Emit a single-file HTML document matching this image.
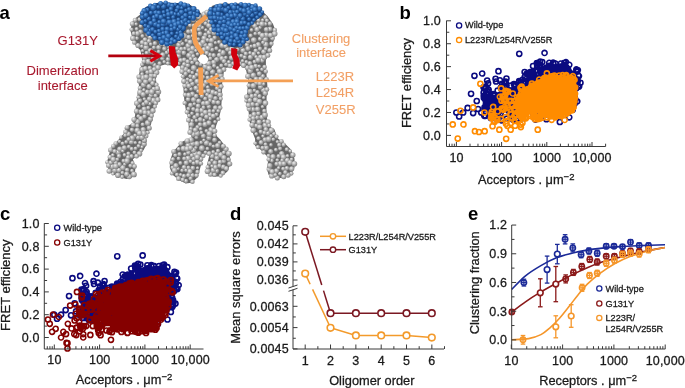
<!DOCTYPE html>
<html><head><meta charset="utf-8"><title>Figure</title>
<style>html,body{margin:0;padding:0;background:#fff;}svg{display:block;}</style>
</head><body>
<svg width="685" height="388" viewBox="0 0 685 388" font-family='"Liberation Sans", Arial, Helvetica, sans-serif'>
<rect width="685" height="388" fill="#fff"/>
<defs>
<radialGradient id="gG" cx="0.4" cy="0.35" r="0.7"><stop offset="0" stop-color="#f0f0f0"/><stop offset="0.5" stop-color="#b0b0b0"/><stop offset="1" stop-color="#767676"/></radialGradient>
<radialGradient id="gB" cx="0.4" cy="0.35" r="0.7"><stop offset="0" stop-color="#69a4e6"/><stop offset="0.5" stop-color="#2c68b0"/><stop offset="1" stop-color="#173f7a"/></radialGradient>
<filter id="soft" x="90" y="-5" width="220" height="200" filterUnits="userSpaceOnUse"><feGaussianBlur stdDeviation="0.5"/></filter>
</defs>
<g filter="url(#soft)">
<path d="M141.5 13.6 L146.1 9.2 L150.7 5.5 L160.1 3.6 L189.5 4.6 L197.0 9.3 L203.0 15.3 L208.1 10.1 L212.8 5.5 L222.1 3.6 L249.6 3.9 L261.8 10.6 L267.8 16.5 L273.0 23.9 L275.1 29.6 L274.4 38.3 L272.1 45.9 L269.0 53.4 L265.9 59.6 L265.9 66.5 L244.7 67.7 L242.7 66.5 L239.3 65.4 L234.9 65.2 L230.5 66.0 L227.2 67.7 L205.0 68.4 L197.6 68.4 L182.3 76.1 L180.3 66.5 L176.2 64.9 L171.1 65.4 L164.9 64.4 L158.8 66.2 L157.3 70.0 L142.5 64.8 L142.1 59.8 L140.4 50.2 L135.6 45.5 L132.7 39.6 L130.5 30.8 L131.9 22.3 L135.4 18.2 Z" fill="#666666"/>
<path d="M142.2 61.7 L139.7 70.9 L138.2 78.3 L139.0 86.0 L137.4 95.4 L135.9 106.2 L135.1 115.3 L133.1 123.1 L126.8 126.4 L124.5 128.1 L125.9 131.3 L118.2 139.9 L110.7 149.0 L108.5 156.3 L107.0 162.2 L108.5 170.6 L113.2 174.6 L119.0 176.8 L126.3 178.9 L131.6 177.7 L134.8 173.9 L135.5 166.9 L132.9 159.3 L137.6 155.5 L143.5 150.3 L145.5 146.3 L144.8 140.2 L148.0 133.7 L149.5 127.6 L151.0 124.5 L152.5 116.6 L155.0 107.4 L158.3 100.8 L159.8 95.2 L157.4 87.9 L155.9 79.8 L156.6 71.6 L160.9 63.2 L162.9 62.7 Z" fill="#666666"/>
<path d="M179.9 61.6 L180.5 67.4 L182.8 78.3 L183.6 90.8 L184.3 100.0 L185.9 110.6 L188.1 117.7 L188.7 125.7 L188.7 130.9 L192.0 137.5 L182.6 141.6 L177.5 146.8 L173.1 151.9 L170.6 158.7 L169.7 167.2 L172.2 174.6 L179.0 180.1 L185.6 183.4 L191.8 182.8 L197.4 177.6 L200.0 168.8 L202.0 161.6 L203.7 155.1 L209.7 153.9 L207.6 162.4 L206.1 169.2 L206.9 173.5 L212.8 176.6 L220.9 176.6 L227.3 171.8 L230.6 163.6 L229.7 155.2 L225.4 146.5 L220.2 139.6 L214.2 133.6 L216.3 125.3 L219.0 118.1 L220.5 111.7 L221.3 106.2 L222.0 95.4 L222.2 83.1 L223.9 71.7 L226.5 61.6 Z" fill="#666666"/>
<path d="M243.6 64.4 L245.8 68.8 L248.2 80.0 L247.4 91.1 L245.9 100.2 L246.6 104.6 L248.4 109.6 L249.3 119.5 L251.2 128.9 L255.1 138.7 L255.1 145.9 L260.4 149.4 L268.8 157.9 L266.8 168.1 L268.5 174.7 L275.2 178.1 L284.1 178.1 L291.1 174.6 L294.5 167.7 L294.5 158.7 L290.9 149.6 L285.4 144.1 L277.3 138.1 L274.5 129.5 L269.7 126.6 L266.9 118.0 L266.4 110.0 L266.6 97.0 L267.4 86.3 L266.6 75.6 L265.9 68.2 L262.0 61.7 Z" fill="#666666"/>
<g fill="url(#gG)"><circle cx="190.5" cy="105.2" r="2.5"/><circle cx="201.6" cy="110.4" r="2.6"/><circle cx="226.0" cy="149.1" r="2.7"/><circle cx="118.1" cy="152.2" r="2.8"/><circle cx="138.0" cy="45.5" r="2.6"/><circle cx="188.1" cy="158.4" r="2.8"/><circle cx="203.8" cy="120.4" r="1.8"/><circle cx="200.0" cy="124.5" r="2.3"/><circle cx="191.5" cy="52.3" r="2.8"/><circle cx="268.0" cy="133.1" r="2.5"/><circle cx="253.3" cy="75.3" r="2.8"/><circle cx="291.6" cy="159.3" r="1.9"/><circle cx="255.7" cy="50.7" r="2.3"/><circle cx="259.4" cy="33.4" r="2.1"/><circle cx="211.9" cy="84.1" r="2.4"/><circle cx="138.1" cy="137.6" r="2.4"/><circle cx="142.6" cy="50.7" r="1.8"/><circle cx="142.1" cy="74.1" r="2.0"/><circle cx="254.5" cy="61.8" r="2.1"/><circle cx="148.6" cy="113.0" r="2.8"/><circle cx="214.9" cy="162.9" r="2.6"/><circle cx="136.6" cy="29.0" r="2.0"/><circle cx="281.7" cy="153.7" r="2.7"/><circle cx="147.7" cy="132.5" r="2.0"/><circle cx="219.3" cy="55.2" r="2.5"/><circle cx="135.1" cy="135.4" r="1.9"/><circle cx="211.9" cy="160.3" r="1.8"/><circle cx="222.9" cy="52.7" r="2.8"/><circle cx="172.4" cy="167.5" r="2.0"/><circle cx="196.4" cy="137.3" r="2.0"/><circle cx="280.2" cy="163.8" r="2.9"/><circle cx="183.4" cy="148.6" r="2.8"/><circle cx="216.5" cy="114.5" r="2.1"/><circle cx="196.2" cy="43.3" r="2.9"/><circle cx="222.9" cy="173.0" r="2.4"/><circle cx="140.5" cy="31.9" r="2.5"/><circle cx="188.4" cy="167.6" r="2.0"/><circle cx="139.7" cy="81.0" r="2.8"/><circle cx="216.6" cy="59.5" r="2.6"/><circle cx="142.8" cy="77.8" r="2.9"/><circle cx="265.9" cy="44.6" r="2.8"/><circle cx="195.0" cy="33.6" r="2.1"/><circle cx="154.5" cy="65.0" r="2.2"/><circle cx="178.7" cy="148.9" r="2.0"/><circle cx="275.9" cy="149.8" r="2.0"/><circle cx="207.4" cy="148.7" r="1.9"/><circle cx="210.1" cy="144.4" r="2.1"/><circle cx="203.3" cy="136.0" r="2.5"/><circle cx="144.3" cy="99.0" r="1.8"/><circle cx="269.1" cy="169.3" r="2.5"/><circle cx="214.6" cy="37.8" r="2.2"/><circle cx="207.2" cy="94.6" r="2.1"/><circle cx="212.6" cy="92.3" r="2.7"/><circle cx="207.7" cy="77.8" r="2.3"/><circle cx="291.4" cy="173.6" r="2.1"/><circle cx="153.8" cy="89.0" r="2.3"/><circle cx="195.3" cy="59.6" r="2.6"/><circle cx="138.3" cy="116.2" r="1.9"/><circle cx="237.4" cy="60.6" r="2.9"/><circle cx="121.0" cy="137.4" r="1.8"/><circle cx="150.1" cy="37.2" r="2.6"/><circle cx="206.1" cy="82.1" r="2.7"/><circle cx="205.9" cy="30.0" r="1.8"/><circle cx="140.9" cy="118.7" r="2.7"/><circle cx="271.4" cy="43.7" r="2.2"/><circle cx="266.4" cy="79.3" r="2.4"/><circle cx="258.0" cy="23.7" r="1.8"/><circle cx="201.1" cy="142.5" r="1.9"/><circle cx="200.6" cy="128.9" r="2.0"/><circle cx="210.3" cy="96.8" r="2.9"/><circle cx="136.9" cy="38.3" r="2.0"/><circle cx="192.4" cy="143.8" r="2.6"/><circle cx="247.9" cy="76.2" r="2.8"/><circle cx="219.9" cy="94.8" r="2.8"/><circle cx="262.9" cy="76.3" r="2.2"/><circle cx="233.2" cy="63.5" r="2.2"/><circle cx="206.6" cy="73.2" r="2.4"/><circle cx="151.3" cy="75.5" r="2.7"/><circle cx="219.5" cy="142.7" r="1.9"/><circle cx="205.4" cy="112.4" r="2.6"/><circle cx="173.1" cy="53.7" r="2.7"/><circle cx="131.3" cy="141.9" r="2.7"/><circle cx="178.0" cy="168.7" r="1.8"/><circle cx="114.7" cy="170.2" r="2.8"/><circle cx="185.9" cy="89.8" r="1.9"/><circle cx="205.6" cy="23.4" r="2.2"/><circle cx="216.4" cy="78.9" r="2.5"/><circle cx="255.6" cy="99.8" r="2.8"/><circle cx="246.9" cy="44.8" r="2.2"/><circle cx="122.8" cy="167.8" r="2.8"/><circle cx="256.9" cy="117.5" r="2.4"/><circle cx="218.3" cy="119.0" r="2.1"/><circle cx="250.7" cy="35.7" r="2.1"/><circle cx="154.2" cy="79.9" r="2.0"/><circle cx="210.1" cy="118.6" r="1.9"/><circle cx="142.1" cy="64.6" r="2.0"/><circle cx="261.8" cy="117.3" r="2.6"/><circle cx="253.8" cy="40.1" r="2.9"/><circle cx="184.9" cy="48.5" r="2.0"/><circle cx="262.0" cy="69.4" r="1.9"/><circle cx="185.5" cy="69.4" r="2.9"/><circle cx="119.4" cy="164.5" r="2.4"/><circle cx="237.1" cy="56.2" r="2.2"/><circle cx="142.7" cy="124.5" r="2.1"/><circle cx="283.7" cy="176.7" r="2.5"/><circle cx="260.6" cy="57.3" r="2.7"/><circle cx="286.9" cy="168.2" r="2.3"/><circle cx="149.7" cy="68.0" r="2.3"/><circle cx="139.0" cy="106.0" r="1.9"/><circle cx="259.4" cy="101.6" r="2.8"/><circle cx="135.3" cy="142.7" r="1.8"/><circle cx="208.8" cy="106.7" r="2.3"/><circle cx="144.1" cy="143.9" r="2.7"/><circle cx="178.9" cy="63.5" r="1.9"/><circle cx="198.7" cy="101.0" r="2.6"/><circle cx="265.2" cy="125.3" r="2.8"/><circle cx="270.7" cy="151.5" r="2.5"/><circle cx="260.5" cy="79.3" r="2.7"/><circle cx="255.2" cy="33.7" r="1.9"/><circle cx="216.8" cy="170.9" r="2.3"/><circle cx="219.0" cy="42.1" r="2.0"/><circle cx="263.4" cy="90.1" r="2.7"/><circle cx="131.5" cy="29.5" r="2.1"/><circle cx="164.4" cy="48.8" r="2.3"/><circle cx="153.3" cy="100.5" r="2.9"/><circle cx="196.0" cy="88.1" r="2.7"/><circle cx="265.3" cy="39.2" r="2.9"/><circle cx="131.5" cy="156.4" r="2.3"/><circle cx="162.3" cy="58.4" r="2.3"/><circle cx="193.4" cy="134.4" r="2.6"/><circle cx="192.4" cy="181.8" r="2.3"/><circle cx="259.9" cy="38.9" r="2.1"/><circle cx="159.6" cy="63.4" r="2.2"/><circle cx="246.3" cy="61.9" r="2.0"/><circle cx="265.4" cy="17.3" r="2.2"/><circle cx="201.9" cy="148.2" r="2.9"/><circle cx="265.0" cy="115.0" r="2.9"/><circle cx="128.4" cy="134.1" r="2.5"/><circle cx="127.1" cy="170.0" r="2.3"/><circle cx="212.1" cy="49.7" r="2.2"/><circle cx="124.5" cy="155.0" r="1.9"/><circle cx="148.2" cy="107.8" r="2.1"/><circle cx="266.2" cy="34.9" r="2.7"/><circle cx="231.7" cy="57.8" r="2.8"/><circle cx="139.9" cy="88.0" r="2.2"/><circle cx="213.9" cy="32.7" r="2.7"/><circle cx="204.0" cy="49.6" r="2.7"/><circle cx="213.6" cy="62.4" r="2.6"/><circle cx="194.0" cy="77.3" r="2.5"/><circle cx="213.2" cy="170.2" r="2.6"/><circle cx="205.2" cy="98.7" r="2.2"/><circle cx="250.4" cy="57.3" r="2.6"/><circle cx="200.5" cy="74.6" r="2.1"/><circle cx="205.2" cy="45.0" r="2.3"/><circle cx="144.4" cy="140.4" r="2.6"/><circle cx="119.7" cy="149.0" r="2.6"/><circle cx="148.8" cy="56.3" r="2.1"/><circle cx="194.5" cy="38.8" r="2.8"/><circle cx="144.6" cy="57.7" r="2.5"/><circle cx="188.1" cy="99.3" r="2.4"/><circle cx="251.1" cy="46.2" r="1.8"/><circle cx="155.8" cy="103.0" r="2.4"/><circle cx="176.9" cy="174.7" r="2.1"/><circle cx="200.0" cy="33.8" r="2.5"/><circle cx="201.1" cy="158.9" r="2.3"/><circle cx="188.1" cy="145.3" r="2.7"/><circle cx="147.2" cy="92.0" r="2.5"/><circle cx="144.2" cy="109.1" r="2.7"/><circle cx="186.9" cy="83.0" r="2.2"/><circle cx="213.8" cy="102.1" r="2.5"/><circle cx="258.3" cy="44.7" r="2.6"/><circle cx="152.9" cy="110.7" r="2.7"/><circle cx="132.0" cy="129.8" r="2.2"/><circle cx="266.2" cy="147.9" r="2.7"/><circle cx="191.1" cy="140.0" r="2.8"/><circle cx="178.6" cy="56.0" r="2.6"/><circle cx="146.0" cy="47.6" r="2.9"/><circle cx="210.4" cy="45.4" r="2.9"/><circle cx="192.3" cy="175.3" r="2.4"/><circle cx="172.8" cy="63.4" r="2.4"/><circle cx="178.6" cy="158.5" r="2.0"/><circle cx="136.7" cy="103.3" r="2.7"/><circle cx="132.8" cy="38.3" r="2.8"/><circle cx="272.5" cy="38.5" r="2.3"/><circle cx="243.0" cy="50.5" r="2.6"/><circle cx="178.8" cy="44.8" r="2.6"/><circle cx="208.8" cy="25.6" r="2.6"/><circle cx="213.2" cy="152.0" r="2.0"/><circle cx="143.2" cy="129.6" r="2.7"/><circle cx="185.5" cy="73.8" r="2.4"/><circle cx="133.3" cy="125.1" r="2.5"/><circle cx="217.2" cy="88.2" r="2.3"/><circle cx="212.2" cy="156.2" r="2.5"/><circle cx="292.8" cy="155.0" r="2.7"/><circle cx="198.1" cy="106.0" r="2.5"/><circle cx="249.8" cy="100.4" r="2.6"/><circle cx="254.4" cy="90.4" r="1.8"/><circle cx="132.5" cy="162.9" r="2.0"/><circle cx="150.8" cy="95.4" r="2.3"/><circle cx="259.3" cy="73.7" r="2.5"/><circle cx="268.5" cy="155.8" r="2.0"/><circle cx="208.5" cy="90.8" r="2.6"/><circle cx="174.7" cy="58.1" r="2.5"/><circle cx="260.0" cy="27.6" r="1.8"/><circle cx="135.0" cy="20.1" r="2.3"/><circle cx="197.7" cy="22.6" r="2.0"/><circle cx="173.2" cy="48.8" r="1.9"/><circle cx="205.5" cy="152.3" r="1.9"/><circle cx="258.5" cy="138.3" r="2.1"/><circle cx="265.5" cy="144.3" r="2.0"/><circle cx="241.1" cy="47.1" r="2.0"/><circle cx="215.4" cy="42.7" r="1.8"/><circle cx="180.7" cy="60.4" r="2.3"/><circle cx="186.0" cy="181.0" r="2.2"/><circle cx="223.3" cy="166.9" r="2.5"/><circle cx="220.1" cy="107.7" r="2.4"/><circle cx="180.4" cy="163.1" r="2.1"/><circle cx="268.0" cy="122.1" r="2.8"/><circle cx="287.5" cy="155.9" r="1.8"/><circle cx="259.5" cy="96.2" r="2.2"/><circle cx="274.0" cy="133.8" r="2.1"/><circle cx="257.4" cy="92.3" r="2.3"/><circle cx="271.0" cy="144.9" r="1.9"/><circle cx="273.0" cy="156.8" r="2.7"/><circle cx="167.9" cy="59.3" r="2.2"/><circle cx="136.1" cy="24.1" r="1.8"/><circle cx="247.3" cy="67.7" r="2.5"/><circle cx="184.9" cy="154.2" r="1.9"/><circle cx="183.8" cy="52.9" r="2.4"/><circle cx="184.1" cy="64.2" r="2.2"/><circle cx="218.1" cy="102.6" r="2.4"/><circle cx="193.8" cy="68.0" r="2.9"/><circle cx="141.9" cy="69.5" r="2.7"/><circle cx="202.4" cy="55.3" r="2.3"/><circle cx="143.5" cy="84.9" r="2.7"/><circle cx="270.0" cy="29.1" r="2.5"/><circle cx="228.6" cy="159.4" r="2.2"/><circle cx="122.3" cy="172.7" r="2.0"/><circle cx="247.9" cy="48.6" r="2.5"/><circle cx="109.9" cy="157.1" r="2.4"/><circle cx="249.9" cy="91.6" r="2.9"/><circle cx="150.4" cy="50.8" r="2.9"/><circle cx="210.4" cy="174.3" r="2.5"/><circle cx="256.3" cy="82.8" r="2.2"/><circle cx="250.3" cy="71.0" r="2.8"/><circle cx="124.7" cy="164.3" r="1.8"/><circle cx="112.8" cy="155.1" r="1.9"/><circle cx="139.9" cy="100.6" r="2.4"/><circle cx="253.0" cy="109.5" r="2.5"/><circle cx="279.9" cy="173.7" r="2.0"/><circle cx="158.6" cy="47.5" r="2.5"/><circle cx="154.5" cy="53.6" r="2.8"/><circle cx="155.5" cy="95.7" r="2.2"/><circle cx="274.8" cy="30.1" r="2.3"/><circle cx="271.9" cy="160.7" r="2.0"/><circle cx="122.1" cy="176.8" r="2.1"/><circle cx="204.2" cy="14.5" r="2.9"/><circle cx="205.4" cy="34.7" r="2.2"/><circle cx="205.3" cy="66.6" r="2.9"/><circle cx="271.7" cy="175.8" r="2.8"/><circle cx="265.9" cy="129.4" r="2.5"/><circle cx="205.2" cy="63.1" r="2.1"/><circle cx="147.7" cy="123.0" r="2.9"/><circle cx="115.7" cy="143.5" r="2.3"/><circle cx="148.9" cy="41.0" r="2.3"/><circle cx="257.9" cy="147.1" r="2.2"/><circle cx="195.2" cy="153.8" r="2.9"/><circle cx="127.1" cy="127.5" r="2.3"/><circle cx="276.5" cy="136.6" r="2.1"/><circle cx="213.7" cy="55.4" r="2.3"/><circle cx="192.0" cy="113.4" r="1.9"/><circle cx="223.8" cy="69.4" r="2.5"/><circle cx="194.6" cy="117.3" r="2.3"/><circle cx="192.1" cy="62.5" r="2.1"/><circle cx="287.2" cy="160.4" r="2.7"/><circle cx="202.8" cy="71.2" r="2.7"/><circle cx="196.4" cy="120.6" r="1.8"/><circle cx="200.8" cy="80.1" r="2.4"/><circle cx="200.6" cy="64.4" r="2.1"/><circle cx="137.2" cy="130.5" r="2.8"/><circle cx="137.5" cy="121.8" r="2.7"/><circle cx="166.7" cy="52.5" r="2.1"/><circle cx="204.5" cy="91.7" r="2.1"/><circle cx="107.1" cy="162.2" r="2.0"/><circle cx="148.3" cy="61.6" r="2.9"/><circle cx="182.9" cy="76.5" r="2.1"/><circle cx="252.5" cy="104.4" r="2.5"/><circle cx="253.4" cy="121.8" r="2.3"/><circle cx="214.6" cy="139.9" r="2.5"/><circle cx="193.7" cy="19.9" r="2.5"/><circle cx="197.3" cy="110.5" r="2.6"/><circle cx="191.0" cy="89.0" r="1.9"/><circle cx="249.3" cy="108.8" r="2.6"/><circle cx="154.9" cy="106.6" r="2.1"/><circle cx="221.2" cy="86.5" r="2.4"/><circle cx="265.7" cy="71.5" r="2.2"/><circle cx="239.9" cy="63.4" r="2.1"/><circle cx="188.4" cy="152.7" r="2.4"/><circle cx="144.5" cy="116.5" r="2.3"/><circle cx="276.5" cy="164.0" r="2.2"/><circle cx="145.3" cy="68.5" r="2.6"/><circle cx="220.0" cy="162.1" r="2.4"/><circle cx="277.4" cy="141.8" r="1.8"/><circle cx="200.8" cy="88.1" r="2.1"/><circle cx="248.9" cy="85.5" r="2.3"/><circle cx="283.4" cy="157.1" r="2.8"/><circle cx="208.7" cy="63.3" r="2.8"/><circle cx="227.4" cy="49.3" r="2.4"/><circle cx="262.9" cy="136.1" r="1.8"/><circle cx="212.6" cy="72.0" r="2.7"/><circle cx="115.6" cy="162.6" r="2.3"/><circle cx="193.6" cy="158.7" r="2.4"/><circle cx="291.7" cy="168.8" r="2.6"/><circle cx="215.4" cy="167.3" r="2.5"/><circle cx="184.2" cy="59.7" r="2.3"/><circle cx="220.7" cy="154.9" r="2.8"/><circle cx="201.9" cy="96.0" r="2.2"/><circle cx="196.8" cy="74.8" r="2.2"/><circle cx="188.9" cy="55.5" r="2.7"/><circle cx="128.8" cy="146.7" r="2.0"/><circle cx="280.1" cy="148.6" r="2.1"/><circle cx="290.0" cy="162.6" r="2.7"/><circle cx="149.8" cy="103.8" r="1.9"/><circle cx="265.3" cy="93.3" r="2.7"/><circle cx="254.0" cy="114.4" r="2.6"/><circle cx="258.4" cy="113.4" r="2.3"/><circle cx="171.9" cy="173.4" r="2.1"/><circle cx="204.1" cy="38.2" r="2.7"/><circle cx="192.5" cy="48.4" r="2.8"/><circle cx="191.0" cy="128.8" r="2.0"/><circle cx="146.2" cy="136.1" r="2.3"/><circle cx="198.3" cy="71.0" r="2.4"/><circle cx="159.3" cy="56.0" r="2.3"/><circle cx="257.1" cy="104.6" r="2.2"/><circle cx="250.4" cy="115.9" r="2.0"/><circle cx="187.0" cy="112.1" r="2.4"/><circle cx="288.0" cy="175.1" r="2.7"/><circle cx="192.0" cy="120.9" r="1.9"/><circle cx="221.3" cy="65.7" r="2.1"/><circle cx="141.9" cy="137.4" r="2.7"/><circle cx="205.0" cy="124.5" r="2.7"/><circle cx="142.3" cy="42.5" r="2.5"/><circle cx="197.6" cy="168.0" r="1.8"/><circle cx="260.5" cy="86.9" r="2.6"/><circle cx="179.0" cy="51.6" r="2.9"/><circle cx="158.3" cy="91.8" r="2.9"/><circle cx="207.0" cy="12.3" r="2.6"/><circle cx="273.3" cy="139.3" r="1.9"/><circle cx="112.1" cy="166.7" r="2.7"/><circle cx="206.5" cy="19.3" r="2.0"/><circle cx="108.5" cy="165.5" r="2.5"/><circle cx="269.8" cy="165.7" r="2.8"/><circle cx="186.2" cy="162.9" r="2.6"/><circle cx="211.8" cy="76.9" r="1.9"/><circle cx="216.4" cy="48.4" r="2.1"/><circle cx="222.1" cy="45.5" r="2.8"/><circle cx="220.7" cy="175.8" r="2.0"/><circle cx="277.3" cy="178.0" r="2.5"/><circle cx="203.7" cy="85.4" r="2.3"/><circle cx="135.6" cy="148.4" r="2.0"/><circle cx="253.6" cy="54.2" r="2.5"/><circle cx="194.3" cy="103.9" r="1.8"/><circle cx="219.8" cy="51.0" r="1.9"/><circle cx="209.5" cy="163.1" r="2.2"/><circle cx="197.5" cy="54.1" r="1.9"/><circle cx="187.5" cy="79.3" r="1.9"/><circle cx="215.5" cy="98.3" r="2.4"/><circle cx="263.7" cy="51.8" r="2.6"/><circle cx="140.0" cy="92.4" r="2.8"/><circle cx="202.4" cy="27.7" r="1.9"/><circle cx="219.5" cy="81.0" r="2.3"/><circle cx="220.7" cy="98.7" r="2.1"/><circle cx="199.2" cy="153.6" r="2.5"/><circle cx="183.9" cy="176.1" r="2.3"/><circle cx="274.7" cy="33.8" r="2.8"/><circle cx="182.7" cy="179.7" r="2.2"/><circle cx="251.6" cy="30.0" r="1.9"/><circle cx="208.9" cy="137.8" r="2.6"/><circle cx="122.6" cy="143.4" r="2.0"/><circle cx="192.0" cy="31.2" r="2.5"/><circle cx="184.7" cy="85.8" r="2.4"/><circle cx="132.2" cy="138.0" r="2.8"/><circle cx="192.4" cy="83.9" r="2.4"/><circle cx="140.8" cy="111.7" r="2.5"/><circle cx="255.4" cy="95.3" r="2.1"/><circle cx="217.0" cy="75.1" r="2.4"/><circle cx="207.6" cy="40.0" r="2.1"/><circle cx="137.4" cy="33.5" r="2.6"/><circle cx="255.6" cy="66.2" r="2.4"/><circle cx="210.0" cy="100.4" r="1.9"/><circle cx="173.0" cy="159.2" r="2.1"/><circle cx="156.4" cy="84.7" r="2.2"/><circle cx="208.9" cy="122.9" r="2.6"/><circle cx="142.4" cy="36.1" r="2.0"/><circle cx="197.3" cy="162.2" r="2.6"/><circle cx="209.0" cy="32.6" r="2.5"/><circle cx="256.2" cy="134.0" r="1.9"/><circle cx="138.9" cy="76.7" r="2.5"/><circle cx="282.1" cy="160.3" r="1.9"/><circle cx="182.1" cy="170.4" r="1.9"/><circle cx="269.7" cy="50.5" r="2.5"/><circle cx="226.0" cy="64.4" r="2.1"/><circle cx="193.5" cy="150.3" r="2.8"/><circle cx="256.3" cy="125.7" r="2.3"/><circle cx="214.6" cy="174.8" r="2.2"/><circle cx="259.2" cy="122.2" r="2.7"/><circle cx="263.7" cy="97.8" r="1.8"/><circle cx="266.4" cy="29.6" r="2.6"/><circle cx="132.0" cy="170.7" r="1.9"/><circle cx="182.4" cy="43.8" r="2.0"/><circle cx="211.1" cy="129.8" r="2.8"/><circle cx="200.3" cy="119.6" r="2.5"/><circle cx="203.2" cy="77.0" r="2.0"/><circle cx="215.0" cy="121.8" r="1.9"/><circle cx="207.6" cy="171.2" r="2.9"/><circle cx="223.3" cy="146.2" r="2.5"/><circle cx="150.3" cy="119.2" r="2.7"/><circle cx="188.4" cy="108.8" r="2.0"/><circle cx="215.4" cy="107.8" r="2.5"/><circle cx="185.0" cy="94.8" r="2.2"/><circle cx="265.7" cy="48.8" r="2.1"/><circle cx="189.0" cy="49.5" r="2.2"/><circle cx="119.0" cy="170.2" r="2.5"/><circle cx="209.9" cy="54.8" r="2.2"/><circle cx="244.7" cy="57.2" r="2.2"/><circle cx="237.7" cy="49.5" r="2.0"/><circle cx="231.6" cy="49.2" r="2.7"/><circle cx="230.0" cy="65.7" r="2.5"/><circle cx="175.9" cy="165.8" r="2.7"/><circle cx="119.0" cy="156.1" r="2.3"/><circle cx="150.3" cy="79.8" r="2.7"/><circle cx="184.1" cy="167.3" r="2.4"/><circle cx="276.5" cy="170.8" r="2.5"/><circle cx="156.4" cy="58.2" r="2.4"/><circle cx="162.7" cy="54.9" r="2.6"/><circle cx="268.7" cy="159.4" r="2.2"/><circle cx="164.2" cy="61.9" r="1.9"/><circle cx="195.9" cy="147.5" r="1.8"/><circle cx="126.2" cy="141.9" r="2.0"/><circle cx="262.7" cy="20.1" r="1.8"/><circle cx="151.8" cy="91.9" r="2.8"/><circle cx="154.9" cy="43.4" r="2.3"/><circle cx="201.8" cy="21.0" r="2.6"/><circle cx="142.0" cy="147.0" r="1.8"/><circle cx="267.0" cy="89.4" r="2.3"/><circle cx="169.8" cy="50.6" r="2.8"/><circle cx="192.4" cy="94.1" r="2.5"/><circle cx="253.2" cy="118.3" r="2.3"/><circle cx="264.6" cy="67.0" r="2.3"/><circle cx="158.6" cy="51.6" r="1.9"/><circle cx="152.6" cy="57.5" r="2.0"/><circle cx="263.0" cy="42.4" r="2.0"/><circle cx="262.5" cy="147.9" r="2.2"/><circle cx="209.6" cy="111.2" r="2.2"/><circle cx="253.3" cy="130.2" r="2.8"/><circle cx="134.5" cy="152.5" r="2.0"/><circle cx="147.3" cy="72.3" r="2.1"/><circle cx="143.5" cy="104.2" r="2.1"/><circle cx="198.1" cy="91.2" r="2.0"/><circle cx="283.2" cy="168.8" r="2.1"/><circle cx="189.0" cy="71.2" r="2.1"/><circle cx="198.9" cy="84.7" r="2.3"/><circle cx="112.9" cy="173.8" r="1.8"/><circle cx="262.4" cy="35.6" r="2.8"/><circle cx="193.3" cy="109.1" r="2.2"/><circle cx="206.5" cy="143.0" r="2.8"/><circle cx="193.6" cy="99.7" r="2.6"/><circle cx="221.8" cy="58.5" r="2.5"/><circle cx="248.2" cy="41.5" r="2.3"/><circle cx="158.0" cy="67.6" r="2.8"/><circle cx="117.3" cy="159.4" r="1.9"/><circle cx="226.4" cy="168.6" r="2.5"/><circle cx="130.4" cy="165.8" r="2.1"/><circle cx="203.4" cy="103.4" r="2.5"/><circle cx="198.9" cy="16.9" r="2.6"/><circle cx="213.5" cy="111.0" r="2.0"/><circle cx="153.9" cy="47.5" r="2.0"/><circle cx="213.4" cy="146.3" r="1.8"/><circle cx="216.6" cy="84.0" r="2.1"/><circle cx="256.1" cy="56.9" r="1.9"/><circle cx="209.7" cy="114.8" r="2.2"/><circle cx="197.1" cy="133.5" r="2.9"/><circle cx="193.8" cy="25.6" r="2.2"/><circle cx="123.5" cy="160.9" r="2.1"/><circle cx="285.4" cy="172.4" r="2.3"/><circle cx="286.8" cy="149.4" r="2.1"/><circle cx="149.2" cy="128.0" r="2.6"/><circle cx="229.7" cy="163.8" r="2.6"/><circle cx="169.5" cy="55.9" r="2.0"/><circle cx="250.3" cy="80.1" r="2.1"/><circle cx="256.1" cy="79.1" r="2.5"/><circle cx="253.3" cy="85.7" r="2.8"/><circle cx="283.9" cy="163.7" r="2.5"/><circle cx="187.8" cy="65.3" r="2.3"/><circle cx="200.2" cy="44.7" r="2.9"/><circle cx="259.2" cy="66.2" r="1.8"/><circle cx="246.2" cy="100.7" r="1.9"/><circle cx="129.2" cy="176.6" r="2.7"/><circle cx="134.3" cy="42.5" r="2.3"/><circle cx="192.3" cy="35.9" r="1.8"/><circle cx="196.2" cy="96.2" r="2.4"/><circle cx="143.6" cy="133.5" r="2.9"/><circle cx="171.5" cy="162.8" r="2.4"/><circle cx="198.9" cy="29.4" r="2.2"/><circle cx="217.7" cy="68.0" r="1.9"/><circle cx="264.1" cy="121.2" r="1.9"/><circle cx="271.4" cy="130.3" r="2.8"/><circle cx="223.8" cy="161.2" r="2.3"/><circle cx="189.9" cy="171.6" r="2.8"/><circle cx="192.3" cy="72.7" r="1.9"/><circle cx="202.1" cy="114.9" r="2.1"/><circle cx="190.5" cy="161.3" r="1.9"/><circle cx="184.3" cy="158.6" r="2.2"/><circle cx="198.3" cy="39.1" r="1.9"/><circle cx="177.1" cy="48.6" r="2.1"/><circle cx="264.3" cy="110.9" r="2.2"/><circle cx="190.6" cy="178.4" r="2.1"/><circle cx="257.5" cy="70.1" r="1.9"/><circle cx="262.5" cy="106.7" r="1.8"/><circle cx="228.8" cy="153.6" r="2.9"/><circle cx="206.4" cy="131.0" r="2.0"/><circle cx="230.3" cy="52.9" r="2.4"/><circle cx="128.7" cy="139.3" r="2.2"/><circle cx="134.5" cy="166.5" r="2.4"/><circle cx="263.6" cy="84.0" r="1.9"/><circle cx="214.7" cy="135.3" r="2.1"/><circle cx="225.8" cy="57.6" r="1.9"/><circle cx="269.9" cy="23.7" r="2.4"/><circle cx="139.5" cy="133.3" r="2.8"/><circle cx="110.5" cy="149.9" r="2.5"/><circle cx="188.1" cy="45.8" r="2.7"/><circle cx="161.0" cy="44.2" r="2.0"/><circle cx="258.5" cy="53.1" r="1.8"/><circle cx="192.8" cy="168.1" r="2.4"/><circle cx="197.5" cy="115.0" r="2.3"/><circle cx="180.8" cy="143.6" r="2.4"/><circle cx="260.8" cy="131.7" r="2.2"/><circle cx="216.8" cy="158.1" r="2.5"/><circle cx="270.5" cy="35.3" r="2.6"/><circle cx="184.3" cy="35.9" r="2.8"/><circle cx="175.3" cy="155.3" r="2.1"/><circle cx="187.7" cy="61.6" r="2.3"/><circle cx="187.3" cy="140.9" r="2.7"/><circle cx="138.4" cy="97.2" r="2.0"/><circle cx="141.1" cy="150.4" r="1.9"/><circle cx="190.7" cy="58.9" r="2.1"/><circle cx="186.3" cy="40.7" r="1.9"/><circle cx="183.8" cy="81.2" r="2.6"/><circle cx="151.0" cy="71.6" r="2.7"/><circle cx="197.4" cy="127.2" r="2.1"/><circle cx="206.9" cy="59.9" r="1.9"/><circle cx="140.6" cy="26.2" r="1.9"/><circle cx="139.5" cy="19.3" r="2.1"/><circle cx="277.3" cy="160.1" r="1.9"/><circle cx="188.3" cy="31.6" r="2.3"/><circle cx="261.1" cy="142.5" r="2.4"/><circle cx="200.1" cy="50.6" r="2.1"/><circle cx="122.8" cy="150.9" r="1.9"/><circle cx="220.7" cy="75.5" r="2.6"/><circle cx="271.1" cy="136.0" r="1.9"/><circle cx="223.9" cy="152.4" r="2.0"/><circle cx="128.4" cy="153.6" r="2.1"/><circle cx="283.6" cy="144.8" r="2.2"/><circle cx="143.9" cy="89.9" r="1.9"/><circle cx="213.1" cy="126.5" r="2.3"/><circle cx="214.1" cy="65.9" r="2.1"/><circle cx="151.8" cy="62.2" r="2.6"/><circle cx="179.8" cy="41.3" r="2.4"/><circle cx="265.4" cy="103.1" r="2.8"/><circle cx="254.7" cy="25.8" r="2.5"/><circle cx="126.7" cy="174.2" r="2.6"/><circle cx="262.2" cy="60.5" r="2.4"/><circle cx="182.4" cy="67.4" r="2.3"/><circle cx="149.1" cy="86.6" r="2.7"/><circle cx="265.0" cy="139.7" r="2.5"/><circle cx="209.2" cy="68.3" r="2.9"/><circle cx="136.5" cy="111.2" r="2.6"/><circle cx="124.3" cy="147.8" r="2.6"/><circle cx="131.7" cy="148.9" r="2.1"/><circle cx="197.1" cy="81.5" r="2.7"/><circle cx="133.8" cy="33.5" r="2.2"/><circle cx="207.7" cy="87.2" r="1.9"/><circle cx="250.0" cy="52.9" r="1.9"/><circle cx="168.4" cy="46.5" r="2.0"/><circle cx="193.3" cy="56.2" r="2.1"/><circle cx="173.7" cy="151.4" r="2.5"/><circle cx="138.6" cy="146.0" r="2.1"/><circle cx="265.5" cy="24.0" r="1.9"/><circle cx="252.0" cy="125.0" r="2.6"/><circle cx="125.5" cy="131.9" r="2.4"/><circle cx="195.8" cy="50.6" r="1.8"/><circle cx="150.7" cy="44.2" r="1.9"/><circle cx="139.9" cy="142.7" r="1.9"/><circle cx="196.5" cy="175.5" r="2.2"/><circle cx="191.5" cy="124.6" r="2.7"/><circle cx="264.3" cy="57.2" r="2.8"/><circle cx="188.5" cy="120.1" r="2.5"/><circle cx="137.3" cy="125.9" r="2.1"/><circle cx="263.6" cy="152.2" r="2.3"/><circle cx="219.4" cy="165.8" r="2.2"/><circle cx="197.2" cy="63.5" r="2.2"/><circle cx="278.6" cy="167.9" r="1.8"/><circle cx="254.7" cy="45.9" r="2.4"/><circle cx="203.0" cy="42.1" r="2.7"/><circle cx="157.8" cy="99.7" r="2.6"/><circle cx="255.3" cy="143.3" r="1.9"/><circle cx="152.6" cy="83.3" r="2.4"/><circle cx="218.2" cy="111.0" r="2.0"/><circle cx="146.5" cy="102.2" r="2.6"/><circle cx="188.3" cy="175.3" r="2.3"/><circle cx="187.1" cy="148.8" r="2.8"/><circle cx="259.7" cy="127.1" r="2.7"/><circle cx="242.6" cy="60.9" r="1.9"/><circle cx="278.6" cy="156.2" r="2.1"/><circle cx="117.9" cy="175.2" r="2.8"/><circle cx="281.4" cy="141.3" r="2.3"/><circle cx="151.7" cy="115.6" r="2.3"/><circle cx="184.8" cy="103.0" r="2.3"/><circle cx="257.0" cy="29.4" r="2.6"/><circle cx="156.5" cy="72.5" r="2.8"/><circle cx="224.1" cy="61.3" r="2.4"/><circle cx="209.3" cy="133.9" r="2.9"/><circle cx="267.8" cy="55.3" r="2.5"/><circle cx="125.1" cy="135.4" r="1.9"/><circle cx="145.6" cy="81.8" r="2.7"/><circle cx="206.7" cy="53.0" r="2.3"/><circle cx="186.0" cy="170.3" r="1.9"/><circle cx="268.7" cy="139.2" r="2.9"/><circle cx="142.9" cy="54.7" r="1.8"/><circle cx="154.2" cy="69.4" r="2.4"/><circle cx="143.9" cy="61.5" r="2.3"/><circle cx="196.9" cy="143.8" r="2.8"/><circle cx="197.4" cy="171.9" r="2.2"/><circle cx="241.3" cy="55.7" r="2.0"/><circle cx="167.9" cy="63.3" r="2.1"/><circle cx="203.5" cy="107.5" r="2.0"/><circle cx="249.9" cy="63.4" r="2.4"/><circle cx="200.9" cy="163.4" r="2.2"/><circle cx="211.3" cy="29.5" r="2.6"/><circle cx="269.1" cy="125.5" r="2.1"/><circle cx="114.6" cy="151.3" r="2.2"/><circle cx="219.6" cy="90.8" r="2.1"/><circle cx="133.9" cy="174.4" r="2.9"/><circle cx="272.1" cy="171.7" r="2.7"/><circle cx="109.2" cy="171.1" r="2.7"/><circle cx="206.5" cy="116.9" r="2.5"/><circle cx="146.7" cy="53.0" r="2.2"/><circle cx="190.3" cy="76.2" r="2.0"/><circle cx="207.3" cy="103.1" r="2.7"/><circle cx="128.1" cy="157.3" r="2.3"/><circle cx="180.6" cy="174.7" r="1.8"/><circle cx="228.9" cy="62.1" r="2.0"/><circle cx="147.2" cy="34.9" r="1.9"/><circle cx="246.7" cy="96.8" r="2.6"/><circle cx="234.3" cy="52.0" r="2.8"/><circle cx="189.0" cy="115.7" r="2.0"/><circle cx="146.3" cy="76.9" r="2.7"/><circle cx="245.8" cy="53.7" r="2.2"/><circle cx="143.2" cy="94.5" r="2.6"/><circle cx="190.2" cy="42.3" r="2.7"/><circle cx="209.2" cy="153.6" r="2.5"/><circle cx="223.9" cy="157.7" r="2.7"/><circle cx="218.0" cy="150.9" r="2.2"/><circle cx="209.6" cy="36.5" r="1.8"/><circle cx="145.0" cy="39.6" r="2.4"/><circle cx="251.7" cy="96.2" r="2.4"/><circle cx="200.5" cy="58.8" r="2.0"/><circle cx="279.2" cy="145.0" r="2.2"/><circle cx="266.9" cy="20.5" r="2.1"/><circle cx="119.4" cy="141.5" r="1.8"/><circle cx="179.5" cy="154.2" r="2.1"/><circle cx="260.0" cy="48.7" r="2.2"/><circle cx="110.8" cy="162.6" r="2.3"/><circle cx="195.3" cy="130.0" r="2.6"/><circle cx="154.9" cy="75.7" r="2.2"/><circle cx="115.7" cy="166.3" r="2.9"/><circle cx="248.5" cy="105.3" r="2.7"/><circle cx="139.5" cy="153.7" r="2.8"/><circle cx="217.6" cy="145.7" r="2.6"/><circle cx="149.3" cy="98.9" r="2.5"/><circle cx="222.3" cy="78.9" r="2.4"/><circle cx="188.8" cy="95.1" r="2.7"/><circle cx="216.3" cy="154.1" r="2.2"/><circle cx="190.6" cy="147.9" r="2.5"/><circle cx="181.9" cy="71.6" r="2.5"/><circle cx="145.9" cy="43.8" r="2.4"/><circle cx="258.6" cy="20.2" r="2.1"/><circle cx="201.4" cy="132.7" r="1.9"/><circle cx="212.0" cy="166.1" r="1.9"/><circle cx="181.2" cy="48.9" r="2.2"/><circle cx="225.5" cy="46.1" r="2.4"/><circle cx="157.4" cy="88.4" r="2.6"/><circle cx="211.5" cy="40.4" r="2.6"/><circle cx="264.4" cy="132.9" r="2.1"/><circle cx="294.4" cy="163.7" r="2.8"/><circle cx="249.5" cy="119.7" r="2.1"/><circle cx="134.0" cy="119.5" r="2.6"/><circle cx="141.8" cy="46.3" r="1.9"/><circle cx="214.7" cy="131.0" r="2.6"/><circle cx="210.1" cy="80.8" r="2.5"/><circle cx="127.0" cy="161.0" r="2.9"/><circle cx="197.3" cy="157.2" r="2.8"/><circle cx="213.3" cy="116.0" r="2.6"/><circle cx="208.0" cy="48.2" r="2.7"/><circle cx="257.5" cy="109.2" r="2.6"/><circle cx="178.5" cy="178.6" r="2.5"/><circle cx="210.4" cy="58.5" r="2.0"/><circle cx="188.7" cy="37.2" r="2.4"/><circle cx="174.5" cy="170.4" r="2.8"/><circle cx="190.8" cy="80.6" r="2.1"/><circle cx="219.7" cy="71.4" r="2.9"/><circle cx="136.5" cy="156.2" r="2.4"/><circle cx="113.2" cy="146.2" r="2.2"/><circle cx="203.9" cy="140.2" r="1.8"/><circle cx="203.3" cy="155.7" r="2.2"/><circle cx="190.0" cy="25.3" r="2.0"/><circle cx="145.0" cy="112.6" r="2.5"/><circle cx="251.7" cy="67.5" r="2.8"/><circle cx="261.9" cy="24.0" r="2.8"/><circle cx="132.3" cy="23.8" r="2.5"/><circle cx="216.0" cy="93.1" r="2.2"/><circle cx="290.2" cy="151.1" r="1.9"/><circle cx="197.3" cy="46.8" r="2.6"/><circle cx="199.4" cy="25.7" r="2.4"/><circle cx="190.0" cy="132.2" r="2.6"/><circle cx="207.7" cy="167.1" r="2.2"/><circle cx="113.3" cy="159.5" r="2.8"/><circle cx="164.7" cy="45.3" r="2.0"/><circle cx="209.4" cy="21.5" r="2.1"/><circle cx="191.8" cy="155.4" r="2.1"/><circle cx="188.9" cy="85.9" r="2.5"/><circle cx="258.1" cy="60.1" r="2.8"/><circle cx="193.6" cy="163.2" r="2.0"/><circle cx="259.8" cy="83.5" r="2.5"/><circle cx="243.5" cy="65.3" r="2.6"/><circle cx="275.3" cy="174.9" r="2.0"/></g>
<path d="M146.7 6.4 L156.2 3.1 L163.6 2.4 L176.0 3.1 L182.8 2.9 L188.6 4.1 L194.8 9.0 L199.9 12.7 L200.6 13.7 L196.2 16.1 L191.1 19.2 L186.6 26.2 L182.6 33.9 L178.7 40.0 L175.2 43.5 L167.8 44.7 L160.2 42.1 L153.9 37.7 L148.4 33.5 L143.9 28.1 L142.0 24.0 L140.9 17.9 L141.2 11.5 L143.1 8.7 Z" fill="#173f7a"/>
<path d="M210.0 9.1 L212.9 6.4 L217.2 4.6 L237.2 3.6 L250.3 3.9 L256.8 5.4 L261.6 10.3 L264.0 14.0 L260.0 17.2 L254.6 21.2 L249.2 26.0 L246.7 30.3 L247.7 38.3 L244.3 42.7 L238.7 46.4 L231.5 46.9 L221.9 40.3 L214.1 29.9 L211.0 20.5 L209.0 13.0 Z" fill="#173f7a"/>
<g fill="url(#gB)"><circle cx="228.3" cy="7.8" r="2.0"/><circle cx="231.7" cy="33.1" r="2.5"/><circle cx="155.3" cy="24.2" r="2.7"/><circle cx="182.2" cy="22.3" r="2.8"/><circle cx="150.8" cy="23.3" r="2.6"/><circle cx="153.9" cy="17.2" r="2.3"/><circle cx="222.0" cy="9.0" r="2.3"/><circle cx="218.4" cy="26.2" r="2.4"/><circle cx="184.9" cy="20.0" r="2.8"/><circle cx="231.6" cy="37.1" r="2.2"/><circle cx="150.9" cy="12.9" r="2.2"/><circle cx="166.1" cy="23.5" r="2.5"/><circle cx="149.4" cy="30.2" r="2.9"/><circle cx="159.9" cy="38.3" r="2.1"/><circle cx="164.2" cy="15.5" r="1.9"/><circle cx="186.0" cy="10.4" r="2.0"/><circle cx="242.9" cy="18.8" r="2.5"/><circle cx="167.1" cy="29.0" r="2.5"/><circle cx="233.7" cy="11.8" r="2.1"/><circle cx="174.9" cy="14.0" r="2.1"/><circle cx="193.8" cy="13.3" r="2.5"/><circle cx="241.5" cy="23.0" r="2.5"/><circle cx="245.5" cy="31.9" r="2.6"/><circle cx="238.0" cy="31.0" r="2.6"/><circle cx="188.1" cy="5.4" r="2.0"/><circle cx="152.5" cy="29.4" r="2.4"/><circle cx="233.1" cy="21.7" r="2.7"/><circle cx="169.4" cy="22.4" r="2.9"/><circle cx="154.9" cy="5.0" r="2.2"/><circle cx="178.7" cy="38.3" r="2.8"/><circle cx="241.3" cy="36.3" r="2.5"/><circle cx="228.4" cy="18.8" r="2.8"/><circle cx="168.4" cy="18.0" r="2.1"/><circle cx="185.4" cy="15.4" r="2.6"/><circle cx="237.5" cy="17.7" r="2.7"/><circle cx="178.0" cy="7.5" r="2.4"/><circle cx="247.5" cy="15.7" r="2.0"/><circle cx="152.6" cy="35.3" r="2.1"/><circle cx="244.8" cy="22.7" r="2.1"/><circle cx="221.5" cy="14.5" r="2.0"/><circle cx="188.9" cy="22.0" r="2.1"/><circle cx="248.0" cy="9.3" r="2.5"/><circle cx="176.5" cy="10.5" r="2.0"/><circle cx="160.8" cy="17.2" r="2.7"/><circle cx="247.1" cy="27.8" r="2.6"/><circle cx="224.0" cy="25.7" r="2.7"/><circle cx="223.8" cy="21.4" r="2.7"/><circle cx="235.1" cy="15.3" r="2.6"/><circle cx="252.5" cy="7.1" r="2.8"/><circle cx="211.0" cy="17.4" r="2.9"/><circle cx="168.8" cy="4.8" r="2.5"/><circle cx="222.4" cy="29.5" r="2.9"/><circle cx="215.8" cy="20.8" r="2.0"/><circle cx="178.4" cy="19.5" r="2.0"/><circle cx="159.2" cy="22.0" r="2.0"/><circle cx="167.6" cy="10.8" r="2.1"/><circle cx="224.3" cy="35.0" r="2.3"/><circle cx="235.1" cy="41.3" r="2.4"/><circle cx="236.7" cy="27.6" r="2.6"/><circle cx="227.7" cy="33.9" r="2.6"/><circle cx="252.1" cy="23.1" r="2.0"/><circle cx="179.0" cy="14.3" r="2.3"/><circle cx="155.5" cy="12.5" r="2.4"/><circle cx="171.5" cy="29.4" r="2.3"/><circle cx="175.2" cy="4.5" r="2.0"/><circle cx="227.5" cy="15.5" r="2.5"/><circle cx="240.2" cy="45.3" r="2.3"/><circle cx="240.1" cy="15.7" r="2.6"/><circle cx="148.2" cy="27.0" r="2.4"/><circle cx="193.1" cy="17.9" r="2.9"/><circle cx="214.3" cy="29.6" r="2.8"/><circle cx="257.1" cy="17.3" r="2.0"/><circle cx="227.6" cy="38.9" r="2.7"/><circle cx="163.6" cy="6.7" r="2.6"/><circle cx="227.4" cy="26.4" r="2.2"/><circle cx="163.5" cy="12.1" r="2.0"/><circle cx="243.7" cy="38.8" r="2.4"/><circle cx="158.6" cy="25.9" r="2.3"/><circle cx="159.6" cy="34.3" r="2.6"/><circle cx="230.8" cy="28.4" r="2.8"/><circle cx="210.8" cy="9.2" r="2.3"/><circle cx="180.4" cy="32.3" r="2.2"/><circle cx="158.8" cy="12.8" r="2.4"/><circle cx="259.6" cy="8.8" r="2.6"/><circle cx="228.7" cy="23.5" r="2.7"/><circle cx="160.6" cy="3.4" r="2.5"/><circle cx="237.8" cy="7.7" r="2.2"/><circle cx="147.3" cy="9.7" r="2.2"/><circle cx="171.8" cy="39.7" r="2.7"/><circle cx="231.9" cy="5.1" r="2.4"/><circle cx="189.9" cy="17.2" r="2.0"/><circle cx="211.6" cy="22.3" r="2.3"/><circle cx="158.9" cy="30.8" r="2.1"/><circle cx="166.3" cy="32.8" r="2.6"/><circle cx="249.0" cy="4.8" r="2.0"/><circle cx="240.6" cy="9.6" r="2.2"/><circle cx="217.8" cy="34.2" r="2.0"/><circle cx="154.8" cy="38.0" r="2.4"/><circle cx="167.0" cy="43.5" r="2.9"/><circle cx="216.6" cy="6.7" r="2.4"/><circle cx="260.2" cy="14.6" r="2.3"/><circle cx="183.2" cy="28.2" r="2.8"/><circle cx="175.9" cy="36.4" r="2.0"/><circle cx="252.1" cy="15.2" r="2.3"/><circle cx="219.9" cy="6.1" r="2.7"/><circle cx="145.3" cy="21.0" r="1.9"/><circle cx="142.5" cy="16.9" r="2.7"/><circle cx="240.0" cy="28.3" r="2.3"/><circle cx="262.3" cy="12.1" r="1.9"/><circle cx="244.7" cy="14.0" r="2.2"/><circle cx="172.1" cy="5.7" r="2.4"/><circle cx="197.4" cy="14.9" r="2.3"/><circle cx="150.4" cy="6.0" r="2.4"/><circle cx="249.1" cy="19.2" r="2.0"/><circle cx="155.4" cy="31.8" r="2.1"/><circle cx="153.2" cy="7.9" r="2.9"/><circle cx="171.0" cy="8.9" r="2.3"/><circle cx="230.3" cy="12.2" r="2.4"/><circle cx="171.8" cy="33.6" r="2.0"/><circle cx="171.0" cy="43.0" r="2.2"/><circle cx="174.0" cy="21.6" r="2.9"/><circle cx="163.8" cy="37.4" r="2.6"/><circle cx="162.6" cy="29.1" r="2.4"/><circle cx="213.9" cy="14.1" r="2.0"/><circle cx="148.8" cy="18.7" r="2.3"/><circle cx="181.5" cy="12.2" r="2.7"/><circle cx="255.8" cy="12.7" r="2.3"/><circle cx="162.9" cy="24.6" r="2.5"/><circle cx="193.7" cy="8.9" r="2.8"/><circle cx="180.9" cy="3.8" r="2.5"/><circle cx="168.4" cy="14.3" r="2.5"/><circle cx="181.8" cy="7.9" r="1.9"/><circle cx="234.1" cy="44.6" r="1.9"/><circle cx="175.3" cy="24.7" r="2.7"/><circle cx="165.7" cy="2.7" r="2.3"/><circle cx="167.2" cy="39.8" r="2.8"/><circle cx="168.4" cy="36.1" r="2.7"/><circle cx="235.9" cy="35.6" r="2.8"/><circle cx="154.1" cy="20.6" r="2.3"/><circle cx="163.6" cy="21.4" r="2.9"/><circle cx="144.2" cy="10.7" r="2.7"/><circle cx="161.9" cy="42.3" r="2.8"/><circle cx="197.6" cy="11.3" r="2.0"/><circle cx="215.3" cy="9.9" r="2.7"/><circle cx="224.4" cy="17.6" r="2.3"/><circle cx="210.2" cy="13.5" r="2.9"/><circle cx="146.1" cy="30.1" r="2.9"/><circle cx="246.9" cy="39.2" r="2.1"/><circle cx="248.8" cy="24.4" r="2.3"/><circle cx="222.0" cy="37.5" r="2.2"/><circle cx="231.5" cy="15.9" r="2.4"/><circle cx="213.5" cy="26.2" r="2.2"/><circle cx="190.4" cy="13.1" r="2.6"/><circle cx="178.0" cy="29.4" r="2.0"/><circle cx="186.1" cy="24.0" r="2.1"/><circle cx="220.0" cy="22.5" r="2.4"/><circle cx="238.9" cy="41.6" r="2.0"/><circle cx="229.8" cy="44.1" r="2.3"/><circle cx="217.8" cy="18.0" r="2.8"/><circle cx="236.9" cy="21.5" r="2.8"/><circle cx="241.1" cy="4.2" r="2.1"/><circle cx="251.6" cy="10.3" r="1.9"/><circle cx="225.9" cy="30.4" r="2.7"/><circle cx="245.2" cy="5.6" r="2.9"/><circle cx="225.3" cy="4.6" r="2.5"/><circle cx="171.2" cy="25.8" r="2.0"/><circle cx="255.6" cy="5.4" r="2.1"/><circle cx="225.9" cy="10.3" r="2.8"/><circle cx="145.8" cy="15.4" r="2.8"/><circle cx="177.1" cy="33.1" r="1.9"/><circle cx="173.2" cy="17.2" r="2.1"/><circle cx="174.8" cy="41.2" r="2.3"/><circle cx="182.5" cy="17.5" r="2.2"/><circle cx="184.6" cy="5.2" r="2.7"/><circle cx="231.5" cy="25.2" r="2.3"/><circle cx="254.8" cy="9.5" r="2.7"/><circle cx="174.6" cy="28.0" r="2.1"/><circle cx="243.1" cy="42.2" r="2.4"/><circle cx="181.4" cy="35.5" r="2.9"/><circle cx="218.9" cy="30.2" r="2.6"/><circle cx="145.1" cy="25.4" r="2.0"/><circle cx="158.3" cy="7.1" r="2.0"/><circle cx="224.7" cy="42.2" r="2.5"/><circle cx="189.1" cy="9.2" r="2.3"/><circle cx="234.3" cy="30.1" r="2.3"/><circle cx="237.3" cy="38.7" r="2.4"/><circle cx="178.5" cy="23.3" r="2.5"/><circle cx="234.1" cy="7.5" r="2.9"/><circle cx="234.9" cy="24.4" r="2.1"/><circle cx="148.7" cy="33.5" r="2.5"/><circle cx="221.4" cy="33.8" r="2.2"/><circle cx="180.2" cy="27.0" r="2.4"/><circle cx="244.7" cy="35.8" r="2.6"/><circle cx="243.2" cy="28.1" r="2.0"/><circle cx="221.3" cy="18.6" r="2.4"/><circle cx="218.1" cy="13.9" r="2.6"/><circle cx="235.4" cy="4.2" r="1.9"/><circle cx="243.9" cy="10.8" r="2.7"/><circle cx="241.9" cy="32.8" r="2.3"/><circle cx="230.7" cy="40.8" r="2.4"/><circle cx="142.1" cy="22.4" r="2.5"/><circle cx="249.1" cy="12.5" r="2.7"/><circle cx="163.1" cy="33.0" r="2.0"/><circle cx="156.8" cy="15.9" r="2.4"/><circle cx="254.0" cy="20.0" r="1.9"/><circle cx="171.8" cy="13.1" r="2.3"/><circle cx="142.1" cy="13.2" r="2.2"/><circle cx="238.1" cy="24.7" r="1.9"/><circle cx="237.1" cy="11.8" r="2.2"/><circle cx="214.6" cy="17.7" r="2.4"/><circle cx="218.8" cy="9.3" r="2.6"/></g>
</g>
<g>
<path d="M200.8 54.4 L205.7 54.9 L208.5 58.9 L207.1 62.6 L203.9 64.4 L199.9 62.6 L197.6 59.4 Z" fill="#fff"/>
<path d="M168.8 46.0 L174.9 46.6 L175.6 52.3 L178.1 58.6 L178.1 65.0 L174.2 68.4 L170.8 65.0 L170.3 59.8 L169.2 53.6 Z" fill="#d0000c"/>
<path d="M231.2 48.0 L237.5 49.0 L236.9 54.4 L239.5 59.6 L240.0 66.0 L237.2 70.4 L232.2 68.2 L233.8 64.8 L233.3 59.8 L231.2 54.8 Z" fill="#d0000c"/>
<path d="M206.5 16.3 L196.2 25 Q194.2 27.2 194.2 30 L194.6 38 Q195 42 196.8 45 L202.6 54" fill="none" stroke="#f4a055" stroke-width="4.7" stroke-linejoin="round"/>
<path d="M200.6 67.5 L201.1 95" fill="none" stroke="#f4a055" stroke-width="4.8"/>
<path d="M108.3 55.9 L158 55.9" stroke="#b3000e" stroke-width="2.7" fill="none"/>
<path d="M150.3 50.6 L159.6 55.9 L150.3 61.2" stroke="#d4000e" stroke-width="3.0" fill="none" stroke-linejoin="miter"/>
<path d="M293 80.9 L210 80.9" stroke="#f4a055" stroke-width="2.7" fill="none"/>
<path d="M218.5 75.2 L208.2 80.9 L218.5 86.6" stroke="#f4a055" stroke-width="2.7" fill="none"/>
</g>
<text x="-0.6" y="19.4" font-size="18.5" text-anchor="start" fill="#000" font-weight="bold">a</text>
<text x="98.0" y="45.0" font-size="13" text-anchor="end" fill="#a8192e" stroke="#a8192e" stroke-width="0.08">G131Y</text>
<text x="62.7" y="74.5" font-size="13" text-anchor="middle" fill="#a8192e" stroke="#a8192e" stroke-width="0.08">Dimerization</text>
<text x="62.7" y="89.5" font-size="13" text-anchor="middle" fill="#a8192e" stroke="#a8192e" stroke-width="0.08">interface</text>
<text x="321.1" y="42.8" font-size="13" text-anchor="middle" fill="#f2a066" stroke="#f2a066" stroke-width="0.08">Clustering</text>
<text x="321.1" y="56.5" font-size="13" text-anchor="middle" fill="#f2a066" stroke="#f2a066" stroke-width="0.08">interface</text>
<text x="315.8" y="81.4" font-size="13" text-anchor="start" fill="#f2a066" stroke="#f2a066" stroke-width="0.08">L223R</text>
<text x="315.8" y="97.4" font-size="13" text-anchor="start" fill="#f2a066" stroke="#f2a066" stroke-width="0.08">L254R</text>
<text x="315.8" y="113.9" font-size="13" text-anchor="start" fill="#f2a066" stroke="#f2a066" stroke-width="0.08">V255R</text>
<path d="M453.8 112.5a2.55 2.55 0 1 0 5.1 0a2.55 2.55 0 1 0 -5.1 0M456.6 116.5a2.55 2.55 0 1 0 5.1 0a2.55 2.55 0 1 0 -5.1 0M465.1 107.9a2.55 2.55 0 1 0 5.1 0a2.55 2.55 0 1 0 -5.1 0M470.6 113.1a2.55 2.55 0 1 0 5.1 0a2.55 2.55 0 1 0 -5.1 0M468.5 93.8a2.55 2.55 0 1 0 5.1 0a2.55 2.55 0 1 0 -5.1 0M471.9 75.8a2.55 2.55 0 1 0 5.1 0a2.55 2.55 0 1 0 -5.1 0M479.6 73.5a2.55 2.55 0 1 0 5.1 0a2.55 2.55 0 1 0 -5.1 0M495.9 71.2a2.55 2.55 0 1 0 5.1 0a2.55 2.55 0 1 0 -5.1 0M516.7 53.8a2.55 2.55 0 1 0 5.1 0a2.55 2.55 0 1 0 -5.1 0M542.0 52.9a2.55 2.55 0 1 0 5.1 0a2.55 2.55 0 1 0 -5.1 0M534.3 63.2a2.55 2.55 0 1 0 5.1 0a2.55 2.55 0 1 0 -5.1 0M539.7 62.1a2.55 2.55 0 1 0 5.1 0a2.55 2.55 0 1 0 -5.1 0M460.6 112.5a2.55 2.55 0 1 0 5.1 0a2.55 2.55 0 1 0 -5.1 0M474.2 101.0a2.55 2.55 0 1 0 5.1 0a2.55 2.55 0 1 0 -5.1 0M481.0 87.3a2.55 2.55 0 1 0 5.1 0a2.55 2.55 0 1 0 -5.1 0M485.5 106.8a2.55 2.55 0 1 0 5.1 0a2.55 2.55 0 1 0 -5.1 0M478.7 112.5a2.55 2.55 0 1 0 5.1 0a2.55 2.55 0 1 0 -5.1 0M475.5 109.0a2.55 2.55 0 1 0 5.1 0a2.55 2.55 0 1 0 -5.1 0M486.1 89.8a2.55 2.55 0 1 0 5.1 0a2.55 2.55 0 1 0 -5.1 0M498.2 87.8a2.55 2.55 0 1 0 5.1 0a2.55 2.55 0 1 0 -5.1 0M484.6 80.6a2.55 2.55 0 1 0 5.1 0a2.55 2.55 0 1 0 -5.1 0M481.1 92.7a2.55 2.55 0 1 0 5.1 0a2.55 2.55 0 1 0 -5.1 0M501.8 99.4a2.55 2.55 0 1 0 5.1 0a2.55 2.55 0 1 0 -5.1 0M489.3 102.1a2.55 2.55 0 1 0 5.1 0a2.55 2.55 0 1 0 -5.1 0M500.0 89.0a2.55 2.55 0 1 0 5.1 0a2.55 2.55 0 1 0 -5.1 0M489.4 108.1a2.55 2.55 0 1 0 5.1 0a2.55 2.55 0 1 0 -5.1 0M502.3 97.2a2.55 2.55 0 1 0 5.1 0a2.55 2.55 0 1 0 -5.1 0M519.1 96.5a2.55 2.55 0 1 0 5.1 0a2.55 2.55 0 1 0 -5.1 0M508.3 85.6a2.55 2.55 0 1 0 5.1 0a2.55 2.55 0 1 0 -5.1 0M512.9 104.1a2.55 2.55 0 1 0 5.1 0a2.55 2.55 0 1 0 -5.1 0M513.5 111.0a2.55 2.55 0 1 0 5.1 0a2.55 2.55 0 1 0 -5.1 0M482.3 99.0a2.55 2.55 0 1 0 5.1 0a2.55 2.55 0 1 0 -5.1 0M502.1 96.6a2.55 2.55 0 1 0 5.1 0a2.55 2.55 0 1 0 -5.1 0M495.4 111.3a2.55 2.55 0 1 0 5.1 0a2.55 2.55 0 1 0 -5.1 0M496.1 112.2a2.55 2.55 0 1 0 5.1 0a2.55 2.55 0 1 0 -5.1 0M482.6 108.4a2.55 2.55 0 1 0 5.1 0a2.55 2.55 0 1 0 -5.1 0M487.5 105.6a2.55 2.55 0 1 0 5.1 0a2.55 2.55 0 1 0 -5.1 0M510.6 119.7a2.55 2.55 0 1 0 5.1 0a2.55 2.55 0 1 0 -5.1 0M517.6 87.6a2.55 2.55 0 1 0 5.1 0a2.55 2.55 0 1 0 -5.1 0M481.2 95.9a2.55 2.55 0 1 0 5.1 0a2.55 2.55 0 1 0 -5.1 0M512.1 111.0a2.55 2.55 0 1 0 5.1 0a2.55 2.55 0 1 0 -5.1 0M497.3 80.3a2.55 2.55 0 1 0 5.1 0a2.55 2.55 0 1 0 -5.1 0M500.4 102.8a2.55 2.55 0 1 0 5.1 0a2.55 2.55 0 1 0 -5.1 0M494.3 113.9a2.55 2.55 0 1 0 5.1 0a2.55 2.55 0 1 0 -5.1 0M482.0 107.3a2.55 2.55 0 1 0 5.1 0a2.55 2.55 0 1 0 -5.1 0M503.4 88.0a2.55 2.55 0 1 0 5.1 0a2.55 2.55 0 1 0 -5.1 0M490.8 118.0a2.55 2.55 0 1 0 5.1 0a2.55 2.55 0 1 0 -5.1 0M484.2 98.1a2.55 2.55 0 1 0 5.1 0a2.55 2.55 0 1 0 -5.1 0M485.2 107.7a2.55 2.55 0 1 0 5.1 0a2.55 2.55 0 1 0 -5.1 0M483.6 93.1a2.55 2.55 0 1 0 5.1 0a2.55 2.55 0 1 0 -5.1 0M508.3 92.7a2.55 2.55 0 1 0 5.1 0a2.55 2.55 0 1 0 -5.1 0M499.2 89.8a2.55 2.55 0 1 0 5.1 0a2.55 2.55 0 1 0 -5.1 0M485.1 96.7a2.55 2.55 0 1 0 5.1 0a2.55 2.55 0 1 0 -5.1 0M489.0 114.8a2.55 2.55 0 1 0 5.1 0a2.55 2.55 0 1 0 -5.1 0M486.6 99.6a2.55 2.55 0 1 0 5.1 0a2.55 2.55 0 1 0 -5.1 0M508.0 105.5a2.55 2.55 0 1 0 5.1 0a2.55 2.55 0 1 0 -5.1 0M505.9 110.5a2.55 2.55 0 1 0 5.1 0a2.55 2.55 0 1 0 -5.1 0M483.2 86.7a2.55 2.55 0 1 0 5.1 0a2.55 2.55 0 1 0 -5.1 0M514.6 107.0a2.55 2.55 0 1 0 5.1 0a2.55 2.55 0 1 0 -5.1 0M481.3 97.8a2.55 2.55 0 1 0 5.1 0a2.55 2.55 0 1 0 -5.1 0M518.4 81.6a2.55 2.55 0 1 0 5.1 0a2.55 2.55 0 1 0 -5.1 0M495.5 103.9a2.55 2.55 0 1 0 5.1 0a2.55 2.55 0 1 0 -5.1 0M488.4 109.6a2.55 2.55 0 1 0 5.1 0a2.55 2.55 0 1 0 -5.1 0M492.3 109.0a2.55 2.55 0 1 0 5.1 0a2.55 2.55 0 1 0 -5.1 0M481.7 115.8a2.55 2.55 0 1 0 5.1 0a2.55 2.55 0 1 0 -5.1 0M518.9 98.0a2.55 2.55 0 1 0 5.1 0a2.55 2.55 0 1 0 -5.1 0M513.2 84.8a2.55 2.55 0 1 0 5.1 0a2.55 2.55 0 1 0 -5.1 0M514.9 104.4a2.55 2.55 0 1 0 5.1 0a2.55 2.55 0 1 0 -5.1 0M508.8 100.6a2.55 2.55 0 1 0 5.1 0a2.55 2.55 0 1 0 -5.1 0M516.0 95.9a2.55 2.55 0 1 0 5.1 0a2.55 2.55 0 1 0 -5.1 0M495.1 111.5a2.55 2.55 0 1 0 5.1 0a2.55 2.55 0 1 0 -5.1 0M514.3 120.2a2.55 2.55 0 1 0 5.1 0a2.55 2.55 0 1 0 -5.1 0M502.1 103.5a2.55 2.55 0 1 0 5.1 0a2.55 2.55 0 1 0 -5.1 0M483.8 87.8a2.55 2.55 0 1 0 5.1 0a2.55 2.55 0 1 0 -5.1 0M504.6 108.2a2.55 2.55 0 1 0 5.1 0a2.55 2.55 0 1 0 -5.1 0M502.9 99.2a2.55 2.55 0 1 0 5.1 0a2.55 2.55 0 1 0 -5.1 0M491.6 95.4a2.55 2.55 0 1 0 5.1 0a2.55 2.55 0 1 0 -5.1 0M484.5 98.7a2.55 2.55 0 1 0 5.1 0a2.55 2.55 0 1 0 -5.1 0M482.5 97.9a2.55 2.55 0 1 0 5.1 0a2.55 2.55 0 1 0 -5.1 0M487.4 97.4a2.55 2.55 0 1 0 5.1 0a2.55 2.55 0 1 0 -5.1 0M484.9 91.4a2.55 2.55 0 1 0 5.1 0a2.55 2.55 0 1 0 -5.1 0M492.3 104.1a2.55 2.55 0 1 0 5.1 0a2.55 2.55 0 1 0 -5.1 0M484.8 101.6a2.55 2.55 0 1 0 5.1 0a2.55 2.55 0 1 0 -5.1 0M492.3 97.9a2.55 2.55 0 1 0 5.1 0a2.55 2.55 0 1 0 -5.1 0M493.0 78.8a2.55 2.55 0 1 0 5.1 0a2.55 2.55 0 1 0 -5.1 0M485.2 105.0a2.55 2.55 0 1 0 5.1 0a2.55 2.55 0 1 0 -5.1 0M518.6 115.1a2.55 2.55 0 1 0 5.1 0a2.55 2.55 0 1 0 -5.1 0M501.8 106.7a2.55 2.55 0 1 0 5.1 0a2.55 2.55 0 1 0 -5.1 0M484.1 105.5a2.55 2.55 0 1 0 5.1 0a2.55 2.55 0 1 0 -5.1 0M505.7 95.1a2.55 2.55 0 1 0 5.1 0a2.55 2.55 0 1 0 -5.1 0M492.8 104.1a2.55 2.55 0 1 0 5.1 0a2.55 2.55 0 1 0 -5.1 0M492.6 117.8a2.55 2.55 0 1 0 5.1 0a2.55 2.55 0 1 0 -5.1 0M503.2 106.2a2.55 2.55 0 1 0 5.1 0a2.55 2.55 0 1 0 -5.1 0M483.7 98.9a2.55 2.55 0 1 0 5.1 0a2.55 2.55 0 1 0 -5.1 0M483.9 105.5a2.55 2.55 0 1 0 5.1 0a2.55 2.55 0 1 0 -5.1 0M514.1 111.5a2.55 2.55 0 1 0 5.1 0a2.55 2.55 0 1 0 -5.1 0M518.8 84.1a2.55 2.55 0 1 0 5.1 0a2.55 2.55 0 1 0 -5.1 0M492.2 95.4a2.55 2.55 0 1 0 5.1 0a2.55 2.55 0 1 0 -5.1 0M493.1 101.3a2.55 2.55 0 1 0 5.1 0a2.55 2.55 0 1 0 -5.1 0M515.8 90.7a2.55 2.55 0 1 0 5.1 0a2.55 2.55 0 1 0 -5.1 0M497.6 105.9a2.55 2.55 0 1 0 5.1 0a2.55 2.55 0 1 0 -5.1 0M506.6 99.9a2.55 2.55 0 1 0 5.1 0a2.55 2.55 0 1 0 -5.1 0M502.1 104.1a2.55 2.55 0 1 0 5.1 0a2.55 2.55 0 1 0 -5.1 0M498.4 107.3a2.55 2.55 0 1 0 5.1 0a2.55 2.55 0 1 0 -5.1 0M505.8 97.6a2.55 2.55 0 1 0 5.1 0a2.55 2.55 0 1 0 -5.1 0M483.4 103.3a2.55 2.55 0 1 0 5.1 0a2.55 2.55 0 1 0 -5.1 0M512.8 94.2a2.55 2.55 0 1 0 5.1 0a2.55 2.55 0 1 0 -5.1 0M504.5 99.7a2.55 2.55 0 1 0 5.1 0a2.55 2.55 0 1 0 -5.1 0M505.9 102.1a2.55 2.55 0 1 0 5.1 0a2.55 2.55 0 1 0 -5.1 0M509.1 99.0a2.55 2.55 0 1 0 5.1 0a2.55 2.55 0 1 0 -5.1 0M496.8 98.9a2.55 2.55 0 1 0 5.1 0a2.55 2.55 0 1 0 -5.1 0M516.2 102.2a2.55 2.55 0 1 0 5.1 0a2.55 2.55 0 1 0 -5.1 0M500.6 98.7a2.55 2.55 0 1 0 5.1 0a2.55 2.55 0 1 0 -5.1 0M510.4 93.3a2.55 2.55 0 1 0 5.1 0a2.55 2.55 0 1 0 -5.1 0M495.2 118.6a2.55 2.55 0 1 0 5.1 0a2.55 2.55 0 1 0 -5.1 0M503.8 86.3a2.55 2.55 0 1 0 5.1 0a2.55 2.55 0 1 0 -5.1 0M487.7 103.2a2.55 2.55 0 1 0 5.1 0a2.55 2.55 0 1 0 -5.1 0M502.9 99.7a2.55 2.55 0 1 0 5.1 0a2.55 2.55 0 1 0 -5.1 0M494.3 114.8a2.55 2.55 0 1 0 5.1 0a2.55 2.55 0 1 0 -5.1 0M491.2 113.4a2.55 2.55 0 1 0 5.1 0a2.55 2.55 0 1 0 -5.1 0M486.3 96.7a2.55 2.55 0 1 0 5.1 0a2.55 2.55 0 1 0 -5.1 0M498.1 113.4a2.55 2.55 0 1 0 5.1 0a2.55 2.55 0 1 0 -5.1 0M495.7 96.3a2.55 2.55 0 1 0 5.1 0a2.55 2.55 0 1 0 -5.1 0M485.8 92.0a2.55 2.55 0 1 0 5.1 0a2.55 2.55 0 1 0 -5.1 0M485.5 108.4a2.55 2.55 0 1 0 5.1 0a2.55 2.55 0 1 0 -5.1 0M490.5 94.0a2.55 2.55 0 1 0 5.1 0a2.55 2.55 0 1 0 -5.1 0M488.3 101.8a2.55 2.55 0 1 0 5.1 0a2.55 2.55 0 1 0 -5.1 0M513.1 110.0a2.55 2.55 0 1 0 5.1 0a2.55 2.55 0 1 0 -5.1 0M501.8 101.9a2.55 2.55 0 1 0 5.1 0a2.55 2.55 0 1 0 -5.1 0M511.4 84.2a2.55 2.55 0 1 0 5.1 0a2.55 2.55 0 1 0 -5.1 0M510.5 109.0a2.55 2.55 0 1 0 5.1 0a2.55 2.55 0 1 0 -5.1 0M512.0 95.1a2.55 2.55 0 1 0 5.1 0a2.55 2.55 0 1 0 -5.1 0M501.9 82.8a2.55 2.55 0 1 0 5.1 0a2.55 2.55 0 1 0 -5.1 0M500.2 100.8a2.55 2.55 0 1 0 5.1 0a2.55 2.55 0 1 0 -5.1 0M500.3 107.7a2.55 2.55 0 1 0 5.1 0a2.55 2.55 0 1 0 -5.1 0M498.2 99.8a2.55 2.55 0 1 0 5.1 0a2.55 2.55 0 1 0 -5.1 0M511.1 104.8a2.55 2.55 0 1 0 5.1 0a2.55 2.55 0 1 0 -5.1 0M488.8 107.9a2.55 2.55 0 1 0 5.1 0a2.55 2.55 0 1 0 -5.1 0M504.0 85.6a2.55 2.55 0 1 0 5.1 0a2.55 2.55 0 1 0 -5.1 0M498.7 102.0a2.55 2.55 0 1 0 5.1 0a2.55 2.55 0 1 0 -5.1 0M509.6 91.1a2.55 2.55 0 1 0 5.1 0a2.55 2.55 0 1 0 -5.1 0M501.4 87.3a2.55 2.55 0 1 0 5.1 0a2.55 2.55 0 1 0 -5.1 0M495.9 109.3a2.55 2.55 0 1 0 5.1 0a2.55 2.55 0 1 0 -5.1 0M509.2 110.3a2.55 2.55 0 1 0 5.1 0a2.55 2.55 0 1 0 -5.1 0M499.9 100.3a2.55 2.55 0 1 0 5.1 0a2.55 2.55 0 1 0 -5.1 0M496.6 111.6a2.55 2.55 0 1 0 5.1 0a2.55 2.55 0 1 0 -5.1 0M517.0 95.8a2.55 2.55 0 1 0 5.1 0a2.55 2.55 0 1 0 -5.1 0M504.2 118.7a2.55 2.55 0 1 0 5.1 0a2.55 2.55 0 1 0 -5.1 0M508.2 90.8a2.55 2.55 0 1 0 5.1 0a2.55 2.55 0 1 0 -5.1 0M499.6 83.9a2.55 2.55 0 1 0 5.1 0a2.55 2.55 0 1 0 -5.1 0M500.6 100.2a2.55 2.55 0 1 0 5.1 0a2.55 2.55 0 1 0 -5.1 0M481.7 88.0a2.55 2.55 0 1 0 5.1 0a2.55 2.55 0 1 0 -5.1 0M507.5 112.7a2.55 2.55 0 1 0 5.1 0a2.55 2.55 0 1 0 -5.1 0M489.0 104.2a2.55 2.55 0 1 0 5.1 0a2.55 2.55 0 1 0 -5.1 0M483.8 93.8a2.55 2.55 0 1 0 5.1 0a2.55 2.55 0 1 0 -5.1 0M509.3 90.8a2.55 2.55 0 1 0 5.1 0a2.55 2.55 0 1 0 -5.1 0M508.4 96.6a2.55 2.55 0 1 0 5.1 0a2.55 2.55 0 1 0 -5.1 0M502.5 104.6a2.55 2.55 0 1 0 5.1 0a2.55 2.55 0 1 0 -5.1 0M514.3 103.4a2.55 2.55 0 1 0 5.1 0a2.55 2.55 0 1 0 -5.1 0M513.4 103.5a2.55 2.55 0 1 0 5.1 0a2.55 2.55 0 1 0 -5.1 0M504.9 104.3a2.55 2.55 0 1 0 5.1 0a2.55 2.55 0 1 0 -5.1 0M488.3 117.9a2.55 2.55 0 1 0 5.1 0a2.55 2.55 0 1 0 -5.1 0M508.9 106.2a2.55 2.55 0 1 0 5.1 0a2.55 2.55 0 1 0 -5.1 0M486.3 100.8a2.55 2.55 0 1 0 5.1 0a2.55 2.55 0 1 0 -5.1 0M509.8 98.9a2.55 2.55 0 1 0 5.1 0a2.55 2.55 0 1 0 -5.1 0M485.1 108.5a2.55 2.55 0 1 0 5.1 0a2.55 2.55 0 1 0 -5.1 0M484.8 98.5a2.55 2.55 0 1 0 5.1 0a2.55 2.55 0 1 0 -5.1 0M489.3 112.3a2.55 2.55 0 1 0 5.1 0a2.55 2.55 0 1 0 -5.1 0M512.3 86.0a2.55 2.55 0 1 0 5.1 0a2.55 2.55 0 1 0 -5.1 0M485.5 83.4a2.55 2.55 0 1 0 5.1 0a2.55 2.55 0 1 0 -5.1 0M496.3 109.9a2.55 2.55 0 1 0 5.1 0a2.55 2.55 0 1 0 -5.1 0M512.5 93.3a2.55 2.55 0 1 0 5.1 0a2.55 2.55 0 1 0 -5.1 0M489.1 101.9a2.55 2.55 0 1 0 5.1 0a2.55 2.55 0 1 0 -5.1 0M519.2 112.4a2.55 2.55 0 1 0 5.1 0a2.55 2.55 0 1 0 -5.1 0M513.9 104.2a2.55 2.55 0 1 0 5.1 0a2.55 2.55 0 1 0 -5.1 0M496.3 111.0a2.55 2.55 0 1 0 5.1 0a2.55 2.55 0 1 0 -5.1 0M486.8 98.3a2.55 2.55 0 1 0 5.1 0a2.55 2.55 0 1 0 -5.1 0M483.2 87.8a2.55 2.55 0 1 0 5.1 0a2.55 2.55 0 1 0 -5.1 0M498.8 87.9a2.55 2.55 0 1 0 5.1 0a2.55 2.55 0 1 0 -5.1 0M513.3 99.1a2.55 2.55 0 1 0 5.1 0a2.55 2.55 0 1 0 -5.1 0M485.5 97.8a2.55 2.55 0 1 0 5.1 0a2.55 2.55 0 1 0 -5.1 0M507.4 112.8a2.55 2.55 0 1 0 5.1 0a2.55 2.55 0 1 0 -5.1 0M495.9 118.4a2.55 2.55 0 1 0 5.1 0a2.55 2.55 0 1 0 -5.1 0M483.3 105.9a2.55 2.55 0 1 0 5.1 0a2.55 2.55 0 1 0 -5.1 0M494.4 110.3a2.55 2.55 0 1 0 5.1 0a2.55 2.55 0 1 0 -5.1 0M494.5 100.4a2.55 2.55 0 1 0 5.1 0a2.55 2.55 0 1 0 -5.1 0M514.8 113.4a2.55 2.55 0 1 0 5.1 0a2.55 2.55 0 1 0 -5.1 0M508.7 116.4a2.55 2.55 0 1 0 5.1 0a2.55 2.55 0 1 0 -5.1 0M518.5 86.4a2.55 2.55 0 1 0 5.1 0a2.55 2.55 0 1 0 -5.1 0M483.0 115.8a2.55 2.55 0 1 0 5.1 0a2.55 2.55 0 1 0 -5.1 0M499.0 120.3a2.55 2.55 0 1 0 5.1 0a2.55 2.55 0 1 0 -5.1 0M498.0 96.7a2.55 2.55 0 1 0 5.1 0a2.55 2.55 0 1 0 -5.1 0M508.2 98.2a2.55 2.55 0 1 0 5.1 0a2.55 2.55 0 1 0 -5.1 0M511.7 100.6a2.55 2.55 0 1 0 5.1 0a2.55 2.55 0 1 0 -5.1 0M495.7 100.8a2.55 2.55 0 1 0 5.1 0a2.55 2.55 0 1 0 -5.1 0M512.0 86.5a2.55 2.55 0 1 0 5.1 0a2.55 2.55 0 1 0 -5.1 0M497.3 99.5a2.55 2.55 0 1 0 5.1 0a2.55 2.55 0 1 0 -5.1 0M511.1 91.7a2.55 2.55 0 1 0 5.1 0a2.55 2.55 0 1 0 -5.1 0M485.0 106.3a2.55 2.55 0 1 0 5.1 0a2.55 2.55 0 1 0 -5.1 0M513.0 101.1a2.55 2.55 0 1 0 5.1 0a2.55 2.55 0 1 0 -5.1 0M515.4 95.7a2.55 2.55 0 1 0 5.1 0a2.55 2.55 0 1 0 -5.1 0M501.0 91.6a2.55 2.55 0 1 0 5.1 0a2.55 2.55 0 1 0 -5.1 0M503.1 81.6a2.55 2.55 0 1 0 5.1 0a2.55 2.55 0 1 0 -5.1 0M492.4 107.2a2.55 2.55 0 1 0 5.1 0a2.55 2.55 0 1 0 -5.1 0M509.7 112.5a2.55 2.55 0 1 0 5.1 0a2.55 2.55 0 1 0 -5.1 0M493.5 81.5a2.55 2.55 0 1 0 5.1 0a2.55 2.55 0 1 0 -5.1 0M516.6 81.2a2.55 2.55 0 1 0 5.1 0a2.55 2.55 0 1 0 -5.1 0M511.8 110.4a2.55 2.55 0 1 0 5.1 0a2.55 2.55 0 1 0 -5.1 0M503.1 81.8a2.55 2.55 0 1 0 5.1 0a2.55 2.55 0 1 0 -5.1 0M494.9 116.2a2.55 2.55 0 1 0 5.1 0a2.55 2.55 0 1 0 -5.1 0M501.4 97.0a2.55 2.55 0 1 0 5.1 0a2.55 2.55 0 1 0 -5.1 0M515.8 112.1a2.55 2.55 0 1 0 5.1 0a2.55 2.55 0 1 0 -5.1 0M508.9 95.4a2.55 2.55 0 1 0 5.1 0a2.55 2.55 0 1 0 -5.1 0M485.1 102.2a2.55 2.55 0 1 0 5.1 0a2.55 2.55 0 1 0 -5.1 0M501.2 96.3a2.55 2.55 0 1 0 5.1 0a2.55 2.55 0 1 0 -5.1 0M487.6 111.8a2.55 2.55 0 1 0 5.1 0a2.55 2.55 0 1 0 -5.1 0M495.1 90.5a2.55 2.55 0 1 0 5.1 0a2.55 2.55 0 1 0 -5.1 0M503.9 78.6a2.55 2.55 0 1 0 5.1 0a2.55 2.55 0 1 0 -5.1 0M543.7 95.0a2.55 2.55 0 1 0 5.1 0a2.55 2.55 0 1 0 -5.1 0M554.9 93.2a2.55 2.55 0 1 0 5.1 0a2.55 2.55 0 1 0 -5.1 0M536.7 84.2a2.55 2.55 0 1 0 5.1 0a2.55 2.55 0 1 0 -5.1 0M545.8 101.8a2.55 2.55 0 1 0 5.1 0a2.55 2.55 0 1 0 -5.1 0M558.3 88.4a2.55 2.55 0 1 0 5.1 0a2.55 2.55 0 1 0 -5.1 0M533.4 100.8a2.55 2.55 0 1 0 5.1 0a2.55 2.55 0 1 0 -5.1 0M516.1 87.0a2.55 2.55 0 1 0 5.1 0a2.55 2.55 0 1 0 -5.1 0M571.5 95.3a2.55 2.55 0 1 0 5.1 0a2.55 2.55 0 1 0 -5.1 0M548.0 101.8a2.55 2.55 0 1 0 5.1 0a2.55 2.55 0 1 0 -5.1 0M543.0 114.4a2.55 2.55 0 1 0 5.1 0a2.55 2.55 0 1 0 -5.1 0M538.8 104.7a2.55 2.55 0 1 0 5.1 0a2.55 2.55 0 1 0 -5.1 0M531.8 100.6a2.55 2.55 0 1 0 5.1 0a2.55 2.55 0 1 0 -5.1 0M555.4 96.2a2.55 2.55 0 1 0 5.1 0a2.55 2.55 0 1 0 -5.1 0M564.3 68.8a2.55 2.55 0 1 0 5.1 0a2.55 2.55 0 1 0 -5.1 0M566.7 77.5a2.55 2.55 0 1 0 5.1 0a2.55 2.55 0 1 0 -5.1 0M541.7 84.4a2.55 2.55 0 1 0 5.1 0a2.55 2.55 0 1 0 -5.1 0M540.2 94.7a2.55 2.55 0 1 0 5.1 0a2.55 2.55 0 1 0 -5.1 0M519.0 84.1a2.55 2.55 0 1 0 5.1 0a2.55 2.55 0 1 0 -5.1 0M561.8 92.8a2.55 2.55 0 1 0 5.1 0a2.55 2.55 0 1 0 -5.1 0M546.7 88.0a2.55 2.55 0 1 0 5.1 0a2.55 2.55 0 1 0 -5.1 0M544.0 86.2a2.55 2.55 0 1 0 5.1 0a2.55 2.55 0 1 0 -5.1 0M571.6 95.9a2.55 2.55 0 1 0 5.1 0a2.55 2.55 0 1 0 -5.1 0M529.7 83.3a2.55 2.55 0 1 0 5.1 0a2.55 2.55 0 1 0 -5.1 0M545.6 86.7a2.55 2.55 0 1 0 5.1 0a2.55 2.55 0 1 0 -5.1 0M554.8 83.8a2.55 2.55 0 1 0 5.1 0a2.55 2.55 0 1 0 -5.1 0M548.0 112.2a2.55 2.55 0 1 0 5.1 0a2.55 2.55 0 1 0 -5.1 0M568.6 78.2a2.55 2.55 0 1 0 5.1 0a2.55 2.55 0 1 0 -5.1 0M552.6 90.6a2.55 2.55 0 1 0 5.1 0a2.55 2.55 0 1 0 -5.1 0M537.8 109.9a2.55 2.55 0 1 0 5.1 0a2.55 2.55 0 1 0 -5.1 0M552.8 102.4a2.55 2.55 0 1 0 5.1 0a2.55 2.55 0 1 0 -5.1 0M552.5 90.5a2.55 2.55 0 1 0 5.1 0a2.55 2.55 0 1 0 -5.1 0M561.5 88.1a2.55 2.55 0 1 0 5.1 0a2.55 2.55 0 1 0 -5.1 0M565.1 80.0a2.55 2.55 0 1 0 5.1 0a2.55 2.55 0 1 0 -5.1 0M575.3 70.1a2.55 2.55 0 1 0 5.1 0a2.55 2.55 0 1 0 -5.1 0M564.3 92.0a2.55 2.55 0 1 0 5.1 0a2.55 2.55 0 1 0 -5.1 0M545.8 98.5a2.55 2.55 0 1 0 5.1 0a2.55 2.55 0 1 0 -5.1 0M544.2 74.2a2.55 2.55 0 1 0 5.1 0a2.55 2.55 0 1 0 -5.1 0M535.4 93.0a2.55 2.55 0 1 0 5.1 0a2.55 2.55 0 1 0 -5.1 0M533.7 87.4a2.55 2.55 0 1 0 5.1 0a2.55 2.55 0 1 0 -5.1 0M570.1 98.5a2.55 2.55 0 1 0 5.1 0a2.55 2.55 0 1 0 -5.1 0M537.8 80.2a2.55 2.55 0 1 0 5.1 0a2.55 2.55 0 1 0 -5.1 0M534.7 99.1a2.55 2.55 0 1 0 5.1 0a2.55 2.55 0 1 0 -5.1 0M532.9 77.4a2.55 2.55 0 1 0 5.1 0a2.55 2.55 0 1 0 -5.1 0M547.5 78.3a2.55 2.55 0 1 0 5.1 0a2.55 2.55 0 1 0 -5.1 0M559.1 100.7a2.55 2.55 0 1 0 5.1 0a2.55 2.55 0 1 0 -5.1 0M546.1 90.9a2.55 2.55 0 1 0 5.1 0a2.55 2.55 0 1 0 -5.1 0M526.7 85.2a2.55 2.55 0 1 0 5.1 0a2.55 2.55 0 1 0 -5.1 0M548.5 90.8a2.55 2.55 0 1 0 5.1 0a2.55 2.55 0 1 0 -5.1 0M563.5 70.4a2.55 2.55 0 1 0 5.1 0a2.55 2.55 0 1 0 -5.1 0M519.4 98.9a2.55 2.55 0 1 0 5.1 0a2.55 2.55 0 1 0 -5.1 0M553.0 82.5a2.55 2.55 0 1 0 5.1 0a2.55 2.55 0 1 0 -5.1 0M549.8 89.7a2.55 2.55 0 1 0 5.1 0a2.55 2.55 0 1 0 -5.1 0M536.5 84.5a2.55 2.55 0 1 0 5.1 0a2.55 2.55 0 1 0 -5.1 0M522.3 76.6a2.55 2.55 0 1 0 5.1 0a2.55 2.55 0 1 0 -5.1 0M537.3 83.8a2.55 2.55 0 1 0 5.1 0a2.55 2.55 0 1 0 -5.1 0M530.4 112.8a2.55 2.55 0 1 0 5.1 0a2.55 2.55 0 1 0 -5.1 0M552.9 93.2a2.55 2.55 0 1 0 5.1 0a2.55 2.55 0 1 0 -5.1 0M539.6 79.2a2.55 2.55 0 1 0 5.1 0a2.55 2.55 0 1 0 -5.1 0M560.9 100.5a2.55 2.55 0 1 0 5.1 0a2.55 2.55 0 1 0 -5.1 0M542.9 95.6a2.55 2.55 0 1 0 5.1 0a2.55 2.55 0 1 0 -5.1 0M547.5 90.3a2.55 2.55 0 1 0 5.1 0a2.55 2.55 0 1 0 -5.1 0M551.0 90.7a2.55 2.55 0 1 0 5.1 0a2.55 2.55 0 1 0 -5.1 0M534.7 90.7a2.55 2.55 0 1 0 5.1 0a2.55 2.55 0 1 0 -5.1 0M536.4 91.8a2.55 2.55 0 1 0 5.1 0a2.55 2.55 0 1 0 -5.1 0M527.9 89.8a2.55 2.55 0 1 0 5.1 0a2.55 2.55 0 1 0 -5.1 0M547.8 108.9a2.55 2.55 0 1 0 5.1 0a2.55 2.55 0 1 0 -5.1 0M520.9 110.3a2.55 2.55 0 1 0 5.1 0a2.55 2.55 0 1 0 -5.1 0M531.4 85.6a2.55 2.55 0 1 0 5.1 0a2.55 2.55 0 1 0 -5.1 0M560.8 90.6a2.55 2.55 0 1 0 5.1 0a2.55 2.55 0 1 0 -5.1 0M563.8 72.5a2.55 2.55 0 1 0 5.1 0a2.55 2.55 0 1 0 -5.1 0M529.0 83.2a2.55 2.55 0 1 0 5.1 0a2.55 2.55 0 1 0 -5.1 0M552.4 82.0a2.55 2.55 0 1 0 5.1 0a2.55 2.55 0 1 0 -5.1 0M566.2 82.5a2.55 2.55 0 1 0 5.1 0a2.55 2.55 0 1 0 -5.1 0M548.4 78.2a2.55 2.55 0 1 0 5.1 0a2.55 2.55 0 1 0 -5.1 0M543.6 103.8a2.55 2.55 0 1 0 5.1 0a2.55 2.55 0 1 0 -5.1 0M550.0 75.0a2.55 2.55 0 1 0 5.1 0a2.55 2.55 0 1 0 -5.1 0M513.8 90.4a2.55 2.55 0 1 0 5.1 0a2.55 2.55 0 1 0 -5.1 0M530.4 102.0a2.55 2.55 0 1 0 5.1 0a2.55 2.55 0 1 0 -5.1 0M559.6 84.7a2.55 2.55 0 1 0 5.1 0a2.55 2.55 0 1 0 -5.1 0M541.1 74.4a2.55 2.55 0 1 0 5.1 0a2.55 2.55 0 1 0 -5.1 0M565.9 93.2a2.55 2.55 0 1 0 5.1 0a2.55 2.55 0 1 0 -5.1 0M544.0 95.3a2.55 2.55 0 1 0 5.1 0a2.55 2.55 0 1 0 -5.1 0M553.7 97.8a2.55 2.55 0 1 0 5.1 0a2.55 2.55 0 1 0 -5.1 0M523.9 103.8a2.55 2.55 0 1 0 5.1 0a2.55 2.55 0 1 0 -5.1 0M545.9 73.6a2.55 2.55 0 1 0 5.1 0a2.55 2.55 0 1 0 -5.1 0M532.5 76.3a2.55 2.55 0 1 0 5.1 0a2.55 2.55 0 1 0 -5.1 0M540.2 72.8a2.55 2.55 0 1 0 5.1 0a2.55 2.55 0 1 0 -5.1 0M545.3 100.6a2.55 2.55 0 1 0 5.1 0a2.55 2.55 0 1 0 -5.1 0M554.8 82.0a2.55 2.55 0 1 0 5.1 0a2.55 2.55 0 1 0 -5.1 0M566.8 87.7a2.55 2.55 0 1 0 5.1 0a2.55 2.55 0 1 0 -5.1 0M541.8 86.9a2.55 2.55 0 1 0 5.1 0a2.55 2.55 0 1 0 -5.1 0M556.8 82.6a2.55 2.55 0 1 0 5.1 0a2.55 2.55 0 1 0 -5.1 0M538.2 72.5a2.55 2.55 0 1 0 5.1 0a2.55 2.55 0 1 0 -5.1 0M519.1 118.2a2.55 2.55 0 1 0 5.1 0a2.55 2.55 0 1 0 -5.1 0M555.4 74.0a2.55 2.55 0 1 0 5.1 0a2.55 2.55 0 1 0 -5.1 0M558.7 84.7a2.55 2.55 0 1 0 5.1 0a2.55 2.55 0 1 0 -5.1 0M552.2 91.5a2.55 2.55 0 1 0 5.1 0a2.55 2.55 0 1 0 -5.1 0M570.1 109.7a2.55 2.55 0 1 0 5.1 0a2.55 2.55 0 1 0 -5.1 0M546.7 106.2a2.55 2.55 0 1 0 5.1 0a2.55 2.55 0 1 0 -5.1 0M553.8 93.7a2.55 2.55 0 1 0 5.1 0a2.55 2.55 0 1 0 -5.1 0M547.5 87.5a2.55 2.55 0 1 0 5.1 0a2.55 2.55 0 1 0 -5.1 0M542.2 77.6a2.55 2.55 0 1 0 5.1 0a2.55 2.55 0 1 0 -5.1 0M545.6 79.8a2.55 2.55 0 1 0 5.1 0a2.55 2.55 0 1 0 -5.1 0M539.2 87.3a2.55 2.55 0 1 0 5.1 0a2.55 2.55 0 1 0 -5.1 0M549.6 69.4a2.55 2.55 0 1 0 5.1 0a2.55 2.55 0 1 0 -5.1 0M544.5 75.5a2.55 2.55 0 1 0 5.1 0a2.55 2.55 0 1 0 -5.1 0M532.1 99.9a2.55 2.55 0 1 0 5.1 0a2.55 2.55 0 1 0 -5.1 0M541.2 68.9a2.55 2.55 0 1 0 5.1 0a2.55 2.55 0 1 0 -5.1 0M561.0 82.0a2.55 2.55 0 1 0 5.1 0a2.55 2.55 0 1 0 -5.1 0M530.6 101.5a2.55 2.55 0 1 0 5.1 0a2.55 2.55 0 1 0 -5.1 0M537.8 96.1a2.55 2.55 0 1 0 5.1 0a2.55 2.55 0 1 0 -5.1 0M533.7 84.2a2.55 2.55 0 1 0 5.1 0a2.55 2.55 0 1 0 -5.1 0M533.8 111.5a2.55 2.55 0 1 0 5.1 0a2.55 2.55 0 1 0 -5.1 0M542.4 95.6a2.55 2.55 0 1 0 5.1 0a2.55 2.55 0 1 0 -5.1 0M525.8 91.3a2.55 2.55 0 1 0 5.1 0a2.55 2.55 0 1 0 -5.1 0M553.0 97.9a2.55 2.55 0 1 0 5.1 0a2.55 2.55 0 1 0 -5.1 0M547.6 80.1a2.55 2.55 0 1 0 5.1 0a2.55 2.55 0 1 0 -5.1 0M552.2 80.4a2.55 2.55 0 1 0 5.1 0a2.55 2.55 0 1 0 -5.1 0M560.6 82.3a2.55 2.55 0 1 0 5.1 0a2.55 2.55 0 1 0 -5.1 0M526.8 80.4a2.55 2.55 0 1 0 5.1 0a2.55 2.55 0 1 0 -5.1 0M545.0 93.5a2.55 2.55 0 1 0 5.1 0a2.55 2.55 0 1 0 -5.1 0M556.2 94.7a2.55 2.55 0 1 0 5.1 0a2.55 2.55 0 1 0 -5.1 0M560.1 93.6a2.55 2.55 0 1 0 5.1 0a2.55 2.55 0 1 0 -5.1 0M527.9 96.1a2.55 2.55 0 1 0 5.1 0a2.55 2.55 0 1 0 -5.1 0M536.2 86.5a2.55 2.55 0 1 0 5.1 0a2.55 2.55 0 1 0 -5.1 0M554.1 69.2a2.55 2.55 0 1 0 5.1 0a2.55 2.55 0 1 0 -5.1 0M566.5 71.8a2.55 2.55 0 1 0 5.1 0a2.55 2.55 0 1 0 -5.1 0M529.2 90.5a2.55 2.55 0 1 0 5.1 0a2.55 2.55 0 1 0 -5.1 0M541.9 104.6a2.55 2.55 0 1 0 5.1 0a2.55 2.55 0 1 0 -5.1 0M552.6 70.5a2.55 2.55 0 1 0 5.1 0a2.55 2.55 0 1 0 -5.1 0M561.6 65.7a2.55 2.55 0 1 0 5.1 0a2.55 2.55 0 1 0 -5.1 0M527.5 87.5a2.55 2.55 0 1 0 5.1 0a2.55 2.55 0 1 0 -5.1 0M548.3 90.9a2.55 2.55 0 1 0 5.1 0a2.55 2.55 0 1 0 -5.1 0M547.6 66.9a2.55 2.55 0 1 0 5.1 0a2.55 2.55 0 1 0 -5.1 0M527.2 93.3a2.55 2.55 0 1 0 5.1 0a2.55 2.55 0 1 0 -5.1 0M569.7 77.5a2.55 2.55 0 1 0 5.1 0a2.55 2.55 0 1 0 -5.1 0M546.6 95.5a2.55 2.55 0 1 0 5.1 0a2.55 2.55 0 1 0 -5.1 0M565.1 105.2a2.55 2.55 0 1 0 5.1 0a2.55 2.55 0 1 0 -5.1 0M565.2 78.4a2.55 2.55 0 1 0 5.1 0a2.55 2.55 0 1 0 -5.1 0M546.3 66.3a2.55 2.55 0 1 0 5.1 0a2.55 2.55 0 1 0 -5.1 0M558.3 63.6a2.55 2.55 0 1 0 5.1 0a2.55 2.55 0 1 0 -5.1 0M542.5 78.0a2.55 2.55 0 1 0 5.1 0a2.55 2.55 0 1 0 -5.1 0M565.4 89.9a2.55 2.55 0 1 0 5.1 0a2.55 2.55 0 1 0 -5.1 0M549.4 90.1a2.55 2.55 0 1 0 5.1 0a2.55 2.55 0 1 0 -5.1 0M537.7 101.6a2.55 2.55 0 1 0 5.1 0a2.55 2.55 0 1 0 -5.1 0M557.3 121.9a2.55 2.55 0 1 0 5.1 0a2.55 2.55 0 1 0 -5.1 0M528.7 106.1a2.55 2.55 0 1 0 5.1 0a2.55 2.55 0 1 0 -5.1 0M564.8 89.9a2.55 2.55 0 1 0 5.1 0a2.55 2.55 0 1 0 -5.1 0M549.2 92.5a2.55 2.55 0 1 0 5.1 0a2.55 2.55 0 1 0 -5.1 0M561.1 97.7a2.55 2.55 0 1 0 5.1 0a2.55 2.55 0 1 0 -5.1 0M531.7 91.8a2.55 2.55 0 1 0 5.1 0a2.55 2.55 0 1 0 -5.1 0M564.4 81.1a2.55 2.55 0 1 0 5.1 0a2.55 2.55 0 1 0 -5.1 0M559.7 72.8a2.55 2.55 0 1 0 5.1 0a2.55 2.55 0 1 0 -5.1 0M550.1 83.2a2.55 2.55 0 1 0 5.1 0a2.55 2.55 0 1 0 -5.1 0M537.1 105.4a2.55 2.55 0 1 0 5.1 0a2.55 2.55 0 1 0 -5.1 0M548.8 90.8a2.55 2.55 0 1 0 5.1 0a2.55 2.55 0 1 0 -5.1 0M537.2 66.2a2.55 2.55 0 1 0 5.1 0a2.55 2.55 0 1 0 -5.1 0M554.9 86.9a2.55 2.55 0 1 0 5.1 0a2.55 2.55 0 1 0 -5.1 0M555.4 73.2a2.55 2.55 0 1 0 5.1 0a2.55 2.55 0 1 0 -5.1 0M572.2 80.8a2.55 2.55 0 1 0 5.1 0a2.55 2.55 0 1 0 -5.1 0M541.3 89.0a2.55 2.55 0 1 0 5.1 0a2.55 2.55 0 1 0 -5.1 0M563.7 67.0a2.55 2.55 0 1 0 5.1 0a2.55 2.55 0 1 0 -5.1 0M552.3 78.4a2.55 2.55 0 1 0 5.1 0a2.55 2.55 0 1 0 -5.1 0M528.7 92.8a2.55 2.55 0 1 0 5.1 0a2.55 2.55 0 1 0 -5.1 0M529.3 92.2a2.55 2.55 0 1 0 5.1 0a2.55 2.55 0 1 0 -5.1 0M540.2 79.2a2.55 2.55 0 1 0 5.1 0a2.55 2.55 0 1 0 -5.1 0M534.9 88.9a2.55 2.55 0 1 0 5.1 0a2.55 2.55 0 1 0 -5.1 0M536.6 90.3a2.55 2.55 0 1 0 5.1 0a2.55 2.55 0 1 0 -5.1 0M556.7 67.7a2.55 2.55 0 1 0 5.1 0a2.55 2.55 0 1 0 -5.1 0M534.4 87.3a2.55 2.55 0 1 0 5.1 0a2.55 2.55 0 1 0 -5.1 0M541.6 101.9a2.55 2.55 0 1 0 5.1 0a2.55 2.55 0 1 0 -5.1 0M553.1 79.8a2.55 2.55 0 1 0 5.1 0a2.55 2.55 0 1 0 -5.1 0M543.7 91.0a2.55 2.55 0 1 0 5.1 0a2.55 2.55 0 1 0 -5.1 0M550.8 86.4a2.55 2.55 0 1 0 5.1 0a2.55 2.55 0 1 0 -5.1 0M543.9 91.2a2.55 2.55 0 1 0 5.1 0a2.55 2.55 0 1 0 -5.1 0M553.8 81.1a2.55 2.55 0 1 0 5.1 0a2.55 2.55 0 1 0 -5.1 0M560.3 98.5a2.55 2.55 0 1 0 5.1 0a2.55 2.55 0 1 0 -5.1 0M552.9 86.7a2.55 2.55 0 1 0 5.1 0a2.55 2.55 0 1 0 -5.1 0M544.6 109.6a2.55 2.55 0 1 0 5.1 0a2.55 2.55 0 1 0 -5.1 0M548.5 100.0a2.55 2.55 0 1 0 5.1 0a2.55 2.55 0 1 0 -5.1 0M536.9 95.7a2.55 2.55 0 1 0 5.1 0a2.55 2.55 0 1 0 -5.1 0M564.1 80.8a2.55 2.55 0 1 0 5.1 0a2.55 2.55 0 1 0 -5.1 0M553.8 70.7a2.55 2.55 0 1 0 5.1 0a2.55 2.55 0 1 0 -5.1 0M544.1 96.5a2.55 2.55 0 1 0 5.1 0a2.55 2.55 0 1 0 -5.1 0M557.7 66.6a2.55 2.55 0 1 0 5.1 0a2.55 2.55 0 1 0 -5.1 0M518.4 103.4a2.55 2.55 0 1 0 5.1 0a2.55 2.55 0 1 0 -5.1 0M557.8 80.3a2.55 2.55 0 1 0 5.1 0a2.55 2.55 0 1 0 -5.1 0M574.6 79.4a2.55 2.55 0 1 0 5.1 0a2.55 2.55 0 1 0 -5.1 0M553.4 71.4a2.55 2.55 0 1 0 5.1 0a2.55 2.55 0 1 0 -5.1 0M546.4 97.7a2.55 2.55 0 1 0 5.1 0a2.55 2.55 0 1 0 -5.1 0M547.2 76.3a2.55 2.55 0 1 0 5.1 0a2.55 2.55 0 1 0 -5.1 0M525.6 83.7a2.55 2.55 0 1 0 5.1 0a2.55 2.55 0 1 0 -5.1 0M550.9 97.0a2.55 2.55 0 1 0 5.1 0a2.55 2.55 0 1 0 -5.1 0M534.4 70.4a2.55 2.55 0 1 0 5.1 0a2.55 2.55 0 1 0 -5.1 0M514.4 118.0a2.55 2.55 0 1 0 5.1 0a2.55 2.55 0 1 0 -5.1 0M546.2 89.3a2.55 2.55 0 1 0 5.1 0a2.55 2.55 0 1 0 -5.1 0M562.9 74.1a2.55 2.55 0 1 0 5.1 0a2.55 2.55 0 1 0 -5.1 0M549.9 95.5a2.55 2.55 0 1 0 5.1 0a2.55 2.55 0 1 0 -5.1 0M517.7 96.5a2.55 2.55 0 1 0 5.1 0a2.55 2.55 0 1 0 -5.1 0M546.0 111.2a2.55 2.55 0 1 0 5.1 0a2.55 2.55 0 1 0 -5.1 0M574.7 101.3a2.55 2.55 0 1 0 5.1 0a2.55 2.55 0 1 0 -5.1 0M535.5 79.2a2.55 2.55 0 1 0 5.1 0a2.55 2.55 0 1 0 -5.1 0M566.4 84.3a2.55 2.55 0 1 0 5.1 0a2.55 2.55 0 1 0 -5.1 0M517.1 97.3a2.55 2.55 0 1 0 5.1 0a2.55 2.55 0 1 0 -5.1 0M519.1 85.6a2.55 2.55 0 1 0 5.1 0a2.55 2.55 0 1 0 -5.1 0M548.0 78.5a2.55 2.55 0 1 0 5.1 0a2.55 2.55 0 1 0 -5.1 0M534.5 84.0a2.55 2.55 0 1 0 5.1 0a2.55 2.55 0 1 0 -5.1 0M540.0 93.6a2.55 2.55 0 1 0 5.1 0a2.55 2.55 0 1 0 -5.1 0M533.1 103.0a2.55 2.55 0 1 0 5.1 0a2.55 2.55 0 1 0 -5.1 0M565.1 77.2a2.55 2.55 0 1 0 5.1 0a2.55 2.55 0 1 0 -5.1 0M563.1 71.4a2.55 2.55 0 1 0 5.1 0a2.55 2.55 0 1 0 -5.1 0M538.1 86.9a2.55 2.55 0 1 0 5.1 0a2.55 2.55 0 1 0 -5.1 0M544.3 83.8a2.55 2.55 0 1 0 5.1 0a2.55 2.55 0 1 0 -5.1 0M555.8 80.8a2.55 2.55 0 1 0 5.1 0a2.55 2.55 0 1 0 -5.1 0M559.1 83.6a2.55 2.55 0 1 0 5.1 0a2.55 2.55 0 1 0 -5.1 0M536.4 78.0a2.55 2.55 0 1 0 5.1 0a2.55 2.55 0 1 0 -5.1 0M533.6 98.0a2.55 2.55 0 1 0 5.1 0a2.55 2.55 0 1 0 -5.1 0M550.4 99.1a2.55 2.55 0 1 0 5.1 0a2.55 2.55 0 1 0 -5.1 0M543.7 87.8a2.55 2.55 0 1 0 5.1 0a2.55 2.55 0 1 0 -5.1 0M550.0 104.8a2.55 2.55 0 1 0 5.1 0a2.55 2.55 0 1 0 -5.1 0M558.4 74.9a2.55 2.55 0 1 0 5.1 0a2.55 2.55 0 1 0 -5.1 0M556.2 98.6a2.55 2.55 0 1 0 5.1 0a2.55 2.55 0 1 0 -5.1 0M540.9 99.4a2.55 2.55 0 1 0 5.1 0a2.55 2.55 0 1 0 -5.1 0M532.1 90.2a2.55 2.55 0 1 0 5.1 0a2.55 2.55 0 1 0 -5.1 0M554.3 78.9a2.55 2.55 0 1 0 5.1 0a2.55 2.55 0 1 0 -5.1 0M526.1 96.5a2.55 2.55 0 1 0 5.1 0a2.55 2.55 0 1 0 -5.1 0M551.5 76.3a2.55 2.55 0 1 0 5.1 0a2.55 2.55 0 1 0 -5.1 0M548.0 76.4a2.55 2.55 0 1 0 5.1 0a2.55 2.55 0 1 0 -5.1 0M561.0 86.8a2.55 2.55 0 1 0 5.1 0a2.55 2.55 0 1 0 -5.1 0M573.8 69.4a2.55 2.55 0 1 0 5.1 0a2.55 2.55 0 1 0 -5.1 0M541.0 75.8a2.55 2.55 0 1 0 5.1 0a2.55 2.55 0 1 0 -5.1 0M557.6 102.2a2.55 2.55 0 1 0 5.1 0a2.55 2.55 0 1 0 -5.1 0M540.5 68.9a2.55 2.55 0 1 0 5.1 0a2.55 2.55 0 1 0 -5.1 0M550.3 85.3a2.55 2.55 0 1 0 5.1 0a2.55 2.55 0 1 0 -5.1 0M536.3 84.1a2.55 2.55 0 1 0 5.1 0a2.55 2.55 0 1 0 -5.1 0M523.2 86.5a2.55 2.55 0 1 0 5.1 0a2.55 2.55 0 1 0 -5.1 0M516.5 89.0a2.55 2.55 0 1 0 5.1 0a2.55 2.55 0 1 0 -5.1 0M530.5 73.5a2.55 2.55 0 1 0 5.1 0a2.55 2.55 0 1 0 -5.1 0M546.6 76.3a2.55 2.55 0 1 0 5.1 0a2.55 2.55 0 1 0 -5.1 0M543.9 96.6a2.55 2.55 0 1 0 5.1 0a2.55 2.55 0 1 0 -5.1 0M545.4 98.9a2.55 2.55 0 1 0 5.1 0a2.55 2.55 0 1 0 -5.1 0M534.2 88.6a2.55 2.55 0 1 0 5.1 0a2.55 2.55 0 1 0 -5.1 0M534.3 84.8a2.55 2.55 0 1 0 5.1 0a2.55 2.55 0 1 0 -5.1 0M550.2 83.9a2.55 2.55 0 1 0 5.1 0a2.55 2.55 0 1 0 -5.1 0M526.7 96.7a2.55 2.55 0 1 0 5.1 0a2.55 2.55 0 1 0 -5.1 0M560.6 72.6a2.55 2.55 0 1 0 5.1 0a2.55 2.55 0 1 0 -5.1 0M519.0 98.8a2.55 2.55 0 1 0 5.1 0a2.55 2.55 0 1 0 -5.1 0M541.5 88.1a2.55 2.55 0 1 0 5.1 0a2.55 2.55 0 1 0 -5.1 0M525.1 100.2a2.55 2.55 0 1 0 5.1 0a2.55 2.55 0 1 0 -5.1 0M550.0 103.2a2.55 2.55 0 1 0 5.1 0a2.55 2.55 0 1 0 -5.1 0M545.6 91.9a2.55 2.55 0 1 0 5.1 0a2.55 2.55 0 1 0 -5.1 0M561.9 78.4a2.55 2.55 0 1 0 5.1 0a2.55 2.55 0 1 0 -5.1 0M539.9 97.7a2.55 2.55 0 1 0 5.1 0a2.55 2.55 0 1 0 -5.1 0M545.9 78.3a2.55 2.55 0 1 0 5.1 0a2.55 2.55 0 1 0 -5.1 0M551.1 75.4a2.55 2.55 0 1 0 5.1 0a2.55 2.55 0 1 0 -5.1 0M541.0 92.6a2.55 2.55 0 1 0 5.1 0a2.55 2.55 0 1 0 -5.1 0M548.9 100.8a2.55 2.55 0 1 0 5.1 0a2.55 2.55 0 1 0 -5.1 0M542.6 79.2a2.55 2.55 0 1 0 5.1 0a2.55 2.55 0 1 0 -5.1 0M562.8 94.6a2.55 2.55 0 1 0 5.1 0a2.55 2.55 0 1 0 -5.1 0M536.1 116.6a2.55 2.55 0 1 0 5.1 0a2.55 2.55 0 1 0 -5.1 0M555.6 72.9a2.55 2.55 0 1 0 5.1 0a2.55 2.55 0 1 0 -5.1 0M566.0 91.6a2.55 2.55 0 1 0 5.1 0a2.55 2.55 0 1 0 -5.1 0M546.2 73.5a2.55 2.55 0 1 0 5.1 0a2.55 2.55 0 1 0 -5.1 0M532.0 98.1a2.55 2.55 0 1 0 5.1 0a2.55 2.55 0 1 0 -5.1 0M554.9 80.9a2.55 2.55 0 1 0 5.1 0a2.55 2.55 0 1 0 -5.1 0M538.8 105.1a2.55 2.55 0 1 0 5.1 0a2.55 2.55 0 1 0 -5.1 0M541.1 82.5a2.55 2.55 0 1 0 5.1 0a2.55 2.55 0 1 0 -5.1 0M548.6 112.2a2.55 2.55 0 1 0 5.1 0a2.55 2.55 0 1 0 -5.1 0M546.0 79.7a2.55 2.55 0 1 0 5.1 0a2.55 2.55 0 1 0 -5.1 0M551.9 89.7a2.55 2.55 0 1 0 5.1 0a2.55 2.55 0 1 0 -5.1 0M575.7 75.6a2.55 2.55 0 1 0 5.1 0a2.55 2.55 0 1 0 -5.1 0M532.8 91.3a2.55 2.55 0 1 0 5.1 0a2.55 2.55 0 1 0 -5.1 0M539.0 100.9a2.55 2.55 0 1 0 5.1 0a2.55 2.55 0 1 0 -5.1 0M532.2 87.1a2.55 2.55 0 1 0 5.1 0a2.55 2.55 0 1 0 -5.1 0M549.5 85.2a2.55 2.55 0 1 0 5.1 0a2.55 2.55 0 1 0 -5.1 0M573.1 81.5a2.55 2.55 0 1 0 5.1 0a2.55 2.55 0 1 0 -5.1 0M551.9 88.4a2.55 2.55 0 1 0 5.1 0a2.55 2.55 0 1 0 -5.1 0M544.3 80.6a2.55 2.55 0 1 0 5.1 0a2.55 2.55 0 1 0 -5.1 0M554.7 77.0a2.55 2.55 0 1 0 5.1 0a2.55 2.55 0 1 0 -5.1 0M544.5 85.8a2.55 2.55 0 1 0 5.1 0a2.55 2.55 0 1 0 -5.1 0M533.6 78.2a2.55 2.55 0 1 0 5.1 0a2.55 2.55 0 1 0 -5.1 0M557.3 69.6a2.55 2.55 0 1 0 5.1 0a2.55 2.55 0 1 0 -5.1 0M532.8 88.4a2.55 2.55 0 1 0 5.1 0a2.55 2.55 0 1 0 -5.1 0M566.9 87.8a2.55 2.55 0 1 0 5.1 0a2.55 2.55 0 1 0 -5.1 0M544.3 84.3a2.55 2.55 0 1 0 5.1 0a2.55 2.55 0 1 0 -5.1 0M567.1 79.5a2.55 2.55 0 1 0 5.1 0a2.55 2.55 0 1 0 -5.1 0M531.9 102.6a2.55 2.55 0 1 0 5.1 0a2.55 2.55 0 1 0 -5.1 0M545.5 100.4a2.55 2.55 0 1 0 5.1 0a2.55 2.55 0 1 0 -5.1 0M571.5 89.1a2.55 2.55 0 1 0 5.1 0a2.55 2.55 0 1 0 -5.1 0M544.7 95.7a2.55 2.55 0 1 0 5.1 0a2.55 2.55 0 1 0 -5.1 0M527.9 85.5a2.55 2.55 0 1 0 5.1 0a2.55 2.55 0 1 0 -5.1 0M537.8 82.6a2.55 2.55 0 1 0 5.1 0a2.55 2.55 0 1 0 -5.1 0M544.4 88.9a2.55 2.55 0 1 0 5.1 0a2.55 2.55 0 1 0 -5.1 0M556.2 90.8a2.55 2.55 0 1 0 5.1 0a2.55 2.55 0 1 0 -5.1 0M544.4 102.2a2.55 2.55 0 1 0 5.1 0a2.55 2.55 0 1 0 -5.1 0M559.8 87.5a2.55 2.55 0 1 0 5.1 0a2.55 2.55 0 1 0 -5.1 0M551.1 88.7a2.55 2.55 0 1 0 5.1 0a2.55 2.55 0 1 0 -5.1 0M545.8 95.1a2.55 2.55 0 1 0 5.1 0a2.55 2.55 0 1 0 -5.1 0M534.9 89.9a2.55 2.55 0 1 0 5.1 0a2.55 2.55 0 1 0 -5.1 0M557.5 90.5a2.55 2.55 0 1 0 5.1 0a2.55 2.55 0 1 0 -5.1 0M539.9 79.4a2.55 2.55 0 1 0 5.1 0a2.55 2.55 0 1 0 -5.1 0M552.1 75.0a2.55 2.55 0 1 0 5.1 0a2.55 2.55 0 1 0 -5.1 0M561.5 86.9a2.55 2.55 0 1 0 5.1 0a2.55 2.55 0 1 0 -5.1 0M552.5 76.1a2.55 2.55 0 1 0 5.1 0a2.55 2.55 0 1 0 -5.1 0M564.8 69.1a2.55 2.55 0 1 0 5.1 0a2.55 2.55 0 1 0 -5.1 0M535.1 111.8a2.55 2.55 0 1 0 5.1 0a2.55 2.55 0 1 0 -5.1 0M542.1 91.2a2.55 2.55 0 1 0 5.1 0a2.55 2.55 0 1 0 -5.1 0M527.2 83.5a2.55 2.55 0 1 0 5.1 0a2.55 2.55 0 1 0 -5.1 0M547.4 91.4a2.55 2.55 0 1 0 5.1 0a2.55 2.55 0 1 0 -5.1 0M544.1 94.8a2.55 2.55 0 1 0 5.1 0a2.55 2.55 0 1 0 -5.1 0M571.4 76.4a2.55 2.55 0 1 0 5.1 0a2.55 2.55 0 1 0 -5.1 0M529.1 96.7a2.55 2.55 0 1 0 5.1 0a2.55 2.55 0 1 0 -5.1 0M558.2 77.9a2.55 2.55 0 1 0 5.1 0a2.55 2.55 0 1 0 -5.1 0M530.2 95.7a2.55 2.55 0 1 0 5.1 0a2.55 2.55 0 1 0 -5.1 0M545.9 74.7a2.55 2.55 0 1 0 5.1 0a2.55 2.55 0 1 0 -5.1 0M547.4 93.6a2.55 2.55 0 1 0 5.1 0a2.55 2.55 0 1 0 -5.1 0M564.2 79.6a2.55 2.55 0 1 0 5.1 0a2.55 2.55 0 1 0 -5.1 0M545.4 111.7a2.55 2.55 0 1 0 5.1 0a2.55 2.55 0 1 0 -5.1 0M565.3 91.8a2.55 2.55 0 1 0 5.1 0a2.55 2.55 0 1 0 -5.1 0M522.4 89.7a2.55 2.55 0 1 0 5.1 0a2.55 2.55 0 1 0 -5.1 0M557.0 105.9a2.55 2.55 0 1 0 5.1 0a2.55 2.55 0 1 0 -5.1 0M528.0 98.9a2.55 2.55 0 1 0 5.1 0a2.55 2.55 0 1 0 -5.1 0M552.4 89.1a2.55 2.55 0 1 0 5.1 0a2.55 2.55 0 1 0 -5.1 0M540.7 89.1a2.55 2.55 0 1 0 5.1 0a2.55 2.55 0 1 0 -5.1 0M534.2 79.8a2.55 2.55 0 1 0 5.1 0a2.55 2.55 0 1 0 -5.1 0M519.5 99.6a2.55 2.55 0 1 0 5.1 0a2.55 2.55 0 1 0 -5.1 0M523.7 102.5a2.55 2.55 0 1 0 5.1 0a2.55 2.55 0 1 0 -5.1 0M516.8 112.2a2.55 2.55 0 1 0 5.1 0a2.55 2.55 0 1 0 -5.1 0M553.6 75.0a2.55 2.55 0 1 0 5.1 0a2.55 2.55 0 1 0 -5.1 0M557.4 88.8a2.55 2.55 0 1 0 5.1 0a2.55 2.55 0 1 0 -5.1 0M547.1 82.9a2.55 2.55 0 1 0 5.1 0a2.55 2.55 0 1 0 -5.1 0M560.8 84.6a2.55 2.55 0 1 0 5.1 0a2.55 2.55 0 1 0 -5.1 0M519.2 91.0a2.55 2.55 0 1 0 5.1 0a2.55 2.55 0 1 0 -5.1 0M545.3 84.0a2.55 2.55 0 1 0 5.1 0a2.55 2.55 0 1 0 -5.1 0M543.9 119.2a2.55 2.55 0 1 0 5.1 0a2.55 2.55 0 1 0 -5.1 0M527.4 108.5a2.55 2.55 0 1 0 5.1 0a2.55 2.55 0 1 0 -5.1 0M547.8 93.3a2.55 2.55 0 1 0 5.1 0a2.55 2.55 0 1 0 -5.1 0M547.1 106.3a2.55 2.55 0 1 0 5.1 0a2.55 2.55 0 1 0 -5.1 0M549.5 85.7a2.55 2.55 0 1 0 5.1 0a2.55 2.55 0 1 0 -5.1 0M527.4 72.2a2.55 2.55 0 1 0 5.1 0a2.55 2.55 0 1 0 -5.1 0M526.7 81.2a2.55 2.55 0 1 0 5.1 0a2.55 2.55 0 1 0 -5.1 0M535.7 95.7a2.55 2.55 0 1 0 5.1 0a2.55 2.55 0 1 0 -5.1 0M542.4 95.3a2.55 2.55 0 1 0 5.1 0a2.55 2.55 0 1 0 -5.1 0M537.7 98.7a2.55 2.55 0 1 0 5.1 0a2.55 2.55 0 1 0 -5.1 0M547.4 88.6a2.55 2.55 0 1 0 5.1 0a2.55 2.55 0 1 0 -5.1 0M549.2 99.6a2.55 2.55 0 1 0 5.1 0a2.55 2.55 0 1 0 -5.1 0M552.1 85.8a2.55 2.55 0 1 0 5.1 0a2.55 2.55 0 1 0 -5.1 0M549.7 78.3a2.55 2.55 0 1 0 5.1 0a2.55 2.55 0 1 0 -5.1 0M539.0 83.5a2.55 2.55 0 1 0 5.1 0a2.55 2.55 0 1 0 -5.1 0M560.0 89.4a2.55 2.55 0 1 0 5.1 0a2.55 2.55 0 1 0 -5.1 0M558.0 95.0a2.55 2.55 0 1 0 5.1 0a2.55 2.55 0 1 0 -5.1 0M555.1 74.1a2.55 2.55 0 1 0 5.1 0a2.55 2.55 0 1 0 -5.1 0M547.6 65.6a2.55 2.55 0 1 0 5.1 0a2.55 2.55 0 1 0 -5.1 0M524.7 94.1a2.55 2.55 0 1 0 5.1 0a2.55 2.55 0 1 0 -5.1 0M553.1 99.5a2.55 2.55 0 1 0 5.1 0a2.55 2.55 0 1 0 -5.1 0M544.5 112.7a2.55 2.55 0 1 0 5.1 0a2.55 2.55 0 1 0 -5.1 0M549.4 90.5a2.55 2.55 0 1 0 5.1 0a2.55 2.55 0 1 0 -5.1 0M522.5 90.9a2.55 2.55 0 1 0 5.1 0a2.55 2.55 0 1 0 -5.1 0M557.7 82.2a2.55 2.55 0 1 0 5.1 0a2.55 2.55 0 1 0 -5.1 0M540.9 92.8a2.55 2.55 0 1 0 5.1 0a2.55 2.55 0 1 0 -5.1 0M537.2 79.9a2.55 2.55 0 1 0 5.1 0a2.55 2.55 0 1 0 -5.1 0M537.1 67.3a2.55 2.55 0 1 0 5.1 0a2.55 2.55 0 1 0 -5.1 0M550.2 89.8a2.55 2.55 0 1 0 5.1 0a2.55 2.55 0 1 0 -5.1 0M533.1 82.6a2.55 2.55 0 1 0 5.1 0a2.55 2.55 0 1 0 -5.1 0M551.2 81.6a2.55 2.55 0 1 0 5.1 0a2.55 2.55 0 1 0 -5.1 0M541.0 97.8a2.55 2.55 0 1 0 5.1 0a2.55 2.55 0 1 0 -5.1 0M557.9 82.1a2.55 2.55 0 1 0 5.1 0a2.55 2.55 0 1 0 -5.1 0M539.6 72.1a2.55 2.55 0 1 0 5.1 0a2.55 2.55 0 1 0 -5.1 0M553.4 72.8a2.55 2.55 0 1 0 5.1 0a2.55 2.55 0 1 0 -5.1 0M564.5 73.4a2.55 2.55 0 1 0 5.1 0a2.55 2.55 0 1 0 -5.1 0M539.2 86.5a2.55 2.55 0 1 0 5.1 0a2.55 2.55 0 1 0 -5.1 0M558.4 86.1a2.55 2.55 0 1 0 5.1 0a2.55 2.55 0 1 0 -5.1 0M521.5 91.6a2.55 2.55 0 1 0 5.1 0a2.55 2.55 0 1 0 -5.1 0M561.7 89.4a2.55 2.55 0 1 0 5.1 0a2.55 2.55 0 1 0 -5.1 0M553.8 99.2a2.55 2.55 0 1 0 5.1 0a2.55 2.55 0 1 0 -5.1 0M548.9 82.5a2.55 2.55 0 1 0 5.1 0a2.55 2.55 0 1 0 -5.1 0M551.4 107.1a2.55 2.55 0 1 0 5.1 0a2.55 2.55 0 1 0 -5.1 0M543.5 82.6a2.55 2.55 0 1 0 5.1 0a2.55 2.55 0 1 0 -5.1 0M568.5 79.7a2.55 2.55 0 1 0 5.1 0a2.55 2.55 0 1 0 -5.1 0M551.3 71.7a2.55 2.55 0 1 0 5.1 0a2.55 2.55 0 1 0 -5.1 0M549.6 89.3a2.55 2.55 0 1 0 5.1 0a2.55 2.55 0 1 0 -5.1 0M531.2 78.6a2.55 2.55 0 1 0 5.1 0a2.55 2.55 0 1 0 -5.1 0M568.3 81.4a2.55 2.55 0 1 0 5.1 0a2.55 2.55 0 1 0 -5.1 0M557.0 107.2a2.55 2.55 0 1 0 5.1 0a2.55 2.55 0 1 0 -5.1 0M538.0 85.9a2.55 2.55 0 1 0 5.1 0a2.55 2.55 0 1 0 -5.1 0M549.2 87.9a2.55 2.55 0 1 0 5.1 0a2.55 2.55 0 1 0 -5.1 0M571.4 104.9a2.55 2.55 0 1 0 5.1 0a2.55 2.55 0 1 0 -5.1 0M558.7 82.8a2.55 2.55 0 1 0 5.1 0a2.55 2.55 0 1 0 -5.1 0M552.6 82.8a2.55 2.55 0 1 0 5.1 0a2.55 2.55 0 1 0 -5.1 0M522.4 99.6a2.55 2.55 0 1 0 5.1 0a2.55 2.55 0 1 0 -5.1 0M539.0 94.5a2.55 2.55 0 1 0 5.1 0a2.55 2.55 0 1 0 -5.1 0M561.7 100.2a2.55 2.55 0 1 0 5.1 0a2.55 2.55 0 1 0 -5.1 0M563.0 84.6a2.55 2.55 0 1 0 5.1 0a2.55 2.55 0 1 0 -5.1 0M553.8 87.7a2.55 2.55 0 1 0 5.1 0a2.55 2.55 0 1 0 -5.1 0M560.2 89.5a2.55 2.55 0 1 0 5.1 0a2.55 2.55 0 1 0 -5.1 0M562.8 84.3a2.55 2.55 0 1 0 5.1 0a2.55 2.55 0 1 0 -5.1 0M536.0 85.4a2.55 2.55 0 1 0 5.1 0a2.55 2.55 0 1 0 -5.1 0M548.1 81.1a2.55 2.55 0 1 0 5.1 0a2.55 2.55 0 1 0 -5.1 0M550.6 97.2a2.55 2.55 0 1 0 5.1 0a2.55 2.55 0 1 0 -5.1 0M534.7 87.2a2.55 2.55 0 1 0 5.1 0a2.55 2.55 0 1 0 -5.1 0M539.2 86.4a2.55 2.55 0 1 0 5.1 0a2.55 2.55 0 1 0 -5.1 0M544.4 89.9a2.55 2.55 0 1 0 5.1 0a2.55 2.55 0 1 0 -5.1 0M535.5 108.1a2.55 2.55 0 1 0 5.1 0a2.55 2.55 0 1 0 -5.1 0M569.3 83.9a2.55 2.55 0 1 0 5.1 0a2.55 2.55 0 1 0 -5.1 0M533.5 90.3a2.55 2.55 0 1 0 5.1 0a2.55 2.55 0 1 0 -5.1 0M537.1 105.4a2.55 2.55 0 1 0 5.1 0a2.55 2.55 0 1 0 -5.1 0M525.8 92.6a2.55 2.55 0 1 0 5.1 0a2.55 2.55 0 1 0 -5.1 0M536.3 84.9a2.55 2.55 0 1 0 5.1 0a2.55 2.55 0 1 0 -5.1 0M550.7 63.7a2.55 2.55 0 1 0 5.1 0a2.55 2.55 0 1 0 -5.1 0M520.3 90.5a2.55 2.55 0 1 0 5.1 0a2.55 2.55 0 1 0 -5.1 0M560.6 72.2a2.55 2.55 0 1 0 5.1 0a2.55 2.55 0 1 0 -5.1 0M530.3 85.0a2.55 2.55 0 1 0 5.1 0a2.55 2.55 0 1 0 -5.1 0M547.6 90.2a2.55 2.55 0 1 0 5.1 0a2.55 2.55 0 1 0 -5.1 0M537.8 90.5a2.55 2.55 0 1 0 5.1 0a2.55 2.55 0 1 0 -5.1 0M547.4 97.8a2.55 2.55 0 1 0 5.1 0a2.55 2.55 0 1 0 -5.1 0M545.6 107.6a2.55 2.55 0 1 0 5.1 0a2.55 2.55 0 1 0 -5.1 0M523.4 90.1a2.55 2.55 0 1 0 5.1 0a2.55 2.55 0 1 0 -5.1 0M542.6 75.2a2.55 2.55 0 1 0 5.1 0a2.55 2.55 0 1 0 -5.1 0M563.2 96.6a2.55 2.55 0 1 0 5.1 0a2.55 2.55 0 1 0 -5.1 0M529.9 101.0a2.55 2.55 0 1 0 5.1 0a2.55 2.55 0 1 0 -5.1 0M533.6 87.2a2.55 2.55 0 1 0 5.1 0a2.55 2.55 0 1 0 -5.1 0M565.4 69.4a2.55 2.55 0 1 0 5.1 0a2.55 2.55 0 1 0 -5.1 0M547.4 74.8a2.55 2.55 0 1 0 5.1 0a2.55 2.55 0 1 0 -5.1 0M545.6 67.3a2.55 2.55 0 1 0 5.1 0a2.55 2.55 0 1 0 -5.1 0M558.5 86.8a2.55 2.55 0 1 0 5.1 0a2.55 2.55 0 1 0 -5.1 0M549.3 94.4a2.55 2.55 0 1 0 5.1 0a2.55 2.55 0 1 0 -5.1 0M559.2 98.8a2.55 2.55 0 1 0 5.1 0a2.55 2.55 0 1 0 -5.1 0M552.2 83.9a2.55 2.55 0 1 0 5.1 0a2.55 2.55 0 1 0 -5.1 0M546.7 76.8a2.55 2.55 0 1 0 5.1 0a2.55 2.55 0 1 0 -5.1 0M549.1 80.3a2.55 2.55 0 1 0 5.1 0a2.55 2.55 0 1 0 -5.1 0M575.6 85.9a2.55 2.55 0 1 0 5.1 0a2.55 2.55 0 1 0 -5.1 0M550.6 73.4a2.55 2.55 0 1 0 5.1 0a2.55 2.55 0 1 0 -5.1 0M525.7 104.3a2.55 2.55 0 1 0 5.1 0a2.55 2.55 0 1 0 -5.1 0M524.4 90.5a2.55 2.55 0 1 0 5.1 0a2.55 2.55 0 1 0 -5.1 0M568.4 97.3a2.55 2.55 0 1 0 5.1 0a2.55 2.55 0 1 0 -5.1 0M563.8 88.5a2.55 2.55 0 1 0 5.1 0a2.55 2.55 0 1 0 -5.1 0M561.0 95.5a2.55 2.55 0 1 0 5.1 0a2.55 2.55 0 1 0 -5.1 0M553.2 90.5a2.55 2.55 0 1 0 5.1 0a2.55 2.55 0 1 0 -5.1 0M570.2 82.4a2.55 2.55 0 1 0 5.1 0a2.55 2.55 0 1 0 -5.1 0M520.1 79.5a2.55 2.55 0 1 0 5.1 0a2.55 2.55 0 1 0 -5.1 0M555.6 93.0a2.55 2.55 0 1 0 5.1 0a2.55 2.55 0 1 0 -5.1 0M551.2 84.9a2.55 2.55 0 1 0 5.1 0a2.55 2.55 0 1 0 -5.1 0M552.3 98.9a2.55 2.55 0 1 0 5.1 0a2.55 2.55 0 1 0 -5.1 0M548.4 84.8a2.55 2.55 0 1 0 5.1 0a2.55 2.55 0 1 0 -5.1 0M539.2 89.1a2.55 2.55 0 1 0 5.1 0a2.55 2.55 0 1 0 -5.1 0M553.0 63.5a2.55 2.55 0 1 0 5.1 0a2.55 2.55 0 1 0 -5.1 0M519.8 104.8a2.55 2.55 0 1 0 5.1 0a2.55 2.55 0 1 0 -5.1 0M542.5 89.1a2.55 2.55 0 1 0 5.1 0a2.55 2.55 0 1 0 -5.1 0M547.6 92.7a2.55 2.55 0 1 0 5.1 0a2.55 2.55 0 1 0 -5.1 0M567.7 90.6a2.55 2.55 0 1 0 5.1 0a2.55 2.55 0 1 0 -5.1 0M544.1 80.2a2.55 2.55 0 1 0 5.1 0a2.55 2.55 0 1 0 -5.1 0M546.7 99.4a2.55 2.55 0 1 0 5.1 0a2.55 2.55 0 1 0 -5.1 0M566.7 64.8a2.55 2.55 0 1 0 5.1 0a2.55 2.55 0 1 0 -5.1 0M543.9 95.3a2.55 2.55 0 1 0 5.1 0a2.55 2.55 0 1 0 -5.1 0M546.5 95.0a2.55 2.55 0 1 0 5.1 0a2.55 2.55 0 1 0 -5.1 0M538.1 90.8a2.55 2.55 0 1 0 5.1 0a2.55 2.55 0 1 0 -5.1 0M562.6 93.6a2.55 2.55 0 1 0 5.1 0a2.55 2.55 0 1 0 -5.1 0M563.7 73.3a2.55 2.55 0 1 0 5.1 0a2.55 2.55 0 1 0 -5.1 0M519.4 98.4a2.55 2.55 0 1 0 5.1 0a2.55 2.55 0 1 0 -5.1 0M576.6 86.6a2.55 2.55 0 1 0 5.1 0a2.55 2.55 0 1 0 -5.1 0M518.6 91.2a2.55 2.55 0 1 0 5.1 0a2.55 2.55 0 1 0 -5.1 0M532.4 81.6a2.55 2.55 0 1 0 5.1 0a2.55 2.55 0 1 0 -5.1 0M551.9 86.0a2.55 2.55 0 1 0 5.1 0a2.55 2.55 0 1 0 -5.1 0M555.6 82.0a2.55 2.55 0 1 0 5.1 0a2.55 2.55 0 1 0 -5.1 0M528.4 72.9a2.55 2.55 0 1 0 5.1 0a2.55 2.55 0 1 0 -5.1 0M526.3 96.5a2.55 2.55 0 1 0 5.1 0a2.55 2.55 0 1 0 -5.1 0M540.8 105.3a2.55 2.55 0 1 0 5.1 0a2.55 2.55 0 1 0 -5.1 0M537.2 102.0a2.55 2.55 0 1 0 5.1 0a2.55 2.55 0 1 0 -5.1 0M570.4 78.9a2.55 2.55 0 1 0 5.1 0a2.55 2.55 0 1 0 -5.1 0M548.9 104.5a2.55 2.55 0 1 0 5.1 0a2.55 2.55 0 1 0 -5.1 0M554.6 83.2a2.55 2.55 0 1 0 5.1 0a2.55 2.55 0 1 0 -5.1 0M535.6 63.6a2.55 2.55 0 1 0 5.1 0a2.55 2.55 0 1 0 -5.1 0M554.3 85.0a2.55 2.55 0 1 0 5.1 0a2.55 2.55 0 1 0 -5.1 0M542.7 93.8a2.55 2.55 0 1 0 5.1 0a2.55 2.55 0 1 0 -5.1 0M521.4 83.3a2.55 2.55 0 1 0 5.1 0a2.55 2.55 0 1 0 -5.1 0M544.3 67.6a2.55 2.55 0 1 0 5.1 0a2.55 2.55 0 1 0 -5.1 0M561.9 62.9a2.55 2.55 0 1 0 5.1 0a2.55 2.55 0 1 0 -5.1 0M557.3 78.1a2.55 2.55 0 1 0 5.1 0a2.55 2.55 0 1 0 -5.1 0M545.3 87.6a2.55 2.55 0 1 0 5.1 0a2.55 2.55 0 1 0 -5.1 0M554.7 84.9a2.55 2.55 0 1 0 5.1 0a2.55 2.55 0 1 0 -5.1 0M537.4 64.4a2.55 2.55 0 1 0 5.1 0a2.55 2.55 0 1 0 -5.1 0M528.1 80.5a2.55 2.55 0 1 0 5.1 0a2.55 2.55 0 1 0 -5.1 0M554.9 92.9a2.55 2.55 0 1 0 5.1 0a2.55 2.55 0 1 0 -5.1 0M551.2 84.0a2.55 2.55 0 1 0 5.1 0a2.55 2.55 0 1 0 -5.1 0M562.2 70.1a2.55 2.55 0 1 0 5.1 0a2.55 2.55 0 1 0 -5.1 0M556.6 80.2a2.55 2.55 0 1 0 5.1 0a2.55 2.55 0 1 0 -5.1 0M557.8 92.3a2.55 2.55 0 1 0 5.1 0a2.55 2.55 0 1 0 -5.1 0M544.4 81.7a2.55 2.55 0 1 0 5.1 0a2.55 2.55 0 1 0 -5.1 0M543.6 90.6a2.55 2.55 0 1 0 5.1 0a2.55 2.55 0 1 0 -5.1 0M565.8 84.1a2.55 2.55 0 1 0 5.1 0a2.55 2.55 0 1 0 -5.1 0M556.6 92.7a2.55 2.55 0 1 0 5.1 0a2.55 2.55 0 1 0 -5.1 0M558.9 78.8a2.55 2.55 0 1 0 5.1 0a2.55 2.55 0 1 0 -5.1 0M559.8 77.8a2.55 2.55 0 1 0 5.1 0a2.55 2.55 0 1 0 -5.1 0M572.3 97.7a2.55 2.55 0 1 0 5.1 0a2.55 2.55 0 1 0 -5.1 0M557.4 106.8a2.55 2.55 0 1 0 5.1 0a2.55 2.55 0 1 0 -5.1 0M532.3 87.5a2.55 2.55 0 1 0 5.1 0a2.55 2.55 0 1 0 -5.1 0M565.8 70.4a2.55 2.55 0 1 0 5.1 0a2.55 2.55 0 1 0 -5.1 0M550.0 87.6a2.55 2.55 0 1 0 5.1 0a2.55 2.55 0 1 0 -5.1 0M542.4 91.5a2.55 2.55 0 1 0 5.1 0a2.55 2.55 0 1 0 -5.1 0M551.1 93.8a2.55 2.55 0 1 0 5.1 0a2.55 2.55 0 1 0 -5.1 0M536.7 84.2a2.55 2.55 0 1 0 5.1 0a2.55 2.55 0 1 0 -5.1 0M528.2 109.7a2.55 2.55 0 1 0 5.1 0a2.55 2.55 0 1 0 -5.1 0M557.6 81.2a2.55 2.55 0 1 0 5.1 0a2.55 2.55 0 1 0 -5.1 0M521.8 97.7a2.55 2.55 0 1 0 5.1 0a2.55 2.55 0 1 0 -5.1 0M543.3 86.4a2.55 2.55 0 1 0 5.1 0a2.55 2.55 0 1 0 -5.1 0M572.1 103.8a2.55 2.55 0 1 0 5.1 0a2.55 2.55 0 1 0 -5.1 0M531.6 111.9a2.55 2.55 0 1 0 5.1 0a2.55 2.55 0 1 0 -5.1 0M560.1 90.5a2.55 2.55 0 1 0 5.1 0a2.55 2.55 0 1 0 -5.1 0M558.4 90.6a2.55 2.55 0 1 0 5.1 0a2.55 2.55 0 1 0 -5.1 0M558.9 106.3a2.55 2.55 0 1 0 5.1 0a2.55 2.55 0 1 0 -5.1 0M548.9 83.5a2.55 2.55 0 1 0 5.1 0a2.55 2.55 0 1 0 -5.1 0M537.9 92.3a2.55 2.55 0 1 0 5.1 0a2.55 2.55 0 1 0 -5.1 0M568.7 80.7a2.55 2.55 0 1 0 5.1 0a2.55 2.55 0 1 0 -5.1 0M535.1 70.4a2.55 2.55 0 1 0 5.1 0a2.55 2.55 0 1 0 -5.1 0M546.6 67.6a2.55 2.55 0 1 0 5.1 0a2.55 2.55 0 1 0 -5.1 0M527.2 78.4a2.55 2.55 0 1 0 5.1 0a2.55 2.55 0 1 0 -5.1 0M537.6 103.3a2.55 2.55 0 1 0 5.1 0a2.55 2.55 0 1 0 -5.1 0M530.5 66.1a2.55 2.55 0 1 0 5.1 0a2.55 2.55 0 1 0 -5.1 0M535.5 84.4a2.55 2.55 0 1 0 5.1 0a2.55 2.55 0 1 0 -5.1 0M543.7 76.3a2.55 2.55 0 1 0 5.1 0a2.55 2.55 0 1 0 -5.1 0M523.6 96.5a2.55 2.55 0 1 0 5.1 0a2.55 2.55 0 1 0 -5.1 0M560.5 77.7a2.55 2.55 0 1 0 5.1 0a2.55 2.55 0 1 0 -5.1 0M562.7 65.0a2.55 2.55 0 1 0 5.1 0a2.55 2.55 0 1 0 -5.1 0M526.9 76.9a2.55 2.55 0 1 0 5.1 0a2.55 2.55 0 1 0 -5.1 0M534.9 96.0a2.55 2.55 0 1 0 5.1 0a2.55 2.55 0 1 0 -5.1 0M552.4 105.3a2.55 2.55 0 1 0 5.1 0a2.55 2.55 0 1 0 -5.1 0M537.5 84.5a2.55 2.55 0 1 0 5.1 0a2.55 2.55 0 1 0 -5.1 0M531.0 105.9a2.55 2.55 0 1 0 5.1 0a2.55 2.55 0 1 0 -5.1 0M564.8 85.9a2.55 2.55 0 1 0 5.1 0a2.55 2.55 0 1 0 -5.1 0M558.4 82.7a2.55 2.55 0 1 0 5.1 0a2.55 2.55 0 1 0 -5.1 0M565.3 68.5a2.55 2.55 0 1 0 5.1 0a2.55 2.55 0 1 0 -5.1 0M559.2 95.6a2.55 2.55 0 1 0 5.1 0a2.55 2.55 0 1 0 -5.1 0M567.3 89.2a2.55 2.55 0 1 0 5.1 0a2.55 2.55 0 1 0 -5.1 0M549.4 97.5a2.55 2.55 0 1 0 5.1 0a2.55 2.55 0 1 0 -5.1 0M556.2 87.7a2.55 2.55 0 1 0 5.1 0a2.55 2.55 0 1 0 -5.1 0M561.0 75.6a2.55 2.55 0 1 0 5.1 0a2.55 2.55 0 1 0 -5.1 0M540.6 89.7a2.55 2.55 0 1 0 5.1 0a2.55 2.55 0 1 0 -5.1 0M532.3 106.6a2.55 2.55 0 1 0 5.1 0a2.55 2.55 0 1 0 -5.1 0M547.5 80.8a2.55 2.55 0 1 0 5.1 0a2.55 2.55 0 1 0 -5.1 0M531.2 94.0a2.55 2.55 0 1 0 5.1 0a2.55 2.55 0 1 0 -5.1 0M545.4 76.0a2.55 2.55 0 1 0 5.1 0a2.55 2.55 0 1 0 -5.1 0M566.3 73.2a2.55 2.55 0 1 0 5.1 0a2.55 2.55 0 1 0 -5.1 0M534.7 95.6a2.55 2.55 0 1 0 5.1 0a2.55 2.55 0 1 0 -5.1 0M557.9 83.5a2.55 2.55 0 1 0 5.1 0a2.55 2.55 0 1 0 -5.1 0M538.9 82.6a2.55 2.55 0 1 0 5.1 0a2.55 2.55 0 1 0 -5.1 0M539.1 81.1a2.55 2.55 0 1 0 5.1 0a2.55 2.55 0 1 0 -5.1 0M546.2 88.9a2.55 2.55 0 1 0 5.1 0a2.55 2.55 0 1 0 -5.1 0M531.0 100.9a2.55 2.55 0 1 0 5.1 0a2.55 2.55 0 1 0 -5.1 0M568.1 76.9a2.55 2.55 0 1 0 5.1 0a2.55 2.55 0 1 0 -5.1 0M522.1 72.1a2.55 2.55 0 1 0 5.1 0a2.55 2.55 0 1 0 -5.1 0M539.4 99.1a2.55 2.55 0 1 0 5.1 0a2.55 2.55 0 1 0 -5.1 0M550.5 84.4a2.55 2.55 0 1 0 5.1 0a2.55 2.55 0 1 0 -5.1 0M517.5 93.3a2.55 2.55 0 1 0 5.1 0a2.55 2.55 0 1 0 -5.1 0M547.0 80.6a2.55 2.55 0 1 0 5.1 0a2.55 2.55 0 1 0 -5.1 0M544.3 78.2a2.55 2.55 0 1 0 5.1 0a2.55 2.55 0 1 0 -5.1 0M550.4 107.8a2.55 2.55 0 1 0 5.1 0a2.55 2.55 0 1 0 -5.1 0M538.2 88.0a2.55 2.55 0 1 0 5.1 0a2.55 2.55 0 1 0 -5.1 0M553.1 68.5a2.55 2.55 0 1 0 5.1 0a2.55 2.55 0 1 0 -5.1 0M545.8 74.9a2.55 2.55 0 1 0 5.1 0a2.55 2.55 0 1 0 -5.1 0M526.8 88.6a2.55 2.55 0 1 0 5.1 0a2.55 2.55 0 1 0 -5.1 0M535.7 106.6a2.55 2.55 0 1 0 5.1 0a2.55 2.55 0 1 0 -5.1 0M545.8 73.4a2.55 2.55 0 1 0 5.1 0a2.55 2.55 0 1 0 -5.1 0M557.4 93.0a2.55 2.55 0 1 0 5.1 0a2.55 2.55 0 1 0 -5.1 0M526.5 106.1a2.55 2.55 0 1 0 5.1 0a2.55 2.55 0 1 0 -5.1 0M538.6 98.8a2.55 2.55 0 1 0 5.1 0a2.55 2.55 0 1 0 -5.1 0M536.6 89.1a2.55 2.55 0 1 0 5.1 0a2.55 2.55 0 1 0 -5.1 0M546.4 87.0a2.55 2.55 0 1 0 5.1 0a2.55 2.55 0 1 0 -5.1 0M527.4 82.5a2.55 2.55 0 1 0 5.1 0a2.55 2.55 0 1 0 -5.1 0M552.9 77.9a2.55 2.55 0 1 0 5.1 0a2.55 2.55 0 1 0 -5.1 0M554.7 84.1a2.55 2.55 0 1 0 5.1 0a2.55 2.55 0 1 0 -5.1 0M543.3 88.5a2.55 2.55 0 1 0 5.1 0a2.55 2.55 0 1 0 -5.1 0M531.6 83.8a2.55 2.55 0 1 0 5.1 0a2.55 2.55 0 1 0 -5.1 0M547.8 77.6a2.55 2.55 0 1 0 5.1 0a2.55 2.55 0 1 0 -5.1 0M559.6 70.9a2.55 2.55 0 1 0 5.1 0a2.55 2.55 0 1 0 -5.1 0M536.8 83.6a2.55 2.55 0 1 0 5.1 0a2.55 2.55 0 1 0 -5.1 0M554.9 94.3a2.55 2.55 0 1 0 5.1 0a2.55 2.55 0 1 0 -5.1 0M561.9 87.2a2.55 2.55 0 1 0 5.1 0a2.55 2.55 0 1 0 -5.1 0M539.6 82.5a2.55 2.55 0 1 0 5.1 0a2.55 2.55 0 1 0 -5.1 0M550.1 94.0a2.55 2.55 0 1 0 5.1 0a2.55 2.55 0 1 0 -5.1 0M556.9 94.2a2.55 2.55 0 1 0 5.1 0a2.55 2.55 0 1 0 -5.1 0M567.9 90.7a2.55 2.55 0 1 0 5.1 0a2.55 2.55 0 1 0 -5.1 0M550.4 74.5a2.55 2.55 0 1 0 5.1 0a2.55 2.55 0 1 0 -5.1 0M561.7 91.4a2.55 2.55 0 1 0 5.1 0a2.55 2.55 0 1 0 -5.1 0M524.4 95.5a2.55 2.55 0 1 0 5.1 0a2.55 2.55 0 1 0 -5.1 0M534.3 88.3a2.55 2.55 0 1 0 5.1 0a2.55 2.55 0 1 0 -5.1 0M553.3 85.7a2.55 2.55 0 1 0 5.1 0a2.55 2.55 0 1 0 -5.1 0M559.3 75.3a2.55 2.55 0 1 0 5.1 0a2.55 2.55 0 1 0 -5.1 0M545.8 76.4a2.55 2.55 0 1 0 5.1 0a2.55 2.55 0 1 0 -5.1 0M542.4 85.2a2.55 2.55 0 1 0 5.1 0a2.55 2.55 0 1 0 -5.1 0M565.7 101.8a2.55 2.55 0 1 0 5.1 0a2.55 2.55 0 1 0 -5.1 0M529.3 88.8a2.55 2.55 0 1 0 5.1 0a2.55 2.55 0 1 0 -5.1 0M535.4 93.7a2.55 2.55 0 1 0 5.1 0a2.55 2.55 0 1 0 -5.1 0M553.2 85.6a2.55 2.55 0 1 0 5.1 0a2.55 2.55 0 1 0 -5.1 0M559.0 74.3a2.55 2.55 0 1 0 5.1 0a2.55 2.55 0 1 0 -5.1 0M568.3 90.3a2.55 2.55 0 1 0 5.1 0a2.55 2.55 0 1 0 -5.1 0M556.6 86.3a2.55 2.55 0 1 0 5.1 0a2.55 2.55 0 1 0 -5.1 0M548.2 78.2a2.55 2.55 0 1 0 5.1 0a2.55 2.55 0 1 0 -5.1 0M539.2 92.8a2.55 2.55 0 1 0 5.1 0a2.55 2.55 0 1 0 -5.1 0M554.6 94.0a2.55 2.55 0 1 0 5.1 0a2.55 2.55 0 1 0 -5.1 0M533.5 94.7a2.55 2.55 0 1 0 5.1 0a2.55 2.55 0 1 0 -5.1 0M534.8 107.7a2.55 2.55 0 1 0 5.1 0a2.55 2.55 0 1 0 -5.1 0M546.2 84.3a2.55 2.55 0 1 0 5.1 0a2.55 2.55 0 1 0 -5.1 0M536.2 84.2a2.55 2.55 0 1 0 5.1 0a2.55 2.55 0 1 0 -5.1 0M570.9 86.6a2.55 2.55 0 1 0 5.1 0a2.55 2.55 0 1 0 -5.1 0M548.8 90.7a2.55 2.55 0 1 0 5.1 0a2.55 2.55 0 1 0 -5.1 0M548.6 88.8a2.55 2.55 0 1 0 5.1 0a2.55 2.55 0 1 0 -5.1 0M548.9 111.9a2.55 2.55 0 1 0 5.1 0a2.55 2.55 0 1 0 -5.1 0M563.5 86.4a2.55 2.55 0 1 0 5.1 0a2.55 2.55 0 1 0 -5.1 0M544.3 99.0a2.55 2.55 0 1 0 5.1 0a2.55 2.55 0 1 0 -5.1 0M562.1 102.0a2.55 2.55 0 1 0 5.1 0a2.55 2.55 0 1 0 -5.1 0M545.1 92.9a2.55 2.55 0 1 0 5.1 0a2.55 2.55 0 1 0 -5.1 0M537.9 77.3a2.55 2.55 0 1 0 5.1 0a2.55 2.55 0 1 0 -5.1 0M537.9 87.3a2.55 2.55 0 1 0 5.1 0a2.55 2.55 0 1 0 -5.1 0M534.6 78.4a2.55 2.55 0 1 0 5.1 0a2.55 2.55 0 1 0 -5.1 0M524.4 87.4a2.55 2.55 0 1 0 5.1 0a2.55 2.55 0 1 0 -5.1 0M534.5 81.4a2.55 2.55 0 1 0 5.1 0a2.55 2.55 0 1 0 -5.1 0M539.8 89.1a2.55 2.55 0 1 0 5.1 0a2.55 2.55 0 1 0 -5.1 0M568.7 84.1a2.55 2.55 0 1 0 5.1 0a2.55 2.55 0 1 0 -5.1 0M546.1 102.4a2.55 2.55 0 1 0 5.1 0a2.55 2.55 0 1 0 -5.1 0M549.6 75.6a2.55 2.55 0 1 0 5.1 0a2.55 2.55 0 1 0 -5.1 0M546.9 71.8a2.55 2.55 0 1 0 5.1 0a2.55 2.55 0 1 0 -5.1 0M533.9 94.1a2.55 2.55 0 1 0 5.1 0a2.55 2.55 0 1 0 -5.1 0M561.1 70.4a2.55 2.55 0 1 0 5.1 0a2.55 2.55 0 1 0 -5.1 0M536.5 84.2a2.55 2.55 0 1 0 5.1 0a2.55 2.55 0 1 0 -5.1 0M546.7 62.8a2.55 2.55 0 1 0 5.1 0a2.55 2.55 0 1 0 -5.1 0M521.8 102.3a2.55 2.55 0 1 0 5.1 0a2.55 2.55 0 1 0 -5.1 0M569.4 79.6a2.55 2.55 0 1 0 5.1 0a2.55 2.55 0 1 0 -5.1 0M553.6 88.0a2.55 2.55 0 1 0 5.1 0a2.55 2.55 0 1 0 -5.1 0M558.7 101.3a2.55 2.55 0 1 0 5.1 0a2.55 2.55 0 1 0 -5.1 0M534.6 65.7a2.55 2.55 0 1 0 5.1 0a2.55 2.55 0 1 0 -5.1 0M575.2 81.2a2.55 2.55 0 1 0 5.1 0a2.55 2.55 0 1 0 -5.1 0M532.7 83.3a2.55 2.55 0 1 0 5.1 0a2.55 2.55 0 1 0 -5.1 0M530.4 110.7a2.55 2.55 0 1 0 5.1 0a2.55 2.55 0 1 0 -5.1 0M567.7 89.8a2.55 2.55 0 1 0 5.1 0a2.55 2.55 0 1 0 -5.1 0M572.5 78.5a2.55 2.55 0 1 0 5.1 0a2.55 2.55 0 1 0 -5.1 0M542.5 92.9a2.55 2.55 0 1 0 5.1 0a2.55 2.55 0 1 0 -5.1 0M541.0 81.0a2.55 2.55 0 1 0 5.1 0a2.55 2.55 0 1 0 -5.1 0M556.4 74.5a2.55 2.55 0 1 0 5.1 0a2.55 2.55 0 1 0 -5.1 0M555.3 78.7a2.55 2.55 0 1 0 5.1 0a2.55 2.55 0 1 0 -5.1 0M571.0 74.0a2.55 2.55 0 1 0 5.1 0a2.55 2.55 0 1 0 -5.1 0M532.9 119.7a2.55 2.55 0 1 0 5.1 0a2.55 2.55 0 1 0 -5.1 0M547.1 83.1a2.55 2.55 0 1 0 5.1 0a2.55 2.55 0 1 0 -5.1 0M554.6 86.3a2.55 2.55 0 1 0 5.1 0a2.55 2.55 0 1 0 -5.1 0M543.2 86.1a2.55 2.55 0 1 0 5.1 0a2.55 2.55 0 1 0 -5.1 0M546.2 95.4a2.55 2.55 0 1 0 5.1 0a2.55 2.55 0 1 0 -5.1 0M546.9 83.7a2.55 2.55 0 1 0 5.1 0a2.55 2.55 0 1 0 -5.1 0M516.2 82.5a2.55 2.55 0 1 0 5.1 0a2.55 2.55 0 1 0 -5.1 0M531.0 116.2a2.55 2.55 0 1 0 5.1 0a2.55 2.55 0 1 0 -5.1 0M562.6 96.7a2.55 2.55 0 1 0 5.1 0a2.55 2.55 0 1 0 -5.1 0M530.4 101.1a2.55 2.55 0 1 0 5.1 0a2.55 2.55 0 1 0 -5.1 0M563.6 78.6a2.55 2.55 0 1 0 5.1 0a2.55 2.55 0 1 0 -5.1 0M521.3 94.7a2.55 2.55 0 1 0 5.1 0a2.55 2.55 0 1 0 -5.1 0M560.4 84.8a2.55 2.55 0 1 0 5.1 0a2.55 2.55 0 1 0 -5.1 0M554.5 88.5a2.55 2.55 0 1 0 5.1 0a2.55 2.55 0 1 0 -5.1 0M541.2 80.0a2.55 2.55 0 1 0 5.1 0a2.55 2.55 0 1 0 -5.1 0M545.4 86.7a2.55 2.55 0 1 0 5.1 0a2.55 2.55 0 1 0 -5.1 0M546.3 65.9a2.55 2.55 0 1 0 5.1 0a2.55 2.55 0 1 0 -5.1 0M558.7 67.4a2.55 2.55 0 1 0 5.1 0a2.55 2.55 0 1 0 -5.1 0M535.1 80.8a2.55 2.55 0 1 0 5.1 0a2.55 2.55 0 1 0 -5.1 0M526.9 84.6a2.55 2.55 0 1 0 5.1 0a2.55 2.55 0 1 0 -5.1 0M540.7 74.3a2.55 2.55 0 1 0 5.1 0a2.55 2.55 0 1 0 -5.1 0M558.2 88.3a2.55 2.55 0 1 0 5.1 0a2.55 2.55 0 1 0 -5.1 0M554.0 96.2a2.55 2.55 0 1 0 5.1 0a2.55 2.55 0 1 0 -5.1 0M527.8 96.3a2.55 2.55 0 1 0 5.1 0a2.55 2.55 0 1 0 -5.1 0M566.7 117.3a2.55 2.55 0 1 0 5.1 0a2.55 2.55 0 1 0 -5.1 0M552.4 85.0a2.55 2.55 0 1 0 5.1 0a2.55 2.55 0 1 0 -5.1 0M541.5 95.3a2.55 2.55 0 1 0 5.1 0a2.55 2.55 0 1 0 -5.1 0M564.2 86.9a2.55 2.55 0 1 0 5.1 0a2.55 2.55 0 1 0 -5.1 0M540.6 81.7a2.55 2.55 0 1 0 5.1 0a2.55 2.55 0 1 0 -5.1 0M552.4 77.1a2.55 2.55 0 1 0 5.1 0a2.55 2.55 0 1 0 -5.1 0M554.0 91.5a2.55 2.55 0 1 0 5.1 0a2.55 2.55 0 1 0 -5.1 0M552.1 88.7a2.55 2.55 0 1 0 5.1 0a2.55 2.55 0 1 0 -5.1 0M567.8 87.6a2.55 2.55 0 1 0 5.1 0a2.55 2.55 0 1 0 -5.1 0M545.2 91.9a2.55 2.55 0 1 0 5.1 0a2.55 2.55 0 1 0 -5.1 0M571.1 101.9a2.55 2.55 0 1 0 5.1 0a2.55 2.55 0 1 0 -5.1 0M529.8 99.8a2.55 2.55 0 1 0 5.1 0a2.55 2.55 0 1 0 -5.1 0M543.8 71.5a2.55 2.55 0 1 0 5.1 0a2.55 2.55 0 1 0 -5.1 0M533.1 102.3a2.55 2.55 0 1 0 5.1 0a2.55 2.55 0 1 0 -5.1 0M540.7 88.2a2.55 2.55 0 1 0 5.1 0a2.55 2.55 0 1 0 -5.1 0M532.0 102.7a2.55 2.55 0 1 0 5.1 0a2.55 2.55 0 1 0 -5.1 0M546.6 71.6a2.55 2.55 0 1 0 5.1 0a2.55 2.55 0 1 0 -5.1 0M520.1 97.2a2.55 2.55 0 1 0 5.1 0a2.55 2.55 0 1 0 -5.1 0M540.1 89.9a2.55 2.55 0 1 0 5.1 0a2.55 2.55 0 1 0 -5.1 0M549.6 95.5a2.55 2.55 0 1 0 5.1 0a2.55 2.55 0 1 0 -5.1 0M552.7 70.9a2.55 2.55 0 1 0 5.1 0a2.55 2.55 0 1 0 -5.1 0M569.6 74.3a2.55 2.55 0 1 0 5.1 0a2.55 2.55 0 1 0 -5.1 0M542.2 90.4a2.55 2.55 0 1 0 5.1 0a2.55 2.55 0 1 0 -5.1 0M554.4 91.2a2.55 2.55 0 1 0 5.1 0a2.55 2.55 0 1 0 -5.1 0M551.0 86.4a2.55 2.55 0 1 0 5.1 0a2.55 2.55 0 1 0 -5.1 0M534.7 100.5a2.55 2.55 0 1 0 5.1 0a2.55 2.55 0 1 0 -5.1 0M545.1 105.2a2.55 2.55 0 1 0 5.1 0a2.55 2.55 0 1 0 -5.1 0M526.4 79.7a2.55 2.55 0 1 0 5.1 0a2.55 2.55 0 1 0 -5.1 0M554.7 91.9a2.55 2.55 0 1 0 5.1 0a2.55 2.55 0 1 0 -5.1 0M542.5 78.5a2.55 2.55 0 1 0 5.1 0a2.55 2.55 0 1 0 -5.1 0M567.8 86.9a2.55 2.55 0 1 0 5.1 0a2.55 2.55 0 1 0 -5.1 0M529.1 108.3a2.55 2.55 0 1 0 5.1 0a2.55 2.55 0 1 0 -5.1 0M543.5 68.4a2.55 2.55 0 1 0 5.1 0a2.55 2.55 0 1 0 -5.1 0M542.2 91.4a2.55 2.55 0 1 0 5.1 0a2.55 2.55 0 1 0 -5.1 0M525.0 99.1a2.55 2.55 0 1 0 5.1 0a2.55 2.55 0 1 0 -5.1 0M546.4 91.9a2.55 2.55 0 1 0 5.1 0a2.55 2.55 0 1 0 -5.1 0M566.6 85.8a2.55 2.55 0 1 0 5.1 0a2.55 2.55 0 1 0 -5.1 0M552.5 98.5a2.55 2.55 0 1 0 5.1 0a2.55 2.55 0 1 0 -5.1 0M541.3 81.9a2.55 2.55 0 1 0 5.1 0a2.55 2.55 0 1 0 -5.1 0M564.1 72.2a2.55 2.55 0 1 0 5.1 0a2.55 2.55 0 1 0 -5.1 0M550.7 92.1a2.55 2.55 0 1 0 5.1 0a2.55 2.55 0 1 0 -5.1 0M544.5 77.4a2.55 2.55 0 1 0 5.1 0a2.55 2.55 0 1 0 -5.1 0M546.9 78.5a2.55 2.55 0 1 0 5.1 0a2.55 2.55 0 1 0 -5.1 0M536.3 91.5a2.55 2.55 0 1 0 5.1 0a2.55 2.55 0 1 0 -5.1 0M559.8 87.7a2.55 2.55 0 1 0 5.1 0a2.55 2.55 0 1 0 -5.1 0M525.4 88.7a2.55 2.55 0 1 0 5.1 0a2.55 2.55 0 1 0 -5.1 0M541.9 86.5a2.55 2.55 0 1 0 5.1 0a2.55 2.55 0 1 0 -5.1 0M538.0 95.2a2.55 2.55 0 1 0 5.1 0a2.55 2.55 0 1 0 -5.1 0M537.9 98.1a2.55 2.55 0 1 0 5.1 0a2.55 2.55 0 1 0 -5.1 0M553.0 92.3a2.55 2.55 0 1 0 5.1 0a2.55 2.55 0 1 0 -5.1 0M546.9 85.7a2.55 2.55 0 1 0 5.1 0a2.55 2.55 0 1 0 -5.1 0M539.0 83.6a2.55 2.55 0 1 0 5.1 0a2.55 2.55 0 1 0 -5.1 0M544.6 96.5a2.55 2.55 0 1 0 5.1 0a2.55 2.55 0 1 0 -5.1 0M537.5 61.5a2.55 2.55 0 1 0 5.1 0a2.55 2.55 0 1 0 -5.1 0M540.3 79.3a2.55 2.55 0 1 0 5.1 0a2.55 2.55 0 1 0 -5.1 0M542.1 82.1a2.55 2.55 0 1 0 5.1 0a2.55 2.55 0 1 0 -5.1 0M548.7 85.7a2.55 2.55 0 1 0 5.1 0a2.55 2.55 0 1 0 -5.1 0M559.4 69.6a2.55 2.55 0 1 0 5.1 0a2.55 2.55 0 1 0 -5.1 0M529.4 100.3a2.55 2.55 0 1 0 5.1 0a2.55 2.55 0 1 0 -5.1 0M542.1 96.8a2.55 2.55 0 1 0 5.1 0a2.55 2.55 0 1 0 -5.1 0M545.3 99.2a2.55 2.55 0 1 0 5.1 0a2.55 2.55 0 1 0 -5.1 0M517.0 102.5a2.55 2.55 0 1 0 5.1 0a2.55 2.55 0 1 0 -5.1 0M544.6 92.2a2.55 2.55 0 1 0 5.1 0a2.55 2.55 0 1 0 -5.1 0M523.5 87.5a2.55 2.55 0 1 0 5.1 0a2.55 2.55 0 1 0 -5.1 0M563.9 94.7a2.55 2.55 0 1 0 5.1 0a2.55 2.55 0 1 0 -5.1 0M541.3 97.6a2.55 2.55 0 1 0 5.1 0a2.55 2.55 0 1 0 -5.1 0M534.1 110.1a2.55 2.55 0 1 0 5.1 0a2.55 2.55 0 1 0 -5.1 0M540.0 72.7a2.55 2.55 0 1 0 5.1 0a2.55 2.55 0 1 0 -5.1 0M524.8 77.7a2.55 2.55 0 1 0 5.1 0a2.55 2.55 0 1 0 -5.1 0M544.4 101.3a2.55 2.55 0 1 0 5.1 0a2.55 2.55 0 1 0 -5.1 0M532.5 92.8a2.55 2.55 0 1 0 5.1 0a2.55 2.55 0 1 0 -5.1 0M513.5 100.6a2.55 2.55 0 1 0 5.1 0a2.55 2.55 0 1 0 -5.1 0M530.1 73.0a2.55 2.55 0 1 0 5.1 0a2.55 2.55 0 1 0 -5.1 0M530.3 80.0a2.55 2.55 0 1 0 5.1 0a2.55 2.55 0 1 0 -5.1 0M555.9 76.0a2.55 2.55 0 1 0 5.1 0a2.55 2.55 0 1 0 -5.1 0M553.0 95.2a2.55 2.55 0 1 0 5.1 0a2.55 2.55 0 1 0 -5.1 0M541.9 76.9a2.55 2.55 0 1 0 5.1 0a2.55 2.55 0 1 0 -5.1 0M557.6 91.9a2.55 2.55 0 1 0 5.1 0a2.55 2.55 0 1 0 -5.1 0M552.7 76.5a2.55 2.55 0 1 0 5.1 0a2.55 2.55 0 1 0 -5.1 0M531.4 105.5a2.55 2.55 0 1 0 5.1 0a2.55 2.55 0 1 0 -5.1 0M540.0 97.0a2.55 2.55 0 1 0 5.1 0a2.55 2.55 0 1 0 -5.1 0M554.9 66.6a2.55 2.55 0 1 0 5.1 0a2.55 2.55 0 1 0 -5.1 0M525.5 81.6a2.55 2.55 0 1 0 5.1 0a2.55 2.55 0 1 0 -5.1 0M525.7 72.8a2.55 2.55 0 1 0 5.1 0a2.55 2.55 0 1 0 -5.1 0M577.9 82.8a2.55 2.55 0 1 0 5.1 0a2.55 2.55 0 1 0 -5.1 0M552.2 100.0a2.55 2.55 0 1 0 5.1 0a2.55 2.55 0 1 0 -5.1 0M541.0 91.5a2.55 2.55 0 1 0 5.1 0a2.55 2.55 0 1 0 -5.1 0M546.4 86.7a2.55 2.55 0 1 0 5.1 0a2.55 2.55 0 1 0 -5.1 0M556.8 91.4a2.55 2.55 0 1 0 5.1 0a2.55 2.55 0 1 0 -5.1 0M525.0 95.6a2.55 2.55 0 1 0 5.1 0a2.55 2.55 0 1 0 -5.1 0M539.8 91.0a2.55 2.55 0 1 0 5.1 0a2.55 2.55 0 1 0 -5.1 0M552.1 83.8a2.55 2.55 0 1 0 5.1 0a2.55 2.55 0 1 0 -5.1 0M575.1 80.3a2.55 2.55 0 1 0 5.1 0a2.55 2.55 0 1 0 -5.1 0M530.9 84.2a2.55 2.55 0 1 0 5.1 0a2.55 2.55 0 1 0 -5.1 0M548.8 109.1a2.55 2.55 0 1 0 5.1 0a2.55 2.55 0 1 0 -5.1 0M529.8 78.1a2.55 2.55 0 1 0 5.1 0a2.55 2.55 0 1 0 -5.1 0M532.5 71.3a2.55 2.55 0 1 0 5.1 0a2.55 2.55 0 1 0 -5.1 0M528.2 84.7a2.55 2.55 0 1 0 5.1 0a2.55 2.55 0 1 0 -5.1 0M537.4 77.6a2.55 2.55 0 1 0 5.1 0a2.55 2.55 0 1 0 -5.1 0M541.8 83.9a2.55 2.55 0 1 0 5.1 0a2.55 2.55 0 1 0 -5.1 0M560.0 88.2a2.55 2.55 0 1 0 5.1 0a2.55 2.55 0 1 0 -5.1 0M538.7 73.8a2.55 2.55 0 1 0 5.1 0a2.55 2.55 0 1 0 -5.1 0M527.5 85.8a2.55 2.55 0 1 0 5.1 0a2.55 2.55 0 1 0 -5.1 0M570.8 73.5a2.55 2.55 0 1 0 5.1 0a2.55 2.55 0 1 0 -5.1 0M534.4 88.3a2.55 2.55 0 1 0 5.1 0a2.55 2.55 0 1 0 -5.1 0M567.7 103.6a2.55 2.55 0 1 0 5.1 0a2.55 2.55 0 1 0 -5.1 0M553.7 91.4a2.55 2.55 0 1 0 5.1 0a2.55 2.55 0 1 0 -5.1 0M546.0 67.5a2.55 2.55 0 1 0 5.1 0a2.55 2.55 0 1 0 -5.1 0M522.4 93.7a2.55 2.55 0 1 0 5.1 0a2.55 2.55 0 1 0 -5.1 0M544.5 78.5a2.55 2.55 0 1 0 5.1 0a2.55 2.55 0 1 0 -5.1 0M551.5 95.9a2.55 2.55 0 1 0 5.1 0a2.55 2.55 0 1 0 -5.1 0M565.4 85.4a2.55 2.55 0 1 0 5.1 0a2.55 2.55 0 1 0 -5.1 0M557.8 87.8a2.55 2.55 0 1 0 5.1 0a2.55 2.55 0 1 0 -5.1 0M539.9 77.6a2.55 2.55 0 1 0 5.1 0a2.55 2.55 0 1 0 -5.1 0M573.8 88.4a2.55 2.55 0 1 0 5.1 0a2.55 2.55 0 1 0 -5.1 0M538.8 82.9a2.55 2.55 0 1 0 5.1 0a2.55 2.55 0 1 0 -5.1 0M549.7 94.3a2.55 2.55 0 1 0 5.1 0a2.55 2.55 0 1 0 -5.1 0M540.7 111.6a2.55 2.55 0 1 0 5.1 0a2.55 2.55 0 1 0 -5.1 0M556.0 79.1a2.55 2.55 0 1 0 5.1 0a2.55 2.55 0 1 0 -5.1 0M571.5 103.3a2.55 2.55 0 1 0 5.1 0a2.55 2.55 0 1 0 -5.1 0M536.0 88.0a2.55 2.55 0 1 0 5.1 0a2.55 2.55 0 1 0 -5.1 0M574.7 71.7a2.55 2.55 0 1 0 5.1 0a2.55 2.55 0 1 0 -5.1 0M547.9 80.9a2.55 2.55 0 1 0 5.1 0a2.55 2.55 0 1 0 -5.1 0M555.7 71.9a2.55 2.55 0 1 0 5.1 0a2.55 2.55 0 1 0 -5.1 0M563.4 62.1a2.55 2.55 0 1 0 5.1 0a2.55 2.55 0 1 0 -5.1 0M524.1 73.7a2.55 2.55 0 1 0 5.1 0a2.55 2.55 0 1 0 -5.1 0M537.6 111.5a2.55 2.55 0 1 0 5.1 0a2.55 2.55 0 1 0 -5.1 0M563.5 79.0a2.55 2.55 0 1 0 5.1 0a2.55 2.55 0 1 0 -5.1 0M546.7 94.0a2.55 2.55 0 1 0 5.1 0a2.55 2.55 0 1 0 -5.1 0M532.1 85.6a2.55 2.55 0 1 0 5.1 0a2.55 2.55 0 1 0 -5.1 0M554.9 79.2a2.55 2.55 0 1 0 5.1 0a2.55 2.55 0 1 0 -5.1 0M533.0 94.2a2.55 2.55 0 1 0 5.1 0a2.55 2.55 0 1 0 -5.1 0M538.9 81.9a2.55 2.55 0 1 0 5.1 0a2.55 2.55 0 1 0 -5.1 0M546.1 82.8a2.55 2.55 0 1 0 5.1 0a2.55 2.55 0 1 0 -5.1 0M522.7 76.4a2.55 2.55 0 1 0 5.1 0a2.55 2.55 0 1 0 -5.1 0M551.9 74.6a2.55 2.55 0 1 0 5.1 0a2.55 2.55 0 1 0 -5.1 0M520.4 93.6a2.55 2.55 0 1 0 5.1 0a2.55 2.55 0 1 0 -5.1 0M555.6 76.4a2.55 2.55 0 1 0 5.1 0a2.55 2.55 0 1 0 -5.1 0M526.0 95.7a2.55 2.55 0 1 0 5.1 0a2.55 2.55 0 1 0 -5.1 0M547.0 111.1a2.55 2.55 0 1 0 5.1 0a2.55 2.55 0 1 0 -5.1 0M543.0 106.3a2.55 2.55 0 1 0 5.1 0a2.55 2.55 0 1 0 -5.1 0M571.9 77.4a2.55 2.55 0 1 0 5.1 0a2.55 2.55 0 1 0 -5.1 0M572.7 100.2a2.55 2.55 0 1 0 5.1 0a2.55 2.55 0 1 0 -5.1 0M541.3 108.5a2.55 2.55 0 1 0 5.1 0a2.55 2.55 0 1 0 -5.1 0M543.6 72.7a2.55 2.55 0 1 0 5.1 0a2.55 2.55 0 1 0 -5.1 0M555.6 80.8a2.55 2.55 0 1 0 5.1 0a2.55 2.55 0 1 0 -5.1 0M539.1 100.3a2.55 2.55 0 1 0 5.1 0a2.55 2.55 0 1 0 -5.1 0M539.8 75.9a2.55 2.55 0 1 0 5.1 0a2.55 2.55 0 1 0 -5.1 0M545.5 83.2a2.55 2.55 0 1 0 5.1 0a2.55 2.55 0 1 0 -5.1 0M543.7 102.3a2.55 2.55 0 1 0 5.1 0a2.55 2.55 0 1 0 -5.1 0M540.6 69.2a2.55 2.55 0 1 0 5.1 0a2.55 2.55 0 1 0 -5.1 0M551.6 108.8a2.55 2.55 0 1 0 5.1 0a2.55 2.55 0 1 0 -5.1 0M557.5 91.6a2.55 2.55 0 1 0 5.1 0a2.55 2.55 0 1 0 -5.1 0M576.4 76.1a2.55 2.55 0 1 0 5.1 0a2.55 2.55 0 1 0 -5.1 0M550.4 82.3a2.55 2.55 0 1 0 5.1 0a2.55 2.55 0 1 0 -5.1 0M526.2 93.5a2.55 2.55 0 1 0 5.1 0a2.55 2.55 0 1 0 -5.1 0M536.6 89.1a2.55 2.55 0 1 0 5.1 0a2.55 2.55 0 1 0 -5.1 0M534.2 94.5a2.55 2.55 0 1 0 5.1 0a2.55 2.55 0 1 0 -5.1 0M545.2 94.8a2.55 2.55 0 1 0 5.1 0a2.55 2.55 0 1 0 -5.1 0M566.4 76.4a2.55 2.55 0 1 0 5.1 0a2.55 2.55 0 1 0 -5.1 0M554.0 83.1a2.55 2.55 0 1 0 5.1 0a2.55 2.55 0 1 0 -5.1 0M545.9 83.5a2.55 2.55 0 1 0 5.1 0a2.55 2.55 0 1 0 -5.1 0M542.9 86.2a2.55 2.55 0 1 0 5.1 0a2.55 2.55 0 1 0 -5.1 0M543.9 72.5a2.55 2.55 0 1 0 5.1 0a2.55 2.55 0 1 0 -5.1 0M529.1 108.4a2.55 2.55 0 1 0 5.1 0a2.55 2.55 0 1 0 -5.1 0M534.1 91.3a2.55 2.55 0 1 0 5.1 0a2.55 2.55 0 1 0 -5.1 0M536.8 98.1a2.55 2.55 0 1 0 5.1 0a2.55 2.55 0 1 0 -5.1 0M564.6 86.9a2.55 2.55 0 1 0 5.1 0a2.55 2.55 0 1 0 -5.1 0M541.9 85.8a2.55 2.55 0 1 0 5.1 0a2.55 2.55 0 1 0 -5.1 0M531.1 95.6a2.55 2.55 0 1 0 5.1 0a2.55 2.55 0 1 0 -5.1 0M537.9 85.9a2.55 2.55 0 1 0 5.1 0a2.55 2.55 0 1 0 -5.1 0M568.8 90.2a2.55 2.55 0 1 0 5.1 0a2.55 2.55 0 1 0 -5.1 0M552.6 99.3a2.55 2.55 0 1 0 5.1 0a2.55 2.55 0 1 0 -5.1 0M568.2 81.6a2.55 2.55 0 1 0 5.1 0a2.55 2.55 0 1 0 -5.1 0M528.0 105.2a2.55 2.55 0 1 0 5.1 0a2.55 2.55 0 1 0 -5.1 0M565.1 84.2a2.55 2.55 0 1 0 5.1 0a2.55 2.55 0 1 0 -5.1 0M563.5 97.1a2.55 2.55 0 1 0 5.1 0a2.55 2.55 0 1 0 -5.1 0M555.0 78.8a2.55 2.55 0 1 0 5.1 0a2.55 2.55 0 1 0 -5.1 0M548.7 77.8a2.55 2.55 0 1 0 5.1 0a2.55 2.55 0 1 0 -5.1 0M565.1 80.6a2.55 2.55 0 1 0 5.1 0a2.55 2.55 0 1 0 -5.1 0M555.2 84.9a2.55 2.55 0 1 0 5.1 0a2.55 2.55 0 1 0 -5.1 0M567.5 89.5a2.55 2.55 0 1 0 5.1 0a2.55 2.55 0 1 0 -5.1 0M529.4 105.7a2.55 2.55 0 1 0 5.1 0a2.55 2.55 0 1 0 -5.1 0M543.2 82.9a2.55 2.55 0 1 0 5.1 0a2.55 2.55 0 1 0 -5.1 0M544.6 88.8a2.55 2.55 0 1 0 5.1 0a2.55 2.55 0 1 0 -5.1 0M550.1 81.4a2.55 2.55 0 1 0 5.1 0a2.55 2.55 0 1 0 -5.1 0M562.0 92.7a2.55 2.55 0 1 0 5.1 0a2.55 2.55 0 1 0 -5.1 0M552.1 76.6a2.55 2.55 0 1 0 5.1 0a2.55 2.55 0 1 0 -5.1 0M550.5 84.1a2.55 2.55 0 1 0 5.1 0a2.55 2.55 0 1 0 -5.1 0M542.8 80.7a2.55 2.55 0 1 0 5.1 0a2.55 2.55 0 1 0 -5.1 0M562.9 83.2a2.55 2.55 0 1 0 5.1 0a2.55 2.55 0 1 0 -5.1 0M539.3 90.9a2.55 2.55 0 1 0 5.1 0a2.55 2.55 0 1 0 -5.1 0M530.5 93.7a2.55 2.55 0 1 0 5.1 0a2.55 2.55 0 1 0 -5.1 0M564.2 83.5a2.55 2.55 0 1 0 5.1 0a2.55 2.55 0 1 0 -5.1 0M571.4 87.0a2.55 2.55 0 1 0 5.1 0a2.55 2.55 0 1 0 -5.1 0M543.8 76.5a2.55 2.55 0 1 0 5.1 0a2.55 2.55 0 1 0 -5.1 0M561.8 73.7a2.55 2.55 0 1 0 5.1 0a2.55 2.55 0 1 0 -5.1 0M556.9 82.5a2.55 2.55 0 1 0 5.1 0a2.55 2.55 0 1 0 -5.1 0M557.3 87.5a2.55 2.55 0 1 0 5.1 0a2.55 2.55 0 1 0 -5.1 0M529.7 106.1a2.55 2.55 0 1 0 5.1 0a2.55 2.55 0 1 0 -5.1 0M564.5 95.2a2.55 2.55 0 1 0 5.1 0a2.55 2.55 0 1 0 -5.1 0M555.8 81.1a2.55 2.55 0 1 0 5.1 0a2.55 2.55 0 1 0 -5.1 0M543.5 78.5a2.55 2.55 0 1 0 5.1 0a2.55 2.55 0 1 0 -5.1 0M541.8 85.4a2.55 2.55 0 1 0 5.1 0a2.55 2.55 0 1 0 -5.1 0M535.5 89.4a2.55 2.55 0 1 0 5.1 0a2.55 2.55 0 1 0 -5.1 0M532.8 98.9a2.55 2.55 0 1 0 5.1 0a2.55 2.55 0 1 0 -5.1 0M525.7 87.5a2.55 2.55 0 1 0 5.1 0a2.55 2.55 0 1 0 -5.1 0M565.0 76.8a2.55 2.55 0 1 0 5.1 0a2.55 2.55 0 1 0 -5.1 0M547.8 83.2a2.55 2.55 0 1 0 5.1 0a2.55 2.55 0 1 0 -5.1 0M559.7 72.4a2.55 2.55 0 1 0 5.1 0a2.55 2.55 0 1 0 -5.1 0M525.4 85.4a2.55 2.55 0 1 0 5.1 0a2.55 2.55 0 1 0 -5.1 0M558.3 82.4a2.55 2.55 0 1 0 5.1 0a2.55 2.55 0 1 0 -5.1 0M544.7 69.8a2.55 2.55 0 1 0 5.1 0a2.55 2.55 0 1 0 -5.1 0M564.5 74.0a2.55 2.55 0 1 0 5.1 0a2.55 2.55 0 1 0 -5.1 0M560.3 84.5a2.55 2.55 0 1 0 5.1 0a2.55 2.55 0 1 0 -5.1 0M550.6 62.7a2.55 2.55 0 1 0 5.1 0a2.55 2.55 0 1 0 -5.1 0M536.4 90.6a2.55 2.55 0 1 0 5.1 0a2.55 2.55 0 1 0 -5.1 0M536.8 90.8a2.55 2.55 0 1 0 5.1 0a2.55 2.55 0 1 0 -5.1 0M561.8 92.0a2.55 2.55 0 1 0 5.1 0a2.55 2.55 0 1 0 -5.1 0M565.7 80.5a2.55 2.55 0 1 0 5.1 0a2.55 2.55 0 1 0 -5.1 0M532.7 84.5a2.55 2.55 0 1 0 5.1 0a2.55 2.55 0 1 0 -5.1 0M544.2 93.8a2.55 2.55 0 1 0 5.1 0a2.55 2.55 0 1 0 -5.1 0M549.0 87.7a2.55 2.55 0 1 0 5.1 0a2.55 2.55 0 1 0 -5.1 0M564.6 92.8a2.55 2.55 0 1 0 5.1 0a2.55 2.55 0 1 0 -5.1 0M546.8 84.0a2.55 2.55 0 1 0 5.1 0a2.55 2.55 0 1 0 -5.1 0M567.6 74.1a2.55 2.55 0 1 0 5.1 0a2.55 2.55 0 1 0 -5.1 0M515.7 92.0a2.55 2.55 0 1 0 5.1 0a2.55 2.55 0 1 0 -5.1 0M539.9 86.6a2.55 2.55 0 1 0 5.1 0a2.55 2.55 0 1 0 -5.1 0M545.7 69.7a2.55 2.55 0 1 0 5.1 0a2.55 2.55 0 1 0 -5.1 0M546.3 94.5a2.55 2.55 0 1 0 5.1 0a2.55 2.55 0 1 0 -5.1 0M557.8 70.4a2.55 2.55 0 1 0 5.1 0a2.55 2.55 0 1 0 -5.1 0M545.0 103.3a2.55 2.55 0 1 0 5.1 0a2.55 2.55 0 1 0 -5.1 0M527.3 98.3a2.55 2.55 0 1 0 5.1 0a2.55 2.55 0 1 0 -5.1 0M541.6 73.4a2.55 2.55 0 1 0 5.1 0a2.55 2.55 0 1 0 -5.1 0M538.0 83.0a2.55 2.55 0 1 0 5.1 0a2.55 2.55 0 1 0 -5.1 0M559.0 80.5a2.55 2.55 0 1 0 5.1 0a2.55 2.55 0 1 0 -5.1 0" fill="none" stroke="#0a0a80" stroke-width="1.6"/>
<path d="M450.2 124.4a2.55 2.55 0 1 0 5.1 0a2.55 2.55 0 1 0 -5.1 0M460.9 124.4a2.55 2.55 0 1 0 5.1 0a2.55 2.55 0 1 0 -5.1 0M455.2 138.6a2.55 2.55 0 1 0 5.1 0a2.55 2.55 0 1 0 -5.1 0M472.4 131.2a2.55 2.55 0 1 0 5.1 0a2.55 2.55 0 1 0 -5.1 0M476.4 132.0a2.55 2.55 0 1 0 5.1 0a2.55 2.55 0 1 0 -5.1 0M482.1 131.2a2.55 2.55 0 1 0 5.1 0a2.55 2.55 0 1 0 -5.1 0M477.8 83.8a2.55 2.55 0 1 0 5.1 0a2.55 2.55 0 1 0 -5.1 0M470.6 107.4a2.55 2.55 0 1 0 5.1 0a2.55 2.55 0 1 0 -5.1 0M457.9 110.8a2.55 2.55 0 1 0 5.1 0a2.55 2.55 0 1 0 -5.1 0M503.6 138.8a2.55 2.55 0 1 0 5.1 0a2.55 2.55 0 1 0 -5.1 0M535.2 129.7a2.55 2.55 0 1 0 5.1 0a2.55 2.55 0 1 0 -5.1 0M481.9 112.5a2.55 2.55 0 1 0 5.1 0a2.55 2.55 0 1 0 -5.1 0M490.0 126.2a2.55 2.55 0 1 0 5.1 0a2.55 2.55 0 1 0 -5.1 0M496.8 129.7a2.55 2.55 0 1 0 5.1 0a2.55 2.55 0 1 0 -5.1 0M508.1 129.7a2.55 2.55 0 1 0 5.1 0a2.55 2.55 0 1 0 -5.1 0M520.2 113.7a2.55 2.55 0 1 0 5.1 0a2.55 2.55 0 1 0 -5.1 0M512.7 109.3a2.55 2.55 0 1 0 5.1 0a2.55 2.55 0 1 0 -5.1 0M508.3 123.0a2.55 2.55 0 1 0 5.1 0a2.55 2.55 0 1 0 -5.1 0M501.1 109.8a2.55 2.55 0 1 0 5.1 0a2.55 2.55 0 1 0 -5.1 0M519.9 123.1a2.55 2.55 0 1 0 5.1 0a2.55 2.55 0 1 0 -5.1 0M488.7 114.1a2.55 2.55 0 1 0 5.1 0a2.55 2.55 0 1 0 -5.1 0M500.6 109.4a2.55 2.55 0 1 0 5.1 0a2.55 2.55 0 1 0 -5.1 0M488.6 117.8a2.55 2.55 0 1 0 5.1 0a2.55 2.55 0 1 0 -5.1 0M505.0 105.6a2.55 2.55 0 1 0 5.1 0a2.55 2.55 0 1 0 -5.1 0M514.8 102.7a2.55 2.55 0 1 0 5.1 0a2.55 2.55 0 1 0 -5.1 0M513.6 114.3a2.55 2.55 0 1 0 5.1 0a2.55 2.55 0 1 0 -5.1 0M493.2 118.0a2.55 2.55 0 1 0 5.1 0a2.55 2.55 0 1 0 -5.1 0M503.4 123.8a2.55 2.55 0 1 0 5.1 0a2.55 2.55 0 1 0 -5.1 0M515.9 119.6a2.55 2.55 0 1 0 5.1 0a2.55 2.55 0 1 0 -5.1 0M518.2 124.6a2.55 2.55 0 1 0 5.1 0a2.55 2.55 0 1 0 -5.1 0M504.2 121.2a2.55 2.55 0 1 0 5.1 0a2.55 2.55 0 1 0 -5.1 0M511.5 108.4a2.55 2.55 0 1 0 5.1 0a2.55 2.55 0 1 0 -5.1 0M504.8 125.8a2.55 2.55 0 1 0 5.1 0a2.55 2.55 0 1 0 -5.1 0M494.8 119.0a2.55 2.55 0 1 0 5.1 0a2.55 2.55 0 1 0 -5.1 0M508.9 104.6a2.55 2.55 0 1 0 5.1 0a2.55 2.55 0 1 0 -5.1 0M509.9 118.3a2.55 2.55 0 1 0 5.1 0a2.55 2.55 0 1 0 -5.1 0M517.4 109.4a2.55 2.55 0 1 0 5.1 0a2.55 2.55 0 1 0 -5.1 0M494.9 120.0a2.55 2.55 0 1 0 5.1 0a2.55 2.55 0 1 0 -5.1 0M512.1 109.5a2.55 2.55 0 1 0 5.1 0a2.55 2.55 0 1 0 -5.1 0M490.6 106.9a2.55 2.55 0 1 0 5.1 0a2.55 2.55 0 1 0 -5.1 0M512.5 110.7a2.55 2.55 0 1 0 5.1 0a2.55 2.55 0 1 0 -5.1 0M494.0 119.6a2.55 2.55 0 1 0 5.1 0a2.55 2.55 0 1 0 -5.1 0M489.2 112.0a2.55 2.55 0 1 0 5.1 0a2.55 2.55 0 1 0 -5.1 0M508.6 114.5a2.55 2.55 0 1 0 5.1 0a2.55 2.55 0 1 0 -5.1 0M499.2 108.6a2.55 2.55 0 1 0 5.1 0a2.55 2.55 0 1 0 -5.1 0M518.3 127.1a2.55 2.55 0 1 0 5.1 0a2.55 2.55 0 1 0 -5.1 0M511.7 120.8a2.55 2.55 0 1 0 5.1 0a2.55 2.55 0 1 0 -5.1 0M491.2 121.0a2.55 2.55 0 1 0 5.1 0a2.55 2.55 0 1 0 -5.1 0M492.1 121.8a2.55 2.55 0 1 0 5.1 0a2.55 2.55 0 1 0 -5.1 0M520.3 116.3a2.55 2.55 0 1 0 5.1 0a2.55 2.55 0 1 0 -5.1 0M502.0 107.2a2.55 2.55 0 1 0 5.1 0a2.55 2.55 0 1 0 -5.1 0M488.9 114.1a2.55 2.55 0 1 0 5.1 0a2.55 2.55 0 1 0 -5.1 0M519.4 110.9a2.55 2.55 0 1 0 5.1 0a2.55 2.55 0 1 0 -5.1 0M507.8 114.1a2.55 2.55 0 1 0 5.1 0a2.55 2.55 0 1 0 -5.1 0M511.8 116.2a2.55 2.55 0 1 0 5.1 0a2.55 2.55 0 1 0 -5.1 0M489.0 116.0a2.55 2.55 0 1 0 5.1 0a2.55 2.55 0 1 0 -5.1 0M512.3 115.7a2.55 2.55 0 1 0 5.1 0a2.55 2.55 0 1 0 -5.1 0M495.1 111.4a2.55 2.55 0 1 0 5.1 0a2.55 2.55 0 1 0 -5.1 0M498.2 118.9a2.55 2.55 0 1 0 5.1 0a2.55 2.55 0 1 0 -5.1 0M512.5 125.7a2.55 2.55 0 1 0 5.1 0a2.55 2.55 0 1 0 -5.1 0M507.4 109.1a2.55 2.55 0 1 0 5.1 0a2.55 2.55 0 1 0 -5.1 0M490.9 116.6a2.55 2.55 0 1 0 5.1 0a2.55 2.55 0 1 0 -5.1 0M505.4 107.6a2.55 2.55 0 1 0 5.1 0a2.55 2.55 0 1 0 -5.1 0M491.2 120.5a2.55 2.55 0 1 0 5.1 0a2.55 2.55 0 1 0 -5.1 0M503.1 117.0a2.55 2.55 0 1 0 5.1 0a2.55 2.55 0 1 0 -5.1 0M501.5 96.4a2.55 2.55 0 1 0 5.1 0a2.55 2.55 0 1 0 -5.1 0M517.9 87.7a2.55 2.55 0 1 0 5.1 0a2.55 2.55 0 1 0 -5.1 0M501.1 100.3a2.55 2.55 0 1 0 5.1 0a2.55 2.55 0 1 0 -5.1 0M505.7 91.5a2.55 2.55 0 1 0 5.1 0a2.55 2.55 0 1 0 -5.1 0M498.6 88.4a2.55 2.55 0 1 0 5.1 0a2.55 2.55 0 1 0 -5.1 0M497.3 96.8a2.55 2.55 0 1 0 5.1 0a2.55 2.55 0 1 0 -5.1 0M513.1 100.6a2.55 2.55 0 1 0 5.1 0a2.55 2.55 0 1 0 -5.1 0M502.9 90.9a2.55 2.55 0 1 0 5.1 0a2.55 2.55 0 1 0 -5.1 0M518.4 88.8a2.55 2.55 0 1 0 5.1 0a2.55 2.55 0 1 0 -5.1 0M502.0 99.1a2.55 2.55 0 1 0 5.1 0a2.55 2.55 0 1 0 -5.1 0M506.5 100.8a2.55 2.55 0 1 0 5.1 0a2.55 2.55 0 1 0 -5.1 0M499.0 100.7a2.55 2.55 0 1 0 5.1 0a2.55 2.55 0 1 0 -5.1 0M500.1 96.4a2.55 2.55 0 1 0 5.1 0a2.55 2.55 0 1 0 -5.1 0M519.1 86.6a2.55 2.55 0 1 0 5.1 0a2.55 2.55 0 1 0 -5.1 0M503.5 93.0a2.55 2.55 0 1 0 5.1 0a2.55 2.55 0 1 0 -5.1 0M508.6 100.9a2.55 2.55 0 1 0 5.1 0a2.55 2.55 0 1 0 -5.1 0M518.3 94.0a2.55 2.55 0 1 0 5.1 0a2.55 2.55 0 1 0 -5.1 0M502.6 95.3a2.55 2.55 0 1 0 5.1 0a2.55 2.55 0 1 0 -5.1 0M514.5 97.6a2.55 2.55 0 1 0 5.1 0a2.55 2.55 0 1 0 -5.1 0M510.2 93.5a2.55 2.55 0 1 0 5.1 0a2.55 2.55 0 1 0 -5.1 0M508.3 101.1a2.55 2.55 0 1 0 5.1 0a2.55 2.55 0 1 0 -5.1 0M504.3 91.1a2.55 2.55 0 1 0 5.1 0a2.55 2.55 0 1 0 -5.1 0M558.7 91.5a2.55 2.55 0 1 0 5.1 0a2.55 2.55 0 1 0 -5.1 0M553.6 104.5a2.55 2.55 0 1 0 5.1 0a2.55 2.55 0 1 0 -5.1 0M566.3 112.0a2.55 2.55 0 1 0 5.1 0a2.55 2.55 0 1 0 -5.1 0M561.5 95.6a2.55 2.55 0 1 0 5.1 0a2.55 2.55 0 1 0 -5.1 0M528.2 111.7a2.55 2.55 0 1 0 5.1 0a2.55 2.55 0 1 0 -5.1 0M550.7 104.5a2.55 2.55 0 1 0 5.1 0a2.55 2.55 0 1 0 -5.1 0M529.0 101.6a2.55 2.55 0 1 0 5.1 0a2.55 2.55 0 1 0 -5.1 0M543.9 101.1a2.55 2.55 0 1 0 5.1 0a2.55 2.55 0 1 0 -5.1 0M559.9 79.5a2.55 2.55 0 1 0 5.1 0a2.55 2.55 0 1 0 -5.1 0M560.0 92.4a2.55 2.55 0 1 0 5.1 0a2.55 2.55 0 1 0 -5.1 0M542.8 86.9a2.55 2.55 0 1 0 5.1 0a2.55 2.55 0 1 0 -5.1 0M547.8 85.7a2.55 2.55 0 1 0 5.1 0a2.55 2.55 0 1 0 -5.1 0M541.7 99.1a2.55 2.55 0 1 0 5.1 0a2.55 2.55 0 1 0 -5.1 0M552.7 110.6a2.55 2.55 0 1 0 5.1 0a2.55 2.55 0 1 0 -5.1 0M562.0 98.8a2.55 2.55 0 1 0 5.1 0a2.55 2.55 0 1 0 -5.1 0M560.5 103.0a2.55 2.55 0 1 0 5.1 0a2.55 2.55 0 1 0 -5.1 0M551.8 100.7a2.55 2.55 0 1 0 5.1 0a2.55 2.55 0 1 0 -5.1 0M563.4 91.7a2.55 2.55 0 1 0 5.1 0a2.55 2.55 0 1 0 -5.1 0M542.4 88.6a2.55 2.55 0 1 0 5.1 0a2.55 2.55 0 1 0 -5.1 0M570.4 82.7a2.55 2.55 0 1 0 5.1 0a2.55 2.55 0 1 0 -5.1 0M535.0 85.2a2.55 2.55 0 1 0 5.1 0a2.55 2.55 0 1 0 -5.1 0M533.6 85.7a2.55 2.55 0 1 0 5.1 0a2.55 2.55 0 1 0 -5.1 0M541.6 113.3a2.55 2.55 0 1 0 5.1 0a2.55 2.55 0 1 0 -5.1 0M530.7 91.8a2.55 2.55 0 1 0 5.1 0a2.55 2.55 0 1 0 -5.1 0M538.0 109.1a2.55 2.55 0 1 0 5.1 0a2.55 2.55 0 1 0 -5.1 0M551.8 75.7a2.55 2.55 0 1 0 5.1 0a2.55 2.55 0 1 0 -5.1 0M568.7 97.3a2.55 2.55 0 1 0 5.1 0a2.55 2.55 0 1 0 -5.1 0M558.2 116.1a2.55 2.55 0 1 0 5.1 0a2.55 2.55 0 1 0 -5.1 0M551.2 101.7a2.55 2.55 0 1 0 5.1 0a2.55 2.55 0 1 0 -5.1 0M569.5 104.4a2.55 2.55 0 1 0 5.1 0a2.55 2.55 0 1 0 -5.1 0M569.6 94.5a2.55 2.55 0 1 0 5.1 0a2.55 2.55 0 1 0 -5.1 0M567.7 82.0a2.55 2.55 0 1 0 5.1 0a2.55 2.55 0 1 0 -5.1 0M530.7 90.9a2.55 2.55 0 1 0 5.1 0a2.55 2.55 0 1 0 -5.1 0M533.2 100.7a2.55 2.55 0 1 0 5.1 0a2.55 2.55 0 1 0 -5.1 0M530.8 104.4a2.55 2.55 0 1 0 5.1 0a2.55 2.55 0 1 0 -5.1 0M523.4 118.3a2.55 2.55 0 1 0 5.1 0a2.55 2.55 0 1 0 -5.1 0M550.6 79.8a2.55 2.55 0 1 0 5.1 0a2.55 2.55 0 1 0 -5.1 0M539.0 112.2a2.55 2.55 0 1 0 5.1 0a2.55 2.55 0 1 0 -5.1 0M549.9 76.5a2.55 2.55 0 1 0 5.1 0a2.55 2.55 0 1 0 -5.1 0M572.3 98.0a2.55 2.55 0 1 0 5.1 0a2.55 2.55 0 1 0 -5.1 0M546.0 91.2a2.55 2.55 0 1 0 5.1 0a2.55 2.55 0 1 0 -5.1 0M568.0 107.3a2.55 2.55 0 1 0 5.1 0a2.55 2.55 0 1 0 -5.1 0M560.6 91.9a2.55 2.55 0 1 0 5.1 0a2.55 2.55 0 1 0 -5.1 0M536.7 93.4a2.55 2.55 0 1 0 5.1 0a2.55 2.55 0 1 0 -5.1 0M570.2 98.6a2.55 2.55 0 1 0 5.1 0a2.55 2.55 0 1 0 -5.1 0M543.7 101.5a2.55 2.55 0 1 0 5.1 0a2.55 2.55 0 1 0 -5.1 0M544.8 89.3a2.55 2.55 0 1 0 5.1 0a2.55 2.55 0 1 0 -5.1 0M545.9 106.9a2.55 2.55 0 1 0 5.1 0a2.55 2.55 0 1 0 -5.1 0M524.3 96.1a2.55 2.55 0 1 0 5.1 0a2.55 2.55 0 1 0 -5.1 0M529.3 88.9a2.55 2.55 0 1 0 5.1 0a2.55 2.55 0 1 0 -5.1 0M563.8 85.4a2.55 2.55 0 1 0 5.1 0a2.55 2.55 0 1 0 -5.1 0M545.1 90.5a2.55 2.55 0 1 0 5.1 0a2.55 2.55 0 1 0 -5.1 0M551.5 83.4a2.55 2.55 0 1 0 5.1 0a2.55 2.55 0 1 0 -5.1 0M533.9 107.4a2.55 2.55 0 1 0 5.1 0a2.55 2.55 0 1 0 -5.1 0M561.3 84.2a2.55 2.55 0 1 0 5.1 0a2.55 2.55 0 1 0 -5.1 0M533.2 93.2a2.55 2.55 0 1 0 5.1 0a2.55 2.55 0 1 0 -5.1 0M555.3 78.7a2.55 2.55 0 1 0 5.1 0a2.55 2.55 0 1 0 -5.1 0M547.5 94.2a2.55 2.55 0 1 0 5.1 0a2.55 2.55 0 1 0 -5.1 0M551.4 104.4a2.55 2.55 0 1 0 5.1 0a2.55 2.55 0 1 0 -5.1 0M543.4 77.6a2.55 2.55 0 1 0 5.1 0a2.55 2.55 0 1 0 -5.1 0M549.9 116.0a2.55 2.55 0 1 0 5.1 0a2.55 2.55 0 1 0 -5.1 0M522.0 107.3a2.55 2.55 0 1 0 5.1 0a2.55 2.55 0 1 0 -5.1 0M571.0 104.0a2.55 2.55 0 1 0 5.1 0a2.55 2.55 0 1 0 -5.1 0M562.0 99.2a2.55 2.55 0 1 0 5.1 0a2.55 2.55 0 1 0 -5.1 0M540.0 105.0a2.55 2.55 0 1 0 5.1 0a2.55 2.55 0 1 0 -5.1 0M542.3 99.6a2.55 2.55 0 1 0 5.1 0a2.55 2.55 0 1 0 -5.1 0M566.6 105.2a2.55 2.55 0 1 0 5.1 0a2.55 2.55 0 1 0 -5.1 0M546.7 107.4a2.55 2.55 0 1 0 5.1 0a2.55 2.55 0 1 0 -5.1 0M559.2 100.0a2.55 2.55 0 1 0 5.1 0a2.55 2.55 0 1 0 -5.1 0M541.9 106.6a2.55 2.55 0 1 0 5.1 0a2.55 2.55 0 1 0 -5.1 0M528.2 95.0a2.55 2.55 0 1 0 5.1 0a2.55 2.55 0 1 0 -5.1 0M543.1 105.3a2.55 2.55 0 1 0 5.1 0a2.55 2.55 0 1 0 -5.1 0M563.9 82.7a2.55 2.55 0 1 0 5.1 0a2.55 2.55 0 1 0 -5.1 0M553.2 83.4a2.55 2.55 0 1 0 5.1 0a2.55 2.55 0 1 0 -5.1 0M562.7 89.1a2.55 2.55 0 1 0 5.1 0a2.55 2.55 0 1 0 -5.1 0M564.5 93.2a2.55 2.55 0 1 0 5.1 0a2.55 2.55 0 1 0 -5.1 0M556.7 88.4a2.55 2.55 0 1 0 5.1 0a2.55 2.55 0 1 0 -5.1 0M540.4 95.3a2.55 2.55 0 1 0 5.1 0a2.55 2.55 0 1 0 -5.1 0M525.5 105.1a2.55 2.55 0 1 0 5.1 0a2.55 2.55 0 1 0 -5.1 0M566.8 90.4a2.55 2.55 0 1 0 5.1 0a2.55 2.55 0 1 0 -5.1 0M560.7 90.8a2.55 2.55 0 1 0 5.1 0a2.55 2.55 0 1 0 -5.1 0M569.6 91.2a2.55 2.55 0 1 0 5.1 0a2.55 2.55 0 1 0 -5.1 0M555.5 107.3a2.55 2.55 0 1 0 5.1 0a2.55 2.55 0 1 0 -5.1 0M538.9 84.2a2.55 2.55 0 1 0 5.1 0a2.55 2.55 0 1 0 -5.1 0M538.9 107.5a2.55 2.55 0 1 0 5.1 0a2.55 2.55 0 1 0 -5.1 0M546.4 88.5a2.55 2.55 0 1 0 5.1 0a2.55 2.55 0 1 0 -5.1 0M568.6 99.8a2.55 2.55 0 1 0 5.1 0a2.55 2.55 0 1 0 -5.1 0M545.5 85.4a2.55 2.55 0 1 0 5.1 0a2.55 2.55 0 1 0 -5.1 0M549.0 98.9a2.55 2.55 0 1 0 5.1 0a2.55 2.55 0 1 0 -5.1 0M535.2 91.8a2.55 2.55 0 1 0 5.1 0a2.55 2.55 0 1 0 -5.1 0M552.5 91.5a2.55 2.55 0 1 0 5.1 0a2.55 2.55 0 1 0 -5.1 0M553.8 98.2a2.55 2.55 0 1 0 5.1 0a2.55 2.55 0 1 0 -5.1 0M534.6 103.4a2.55 2.55 0 1 0 5.1 0a2.55 2.55 0 1 0 -5.1 0M536.2 100.1a2.55 2.55 0 1 0 5.1 0a2.55 2.55 0 1 0 -5.1 0M523.3 107.1a2.55 2.55 0 1 0 5.1 0a2.55 2.55 0 1 0 -5.1 0M561.0 85.6a2.55 2.55 0 1 0 5.1 0a2.55 2.55 0 1 0 -5.1 0M536.2 97.0a2.55 2.55 0 1 0 5.1 0a2.55 2.55 0 1 0 -5.1 0M553.9 78.3a2.55 2.55 0 1 0 5.1 0a2.55 2.55 0 1 0 -5.1 0M546.9 99.9a2.55 2.55 0 1 0 5.1 0a2.55 2.55 0 1 0 -5.1 0M540.4 94.7a2.55 2.55 0 1 0 5.1 0a2.55 2.55 0 1 0 -5.1 0M569.9 88.5a2.55 2.55 0 1 0 5.1 0a2.55 2.55 0 1 0 -5.1 0M566.5 103.6a2.55 2.55 0 1 0 5.1 0a2.55 2.55 0 1 0 -5.1 0M544.7 99.7a2.55 2.55 0 1 0 5.1 0a2.55 2.55 0 1 0 -5.1 0M546.2 92.0a2.55 2.55 0 1 0 5.1 0a2.55 2.55 0 1 0 -5.1 0M522.5 90.8a2.55 2.55 0 1 0 5.1 0a2.55 2.55 0 1 0 -5.1 0M548.5 108.7a2.55 2.55 0 1 0 5.1 0a2.55 2.55 0 1 0 -5.1 0M560.7 85.7a2.55 2.55 0 1 0 5.1 0a2.55 2.55 0 1 0 -5.1 0M549.7 89.0a2.55 2.55 0 1 0 5.1 0a2.55 2.55 0 1 0 -5.1 0M570.4 106.1a2.55 2.55 0 1 0 5.1 0a2.55 2.55 0 1 0 -5.1 0M542.8 84.0a2.55 2.55 0 1 0 5.1 0a2.55 2.55 0 1 0 -5.1 0M529.7 96.3a2.55 2.55 0 1 0 5.1 0a2.55 2.55 0 1 0 -5.1 0M516.7 103.5a2.55 2.55 0 1 0 5.1 0a2.55 2.55 0 1 0 -5.1 0M548.4 98.9a2.55 2.55 0 1 0 5.1 0a2.55 2.55 0 1 0 -5.1 0M556.0 111.1a2.55 2.55 0 1 0 5.1 0a2.55 2.55 0 1 0 -5.1 0M547.7 92.4a2.55 2.55 0 1 0 5.1 0a2.55 2.55 0 1 0 -5.1 0M568.8 108.4a2.55 2.55 0 1 0 5.1 0a2.55 2.55 0 1 0 -5.1 0M557.9 113.0a2.55 2.55 0 1 0 5.1 0a2.55 2.55 0 1 0 -5.1 0M551.3 86.0a2.55 2.55 0 1 0 5.1 0a2.55 2.55 0 1 0 -5.1 0M570.6 86.4a2.55 2.55 0 1 0 5.1 0a2.55 2.55 0 1 0 -5.1 0M537.4 93.3a2.55 2.55 0 1 0 5.1 0a2.55 2.55 0 1 0 -5.1 0M552.7 82.9a2.55 2.55 0 1 0 5.1 0a2.55 2.55 0 1 0 -5.1 0M571.1 107.4a2.55 2.55 0 1 0 5.1 0a2.55 2.55 0 1 0 -5.1 0M539.6 108.5a2.55 2.55 0 1 0 5.1 0a2.55 2.55 0 1 0 -5.1 0M553.6 106.8a2.55 2.55 0 1 0 5.1 0a2.55 2.55 0 1 0 -5.1 0M557.1 84.6a2.55 2.55 0 1 0 5.1 0a2.55 2.55 0 1 0 -5.1 0M535.4 82.9a2.55 2.55 0 1 0 5.1 0a2.55 2.55 0 1 0 -5.1 0M541.8 81.6a2.55 2.55 0 1 0 5.1 0a2.55 2.55 0 1 0 -5.1 0M548.7 108.0a2.55 2.55 0 1 0 5.1 0a2.55 2.55 0 1 0 -5.1 0M526.9 103.5a2.55 2.55 0 1 0 5.1 0a2.55 2.55 0 1 0 -5.1 0M542.9 104.1a2.55 2.55 0 1 0 5.1 0a2.55 2.55 0 1 0 -5.1 0M548.6 95.3a2.55 2.55 0 1 0 5.1 0a2.55 2.55 0 1 0 -5.1 0M531.0 97.3a2.55 2.55 0 1 0 5.1 0a2.55 2.55 0 1 0 -5.1 0M530.0 103.7a2.55 2.55 0 1 0 5.1 0a2.55 2.55 0 1 0 -5.1 0M545.3 108.0a2.55 2.55 0 1 0 5.1 0a2.55 2.55 0 1 0 -5.1 0M543.3 101.1a2.55 2.55 0 1 0 5.1 0a2.55 2.55 0 1 0 -5.1 0M568.7 87.6a2.55 2.55 0 1 0 5.1 0a2.55 2.55 0 1 0 -5.1 0M529.2 102.4a2.55 2.55 0 1 0 5.1 0a2.55 2.55 0 1 0 -5.1 0M522.2 103.9a2.55 2.55 0 1 0 5.1 0a2.55 2.55 0 1 0 -5.1 0M543.2 82.4a2.55 2.55 0 1 0 5.1 0a2.55 2.55 0 1 0 -5.1 0M527.4 88.5a2.55 2.55 0 1 0 5.1 0a2.55 2.55 0 1 0 -5.1 0M546.1 87.0a2.55 2.55 0 1 0 5.1 0a2.55 2.55 0 1 0 -5.1 0M518.3 101.4a2.55 2.55 0 1 0 5.1 0a2.55 2.55 0 1 0 -5.1 0M549.3 103.9a2.55 2.55 0 1 0 5.1 0a2.55 2.55 0 1 0 -5.1 0M559.8 93.9a2.55 2.55 0 1 0 5.1 0a2.55 2.55 0 1 0 -5.1 0M551.0 110.1a2.55 2.55 0 1 0 5.1 0a2.55 2.55 0 1 0 -5.1 0M526.3 114.1a2.55 2.55 0 1 0 5.1 0a2.55 2.55 0 1 0 -5.1 0M571.2 101.1a2.55 2.55 0 1 0 5.1 0a2.55 2.55 0 1 0 -5.1 0M557.1 91.6a2.55 2.55 0 1 0 5.1 0a2.55 2.55 0 1 0 -5.1 0M552.1 96.2a2.55 2.55 0 1 0 5.1 0a2.55 2.55 0 1 0 -5.1 0M558.2 84.2a2.55 2.55 0 1 0 5.1 0a2.55 2.55 0 1 0 -5.1 0M543.7 98.5a2.55 2.55 0 1 0 5.1 0a2.55 2.55 0 1 0 -5.1 0M551.4 90.9a2.55 2.55 0 1 0 5.1 0a2.55 2.55 0 1 0 -5.1 0M536.8 118.5a2.55 2.55 0 1 0 5.1 0a2.55 2.55 0 1 0 -5.1 0M534.1 118.0a2.55 2.55 0 1 0 5.1 0a2.55 2.55 0 1 0 -5.1 0M530.3 99.0a2.55 2.55 0 1 0 5.1 0a2.55 2.55 0 1 0 -5.1 0M540.0 85.1a2.55 2.55 0 1 0 5.1 0a2.55 2.55 0 1 0 -5.1 0M569.5 98.3a2.55 2.55 0 1 0 5.1 0a2.55 2.55 0 1 0 -5.1 0M540.5 106.7a2.55 2.55 0 1 0 5.1 0a2.55 2.55 0 1 0 -5.1 0M520.8 112.2a2.55 2.55 0 1 0 5.1 0a2.55 2.55 0 1 0 -5.1 0M551.2 100.0a2.55 2.55 0 1 0 5.1 0a2.55 2.55 0 1 0 -5.1 0M557.9 97.3a2.55 2.55 0 1 0 5.1 0a2.55 2.55 0 1 0 -5.1 0M540.5 95.8a2.55 2.55 0 1 0 5.1 0a2.55 2.55 0 1 0 -5.1 0M526.3 89.6a2.55 2.55 0 1 0 5.1 0a2.55 2.55 0 1 0 -5.1 0M531.7 94.9a2.55 2.55 0 1 0 5.1 0a2.55 2.55 0 1 0 -5.1 0M540.2 105.5a2.55 2.55 0 1 0 5.1 0a2.55 2.55 0 1 0 -5.1 0M558.9 89.4a2.55 2.55 0 1 0 5.1 0a2.55 2.55 0 1 0 -5.1 0M548.8 105.4a2.55 2.55 0 1 0 5.1 0a2.55 2.55 0 1 0 -5.1 0M535.2 95.1a2.55 2.55 0 1 0 5.1 0a2.55 2.55 0 1 0 -5.1 0M542.6 107.0a2.55 2.55 0 1 0 5.1 0a2.55 2.55 0 1 0 -5.1 0M544.8 112.5a2.55 2.55 0 1 0 5.1 0a2.55 2.55 0 1 0 -5.1 0M561.5 89.7a2.55 2.55 0 1 0 5.1 0a2.55 2.55 0 1 0 -5.1 0M526.7 97.6a2.55 2.55 0 1 0 5.1 0a2.55 2.55 0 1 0 -5.1 0M521.9 98.2a2.55 2.55 0 1 0 5.1 0a2.55 2.55 0 1 0 -5.1 0M560.0 82.2a2.55 2.55 0 1 0 5.1 0a2.55 2.55 0 1 0 -5.1 0M534.2 105.1a2.55 2.55 0 1 0 5.1 0a2.55 2.55 0 1 0 -5.1 0M560.2 75.2a2.55 2.55 0 1 0 5.1 0a2.55 2.55 0 1 0 -5.1 0M544.8 106.0a2.55 2.55 0 1 0 5.1 0a2.55 2.55 0 1 0 -5.1 0M569.8 104.3a2.55 2.55 0 1 0 5.1 0a2.55 2.55 0 1 0 -5.1 0M537.6 93.2a2.55 2.55 0 1 0 5.1 0a2.55 2.55 0 1 0 -5.1 0M554.1 93.8a2.55 2.55 0 1 0 5.1 0a2.55 2.55 0 1 0 -5.1 0M530.1 85.7a2.55 2.55 0 1 0 5.1 0a2.55 2.55 0 1 0 -5.1 0M524.6 105.5a2.55 2.55 0 1 0 5.1 0a2.55 2.55 0 1 0 -5.1 0M560.1 115.4a2.55 2.55 0 1 0 5.1 0a2.55 2.55 0 1 0 -5.1 0M518.6 117.3a2.55 2.55 0 1 0 5.1 0a2.55 2.55 0 1 0 -5.1 0M543.4 112.2a2.55 2.55 0 1 0 5.1 0a2.55 2.55 0 1 0 -5.1 0M550.7 101.0a2.55 2.55 0 1 0 5.1 0a2.55 2.55 0 1 0 -5.1 0M556.5 96.1a2.55 2.55 0 1 0 5.1 0a2.55 2.55 0 1 0 -5.1 0M565.3 93.7a2.55 2.55 0 1 0 5.1 0a2.55 2.55 0 1 0 -5.1 0M549.3 94.2a2.55 2.55 0 1 0 5.1 0a2.55 2.55 0 1 0 -5.1 0M522.0 111.1a2.55 2.55 0 1 0 5.1 0a2.55 2.55 0 1 0 -5.1 0M517.0 97.8a2.55 2.55 0 1 0 5.1 0a2.55 2.55 0 1 0 -5.1 0M553.7 88.4a2.55 2.55 0 1 0 5.1 0a2.55 2.55 0 1 0 -5.1 0M533.0 104.7a2.55 2.55 0 1 0 5.1 0a2.55 2.55 0 1 0 -5.1 0M544.3 91.0a2.55 2.55 0 1 0 5.1 0a2.55 2.55 0 1 0 -5.1 0M533.6 103.1a2.55 2.55 0 1 0 5.1 0a2.55 2.55 0 1 0 -5.1 0M572.1 93.8a2.55 2.55 0 1 0 5.1 0a2.55 2.55 0 1 0 -5.1 0M553.1 104.8a2.55 2.55 0 1 0 5.1 0a2.55 2.55 0 1 0 -5.1 0M520.1 100.1a2.55 2.55 0 1 0 5.1 0a2.55 2.55 0 1 0 -5.1 0M522.1 92.7a2.55 2.55 0 1 0 5.1 0a2.55 2.55 0 1 0 -5.1 0M528.2 108.2a2.55 2.55 0 1 0 5.1 0a2.55 2.55 0 1 0 -5.1 0M536.1 93.3a2.55 2.55 0 1 0 5.1 0a2.55 2.55 0 1 0 -5.1 0M549.5 106.4a2.55 2.55 0 1 0 5.1 0a2.55 2.55 0 1 0 -5.1 0M551.5 102.4a2.55 2.55 0 1 0 5.1 0a2.55 2.55 0 1 0 -5.1 0M557.7 84.7a2.55 2.55 0 1 0 5.1 0a2.55 2.55 0 1 0 -5.1 0M520.3 99.5a2.55 2.55 0 1 0 5.1 0a2.55 2.55 0 1 0 -5.1 0M559.3 98.5a2.55 2.55 0 1 0 5.1 0a2.55 2.55 0 1 0 -5.1 0M534.1 96.9a2.55 2.55 0 1 0 5.1 0a2.55 2.55 0 1 0 -5.1 0M552.4 97.7a2.55 2.55 0 1 0 5.1 0a2.55 2.55 0 1 0 -5.1 0M570.1 105.8a2.55 2.55 0 1 0 5.1 0a2.55 2.55 0 1 0 -5.1 0M532.9 95.2a2.55 2.55 0 1 0 5.1 0a2.55 2.55 0 1 0 -5.1 0M540.6 89.9a2.55 2.55 0 1 0 5.1 0a2.55 2.55 0 1 0 -5.1 0M571.2 80.6a2.55 2.55 0 1 0 5.1 0a2.55 2.55 0 1 0 -5.1 0M549.3 92.8a2.55 2.55 0 1 0 5.1 0a2.55 2.55 0 1 0 -5.1 0M553.0 91.8a2.55 2.55 0 1 0 5.1 0a2.55 2.55 0 1 0 -5.1 0M542.5 113.1a2.55 2.55 0 1 0 5.1 0a2.55 2.55 0 1 0 -5.1 0M564.7 112.1a2.55 2.55 0 1 0 5.1 0a2.55 2.55 0 1 0 -5.1 0M552.4 93.9a2.55 2.55 0 1 0 5.1 0a2.55 2.55 0 1 0 -5.1 0M539.5 108.2a2.55 2.55 0 1 0 5.1 0a2.55 2.55 0 1 0 -5.1 0M562.1 120.0a2.55 2.55 0 1 0 5.1 0a2.55 2.55 0 1 0 -5.1 0M564.4 96.3a2.55 2.55 0 1 0 5.1 0a2.55 2.55 0 1 0 -5.1 0M541.1 107.3a2.55 2.55 0 1 0 5.1 0a2.55 2.55 0 1 0 -5.1 0M524.8 99.5a2.55 2.55 0 1 0 5.1 0a2.55 2.55 0 1 0 -5.1 0M566.7 96.9a2.55 2.55 0 1 0 5.1 0a2.55 2.55 0 1 0 -5.1 0M536.6 84.2a2.55 2.55 0 1 0 5.1 0a2.55 2.55 0 1 0 -5.1 0M547.5 93.3a2.55 2.55 0 1 0 5.1 0a2.55 2.55 0 1 0 -5.1 0M529.2 95.4a2.55 2.55 0 1 0 5.1 0a2.55 2.55 0 1 0 -5.1 0M568.3 83.6a2.55 2.55 0 1 0 5.1 0a2.55 2.55 0 1 0 -5.1 0M569.4 97.4a2.55 2.55 0 1 0 5.1 0a2.55 2.55 0 1 0 -5.1 0M552.7 117.3a2.55 2.55 0 1 0 5.1 0a2.55 2.55 0 1 0 -5.1 0M562.3 89.0a2.55 2.55 0 1 0 5.1 0a2.55 2.55 0 1 0 -5.1 0M550.9 87.6a2.55 2.55 0 1 0 5.1 0a2.55 2.55 0 1 0 -5.1 0M535.9 91.2a2.55 2.55 0 1 0 5.1 0a2.55 2.55 0 1 0 -5.1 0M550.5 104.4a2.55 2.55 0 1 0 5.1 0a2.55 2.55 0 1 0 -5.1 0M551.6 98.7a2.55 2.55 0 1 0 5.1 0a2.55 2.55 0 1 0 -5.1 0M549.3 79.2a2.55 2.55 0 1 0 5.1 0a2.55 2.55 0 1 0 -5.1 0M529.4 89.5a2.55 2.55 0 1 0 5.1 0a2.55 2.55 0 1 0 -5.1 0M520.9 109.5a2.55 2.55 0 1 0 5.1 0a2.55 2.55 0 1 0 -5.1 0M549.7 105.2a2.55 2.55 0 1 0 5.1 0a2.55 2.55 0 1 0 -5.1 0M532.0 98.1a2.55 2.55 0 1 0 5.1 0a2.55 2.55 0 1 0 -5.1 0M556.5 101.9a2.55 2.55 0 1 0 5.1 0a2.55 2.55 0 1 0 -5.1 0M564.6 89.4a2.55 2.55 0 1 0 5.1 0a2.55 2.55 0 1 0 -5.1 0M569.1 94.3a2.55 2.55 0 1 0 5.1 0a2.55 2.55 0 1 0 -5.1 0M529.6 91.7a2.55 2.55 0 1 0 5.1 0a2.55 2.55 0 1 0 -5.1 0M567.6 99.4a2.55 2.55 0 1 0 5.1 0a2.55 2.55 0 1 0 -5.1 0M568.8 92.5a2.55 2.55 0 1 0 5.1 0a2.55 2.55 0 1 0 -5.1 0M559.3 95.5a2.55 2.55 0 1 0 5.1 0a2.55 2.55 0 1 0 -5.1 0M545.7 108.9a2.55 2.55 0 1 0 5.1 0a2.55 2.55 0 1 0 -5.1 0M539.1 91.8a2.55 2.55 0 1 0 5.1 0a2.55 2.55 0 1 0 -5.1 0M540.1 117.6a2.55 2.55 0 1 0 5.1 0a2.55 2.55 0 1 0 -5.1 0M546.4 112.7a2.55 2.55 0 1 0 5.1 0a2.55 2.55 0 1 0 -5.1 0M570.1 107.3a2.55 2.55 0 1 0 5.1 0a2.55 2.55 0 1 0 -5.1 0M553.5 91.2a2.55 2.55 0 1 0 5.1 0a2.55 2.55 0 1 0 -5.1 0M538.1 97.6a2.55 2.55 0 1 0 5.1 0a2.55 2.55 0 1 0 -5.1 0M555.1 104.7a2.55 2.55 0 1 0 5.1 0a2.55 2.55 0 1 0 -5.1 0M540.1 107.0a2.55 2.55 0 1 0 5.1 0a2.55 2.55 0 1 0 -5.1 0M521.6 100.7a2.55 2.55 0 1 0 5.1 0a2.55 2.55 0 1 0 -5.1 0M561.5 86.0a2.55 2.55 0 1 0 5.1 0a2.55 2.55 0 1 0 -5.1 0M564.1 85.4a2.55 2.55 0 1 0 5.1 0a2.55 2.55 0 1 0 -5.1 0M533.9 87.8a2.55 2.55 0 1 0 5.1 0a2.55 2.55 0 1 0 -5.1 0M551.9 91.6a2.55 2.55 0 1 0 5.1 0a2.55 2.55 0 1 0 -5.1 0M528.5 92.2a2.55 2.55 0 1 0 5.1 0a2.55 2.55 0 1 0 -5.1 0M536.0 96.5a2.55 2.55 0 1 0 5.1 0a2.55 2.55 0 1 0 -5.1 0M530.3 100.7a2.55 2.55 0 1 0 5.1 0a2.55 2.55 0 1 0 -5.1 0M559.3 94.4a2.55 2.55 0 1 0 5.1 0a2.55 2.55 0 1 0 -5.1 0M542.4 84.6a2.55 2.55 0 1 0 5.1 0a2.55 2.55 0 1 0 -5.1 0M564.9 97.8a2.55 2.55 0 1 0 5.1 0a2.55 2.55 0 1 0 -5.1 0M533.2 90.3a2.55 2.55 0 1 0 5.1 0a2.55 2.55 0 1 0 -5.1 0M554.5 109.9a2.55 2.55 0 1 0 5.1 0a2.55 2.55 0 1 0 -5.1 0M555.1 102.2a2.55 2.55 0 1 0 5.1 0a2.55 2.55 0 1 0 -5.1 0M549.1 119.8a2.55 2.55 0 1 0 5.1 0a2.55 2.55 0 1 0 -5.1 0M560.8 105.2a2.55 2.55 0 1 0 5.1 0a2.55 2.55 0 1 0 -5.1 0M546.5 100.0a2.55 2.55 0 1 0 5.1 0a2.55 2.55 0 1 0 -5.1 0M528.7 94.3a2.55 2.55 0 1 0 5.1 0a2.55 2.55 0 1 0 -5.1 0M536.4 108.7a2.55 2.55 0 1 0 5.1 0a2.55 2.55 0 1 0 -5.1 0M535.3 119.2a2.55 2.55 0 1 0 5.1 0a2.55 2.55 0 1 0 -5.1 0M554.6 107.5a2.55 2.55 0 1 0 5.1 0a2.55 2.55 0 1 0 -5.1 0M560.0 98.6a2.55 2.55 0 1 0 5.1 0a2.55 2.55 0 1 0 -5.1 0M553.9 106.5a2.55 2.55 0 1 0 5.1 0a2.55 2.55 0 1 0 -5.1 0M532.3 94.7a2.55 2.55 0 1 0 5.1 0a2.55 2.55 0 1 0 -5.1 0M528.7 105.2a2.55 2.55 0 1 0 5.1 0a2.55 2.55 0 1 0 -5.1 0M551.7 116.7a2.55 2.55 0 1 0 5.1 0a2.55 2.55 0 1 0 -5.1 0M547.9 108.7a2.55 2.55 0 1 0 5.1 0a2.55 2.55 0 1 0 -5.1 0M558.3 110.8a2.55 2.55 0 1 0 5.1 0a2.55 2.55 0 1 0 -5.1 0M547.1 98.8a2.55 2.55 0 1 0 5.1 0a2.55 2.55 0 1 0 -5.1 0M562.2 95.9a2.55 2.55 0 1 0 5.1 0a2.55 2.55 0 1 0 -5.1 0M534.6 93.9a2.55 2.55 0 1 0 5.1 0a2.55 2.55 0 1 0 -5.1 0M517.2 107.6a2.55 2.55 0 1 0 5.1 0a2.55 2.55 0 1 0 -5.1 0M557.7 83.7a2.55 2.55 0 1 0 5.1 0a2.55 2.55 0 1 0 -5.1 0M555.2 92.4a2.55 2.55 0 1 0 5.1 0a2.55 2.55 0 1 0 -5.1 0M539.0 99.1a2.55 2.55 0 1 0 5.1 0a2.55 2.55 0 1 0 -5.1 0M549.9 112.4a2.55 2.55 0 1 0 5.1 0a2.55 2.55 0 1 0 -5.1 0M560.0 108.7a2.55 2.55 0 1 0 5.1 0a2.55 2.55 0 1 0 -5.1 0M566.8 102.8a2.55 2.55 0 1 0 5.1 0a2.55 2.55 0 1 0 -5.1 0M529.3 100.9a2.55 2.55 0 1 0 5.1 0a2.55 2.55 0 1 0 -5.1 0M539.4 93.5a2.55 2.55 0 1 0 5.1 0a2.55 2.55 0 1 0 -5.1 0M516.6 102.0a2.55 2.55 0 1 0 5.1 0a2.55 2.55 0 1 0 -5.1 0M519.1 96.2a2.55 2.55 0 1 0 5.1 0a2.55 2.55 0 1 0 -5.1 0M546.4 115.6a2.55 2.55 0 1 0 5.1 0a2.55 2.55 0 1 0 -5.1 0M556.2 95.8a2.55 2.55 0 1 0 5.1 0a2.55 2.55 0 1 0 -5.1 0M554.7 97.1a2.55 2.55 0 1 0 5.1 0a2.55 2.55 0 1 0 -5.1 0M539.6 100.6a2.55 2.55 0 1 0 5.1 0a2.55 2.55 0 1 0 -5.1 0M530.8 92.1a2.55 2.55 0 1 0 5.1 0a2.55 2.55 0 1 0 -5.1 0M549.7 96.2a2.55 2.55 0 1 0 5.1 0a2.55 2.55 0 1 0 -5.1 0M543.1 85.7a2.55 2.55 0 1 0 5.1 0a2.55 2.55 0 1 0 -5.1 0M570.1 107.7a2.55 2.55 0 1 0 5.1 0a2.55 2.55 0 1 0 -5.1 0M559.9 101.4a2.55 2.55 0 1 0 5.1 0a2.55 2.55 0 1 0 -5.1 0M550.9 93.3a2.55 2.55 0 1 0 5.1 0a2.55 2.55 0 1 0 -5.1 0M562.8 97.9a2.55 2.55 0 1 0 5.1 0a2.55 2.55 0 1 0 -5.1 0M540.6 93.4a2.55 2.55 0 1 0 5.1 0a2.55 2.55 0 1 0 -5.1 0M559.7 89.4a2.55 2.55 0 1 0 5.1 0a2.55 2.55 0 1 0 -5.1 0M536.5 83.8a2.55 2.55 0 1 0 5.1 0a2.55 2.55 0 1 0 -5.1 0M532.3 93.5a2.55 2.55 0 1 0 5.1 0a2.55 2.55 0 1 0 -5.1 0M536.7 94.0a2.55 2.55 0 1 0 5.1 0a2.55 2.55 0 1 0 -5.1 0M542.5 84.6a2.55 2.55 0 1 0 5.1 0a2.55 2.55 0 1 0 -5.1 0M530.9 106.1a2.55 2.55 0 1 0 5.1 0a2.55 2.55 0 1 0 -5.1 0M559.3 85.4a2.55 2.55 0 1 0 5.1 0a2.55 2.55 0 1 0 -5.1 0M567.3 104.8a2.55 2.55 0 1 0 5.1 0a2.55 2.55 0 1 0 -5.1 0M545.4 92.1a2.55 2.55 0 1 0 5.1 0a2.55 2.55 0 1 0 -5.1 0M552.2 108.9a2.55 2.55 0 1 0 5.1 0a2.55 2.55 0 1 0 -5.1 0M549.2 97.0a2.55 2.55 0 1 0 5.1 0a2.55 2.55 0 1 0 -5.1 0M526.5 96.6a2.55 2.55 0 1 0 5.1 0a2.55 2.55 0 1 0 -5.1 0M540.2 98.6a2.55 2.55 0 1 0 5.1 0a2.55 2.55 0 1 0 -5.1 0M520.5 98.3a2.55 2.55 0 1 0 5.1 0a2.55 2.55 0 1 0 -5.1 0M531.6 106.2a2.55 2.55 0 1 0 5.1 0a2.55 2.55 0 1 0 -5.1 0M559.5 92.1a2.55 2.55 0 1 0 5.1 0a2.55 2.55 0 1 0 -5.1 0M543.5 89.5a2.55 2.55 0 1 0 5.1 0a2.55 2.55 0 1 0 -5.1 0M532.1 102.3a2.55 2.55 0 1 0 5.1 0a2.55 2.55 0 1 0 -5.1 0M561.7 109.6a2.55 2.55 0 1 0 5.1 0a2.55 2.55 0 1 0 -5.1 0M518.4 109.1a2.55 2.55 0 1 0 5.1 0a2.55 2.55 0 1 0 -5.1 0M547.2 94.1a2.55 2.55 0 1 0 5.1 0a2.55 2.55 0 1 0 -5.1 0M558.8 96.8a2.55 2.55 0 1 0 5.1 0a2.55 2.55 0 1 0 -5.1 0M559.8 99.5a2.55 2.55 0 1 0 5.1 0a2.55 2.55 0 1 0 -5.1 0M521.0 101.6a2.55 2.55 0 1 0 5.1 0a2.55 2.55 0 1 0 -5.1 0M543.9 97.3a2.55 2.55 0 1 0 5.1 0a2.55 2.55 0 1 0 -5.1 0M549.8 93.7a2.55 2.55 0 1 0 5.1 0a2.55 2.55 0 1 0 -5.1 0M545.9 106.3a2.55 2.55 0 1 0 5.1 0a2.55 2.55 0 1 0 -5.1 0M536.5 118.9a2.55 2.55 0 1 0 5.1 0a2.55 2.55 0 1 0 -5.1 0M531.5 85.5a2.55 2.55 0 1 0 5.1 0a2.55 2.55 0 1 0 -5.1 0M541.9 105.1a2.55 2.55 0 1 0 5.1 0a2.55 2.55 0 1 0 -5.1 0M535.8 114.7a2.55 2.55 0 1 0 5.1 0a2.55 2.55 0 1 0 -5.1 0M547.9 99.6a2.55 2.55 0 1 0 5.1 0a2.55 2.55 0 1 0 -5.1 0M555.9 96.6a2.55 2.55 0 1 0 5.1 0a2.55 2.55 0 1 0 -5.1 0M533.3 85.9a2.55 2.55 0 1 0 5.1 0a2.55 2.55 0 1 0 -5.1 0M539.7 105.3a2.55 2.55 0 1 0 5.1 0a2.55 2.55 0 1 0 -5.1 0M550.8 79.0a2.55 2.55 0 1 0 5.1 0a2.55 2.55 0 1 0 -5.1 0M546.8 95.2a2.55 2.55 0 1 0 5.1 0a2.55 2.55 0 1 0 -5.1 0M565.1 97.1a2.55 2.55 0 1 0 5.1 0a2.55 2.55 0 1 0 -5.1 0M565.4 99.2a2.55 2.55 0 1 0 5.1 0a2.55 2.55 0 1 0 -5.1 0M550.1 98.9a2.55 2.55 0 1 0 5.1 0a2.55 2.55 0 1 0 -5.1 0M570.4 103.2a2.55 2.55 0 1 0 5.1 0a2.55 2.55 0 1 0 -5.1 0M547.7 84.4a2.55 2.55 0 1 0 5.1 0a2.55 2.55 0 1 0 -5.1 0M569.6 95.6a2.55 2.55 0 1 0 5.1 0a2.55 2.55 0 1 0 -5.1 0M530.9 96.8a2.55 2.55 0 1 0 5.1 0a2.55 2.55 0 1 0 -5.1 0M569.4 110.3a2.55 2.55 0 1 0 5.1 0a2.55 2.55 0 1 0 -5.1 0M572.6 87.6a2.55 2.55 0 1 0 5.1 0a2.55 2.55 0 1 0 -5.1 0M564.2 76.5a2.55 2.55 0 1 0 5.1 0a2.55 2.55 0 1 0 -5.1 0M538.7 99.1a2.55 2.55 0 1 0 5.1 0a2.55 2.55 0 1 0 -5.1 0M557.6 87.4a2.55 2.55 0 1 0 5.1 0a2.55 2.55 0 1 0 -5.1 0M565.1 95.8a2.55 2.55 0 1 0 5.1 0a2.55 2.55 0 1 0 -5.1 0M558.5 104.5a2.55 2.55 0 1 0 5.1 0a2.55 2.55 0 1 0 -5.1 0M544.5 117.3a2.55 2.55 0 1 0 5.1 0a2.55 2.55 0 1 0 -5.1 0M563.9 103.6a2.55 2.55 0 1 0 5.1 0a2.55 2.55 0 1 0 -5.1 0M560.2 87.5a2.55 2.55 0 1 0 5.1 0a2.55 2.55 0 1 0 -5.1 0M528.4 92.5a2.55 2.55 0 1 0 5.1 0a2.55 2.55 0 1 0 -5.1 0M552.9 100.5a2.55 2.55 0 1 0 5.1 0a2.55 2.55 0 1 0 -5.1 0M539.8 108.9a2.55 2.55 0 1 0 5.1 0a2.55 2.55 0 1 0 -5.1 0M554.3 92.2a2.55 2.55 0 1 0 5.1 0a2.55 2.55 0 1 0 -5.1 0M550.8 84.7a2.55 2.55 0 1 0 5.1 0a2.55 2.55 0 1 0 -5.1 0M556.9 86.0a2.55 2.55 0 1 0 5.1 0a2.55 2.55 0 1 0 -5.1 0M549.2 98.2a2.55 2.55 0 1 0 5.1 0a2.55 2.55 0 1 0 -5.1 0M537.3 97.9a2.55 2.55 0 1 0 5.1 0a2.55 2.55 0 1 0 -5.1 0M540.3 84.9a2.55 2.55 0 1 0 5.1 0a2.55 2.55 0 1 0 -5.1 0M545.4 102.0a2.55 2.55 0 1 0 5.1 0a2.55 2.55 0 1 0 -5.1 0M555.5 100.2a2.55 2.55 0 1 0 5.1 0a2.55 2.55 0 1 0 -5.1 0M554.1 97.4a2.55 2.55 0 1 0 5.1 0a2.55 2.55 0 1 0 -5.1 0M559.4 85.7a2.55 2.55 0 1 0 5.1 0a2.55 2.55 0 1 0 -5.1 0M534.5 84.5a2.55 2.55 0 1 0 5.1 0a2.55 2.55 0 1 0 -5.1 0M569.2 99.5a2.55 2.55 0 1 0 5.1 0a2.55 2.55 0 1 0 -5.1 0M556.7 96.9a2.55 2.55 0 1 0 5.1 0a2.55 2.55 0 1 0 -5.1 0M569.1 86.8a2.55 2.55 0 1 0 5.1 0a2.55 2.55 0 1 0 -5.1 0M563.3 112.9a2.55 2.55 0 1 0 5.1 0a2.55 2.55 0 1 0 -5.1 0M571.0 85.7a2.55 2.55 0 1 0 5.1 0a2.55 2.55 0 1 0 -5.1 0M542.7 89.3a2.55 2.55 0 1 0 5.1 0a2.55 2.55 0 1 0 -5.1 0M553.8 92.9a2.55 2.55 0 1 0 5.1 0a2.55 2.55 0 1 0 -5.1 0M518.7 109.9a2.55 2.55 0 1 0 5.1 0a2.55 2.55 0 1 0 -5.1 0M519.0 93.4a2.55 2.55 0 1 0 5.1 0a2.55 2.55 0 1 0 -5.1 0M556.4 99.0a2.55 2.55 0 1 0 5.1 0a2.55 2.55 0 1 0 -5.1 0M530.6 90.3a2.55 2.55 0 1 0 5.1 0a2.55 2.55 0 1 0 -5.1 0M559.5 88.3a2.55 2.55 0 1 0 5.1 0a2.55 2.55 0 1 0 -5.1 0M533.0 88.4a2.55 2.55 0 1 0 5.1 0a2.55 2.55 0 1 0 -5.1 0M538.8 90.8a2.55 2.55 0 1 0 5.1 0a2.55 2.55 0 1 0 -5.1 0M525.6 99.1a2.55 2.55 0 1 0 5.1 0a2.55 2.55 0 1 0 -5.1 0M568.3 89.0a2.55 2.55 0 1 0 5.1 0a2.55 2.55 0 1 0 -5.1 0M518.0 110.3a2.55 2.55 0 1 0 5.1 0a2.55 2.55 0 1 0 -5.1 0M527.3 105.3a2.55 2.55 0 1 0 5.1 0a2.55 2.55 0 1 0 -5.1 0M562.9 81.0a2.55 2.55 0 1 0 5.1 0a2.55 2.55 0 1 0 -5.1 0M522.3 117.9a2.55 2.55 0 1 0 5.1 0a2.55 2.55 0 1 0 -5.1 0M527.6 100.9a2.55 2.55 0 1 0 5.1 0a2.55 2.55 0 1 0 -5.1 0M535.8 117.8a2.55 2.55 0 1 0 5.1 0a2.55 2.55 0 1 0 -5.1 0M559.2 90.1a2.55 2.55 0 1 0 5.1 0a2.55 2.55 0 1 0 -5.1 0M556.3 102.3a2.55 2.55 0 1 0 5.1 0a2.55 2.55 0 1 0 -5.1 0M567.8 103.6a2.55 2.55 0 1 0 5.1 0a2.55 2.55 0 1 0 -5.1 0M565.0 105.0a2.55 2.55 0 1 0 5.1 0a2.55 2.55 0 1 0 -5.1 0M550.6 106.2a2.55 2.55 0 1 0 5.1 0a2.55 2.55 0 1 0 -5.1 0M568.6 104.9a2.55 2.55 0 1 0 5.1 0a2.55 2.55 0 1 0 -5.1 0M565.8 85.4a2.55 2.55 0 1 0 5.1 0a2.55 2.55 0 1 0 -5.1 0M558.7 93.4a2.55 2.55 0 1 0 5.1 0a2.55 2.55 0 1 0 -5.1 0M543.3 106.4a2.55 2.55 0 1 0 5.1 0a2.55 2.55 0 1 0 -5.1 0M535.8 118.5a2.55 2.55 0 1 0 5.1 0a2.55 2.55 0 1 0 -5.1 0M542.5 91.7a2.55 2.55 0 1 0 5.1 0a2.55 2.55 0 1 0 -5.1 0M562.5 103.8a2.55 2.55 0 1 0 5.1 0a2.55 2.55 0 1 0 -5.1 0M552.4 94.8a2.55 2.55 0 1 0 5.1 0a2.55 2.55 0 1 0 -5.1 0M544.1 100.9a2.55 2.55 0 1 0 5.1 0a2.55 2.55 0 1 0 -5.1 0M533.9 96.3a2.55 2.55 0 1 0 5.1 0a2.55 2.55 0 1 0 -5.1 0M552.9 85.8a2.55 2.55 0 1 0 5.1 0a2.55 2.55 0 1 0 -5.1 0M530.6 99.0a2.55 2.55 0 1 0 5.1 0a2.55 2.55 0 1 0 -5.1 0M562.5 82.9a2.55 2.55 0 1 0 5.1 0a2.55 2.55 0 1 0 -5.1 0M548.7 78.8a2.55 2.55 0 1 0 5.1 0a2.55 2.55 0 1 0 -5.1 0M551.5 100.1a2.55 2.55 0 1 0 5.1 0a2.55 2.55 0 1 0 -5.1 0M549.3 94.1a2.55 2.55 0 1 0 5.1 0a2.55 2.55 0 1 0 -5.1 0M528.1 101.5a2.55 2.55 0 1 0 5.1 0a2.55 2.55 0 1 0 -5.1 0M563.2 91.2a2.55 2.55 0 1 0 5.1 0a2.55 2.55 0 1 0 -5.1 0M554.3 107.5a2.55 2.55 0 1 0 5.1 0a2.55 2.55 0 1 0 -5.1 0M535.9 93.3a2.55 2.55 0 1 0 5.1 0a2.55 2.55 0 1 0 -5.1 0M537.3 101.5a2.55 2.55 0 1 0 5.1 0a2.55 2.55 0 1 0 -5.1 0M535.0 91.5a2.55 2.55 0 1 0 5.1 0a2.55 2.55 0 1 0 -5.1 0M565.1 85.3a2.55 2.55 0 1 0 5.1 0a2.55 2.55 0 1 0 -5.1 0M561.2 91.1a2.55 2.55 0 1 0 5.1 0a2.55 2.55 0 1 0 -5.1 0M557.7 107.6a2.55 2.55 0 1 0 5.1 0a2.55 2.55 0 1 0 -5.1 0M522.6 97.4a2.55 2.55 0 1 0 5.1 0a2.55 2.55 0 1 0 -5.1 0M559.7 99.4a2.55 2.55 0 1 0 5.1 0a2.55 2.55 0 1 0 -5.1 0M518.1 95.8a2.55 2.55 0 1 0 5.1 0a2.55 2.55 0 1 0 -5.1 0M551.5 97.0a2.55 2.55 0 1 0 5.1 0a2.55 2.55 0 1 0 -5.1 0M537.3 100.0a2.55 2.55 0 1 0 5.1 0a2.55 2.55 0 1 0 -5.1 0M550.8 116.0a2.55 2.55 0 1 0 5.1 0a2.55 2.55 0 1 0 -5.1 0M547.7 92.8a2.55 2.55 0 1 0 5.1 0a2.55 2.55 0 1 0 -5.1 0M557.5 83.5a2.55 2.55 0 1 0 5.1 0a2.55 2.55 0 1 0 -5.1 0M553.8 101.8a2.55 2.55 0 1 0 5.1 0a2.55 2.55 0 1 0 -5.1 0M530.4 117.3a2.55 2.55 0 1 0 5.1 0a2.55 2.55 0 1 0 -5.1 0M557.2 91.2a2.55 2.55 0 1 0 5.1 0a2.55 2.55 0 1 0 -5.1 0M539.8 105.5a2.55 2.55 0 1 0 5.1 0a2.55 2.55 0 1 0 -5.1 0M525.4 99.5a2.55 2.55 0 1 0 5.1 0a2.55 2.55 0 1 0 -5.1 0M560.8 93.9a2.55 2.55 0 1 0 5.1 0a2.55 2.55 0 1 0 -5.1 0M530.9 110.2a2.55 2.55 0 1 0 5.1 0a2.55 2.55 0 1 0 -5.1 0M570.9 92.7a2.55 2.55 0 1 0 5.1 0a2.55 2.55 0 1 0 -5.1 0M566.0 80.0a2.55 2.55 0 1 0 5.1 0a2.55 2.55 0 1 0 -5.1 0M516.6 97.7a2.55 2.55 0 1 0 5.1 0a2.55 2.55 0 1 0 -5.1 0M560.3 101.9a2.55 2.55 0 1 0 5.1 0a2.55 2.55 0 1 0 -5.1 0M535.3 89.6a2.55 2.55 0 1 0 5.1 0a2.55 2.55 0 1 0 -5.1 0M555.7 104.7a2.55 2.55 0 1 0 5.1 0a2.55 2.55 0 1 0 -5.1 0M569.1 88.7a2.55 2.55 0 1 0 5.1 0a2.55 2.55 0 1 0 -5.1 0M566.8 109.2a2.55 2.55 0 1 0 5.1 0a2.55 2.55 0 1 0 -5.1 0M542.1 86.8a2.55 2.55 0 1 0 5.1 0a2.55 2.55 0 1 0 -5.1 0M561.5 91.0a2.55 2.55 0 1 0 5.1 0a2.55 2.55 0 1 0 -5.1 0M543.2 86.8a2.55 2.55 0 1 0 5.1 0a2.55 2.55 0 1 0 -5.1 0M570.3 76.2a2.55 2.55 0 1 0 5.1 0a2.55 2.55 0 1 0 -5.1 0M546.9 87.9a2.55 2.55 0 1 0 5.1 0a2.55 2.55 0 1 0 -5.1 0M557.5 106.1a2.55 2.55 0 1 0 5.1 0a2.55 2.55 0 1 0 -5.1 0M556.4 107.7a2.55 2.55 0 1 0 5.1 0a2.55 2.55 0 1 0 -5.1 0M545.3 91.1a2.55 2.55 0 1 0 5.1 0a2.55 2.55 0 1 0 -5.1 0M551.7 96.6a2.55 2.55 0 1 0 5.1 0a2.55 2.55 0 1 0 -5.1 0M559.9 101.3a2.55 2.55 0 1 0 5.1 0a2.55 2.55 0 1 0 -5.1 0M541.4 112.3a2.55 2.55 0 1 0 5.1 0a2.55 2.55 0 1 0 -5.1 0M549.7 82.6a2.55 2.55 0 1 0 5.1 0a2.55 2.55 0 1 0 -5.1 0M533.0 90.5a2.55 2.55 0 1 0 5.1 0a2.55 2.55 0 1 0 -5.1 0M543.0 78.7a2.55 2.55 0 1 0 5.1 0a2.55 2.55 0 1 0 -5.1 0M540.0 80.8a2.55 2.55 0 1 0 5.1 0a2.55 2.55 0 1 0 -5.1 0M558.2 95.8a2.55 2.55 0 1 0 5.1 0a2.55 2.55 0 1 0 -5.1 0M546.9 89.5a2.55 2.55 0 1 0 5.1 0a2.55 2.55 0 1 0 -5.1 0M554.7 92.4a2.55 2.55 0 1 0 5.1 0a2.55 2.55 0 1 0 -5.1 0M539.0 82.5a2.55 2.55 0 1 0 5.1 0a2.55 2.55 0 1 0 -5.1 0M541.2 93.5a2.55 2.55 0 1 0 5.1 0a2.55 2.55 0 1 0 -5.1 0M516.6 103.4a2.55 2.55 0 1 0 5.1 0a2.55 2.55 0 1 0 -5.1 0M536.4 101.0a2.55 2.55 0 1 0 5.1 0a2.55 2.55 0 1 0 -5.1 0M545.1 99.0a2.55 2.55 0 1 0 5.1 0a2.55 2.55 0 1 0 -5.1 0M537.0 87.6a2.55 2.55 0 1 0 5.1 0a2.55 2.55 0 1 0 -5.1 0M520.2 100.7a2.55 2.55 0 1 0 5.1 0a2.55 2.55 0 1 0 -5.1 0M571.2 88.4a2.55 2.55 0 1 0 5.1 0a2.55 2.55 0 1 0 -5.1 0M560.1 103.1a2.55 2.55 0 1 0 5.1 0a2.55 2.55 0 1 0 -5.1 0M538.9 93.6a2.55 2.55 0 1 0 5.1 0a2.55 2.55 0 1 0 -5.1 0M536.7 98.1a2.55 2.55 0 1 0 5.1 0a2.55 2.55 0 1 0 -5.1 0M527.5 110.1a2.55 2.55 0 1 0 5.1 0a2.55 2.55 0 1 0 -5.1 0M556.4 97.8a2.55 2.55 0 1 0 5.1 0a2.55 2.55 0 1 0 -5.1 0M568.2 98.3a2.55 2.55 0 1 0 5.1 0a2.55 2.55 0 1 0 -5.1 0M565.9 104.3a2.55 2.55 0 1 0 5.1 0a2.55 2.55 0 1 0 -5.1 0M565.0 95.3a2.55 2.55 0 1 0 5.1 0a2.55 2.55 0 1 0 -5.1 0M564.4 110.9a2.55 2.55 0 1 0 5.1 0a2.55 2.55 0 1 0 -5.1 0M532.6 87.8a2.55 2.55 0 1 0 5.1 0a2.55 2.55 0 1 0 -5.1 0M567.8 93.7a2.55 2.55 0 1 0 5.1 0a2.55 2.55 0 1 0 -5.1 0M554.1 83.7a2.55 2.55 0 1 0 5.1 0a2.55 2.55 0 1 0 -5.1 0M556.5 96.4a2.55 2.55 0 1 0 5.1 0a2.55 2.55 0 1 0 -5.1 0M549.4 84.7a2.55 2.55 0 1 0 5.1 0a2.55 2.55 0 1 0 -5.1 0M555.9 88.4a2.55 2.55 0 1 0 5.1 0a2.55 2.55 0 1 0 -5.1 0M562.0 86.2a2.55 2.55 0 1 0 5.1 0a2.55 2.55 0 1 0 -5.1 0M544.7 100.7a2.55 2.55 0 1 0 5.1 0a2.55 2.55 0 1 0 -5.1 0M544.0 92.6a2.55 2.55 0 1 0 5.1 0a2.55 2.55 0 1 0 -5.1 0M546.7 77.8a2.55 2.55 0 1 0 5.1 0a2.55 2.55 0 1 0 -5.1 0M539.3 110.0a2.55 2.55 0 1 0 5.1 0a2.55 2.55 0 1 0 -5.1 0M562.3 84.5a2.55 2.55 0 1 0 5.1 0a2.55 2.55 0 1 0 -5.1 0M567.9 110.0a2.55 2.55 0 1 0 5.1 0a2.55 2.55 0 1 0 -5.1 0M547.7 86.4a2.55 2.55 0 1 0 5.1 0a2.55 2.55 0 1 0 -5.1 0M558.7 86.5a2.55 2.55 0 1 0 5.1 0a2.55 2.55 0 1 0 -5.1 0M556.9 114.3a2.55 2.55 0 1 0 5.1 0a2.55 2.55 0 1 0 -5.1 0M570.4 106.9a2.55 2.55 0 1 0 5.1 0a2.55 2.55 0 1 0 -5.1 0M547.6 81.0a2.55 2.55 0 1 0 5.1 0a2.55 2.55 0 1 0 -5.1 0M540.3 92.4a2.55 2.55 0 1 0 5.1 0a2.55 2.55 0 1 0 -5.1 0M547.2 90.5a2.55 2.55 0 1 0 5.1 0a2.55 2.55 0 1 0 -5.1 0M544.1 87.7a2.55 2.55 0 1 0 5.1 0a2.55 2.55 0 1 0 -5.1 0M561.2 97.7a2.55 2.55 0 1 0 5.1 0a2.55 2.55 0 1 0 -5.1 0M541.5 78.1a2.55 2.55 0 1 0 5.1 0a2.55 2.55 0 1 0 -5.1 0M554.0 81.9a2.55 2.55 0 1 0 5.1 0a2.55 2.55 0 1 0 -5.1 0M520.4 94.7a2.55 2.55 0 1 0 5.1 0a2.55 2.55 0 1 0 -5.1 0M533.9 93.7a2.55 2.55 0 1 0 5.1 0a2.55 2.55 0 1 0 -5.1 0M531.8 100.5a2.55 2.55 0 1 0 5.1 0a2.55 2.55 0 1 0 -5.1 0M516.8 101.4a2.55 2.55 0 1 0 5.1 0a2.55 2.55 0 1 0 -5.1 0M537.9 87.9a2.55 2.55 0 1 0 5.1 0a2.55 2.55 0 1 0 -5.1 0M543.8 94.0a2.55 2.55 0 1 0 5.1 0a2.55 2.55 0 1 0 -5.1 0M571.5 92.1a2.55 2.55 0 1 0 5.1 0a2.55 2.55 0 1 0 -5.1 0M546.5 99.2a2.55 2.55 0 1 0 5.1 0a2.55 2.55 0 1 0 -5.1 0M554.8 86.3a2.55 2.55 0 1 0 5.1 0a2.55 2.55 0 1 0 -5.1 0M557.9 111.8a2.55 2.55 0 1 0 5.1 0a2.55 2.55 0 1 0 -5.1 0M546.9 95.1a2.55 2.55 0 1 0 5.1 0a2.55 2.55 0 1 0 -5.1 0M549.5 107.3a2.55 2.55 0 1 0 5.1 0a2.55 2.55 0 1 0 -5.1 0M537.5 95.6a2.55 2.55 0 1 0 5.1 0a2.55 2.55 0 1 0 -5.1 0M543.3 86.9a2.55 2.55 0 1 0 5.1 0a2.55 2.55 0 1 0 -5.1 0M554.5 109.1a2.55 2.55 0 1 0 5.1 0a2.55 2.55 0 1 0 -5.1 0M569.1 102.3a2.55 2.55 0 1 0 5.1 0a2.55 2.55 0 1 0 -5.1 0M552.0 81.3a2.55 2.55 0 1 0 5.1 0a2.55 2.55 0 1 0 -5.1 0M559.4 106.3a2.55 2.55 0 1 0 5.1 0a2.55 2.55 0 1 0 -5.1 0M553.5 92.5a2.55 2.55 0 1 0 5.1 0a2.55 2.55 0 1 0 -5.1 0M544.7 100.4a2.55 2.55 0 1 0 5.1 0a2.55 2.55 0 1 0 -5.1 0M531.8 95.1a2.55 2.55 0 1 0 5.1 0a2.55 2.55 0 1 0 -5.1 0M526.6 96.6a2.55 2.55 0 1 0 5.1 0a2.55 2.55 0 1 0 -5.1 0M544.9 113.4a2.55 2.55 0 1 0 5.1 0a2.55 2.55 0 1 0 -5.1 0M558.0 80.6a2.55 2.55 0 1 0 5.1 0a2.55 2.55 0 1 0 -5.1 0M520.6 118.2a2.55 2.55 0 1 0 5.1 0a2.55 2.55 0 1 0 -5.1 0M526.3 92.6a2.55 2.55 0 1 0 5.1 0a2.55 2.55 0 1 0 -5.1 0M569.9 105.1a2.55 2.55 0 1 0 5.1 0a2.55 2.55 0 1 0 -5.1 0M570.6 84.5a2.55 2.55 0 1 0 5.1 0a2.55 2.55 0 1 0 -5.1 0M567.9 87.8a2.55 2.55 0 1 0 5.1 0a2.55 2.55 0 1 0 -5.1 0M536.8 102.5a2.55 2.55 0 1 0 5.1 0a2.55 2.55 0 1 0 -5.1 0M549.3 98.0a2.55 2.55 0 1 0 5.1 0a2.55 2.55 0 1 0 -5.1 0M563.8 75.0a2.55 2.55 0 1 0 5.1 0a2.55 2.55 0 1 0 -5.1 0M542.1 107.9a2.55 2.55 0 1 0 5.1 0a2.55 2.55 0 1 0 -5.1 0M568.6 85.8a2.55 2.55 0 1 0 5.1 0a2.55 2.55 0 1 0 -5.1 0M554.5 99.6a2.55 2.55 0 1 0 5.1 0a2.55 2.55 0 1 0 -5.1 0M548.8 94.3a2.55 2.55 0 1 0 5.1 0a2.55 2.55 0 1 0 -5.1 0M517.3 100.7a2.55 2.55 0 1 0 5.1 0a2.55 2.55 0 1 0 -5.1 0M556.8 75.5a2.55 2.55 0 1 0 5.1 0a2.55 2.55 0 1 0 -5.1 0M534.3 101.3a2.55 2.55 0 1 0 5.1 0a2.55 2.55 0 1 0 -5.1 0M545.2 100.9a2.55 2.55 0 1 0 5.1 0a2.55 2.55 0 1 0 -5.1 0M542.7 103.6a2.55 2.55 0 1 0 5.1 0a2.55 2.55 0 1 0 -5.1 0M562.3 95.4a2.55 2.55 0 1 0 5.1 0a2.55 2.55 0 1 0 -5.1 0M529.6 109.9a2.55 2.55 0 1 0 5.1 0a2.55 2.55 0 1 0 -5.1 0M547.2 97.4a2.55 2.55 0 1 0 5.1 0a2.55 2.55 0 1 0 -5.1 0M555.5 112.9a2.55 2.55 0 1 0 5.1 0a2.55 2.55 0 1 0 -5.1 0M571.9 101.2a2.55 2.55 0 1 0 5.1 0a2.55 2.55 0 1 0 -5.1 0M555.0 90.9a2.55 2.55 0 1 0 5.1 0a2.55 2.55 0 1 0 -5.1 0M561.8 86.2a2.55 2.55 0 1 0 5.1 0a2.55 2.55 0 1 0 -5.1 0M537.8 102.4a2.55 2.55 0 1 0 5.1 0a2.55 2.55 0 1 0 -5.1 0M533.3 107.1a2.55 2.55 0 1 0 5.1 0a2.55 2.55 0 1 0 -5.1 0M548.7 97.8a2.55 2.55 0 1 0 5.1 0a2.55 2.55 0 1 0 -5.1 0M551.2 110.9a2.55 2.55 0 1 0 5.1 0a2.55 2.55 0 1 0 -5.1 0M526.5 107.8a2.55 2.55 0 1 0 5.1 0a2.55 2.55 0 1 0 -5.1 0M531.8 103.3a2.55 2.55 0 1 0 5.1 0a2.55 2.55 0 1 0 -5.1 0M535.3 91.4a2.55 2.55 0 1 0 5.1 0a2.55 2.55 0 1 0 -5.1 0M529.4 83.6a2.55 2.55 0 1 0 5.1 0a2.55 2.55 0 1 0 -5.1 0M556.6 101.0a2.55 2.55 0 1 0 5.1 0a2.55 2.55 0 1 0 -5.1 0M562.3 104.1a2.55 2.55 0 1 0 5.1 0a2.55 2.55 0 1 0 -5.1 0M534.9 111.9a2.55 2.55 0 1 0 5.1 0a2.55 2.55 0 1 0 -5.1 0M544.3 73.4a2.55 2.55 0 1 0 5.1 0a2.55 2.55 0 1 0 -5.1 0M531.7 91.2a2.55 2.55 0 1 0 5.1 0a2.55 2.55 0 1 0 -5.1 0M548.5 87.9a2.55 2.55 0 1 0 5.1 0a2.55 2.55 0 1 0 -5.1 0M538.7 97.6a2.55 2.55 0 1 0 5.1 0a2.55 2.55 0 1 0 -5.1 0M522.9 96.8a2.55 2.55 0 1 0 5.1 0a2.55 2.55 0 1 0 -5.1 0M549.3 110.6a2.55 2.55 0 1 0 5.1 0a2.55 2.55 0 1 0 -5.1 0M543.0 96.5a2.55 2.55 0 1 0 5.1 0a2.55 2.55 0 1 0 -5.1 0M570.5 102.1a2.55 2.55 0 1 0 5.1 0a2.55 2.55 0 1 0 -5.1 0M552.9 90.1a2.55 2.55 0 1 0 5.1 0a2.55 2.55 0 1 0 -5.1 0M569.6 97.4a2.55 2.55 0 1 0 5.1 0a2.55 2.55 0 1 0 -5.1 0M566.5 83.0a2.55 2.55 0 1 0 5.1 0a2.55 2.55 0 1 0 -5.1 0M546.9 86.0a2.55 2.55 0 1 0 5.1 0a2.55 2.55 0 1 0 -5.1 0M540.4 105.4a2.55 2.55 0 1 0 5.1 0a2.55 2.55 0 1 0 -5.1 0M554.8 87.3a2.55 2.55 0 1 0 5.1 0a2.55 2.55 0 1 0 -5.1 0M563.4 96.3a2.55 2.55 0 1 0 5.1 0a2.55 2.55 0 1 0 -5.1 0M550.1 83.1a2.55 2.55 0 1 0 5.1 0a2.55 2.55 0 1 0 -5.1 0M557.0 94.4a2.55 2.55 0 1 0 5.1 0a2.55 2.55 0 1 0 -5.1 0M519.8 109.8a2.55 2.55 0 1 0 5.1 0a2.55 2.55 0 1 0 -5.1 0M569.4 103.8a2.55 2.55 0 1 0 5.1 0a2.55 2.55 0 1 0 -5.1 0M561.5 100.1a2.55 2.55 0 1 0 5.1 0a2.55 2.55 0 1 0 -5.1 0M532.1 88.6a2.55 2.55 0 1 0 5.1 0a2.55 2.55 0 1 0 -5.1 0M522.6 92.4a2.55 2.55 0 1 0 5.1 0a2.55 2.55 0 1 0 -5.1 0M533.7 85.5a2.55 2.55 0 1 0 5.1 0a2.55 2.55 0 1 0 -5.1 0M556.4 97.4a2.55 2.55 0 1 0 5.1 0a2.55 2.55 0 1 0 -5.1 0M563.4 99.3a2.55 2.55 0 1 0 5.1 0a2.55 2.55 0 1 0 -5.1 0M536.6 86.7a2.55 2.55 0 1 0 5.1 0a2.55 2.55 0 1 0 -5.1 0M533.5 94.9a2.55 2.55 0 1 0 5.1 0a2.55 2.55 0 1 0 -5.1 0M548.1 107.8a2.55 2.55 0 1 0 5.1 0a2.55 2.55 0 1 0 -5.1 0M564.8 97.4a2.55 2.55 0 1 0 5.1 0a2.55 2.55 0 1 0 -5.1 0M528.5 93.7a2.55 2.55 0 1 0 5.1 0a2.55 2.55 0 1 0 -5.1 0M534.6 92.1a2.55 2.55 0 1 0 5.1 0a2.55 2.55 0 1 0 -5.1 0M560.2 96.3a2.55 2.55 0 1 0 5.1 0a2.55 2.55 0 1 0 -5.1 0M567.5 99.9a2.55 2.55 0 1 0 5.1 0a2.55 2.55 0 1 0 -5.1 0M523.9 109.5a2.55 2.55 0 1 0 5.1 0a2.55 2.55 0 1 0 -5.1 0M563.0 97.7a2.55 2.55 0 1 0 5.1 0a2.55 2.55 0 1 0 -5.1 0M566.7 79.8a2.55 2.55 0 1 0 5.1 0a2.55 2.55 0 1 0 -5.1 0M540.8 100.2a2.55 2.55 0 1 0 5.1 0a2.55 2.55 0 1 0 -5.1 0M531.1 93.7a2.55 2.55 0 1 0 5.1 0a2.55 2.55 0 1 0 -5.1 0M533.0 90.3a2.55 2.55 0 1 0 5.1 0a2.55 2.55 0 1 0 -5.1 0M548.7 101.2a2.55 2.55 0 1 0 5.1 0a2.55 2.55 0 1 0 -5.1 0M554.5 108.0a2.55 2.55 0 1 0 5.1 0a2.55 2.55 0 1 0 -5.1 0M556.6 95.6a2.55 2.55 0 1 0 5.1 0a2.55 2.55 0 1 0 -5.1 0M560.1 92.5a2.55 2.55 0 1 0 5.1 0a2.55 2.55 0 1 0 -5.1 0M561.1 90.5a2.55 2.55 0 1 0 5.1 0a2.55 2.55 0 1 0 -5.1 0M543.1 97.3a2.55 2.55 0 1 0 5.1 0a2.55 2.55 0 1 0 -5.1 0M563.7 95.1a2.55 2.55 0 1 0 5.1 0a2.55 2.55 0 1 0 -5.1 0M544.7 95.7a2.55 2.55 0 1 0 5.1 0a2.55 2.55 0 1 0 -5.1 0M531.0 91.9a2.55 2.55 0 1 0 5.1 0a2.55 2.55 0 1 0 -5.1 0M560.8 101.1a2.55 2.55 0 1 0 5.1 0a2.55 2.55 0 1 0 -5.1 0M524.6 89.4a2.55 2.55 0 1 0 5.1 0a2.55 2.55 0 1 0 -5.1 0M537.7 90.1a2.55 2.55 0 1 0 5.1 0a2.55 2.55 0 1 0 -5.1 0M517.4 97.4a2.55 2.55 0 1 0 5.1 0a2.55 2.55 0 1 0 -5.1 0M552.5 114.1a2.55 2.55 0 1 0 5.1 0a2.55 2.55 0 1 0 -5.1 0M569.2 90.7a2.55 2.55 0 1 0 5.1 0a2.55 2.55 0 1 0 -5.1 0M554.4 81.2a2.55 2.55 0 1 0 5.1 0a2.55 2.55 0 1 0 -5.1 0M533.2 84.5a2.55 2.55 0 1 0 5.1 0a2.55 2.55 0 1 0 -5.1 0M531.9 106.3a2.55 2.55 0 1 0 5.1 0a2.55 2.55 0 1 0 -5.1 0M569.0 92.3a2.55 2.55 0 1 0 5.1 0a2.55 2.55 0 1 0 -5.1 0M565.5 107.6a2.55 2.55 0 1 0 5.1 0a2.55 2.55 0 1 0 -5.1 0M556.9 96.3a2.55 2.55 0 1 0 5.1 0a2.55 2.55 0 1 0 -5.1 0M570.2 94.1a2.55 2.55 0 1 0 5.1 0a2.55 2.55 0 1 0 -5.1 0M542.5 89.5a2.55 2.55 0 1 0 5.1 0a2.55 2.55 0 1 0 -5.1 0M534.5 95.5a2.55 2.55 0 1 0 5.1 0a2.55 2.55 0 1 0 -5.1 0M545.7 98.9a2.55 2.55 0 1 0 5.1 0a2.55 2.55 0 1 0 -5.1 0M547.7 97.0a2.55 2.55 0 1 0 5.1 0a2.55 2.55 0 1 0 -5.1 0M544.1 102.3a2.55 2.55 0 1 0 5.1 0a2.55 2.55 0 1 0 -5.1 0M564.5 95.1a2.55 2.55 0 1 0 5.1 0a2.55 2.55 0 1 0 -5.1 0M536.4 82.6a2.55 2.55 0 1 0 5.1 0a2.55 2.55 0 1 0 -5.1 0M517.0 115.4a2.55 2.55 0 1 0 5.1 0a2.55 2.55 0 1 0 -5.1 0M555.4 103.8a2.55 2.55 0 1 0 5.1 0a2.55 2.55 0 1 0 -5.1 0M561.8 94.7a2.55 2.55 0 1 0 5.1 0a2.55 2.55 0 1 0 -5.1 0M555.6 97.5a2.55 2.55 0 1 0 5.1 0a2.55 2.55 0 1 0 -5.1 0M544.1 99.9a2.55 2.55 0 1 0 5.1 0a2.55 2.55 0 1 0 -5.1 0M558.9 97.6a2.55 2.55 0 1 0 5.1 0a2.55 2.55 0 1 0 -5.1 0M560.5 91.6a2.55 2.55 0 1 0 5.1 0a2.55 2.55 0 1 0 -5.1 0M554.6 90.2a2.55 2.55 0 1 0 5.1 0a2.55 2.55 0 1 0 -5.1 0M543.5 80.0a2.55 2.55 0 1 0 5.1 0a2.55 2.55 0 1 0 -5.1 0M539.4 108.0a2.55 2.55 0 1 0 5.1 0a2.55 2.55 0 1 0 -5.1 0M517.0 100.3a2.55 2.55 0 1 0 5.1 0a2.55 2.55 0 1 0 -5.1 0M543.3 87.9a2.55 2.55 0 1 0 5.1 0a2.55 2.55 0 1 0 -5.1 0M534.4 88.5a2.55 2.55 0 1 0 5.1 0a2.55 2.55 0 1 0 -5.1 0M539.4 94.5a2.55 2.55 0 1 0 5.1 0a2.55 2.55 0 1 0 -5.1 0M559.9 110.6a2.55 2.55 0 1 0 5.1 0a2.55 2.55 0 1 0 -5.1 0M551.1 96.8a2.55 2.55 0 1 0 5.1 0a2.55 2.55 0 1 0 -5.1 0M562.5 82.2a2.55 2.55 0 1 0 5.1 0a2.55 2.55 0 1 0 -5.1 0M545.8 100.4a2.55 2.55 0 1 0 5.1 0a2.55 2.55 0 1 0 -5.1 0M564.2 113.7a2.55 2.55 0 1 0 5.1 0a2.55 2.55 0 1 0 -5.1 0M564.1 110.0a2.55 2.55 0 1 0 5.1 0a2.55 2.55 0 1 0 -5.1 0M554.1 87.8a2.55 2.55 0 1 0 5.1 0a2.55 2.55 0 1 0 -5.1 0M519.6 96.4a2.55 2.55 0 1 0 5.1 0a2.55 2.55 0 1 0 -5.1 0M548.2 110.2a2.55 2.55 0 1 0 5.1 0a2.55 2.55 0 1 0 -5.1 0M536.7 79.5a2.55 2.55 0 1 0 5.1 0a2.55 2.55 0 1 0 -5.1 0M549.0 76.3a2.55 2.55 0 1 0 5.1 0a2.55 2.55 0 1 0 -5.1 0M543.7 90.9a2.55 2.55 0 1 0 5.1 0a2.55 2.55 0 1 0 -5.1 0M542.9 96.2a2.55 2.55 0 1 0 5.1 0a2.55 2.55 0 1 0 -5.1 0M541.1 94.2a2.55 2.55 0 1 0 5.1 0a2.55 2.55 0 1 0 -5.1 0M545.9 89.6a2.55 2.55 0 1 0 5.1 0a2.55 2.55 0 1 0 -5.1 0M529.4 97.9a2.55 2.55 0 1 0 5.1 0a2.55 2.55 0 1 0 -5.1 0M565.3 84.0a2.55 2.55 0 1 0 5.1 0a2.55 2.55 0 1 0 -5.1 0M545.2 96.6a2.55 2.55 0 1 0 5.1 0a2.55 2.55 0 1 0 -5.1 0M558.7 87.8a2.55 2.55 0 1 0 5.1 0a2.55 2.55 0 1 0 -5.1 0M537.2 92.4a2.55 2.55 0 1 0 5.1 0a2.55 2.55 0 1 0 -5.1 0M537.6 97.4a2.55 2.55 0 1 0 5.1 0a2.55 2.55 0 1 0 -5.1 0M552.2 101.0a2.55 2.55 0 1 0 5.1 0a2.55 2.55 0 1 0 -5.1 0M569.6 83.4a2.55 2.55 0 1 0 5.1 0a2.55 2.55 0 1 0 -5.1 0M572.0 96.6a2.55 2.55 0 1 0 5.1 0a2.55 2.55 0 1 0 -5.1 0M554.6 99.0a2.55 2.55 0 1 0 5.1 0a2.55 2.55 0 1 0 -5.1 0M537.9 85.4a2.55 2.55 0 1 0 5.1 0a2.55 2.55 0 1 0 -5.1 0M557.6 114.3a2.55 2.55 0 1 0 5.1 0a2.55 2.55 0 1 0 -5.1 0M541.9 84.4a2.55 2.55 0 1 0 5.1 0a2.55 2.55 0 1 0 -5.1 0M534.8 109.3a2.55 2.55 0 1 0 5.1 0a2.55 2.55 0 1 0 -5.1 0M552.3 94.8a2.55 2.55 0 1 0 5.1 0a2.55 2.55 0 1 0 -5.1 0M534.7 90.6a2.55 2.55 0 1 0 5.1 0a2.55 2.55 0 1 0 -5.1 0M543.1 105.5a2.55 2.55 0 1 0 5.1 0a2.55 2.55 0 1 0 -5.1 0M548.5 78.1a2.55 2.55 0 1 0 5.1 0a2.55 2.55 0 1 0 -5.1 0M551.3 110.5a2.55 2.55 0 1 0 5.1 0a2.55 2.55 0 1 0 -5.1 0M522.9 111.3a2.55 2.55 0 1 0 5.1 0a2.55 2.55 0 1 0 -5.1 0M527.5 90.1a2.55 2.55 0 1 0 5.1 0a2.55 2.55 0 1 0 -5.1 0M521.2 114.7a2.55 2.55 0 1 0 5.1 0a2.55 2.55 0 1 0 -5.1 0M535.2 97.2a2.55 2.55 0 1 0 5.1 0a2.55 2.55 0 1 0 -5.1 0M563.0 81.3a2.55 2.55 0 1 0 5.1 0a2.55 2.55 0 1 0 -5.1 0M540.6 101.3a2.55 2.55 0 1 0 5.1 0a2.55 2.55 0 1 0 -5.1 0M553.2 100.4a2.55 2.55 0 1 0 5.1 0a2.55 2.55 0 1 0 -5.1 0M538.4 104.9a2.55 2.55 0 1 0 5.1 0a2.55 2.55 0 1 0 -5.1 0M534.7 106.0a2.55 2.55 0 1 0 5.1 0a2.55 2.55 0 1 0 -5.1 0M563.2 91.6a2.55 2.55 0 1 0 5.1 0a2.55 2.55 0 1 0 -5.1 0M552.3 105.9a2.55 2.55 0 1 0 5.1 0a2.55 2.55 0 1 0 -5.1 0M540.4 96.6a2.55 2.55 0 1 0 5.1 0a2.55 2.55 0 1 0 -5.1 0M570.2 94.1a2.55 2.55 0 1 0 5.1 0a2.55 2.55 0 1 0 -5.1 0M553.3 98.9a2.55 2.55 0 1 0 5.1 0a2.55 2.55 0 1 0 -5.1 0M527.4 116.0a2.55 2.55 0 1 0 5.1 0a2.55 2.55 0 1 0 -5.1 0M522.9 101.7a2.55 2.55 0 1 0 5.1 0a2.55 2.55 0 1 0 -5.1 0M546.2 87.1a2.55 2.55 0 1 0 5.1 0a2.55 2.55 0 1 0 -5.1 0M554.8 97.8a2.55 2.55 0 1 0 5.1 0a2.55 2.55 0 1 0 -5.1 0M518.3 97.9a2.55 2.55 0 1 0 5.1 0a2.55 2.55 0 1 0 -5.1 0M524.1 92.8a2.55 2.55 0 1 0 5.1 0a2.55 2.55 0 1 0 -5.1 0M538.5 99.5a2.55 2.55 0 1 0 5.1 0a2.55 2.55 0 1 0 -5.1 0M571.4 89.6a2.55 2.55 0 1 0 5.1 0a2.55 2.55 0 1 0 -5.1 0M557.8 105.2a2.55 2.55 0 1 0 5.1 0a2.55 2.55 0 1 0 -5.1 0M556.1 87.8a2.55 2.55 0 1 0 5.1 0a2.55 2.55 0 1 0 -5.1 0M539.3 82.0a2.55 2.55 0 1 0 5.1 0a2.55 2.55 0 1 0 -5.1 0M548.7 106.6a2.55 2.55 0 1 0 5.1 0a2.55 2.55 0 1 0 -5.1 0M557.9 111.3a2.55 2.55 0 1 0 5.1 0a2.55 2.55 0 1 0 -5.1 0M522.9 103.1a2.55 2.55 0 1 0 5.1 0a2.55 2.55 0 1 0 -5.1 0M554.6 98.4a2.55 2.55 0 1 0 5.1 0a2.55 2.55 0 1 0 -5.1 0M527.1 99.8a2.55 2.55 0 1 0 5.1 0a2.55 2.55 0 1 0 -5.1 0M550.8 109.7a2.55 2.55 0 1 0 5.1 0a2.55 2.55 0 1 0 -5.1 0M572.0 79.9a2.55 2.55 0 1 0 5.1 0a2.55 2.55 0 1 0 -5.1 0M557.1 81.5a2.55 2.55 0 1 0 5.1 0a2.55 2.55 0 1 0 -5.1 0M515.7 102.2a2.55 2.55 0 1 0 5.1 0a2.55 2.55 0 1 0 -5.1 0M523.2 91.4a2.55 2.55 0 1 0 5.1 0a2.55 2.55 0 1 0 -5.1 0M572.5 93.7a2.55 2.55 0 1 0 5.1 0a2.55 2.55 0 1 0 -5.1 0M566.7 81.4a2.55 2.55 0 1 0 5.1 0a2.55 2.55 0 1 0 -5.1 0M555.0 80.4a2.55 2.55 0 1 0 5.1 0a2.55 2.55 0 1 0 -5.1 0M550.9 82.0a2.55 2.55 0 1 0 5.1 0a2.55 2.55 0 1 0 -5.1 0M547.4 113.6a2.55 2.55 0 1 0 5.1 0a2.55 2.55 0 1 0 -5.1 0M568.6 104.3a2.55 2.55 0 1 0 5.1 0a2.55 2.55 0 1 0 -5.1 0M551.1 86.3a2.55 2.55 0 1 0 5.1 0a2.55 2.55 0 1 0 -5.1 0M542.7 95.5a2.55 2.55 0 1 0 5.1 0a2.55 2.55 0 1 0 -5.1 0M541.8 83.1a2.55 2.55 0 1 0 5.1 0a2.55 2.55 0 1 0 -5.1 0M528.4 109.6a2.55 2.55 0 1 0 5.1 0a2.55 2.55 0 1 0 -5.1 0M553.9 86.6a2.55 2.55 0 1 0 5.1 0a2.55 2.55 0 1 0 -5.1 0M545.6 99.6a2.55 2.55 0 1 0 5.1 0a2.55 2.55 0 1 0 -5.1 0M537.4 86.8a2.55 2.55 0 1 0 5.1 0a2.55 2.55 0 1 0 -5.1 0M566.4 89.2a2.55 2.55 0 1 0 5.1 0a2.55 2.55 0 1 0 -5.1 0M543.9 113.5a2.55 2.55 0 1 0 5.1 0a2.55 2.55 0 1 0 -5.1 0M539.5 84.7a2.55 2.55 0 1 0 5.1 0a2.55 2.55 0 1 0 -5.1 0M556.3 99.5a2.55 2.55 0 1 0 5.1 0a2.55 2.55 0 1 0 -5.1 0M528.1 106.0a2.55 2.55 0 1 0 5.1 0a2.55 2.55 0 1 0 -5.1 0M549.6 97.9a2.55 2.55 0 1 0 5.1 0a2.55 2.55 0 1 0 -5.1 0M567.9 101.2a2.55 2.55 0 1 0 5.1 0a2.55 2.55 0 1 0 -5.1 0M539.9 93.6a2.55 2.55 0 1 0 5.1 0a2.55 2.55 0 1 0 -5.1 0M544.5 90.3a2.55 2.55 0 1 0 5.1 0a2.55 2.55 0 1 0 -5.1 0M561.0 107.7a2.55 2.55 0 1 0 5.1 0a2.55 2.55 0 1 0 -5.1 0M541.8 113.8a2.55 2.55 0 1 0 5.1 0a2.55 2.55 0 1 0 -5.1 0M556.7 103.2a2.55 2.55 0 1 0 5.1 0a2.55 2.55 0 1 0 -5.1 0M550.8 115.4a2.55 2.55 0 1 0 5.1 0a2.55 2.55 0 1 0 -5.1 0M555.2 97.0a2.55 2.55 0 1 0 5.1 0a2.55 2.55 0 1 0 -5.1 0M554.3 109.4a2.55 2.55 0 1 0 5.1 0a2.55 2.55 0 1 0 -5.1 0M518.6 106.7a2.55 2.55 0 1 0 5.1 0a2.55 2.55 0 1 0 -5.1 0M520.7 100.8a2.55 2.55 0 1 0 5.1 0a2.55 2.55 0 1 0 -5.1 0M560.1 96.4a2.55 2.55 0 1 0 5.1 0a2.55 2.55 0 1 0 -5.1 0M521.6 105.4a2.55 2.55 0 1 0 5.1 0a2.55 2.55 0 1 0 -5.1 0M521.4 98.1a2.55 2.55 0 1 0 5.1 0a2.55 2.55 0 1 0 -5.1 0M545.8 109.9a2.55 2.55 0 1 0 5.1 0a2.55 2.55 0 1 0 -5.1 0M548.7 112.9a2.55 2.55 0 1 0 5.1 0a2.55 2.55 0 1 0 -5.1 0M543.8 83.4a2.55 2.55 0 1 0 5.1 0a2.55 2.55 0 1 0 -5.1 0M528.9 97.6a2.55 2.55 0 1 0 5.1 0a2.55 2.55 0 1 0 -5.1 0M516.6 97.2a2.55 2.55 0 1 0 5.1 0a2.55 2.55 0 1 0 -5.1 0M539.1 87.8a2.55 2.55 0 1 0 5.1 0a2.55 2.55 0 1 0 -5.1 0M552.0 91.1a2.55 2.55 0 1 0 5.1 0a2.55 2.55 0 1 0 -5.1 0M557.3 91.3a2.55 2.55 0 1 0 5.1 0a2.55 2.55 0 1 0 -5.1 0M553.7 89.7a2.55 2.55 0 1 0 5.1 0a2.55 2.55 0 1 0 -5.1 0M557.9 93.2a2.55 2.55 0 1 0 5.1 0a2.55 2.55 0 1 0 -5.1 0M563.1 84.6a2.55 2.55 0 1 0 5.1 0a2.55 2.55 0 1 0 -5.1 0M523.4 114.2a2.55 2.55 0 1 0 5.1 0a2.55 2.55 0 1 0 -5.1 0M550.2 93.7a2.55 2.55 0 1 0 5.1 0a2.55 2.55 0 1 0 -5.1 0M534.0 90.4a2.55 2.55 0 1 0 5.1 0a2.55 2.55 0 1 0 -5.1 0M550.1 93.4a2.55 2.55 0 1 0 5.1 0a2.55 2.55 0 1 0 -5.1 0M555.3 85.0a2.55 2.55 0 1 0 5.1 0a2.55 2.55 0 1 0 -5.1 0M544.6 108.2a2.55 2.55 0 1 0 5.1 0a2.55 2.55 0 1 0 -5.1 0M555.8 115.6a2.55 2.55 0 1 0 5.1 0a2.55 2.55 0 1 0 -5.1 0M554.6 96.0a2.55 2.55 0 1 0 5.1 0a2.55 2.55 0 1 0 -5.1 0M565.3 107.6a2.55 2.55 0 1 0 5.1 0a2.55 2.55 0 1 0 -5.1 0M566.2 104.2a2.55 2.55 0 1 0 5.1 0a2.55 2.55 0 1 0 -5.1 0M518.2 104.2a2.55 2.55 0 1 0 5.1 0a2.55 2.55 0 1 0 -5.1 0M557.3 90.0a2.55 2.55 0 1 0 5.1 0a2.55 2.55 0 1 0 -5.1 0M559.4 97.9a2.55 2.55 0 1 0 5.1 0a2.55 2.55 0 1 0 -5.1 0M529.6 97.1a2.55 2.55 0 1 0 5.1 0a2.55 2.55 0 1 0 -5.1 0M534.0 114.8a2.55 2.55 0 1 0 5.1 0a2.55 2.55 0 1 0 -5.1 0M571.1 103.1a2.55 2.55 0 1 0 5.1 0a2.55 2.55 0 1 0 -5.1 0M544.0 96.7a2.55 2.55 0 1 0 5.1 0a2.55 2.55 0 1 0 -5.1 0M532.1 86.4a2.55 2.55 0 1 0 5.1 0a2.55 2.55 0 1 0 -5.1 0M559.5 105.4a2.55 2.55 0 1 0 5.1 0a2.55 2.55 0 1 0 -5.1 0M571.4 92.0a2.55 2.55 0 1 0 5.1 0a2.55 2.55 0 1 0 -5.1 0M553.9 92.3a2.55 2.55 0 1 0 5.1 0a2.55 2.55 0 1 0 -5.1 0M552.9 86.9a2.55 2.55 0 1 0 5.1 0a2.55 2.55 0 1 0 -5.1 0M556.6 87.4a2.55 2.55 0 1 0 5.1 0a2.55 2.55 0 1 0 -5.1 0M560.3 99.6a2.55 2.55 0 1 0 5.1 0a2.55 2.55 0 1 0 -5.1 0M532.2 88.0a2.55 2.55 0 1 0 5.1 0a2.55 2.55 0 1 0 -5.1 0M558.4 99.3a2.55 2.55 0 1 0 5.1 0a2.55 2.55 0 1 0 -5.1 0M552.3 96.8a2.55 2.55 0 1 0 5.1 0a2.55 2.55 0 1 0 -5.1 0M548.1 116.5a2.55 2.55 0 1 0 5.1 0a2.55 2.55 0 1 0 -5.1 0M563.3 75.3a2.55 2.55 0 1 0 5.1 0a2.55 2.55 0 1 0 -5.1 0M544.3 89.6a2.55 2.55 0 1 0 5.1 0a2.55 2.55 0 1 0 -5.1 0M536.5 106.2a2.55 2.55 0 1 0 5.1 0a2.55 2.55 0 1 0 -5.1 0M558.1 111.3a2.55 2.55 0 1 0 5.1 0a2.55 2.55 0 1 0 -5.1 0M543.3 108.3a2.55 2.55 0 1 0 5.1 0a2.55 2.55 0 1 0 -5.1 0M565.9 96.0a2.55 2.55 0 1 0 5.1 0a2.55 2.55 0 1 0 -5.1 0M543.9 90.2a2.55 2.55 0 1 0 5.1 0a2.55 2.55 0 1 0 -5.1 0M551.2 87.4a2.55 2.55 0 1 0 5.1 0a2.55 2.55 0 1 0 -5.1 0M570.2 99.4a2.55 2.55 0 1 0 5.1 0a2.55 2.55 0 1 0 -5.1 0M517.6 96.2a2.55 2.55 0 1 0 5.1 0a2.55 2.55 0 1 0 -5.1 0M533.4 92.4a2.55 2.55 0 1 0 5.1 0a2.55 2.55 0 1 0 -5.1 0M554.2 87.9a2.55 2.55 0 1 0 5.1 0a2.55 2.55 0 1 0 -5.1 0M515.1 103.5a2.55 2.55 0 1 0 5.1 0a2.55 2.55 0 1 0 -5.1 0M545.3 88.1a2.55 2.55 0 1 0 5.1 0a2.55 2.55 0 1 0 -5.1 0M543.1 98.8a2.55 2.55 0 1 0 5.1 0a2.55 2.55 0 1 0 -5.1 0M528.4 86.6a2.55 2.55 0 1 0 5.1 0a2.55 2.55 0 1 0 -5.1 0M531.0 113.8a2.55 2.55 0 1 0 5.1 0a2.55 2.55 0 1 0 -5.1 0M532.7 119.2a2.55 2.55 0 1 0 5.1 0a2.55 2.55 0 1 0 -5.1 0M546.2 84.2a2.55 2.55 0 1 0 5.1 0a2.55 2.55 0 1 0 -5.1 0M564.8 78.3a2.55 2.55 0 1 0 5.1 0a2.55 2.55 0 1 0 -5.1 0M534.3 103.0a2.55 2.55 0 1 0 5.1 0a2.55 2.55 0 1 0 -5.1 0M537.5 118.6a2.55 2.55 0 1 0 5.1 0a2.55 2.55 0 1 0 -5.1 0M518.8 101.7a2.55 2.55 0 1 0 5.1 0a2.55 2.55 0 1 0 -5.1 0M527.5 90.4a2.55 2.55 0 1 0 5.1 0a2.55 2.55 0 1 0 -5.1 0M538.2 107.4a2.55 2.55 0 1 0 5.1 0a2.55 2.55 0 1 0 -5.1 0M559.2 97.8a2.55 2.55 0 1 0 5.1 0a2.55 2.55 0 1 0 -5.1 0M535.1 94.6a2.55 2.55 0 1 0 5.1 0a2.55 2.55 0 1 0 -5.1 0M548.5 95.2a2.55 2.55 0 1 0 5.1 0a2.55 2.55 0 1 0 -5.1 0M522.2 112.6a2.55 2.55 0 1 0 5.1 0a2.55 2.55 0 1 0 -5.1 0M552.5 97.8a2.55 2.55 0 1 0 5.1 0a2.55 2.55 0 1 0 -5.1 0M537.9 98.6a2.55 2.55 0 1 0 5.1 0a2.55 2.55 0 1 0 -5.1 0M535.6 98.0a2.55 2.55 0 1 0 5.1 0a2.55 2.55 0 1 0 -5.1 0M560.7 101.8a2.55 2.55 0 1 0 5.1 0a2.55 2.55 0 1 0 -5.1 0M567.2 79.3a2.55 2.55 0 1 0 5.1 0a2.55 2.55 0 1 0 -5.1 0M518.1 96.3a2.55 2.55 0 1 0 5.1 0a2.55 2.55 0 1 0 -5.1 0M570.7 79.9a2.55 2.55 0 1 0 5.1 0a2.55 2.55 0 1 0 -5.1 0M570.8 98.1a2.55 2.55 0 1 0 5.1 0a2.55 2.55 0 1 0 -5.1 0M539.4 94.6a2.55 2.55 0 1 0 5.1 0a2.55 2.55 0 1 0 -5.1 0M548.0 95.9a2.55 2.55 0 1 0 5.1 0a2.55 2.55 0 1 0 -5.1 0M553.8 91.5a2.55 2.55 0 1 0 5.1 0a2.55 2.55 0 1 0 -5.1 0M562.5 109.9a2.55 2.55 0 1 0 5.1 0a2.55 2.55 0 1 0 -5.1 0M561.0 80.3a2.55 2.55 0 1 0 5.1 0a2.55 2.55 0 1 0 -5.1 0M530.7 116.9a2.55 2.55 0 1 0 5.1 0a2.55 2.55 0 1 0 -5.1 0M538.3 110.5a2.55 2.55 0 1 0 5.1 0a2.55 2.55 0 1 0 -5.1 0M524.0 101.7a2.55 2.55 0 1 0 5.1 0a2.55 2.55 0 1 0 -5.1 0M548.3 86.7a2.55 2.55 0 1 0 5.1 0a2.55 2.55 0 1 0 -5.1 0M542.5 103.3a2.55 2.55 0 1 0 5.1 0a2.55 2.55 0 1 0 -5.1 0M559.9 92.7a2.55 2.55 0 1 0 5.1 0a2.55 2.55 0 1 0 -5.1 0M565.2 83.6a2.55 2.55 0 1 0 5.1 0a2.55 2.55 0 1 0 -5.1 0M562.8 91.6a2.55 2.55 0 1 0 5.1 0a2.55 2.55 0 1 0 -5.1 0M529.6 98.4a2.55 2.55 0 1 0 5.1 0a2.55 2.55 0 1 0 -5.1 0M543.4 93.4a2.55 2.55 0 1 0 5.1 0a2.55 2.55 0 1 0 -5.1 0M536.1 92.2a2.55 2.55 0 1 0 5.1 0a2.55 2.55 0 1 0 -5.1 0M571.3 98.3a2.55 2.55 0 1 0 5.1 0a2.55 2.55 0 1 0 -5.1 0M556.6 78.6a2.55 2.55 0 1 0 5.1 0a2.55 2.55 0 1 0 -5.1 0M545.9 92.4a2.55 2.55 0 1 0 5.1 0a2.55 2.55 0 1 0 -5.1 0M524.0 106.3a2.55 2.55 0 1 0 5.1 0a2.55 2.55 0 1 0 -5.1 0M568.4 94.8a2.55 2.55 0 1 0 5.1 0a2.55 2.55 0 1 0 -5.1 0M551.7 100.6a2.55 2.55 0 1 0 5.1 0a2.55 2.55 0 1 0 -5.1 0M553.5 77.7a2.55 2.55 0 1 0 5.1 0a2.55 2.55 0 1 0 -5.1 0M534.8 89.3a2.55 2.55 0 1 0 5.1 0a2.55 2.55 0 1 0 -5.1 0M569.2 78.2a2.55 2.55 0 1 0 5.1 0a2.55 2.55 0 1 0 -5.1 0M545.7 91.1a2.55 2.55 0 1 0 5.1 0a2.55 2.55 0 1 0 -5.1 0M546.6 80.7a2.55 2.55 0 1 0 5.1 0a2.55 2.55 0 1 0 -5.1 0M571.6 89.7a2.55 2.55 0 1 0 5.1 0a2.55 2.55 0 1 0 -5.1 0M528.2 99.1a2.55 2.55 0 1 0 5.1 0a2.55 2.55 0 1 0 -5.1 0M516.7 97.3a2.55 2.55 0 1 0 5.1 0a2.55 2.55 0 1 0 -5.1 0M558.7 101.4a2.55 2.55 0 1 0 5.1 0a2.55 2.55 0 1 0 -5.1 0M547.2 107.8a2.55 2.55 0 1 0 5.1 0a2.55 2.55 0 1 0 -5.1 0M534.7 96.9a2.55 2.55 0 1 0 5.1 0a2.55 2.55 0 1 0 -5.1 0M529.1 96.2a2.55 2.55 0 1 0 5.1 0a2.55 2.55 0 1 0 -5.1 0M566.6 100.7a2.55 2.55 0 1 0 5.1 0a2.55 2.55 0 1 0 -5.1 0M528.8 96.8a2.55 2.55 0 1 0 5.1 0a2.55 2.55 0 1 0 -5.1 0M521.2 105.9a2.55 2.55 0 1 0 5.1 0a2.55 2.55 0 1 0 -5.1 0M517.3 103.7a2.55 2.55 0 1 0 5.1 0a2.55 2.55 0 1 0 -5.1 0M536.9 84.4a2.55 2.55 0 1 0 5.1 0a2.55 2.55 0 1 0 -5.1 0M551.4 85.1a2.55 2.55 0 1 0 5.1 0a2.55 2.55 0 1 0 -5.1 0M555.5 89.6a2.55 2.55 0 1 0 5.1 0a2.55 2.55 0 1 0 -5.1 0M545.0 78.7a2.55 2.55 0 1 0 5.1 0a2.55 2.55 0 1 0 -5.1 0M535.9 94.2a2.55 2.55 0 1 0 5.1 0a2.55 2.55 0 1 0 -5.1 0M560.0 95.0a2.55 2.55 0 1 0 5.1 0a2.55 2.55 0 1 0 -5.1 0M536.4 99.7a2.55 2.55 0 1 0 5.1 0a2.55 2.55 0 1 0 -5.1 0M544.2 99.0a2.55 2.55 0 1 0 5.1 0a2.55 2.55 0 1 0 -5.1 0M527.3 104.7a2.55 2.55 0 1 0 5.1 0a2.55 2.55 0 1 0 -5.1 0M517.4 110.6a2.55 2.55 0 1 0 5.1 0a2.55 2.55 0 1 0 -5.1 0M546.5 98.6a2.55 2.55 0 1 0 5.1 0a2.55 2.55 0 1 0 -5.1 0M528.4 102.3a2.55 2.55 0 1 0 5.1 0a2.55 2.55 0 1 0 -5.1 0M539.0 83.2a2.55 2.55 0 1 0 5.1 0a2.55 2.55 0 1 0 -5.1 0M551.2 95.7a2.55 2.55 0 1 0 5.1 0a2.55 2.55 0 1 0 -5.1 0M545.6 88.6a2.55 2.55 0 1 0 5.1 0a2.55 2.55 0 1 0 -5.1 0M549.8 93.5a2.55 2.55 0 1 0 5.1 0a2.55 2.55 0 1 0 -5.1 0M530.3 98.2a2.55 2.55 0 1 0 5.1 0a2.55 2.55 0 1 0 -5.1 0M544.0 84.6a2.55 2.55 0 1 0 5.1 0a2.55 2.55 0 1 0 -5.1 0M542.8 87.8a2.55 2.55 0 1 0 5.1 0a2.55 2.55 0 1 0 -5.1 0M518.2 114.4a2.55 2.55 0 1 0 5.1 0a2.55 2.55 0 1 0 -5.1 0M556.8 85.7a2.55 2.55 0 1 0 5.1 0a2.55 2.55 0 1 0 -5.1 0M541.1 83.6a2.55 2.55 0 1 0 5.1 0a2.55 2.55 0 1 0 -5.1 0M557.6 93.2a2.55 2.55 0 1 0 5.1 0a2.55 2.55 0 1 0 -5.1 0M568.6 85.9a2.55 2.55 0 1 0 5.1 0a2.55 2.55 0 1 0 -5.1 0M567.8 90.3a2.55 2.55 0 1 0 5.1 0a2.55 2.55 0 1 0 -5.1 0M564.0 96.9a2.55 2.55 0 1 0 5.1 0a2.55 2.55 0 1 0 -5.1 0M521.2 105.1a2.55 2.55 0 1 0 5.1 0a2.55 2.55 0 1 0 -5.1 0M545.3 100.3a2.55 2.55 0 1 0 5.1 0a2.55 2.55 0 1 0 -5.1 0M571.6 94.5a2.55 2.55 0 1 0 5.1 0a2.55 2.55 0 1 0 -5.1 0M564.6 111.0a2.55 2.55 0 1 0 5.1 0a2.55 2.55 0 1 0 -5.1 0M540.4 114.5a2.55 2.55 0 1 0 5.1 0a2.55 2.55 0 1 0 -5.1 0M569.1 105.9a2.55 2.55 0 1 0 5.1 0a2.55 2.55 0 1 0 -5.1 0" fill="none" stroke="#ff8c00" stroke-width="1.6"/>
<line x1="446.50" y1="20.60" x2="446.50" y2="146.50" stroke="#3a3a3a" stroke-width="1"/>
<line x1="446.50" y1="135.40" x2="451.00" y2="135.40" stroke="#3a3a3a" stroke-width="1"/>
<text x="440.9" y="139.7" font-size="12.5" text-anchor="end" fill="#1a1a1a" stroke="#1a1a1a" stroke-width="0.28" letter-spacing="0.15">0.0</text>
<line x1="446.50" y1="123.94" x2="449.30" y2="123.94" stroke="#3a3a3a" stroke-width="1"/>
<line x1="446.50" y1="112.48" x2="451.00" y2="112.48" stroke="#3a3a3a" stroke-width="1"/>
<text x="440.9" y="116.8" font-size="12.5" text-anchor="end" fill="#1a1a1a" stroke="#1a1a1a" stroke-width="0.28" letter-spacing="0.15">0.2</text>
<line x1="446.50" y1="101.02" x2="449.30" y2="101.02" stroke="#3a3a3a" stroke-width="1"/>
<line x1="446.50" y1="89.56" x2="451.00" y2="89.56" stroke="#3a3a3a" stroke-width="1"/>
<text x="440.9" y="93.9" font-size="12.5" text-anchor="end" fill="#1a1a1a" stroke="#1a1a1a" stroke-width="0.28" letter-spacing="0.15">0.4</text>
<line x1="446.50" y1="78.10" x2="449.30" y2="78.10" stroke="#3a3a3a" stroke-width="1"/>
<line x1="446.50" y1="66.64" x2="451.00" y2="66.64" stroke="#3a3a3a" stroke-width="1"/>
<text x="440.9" y="70.9" font-size="12.5" text-anchor="end" fill="#1a1a1a" stroke="#1a1a1a" stroke-width="0.28" letter-spacing="0.15">0.6</text>
<line x1="446.50" y1="55.18" x2="449.30" y2="55.18" stroke="#3a3a3a" stroke-width="1"/>
<line x1="446.50" y1="43.72" x2="451.00" y2="43.72" stroke="#3a3a3a" stroke-width="1"/>
<text x="440.9" y="48.0" font-size="12.5" text-anchor="end" fill="#1a1a1a" stroke="#1a1a1a" stroke-width="0.28" letter-spacing="0.15">0.8</text>
<line x1="446.50" y1="32.26" x2="449.30" y2="32.26" stroke="#3a3a3a" stroke-width="1"/>
<line x1="446.50" y1="20.80" x2="451.00" y2="20.80" stroke="#3a3a3a" stroke-width="1"/>
<text x="440.9" y="25.1" font-size="12.5" text-anchor="end" fill="#1a1a1a" stroke="#1a1a1a" stroke-width="0.28" letter-spacing="0.15">1.0</text>
<line x1="446.50" y1="146.50" x2="605.60" y2="146.50" stroke="#3a3a3a" stroke-width="1"/>
<line x1="449.40" y1="146.50" x2="449.40" y2="143.70" stroke="#3a3a3a" stroke-width="1"/>
<line x1="452.02" y1="146.50" x2="452.02" y2="143.70" stroke="#3a3a3a" stroke-width="1"/>
<line x1="454.33" y1="146.50" x2="454.33" y2="143.70" stroke="#3a3a3a" stroke-width="1"/>
<line x1="456.40" y1="146.50" x2="456.40" y2="142.00" stroke="#3a3a3a" stroke-width="1"/>
<line x1="470.01" y1="146.50" x2="470.01" y2="143.70" stroke="#3a3a3a" stroke-width="1"/>
<line x1="477.97" y1="146.50" x2="477.97" y2="143.70" stroke="#3a3a3a" stroke-width="1"/>
<line x1="483.61" y1="146.50" x2="483.61" y2="143.70" stroke="#3a3a3a" stroke-width="1"/>
<line x1="487.99" y1="146.50" x2="487.99" y2="143.70" stroke="#3a3a3a" stroke-width="1"/>
<line x1="491.57" y1="146.50" x2="491.57" y2="143.70" stroke="#3a3a3a" stroke-width="1"/>
<line x1="494.60" y1="146.50" x2="494.60" y2="143.70" stroke="#3a3a3a" stroke-width="1"/>
<line x1="497.22" y1="146.50" x2="497.22" y2="143.70" stroke="#3a3a3a" stroke-width="1"/>
<line x1="499.53" y1="146.50" x2="499.53" y2="143.70" stroke="#3a3a3a" stroke-width="1"/>
<line x1="501.60" y1="146.50" x2="501.60" y2="142.00" stroke="#3a3a3a" stroke-width="1"/>
<line x1="515.21" y1="146.50" x2="515.21" y2="143.70" stroke="#3a3a3a" stroke-width="1"/>
<line x1="523.17" y1="146.50" x2="523.17" y2="143.70" stroke="#3a3a3a" stroke-width="1"/>
<line x1="528.81" y1="146.50" x2="528.81" y2="143.70" stroke="#3a3a3a" stroke-width="1"/>
<line x1="533.19" y1="146.50" x2="533.19" y2="143.70" stroke="#3a3a3a" stroke-width="1"/>
<line x1="536.77" y1="146.50" x2="536.77" y2="143.70" stroke="#3a3a3a" stroke-width="1"/>
<line x1="539.80" y1="146.50" x2="539.80" y2="143.70" stroke="#3a3a3a" stroke-width="1"/>
<line x1="542.42" y1="146.50" x2="542.42" y2="143.70" stroke="#3a3a3a" stroke-width="1"/>
<line x1="544.73" y1="146.50" x2="544.73" y2="143.70" stroke="#3a3a3a" stroke-width="1"/>
<line x1="546.80" y1="146.50" x2="546.80" y2="142.00" stroke="#3a3a3a" stroke-width="1"/>
<line x1="560.41" y1="146.50" x2="560.41" y2="143.70" stroke="#3a3a3a" stroke-width="1"/>
<line x1="568.37" y1="146.50" x2="568.37" y2="143.70" stroke="#3a3a3a" stroke-width="1"/>
<line x1="574.01" y1="146.50" x2="574.01" y2="143.70" stroke="#3a3a3a" stroke-width="1"/>
<line x1="578.39" y1="146.50" x2="578.39" y2="143.70" stroke="#3a3a3a" stroke-width="1"/>
<line x1="581.97" y1="146.50" x2="581.97" y2="143.70" stroke="#3a3a3a" stroke-width="1"/>
<line x1="585.00" y1="146.50" x2="585.00" y2="143.70" stroke="#3a3a3a" stroke-width="1"/>
<line x1="587.62" y1="146.50" x2="587.62" y2="143.70" stroke="#3a3a3a" stroke-width="1"/>
<line x1="589.93" y1="146.50" x2="589.93" y2="143.70" stroke="#3a3a3a" stroke-width="1"/>
<line x1="592.00" y1="146.50" x2="592.00" y2="142.00" stroke="#3a3a3a" stroke-width="1"/>
<line x1="605.61" y1="146.50" x2="605.61" y2="143.70" stroke="#3a3a3a" stroke-width="1"/>
<text x="456.5" y="161.5" font-size="12.5" text-anchor="middle" fill="#1a1a1a" stroke="#1a1a1a" stroke-width="0.28" letter-spacing="0.15">10</text>
<text x="501.7" y="161.5" font-size="12.5" text-anchor="middle" fill="#1a1a1a" stroke="#1a1a1a" stroke-width="0.28" letter-spacing="0.15">100</text>
<text x="546.9" y="161.5" font-size="12.5" text-anchor="middle" fill="#1a1a1a" stroke="#1a1a1a" stroke-width="0.28" letter-spacing="0.15">1000</text>
<text x="592.1" y="161.5" font-size="12.5" text-anchor="middle" fill="#1a1a1a" stroke="#1a1a1a" stroke-width="0.28" letter-spacing="0.15">10,000</text>
<text x="478.0" y="184.2" font-size="12.8" fill="#1a1a1a" stroke="#1a1a1a" stroke-width="0.28">Acceptors . μm<tspan font-size="9.5" dy="-4.3">−2</tspan></text>
<text x="411.2" y="83.0" font-size="12.0" text-anchor="middle" fill="#1a1a1a" stroke="#1a1a1a" stroke-width="0.28" transform="rotate(-90 411.2 83.0)" textLength="90" lengthAdjust="spacingAndGlyphs">FRET efficiency</text>
<text x="399.6" y="19.4" font-size="18.5" text-anchor="start" fill="#000" font-weight="bold">b</text>
<circle cx="459.1" cy="25.5" r="2.6" stroke="#0a0a80" stroke-width="1.3" fill="none"/>
<text x="465.0" y="28.3" font-size="9.2" text-anchor="start" fill="#1a1a1a" stroke="#1a1a1a" stroke-width="0.28">Wild-type</text>
<circle cx="459.1" cy="40.1" r="2.6" stroke="#ff8c00" stroke-width="1.3" fill="none"/>
<text x="465.0" y="42.9" font-size="9.2" text-anchor="start" fill="#1a1a1a" stroke="#1a1a1a" stroke-width="0.28">L223R/L254R/V255R</text>
<path d="M51.8 314.7a2.55 2.55 0 1 0 5.1 0a2.55 2.55 0 1 0 -5.1 0M54.5 318.7a2.55 2.55 0 1 0 5.1 0a2.55 2.55 0 1 0 -5.1 0M63.1 310.1a2.55 2.55 0 1 0 5.1 0a2.55 2.55 0 1 0 -5.1 0M68.5 315.3a2.55 2.55 0 1 0 5.1 0a2.55 2.55 0 1 0 -5.1 0M66.5 296.1a2.55 2.55 0 1 0 5.1 0a2.55 2.55 0 1 0 -5.1 0M69.9 278.2a2.55 2.55 0 1 0 5.1 0a2.55 2.55 0 1 0 -5.1 0M77.6 275.9a2.55 2.55 0 1 0 5.1 0a2.55 2.55 0 1 0 -5.1 0M93.9 273.7a2.55 2.55 0 1 0 5.1 0a2.55 2.55 0 1 0 -5.1 0M114.7 256.3a2.55 2.55 0 1 0 5.1 0a2.55 2.55 0 1 0 -5.1 0M140.1 255.4a2.55 2.55 0 1 0 5.1 0a2.55 2.55 0 1 0 -5.1 0M132.4 265.7a2.55 2.55 0 1 0 5.1 0a2.55 2.55 0 1 0 -5.1 0M137.8 264.5a2.55 2.55 0 1 0 5.1 0a2.55 2.55 0 1 0 -5.1 0M58.5 314.7a2.55 2.55 0 1 0 5.1 0a2.55 2.55 0 1 0 -5.1 0M72.1 303.3a2.55 2.55 0 1 0 5.1 0a2.55 2.55 0 1 0 -5.1 0M78.9 289.6a2.55 2.55 0 1 0 5.1 0a2.55 2.55 0 1 0 -5.1 0M83.5 309.0a2.55 2.55 0 1 0 5.1 0a2.55 2.55 0 1 0 -5.1 0M76.7 314.7a2.55 2.55 0 1 0 5.1 0a2.55 2.55 0 1 0 -5.1 0M73.5 311.3a2.55 2.55 0 1 0 5.1 0a2.55 2.55 0 1 0 -5.1 0M84.1 292.1a2.55 2.55 0 1 0 5.1 0a2.55 2.55 0 1 0 -5.1 0M96.2 290.2a2.55 2.55 0 1 0 5.1 0a2.55 2.55 0 1 0 -5.1 0M82.5 283.0a2.55 2.55 0 1 0 5.1 0a2.55 2.55 0 1 0 -5.1 0M79.0 295.0a2.55 2.55 0 1 0 5.1 0a2.55 2.55 0 1 0 -5.1 0M99.8 301.7a2.55 2.55 0 1 0 5.1 0a2.55 2.55 0 1 0 -5.1 0M87.3 304.4a2.55 2.55 0 1 0 5.1 0a2.55 2.55 0 1 0 -5.1 0M98.0 291.3a2.55 2.55 0 1 0 5.1 0a2.55 2.55 0 1 0 -5.1 0M87.4 310.4a2.55 2.55 0 1 0 5.1 0a2.55 2.55 0 1 0 -5.1 0M100.4 299.5a2.55 2.55 0 1 0 5.1 0a2.55 2.55 0 1 0 -5.1 0M117.1 298.8a2.55 2.55 0 1 0 5.1 0a2.55 2.55 0 1 0 -5.1 0M106.3 287.9a2.55 2.55 0 1 0 5.1 0a2.55 2.55 0 1 0 -5.1 0M110.9 306.3a2.55 2.55 0 1 0 5.1 0a2.55 2.55 0 1 0 -5.1 0M111.5 313.3a2.55 2.55 0 1 0 5.1 0a2.55 2.55 0 1 0 -5.1 0M80.3 301.3a2.55 2.55 0 1 0 5.1 0a2.55 2.55 0 1 0 -5.1 0M100.1 298.9a2.55 2.55 0 1 0 5.1 0a2.55 2.55 0 1 0 -5.1 0M93.4 313.5a2.55 2.55 0 1 0 5.1 0a2.55 2.55 0 1 0 -5.1 0M94.1 314.4a2.55 2.55 0 1 0 5.1 0a2.55 2.55 0 1 0 -5.1 0M80.6 310.6a2.55 2.55 0 1 0 5.1 0a2.55 2.55 0 1 0 -5.1 0M85.5 307.8a2.55 2.55 0 1 0 5.1 0a2.55 2.55 0 1 0 -5.1 0M108.6 321.9a2.55 2.55 0 1 0 5.1 0a2.55 2.55 0 1 0 -5.1 0M115.6 289.9a2.55 2.55 0 1 0 5.1 0a2.55 2.55 0 1 0 -5.1 0M79.1 298.2a2.55 2.55 0 1 0 5.1 0a2.55 2.55 0 1 0 -5.1 0M110.1 313.2a2.55 2.55 0 1 0 5.1 0a2.55 2.55 0 1 0 -5.1 0M95.3 282.7a2.55 2.55 0 1 0 5.1 0a2.55 2.55 0 1 0 -5.1 0M98.4 305.1a2.55 2.55 0 1 0 5.1 0a2.55 2.55 0 1 0 -5.1 0M92.3 316.1a2.55 2.55 0 1 0 5.1 0a2.55 2.55 0 1 0 -5.1 0M80.0 309.5a2.55 2.55 0 1 0 5.1 0a2.55 2.55 0 1 0 -5.1 0M101.4 290.4a2.55 2.55 0 1 0 5.1 0a2.55 2.55 0 1 0 -5.1 0M88.8 320.2a2.55 2.55 0 1 0 5.1 0a2.55 2.55 0 1 0 -5.1 0M82.1 300.4a2.55 2.55 0 1 0 5.1 0a2.55 2.55 0 1 0 -5.1 0M83.1 309.9a2.55 2.55 0 1 0 5.1 0a2.55 2.55 0 1 0 -5.1 0M81.6 295.4a2.55 2.55 0 1 0 5.1 0a2.55 2.55 0 1 0 -5.1 0M106.3 295.0a2.55 2.55 0 1 0 5.1 0a2.55 2.55 0 1 0 -5.1 0M97.2 292.1a2.55 2.55 0 1 0 5.1 0a2.55 2.55 0 1 0 -5.1 0M83.1 299.0a2.55 2.55 0 1 0 5.1 0a2.55 2.55 0 1 0 -5.1 0M87.0 317.1a2.55 2.55 0 1 0 5.1 0a2.55 2.55 0 1 0 -5.1 0M84.6 301.9a2.55 2.55 0 1 0 5.1 0a2.55 2.55 0 1 0 -5.1 0M106.1 307.8a2.55 2.55 0 1 0 5.1 0a2.55 2.55 0 1 0 -5.1 0M103.9 312.8a2.55 2.55 0 1 0 5.1 0a2.55 2.55 0 1 0 -5.1 0M81.2 289.1a2.55 2.55 0 1 0 5.1 0a2.55 2.55 0 1 0 -5.1 0M112.6 309.2a2.55 2.55 0 1 0 5.1 0a2.55 2.55 0 1 0 -5.1 0M79.3 300.1a2.55 2.55 0 1 0 5.1 0a2.55 2.55 0 1 0 -5.1 0M116.4 284.0a2.55 2.55 0 1 0 5.1 0a2.55 2.55 0 1 0 -5.1 0M93.5 306.1a2.55 2.55 0 1 0 5.1 0a2.55 2.55 0 1 0 -5.1 0M86.4 311.9a2.55 2.55 0 1 0 5.1 0a2.55 2.55 0 1 0 -5.1 0M90.3 311.3a2.55 2.55 0 1 0 5.1 0a2.55 2.55 0 1 0 -5.1 0M79.6 318.0a2.55 2.55 0 1 0 5.1 0a2.55 2.55 0 1 0 -5.1 0M116.9 300.3a2.55 2.55 0 1 0 5.1 0a2.55 2.55 0 1 0 -5.1 0M111.2 287.2a2.55 2.55 0 1 0 5.1 0a2.55 2.55 0 1 0 -5.1 0M112.9 306.7a2.55 2.55 0 1 0 5.1 0a2.55 2.55 0 1 0 -5.1 0M106.9 302.8a2.55 2.55 0 1 0 5.1 0a2.55 2.55 0 1 0 -5.1 0M114.0 298.2a2.55 2.55 0 1 0 5.1 0a2.55 2.55 0 1 0 -5.1 0M93.1 313.7a2.55 2.55 0 1 0 5.1 0a2.55 2.55 0 1 0 -5.1 0M112.3 322.4a2.55 2.55 0 1 0 5.1 0a2.55 2.55 0 1 0 -5.1 0M100.2 305.8a2.55 2.55 0 1 0 5.1 0a2.55 2.55 0 1 0 -5.1 0M81.7 290.1a2.55 2.55 0 1 0 5.1 0a2.55 2.55 0 1 0 -5.1 0M102.6 310.4a2.55 2.55 0 1 0 5.1 0a2.55 2.55 0 1 0 -5.1 0M100.9 301.5a2.55 2.55 0 1 0 5.1 0a2.55 2.55 0 1 0 -5.1 0M89.6 297.7a2.55 2.55 0 1 0 5.1 0a2.55 2.55 0 1 0 -5.1 0M82.5 301.0a2.55 2.55 0 1 0 5.1 0a2.55 2.55 0 1 0 -5.1 0M80.5 300.2a2.55 2.55 0 1 0 5.1 0a2.55 2.55 0 1 0 -5.1 0M85.4 299.7a2.55 2.55 0 1 0 5.1 0a2.55 2.55 0 1 0 -5.1 0M82.9 293.7a2.55 2.55 0 1 0 5.1 0a2.55 2.55 0 1 0 -5.1 0M90.3 306.3a2.55 2.55 0 1 0 5.1 0a2.55 2.55 0 1 0 -5.1 0M82.8 303.8a2.55 2.55 0 1 0 5.1 0a2.55 2.55 0 1 0 -5.1 0M90.3 300.2a2.55 2.55 0 1 0 5.1 0a2.55 2.55 0 1 0 -5.1 0M91.0 281.2a2.55 2.55 0 1 0 5.1 0a2.55 2.55 0 1 0 -5.1 0M83.2 307.3a2.55 2.55 0 1 0 5.1 0a2.55 2.55 0 1 0 -5.1 0M116.7 317.3a2.55 2.55 0 1 0 5.1 0a2.55 2.55 0 1 0 -5.1 0M99.8 308.9a2.55 2.55 0 1 0 5.1 0a2.55 2.55 0 1 0 -5.1 0M82.1 307.8a2.55 2.55 0 1 0 5.1 0a2.55 2.55 0 1 0 -5.1 0M103.7 297.4a2.55 2.55 0 1 0 5.1 0a2.55 2.55 0 1 0 -5.1 0M90.7 306.3a2.55 2.55 0 1 0 5.1 0a2.55 2.55 0 1 0 -5.1 0M90.6 320.0a2.55 2.55 0 1 0 5.1 0a2.55 2.55 0 1 0 -5.1 0M101.2 308.5a2.55 2.55 0 1 0 5.1 0a2.55 2.55 0 1 0 -5.1 0M81.7 301.2a2.55 2.55 0 1 0 5.1 0a2.55 2.55 0 1 0 -5.1 0M81.8 307.8a2.55 2.55 0 1 0 5.1 0a2.55 2.55 0 1 0 -5.1 0M112.1 313.7a2.55 2.55 0 1 0 5.1 0a2.55 2.55 0 1 0 -5.1 0M116.9 286.4a2.55 2.55 0 1 0 5.1 0a2.55 2.55 0 1 0 -5.1 0M90.2 297.7a2.55 2.55 0 1 0 5.1 0a2.55 2.55 0 1 0 -5.1 0M91.1 303.6a2.55 2.55 0 1 0 5.1 0a2.55 2.55 0 1 0 -5.1 0M113.9 293.0a2.55 2.55 0 1 0 5.1 0a2.55 2.55 0 1 0 -5.1 0M95.6 308.1a2.55 2.55 0 1 0 5.1 0a2.55 2.55 0 1 0 -5.1 0M104.6 302.2a2.55 2.55 0 1 0 5.1 0a2.55 2.55 0 1 0 -5.1 0M100.1 306.4a2.55 2.55 0 1 0 5.1 0a2.55 2.55 0 1 0 -5.1 0M96.4 309.6a2.55 2.55 0 1 0 5.1 0a2.55 2.55 0 1 0 -5.1 0M103.8 299.9a2.55 2.55 0 1 0 5.1 0a2.55 2.55 0 1 0 -5.1 0M81.3 305.6a2.55 2.55 0 1 0 5.1 0a2.55 2.55 0 1 0 -5.1 0M110.8 296.5a2.55 2.55 0 1 0 5.1 0a2.55 2.55 0 1 0 -5.1 0M102.5 302.0a2.55 2.55 0 1 0 5.1 0a2.55 2.55 0 1 0 -5.1 0M103.9 304.3a2.55 2.55 0 1 0 5.1 0a2.55 2.55 0 1 0 -5.1 0M107.1 301.3a2.55 2.55 0 1 0 5.1 0a2.55 2.55 0 1 0 -5.1 0M94.8 301.2a2.55 2.55 0 1 0 5.1 0a2.55 2.55 0 1 0 -5.1 0M114.3 304.5a2.55 2.55 0 1 0 5.1 0a2.55 2.55 0 1 0 -5.1 0M98.6 301.0a2.55 2.55 0 1 0 5.1 0a2.55 2.55 0 1 0 -5.1 0M108.4 295.6a2.55 2.55 0 1 0 5.1 0a2.55 2.55 0 1 0 -5.1 0M93.2 320.8a2.55 2.55 0 1 0 5.1 0a2.55 2.55 0 1 0 -5.1 0M101.8 288.6a2.55 2.55 0 1 0 5.1 0a2.55 2.55 0 1 0 -5.1 0M85.7 305.5a2.55 2.55 0 1 0 5.1 0a2.55 2.55 0 1 0 -5.1 0M100.9 302.0a2.55 2.55 0 1 0 5.1 0a2.55 2.55 0 1 0 -5.1 0M92.3 317.0a2.55 2.55 0 1 0 5.1 0a2.55 2.55 0 1 0 -5.1 0M89.2 315.7a2.55 2.55 0 1 0 5.1 0a2.55 2.55 0 1 0 -5.1 0M84.3 299.0a2.55 2.55 0 1 0 5.1 0a2.55 2.55 0 1 0 -5.1 0M96.1 315.6a2.55 2.55 0 1 0 5.1 0a2.55 2.55 0 1 0 -5.1 0M93.7 298.6a2.55 2.55 0 1 0 5.1 0a2.55 2.55 0 1 0 -5.1 0M83.8 294.3a2.55 2.55 0 1 0 5.1 0a2.55 2.55 0 1 0 -5.1 0M83.5 310.6a2.55 2.55 0 1 0 5.1 0a2.55 2.55 0 1 0 -5.1 0M88.5 296.4a2.55 2.55 0 1 0 5.1 0a2.55 2.55 0 1 0 -5.1 0M86.2 304.1a2.55 2.55 0 1 0 5.1 0a2.55 2.55 0 1 0 -5.1 0M111.1 312.2a2.55 2.55 0 1 0 5.1 0a2.55 2.55 0 1 0 -5.1 0M99.8 304.1a2.55 2.55 0 1 0 5.1 0a2.55 2.55 0 1 0 -5.1 0M109.4 286.6a2.55 2.55 0 1 0 5.1 0a2.55 2.55 0 1 0 -5.1 0M108.5 311.3a2.55 2.55 0 1 0 5.1 0a2.55 2.55 0 1 0 -5.1 0M110.0 297.4a2.55 2.55 0 1 0 5.1 0a2.55 2.55 0 1 0 -5.1 0M99.9 285.2a2.55 2.55 0 1 0 5.1 0a2.55 2.55 0 1 0 -5.1 0M98.2 303.1a2.55 2.55 0 1 0 5.1 0a2.55 2.55 0 1 0 -5.1 0M98.3 310.0a2.55 2.55 0 1 0 5.1 0a2.55 2.55 0 1 0 -5.1 0M96.2 302.1a2.55 2.55 0 1 0 5.1 0a2.55 2.55 0 1 0 -5.1 0M109.1 307.0a2.55 2.55 0 1 0 5.1 0a2.55 2.55 0 1 0 -5.1 0M86.8 310.2a2.55 2.55 0 1 0 5.1 0a2.55 2.55 0 1 0 -5.1 0M102.0 288.0a2.55 2.55 0 1 0 5.1 0a2.55 2.55 0 1 0 -5.1 0M96.7 304.2a2.55 2.55 0 1 0 5.1 0a2.55 2.55 0 1 0 -5.1 0M107.6 293.4a2.55 2.55 0 1 0 5.1 0a2.55 2.55 0 1 0 -5.1 0M99.4 289.6a2.55 2.55 0 1 0 5.1 0a2.55 2.55 0 1 0 -5.1 0M93.9 311.5a2.55 2.55 0 1 0 5.1 0a2.55 2.55 0 1 0 -5.1 0M107.2 312.6a2.55 2.55 0 1 0 5.1 0a2.55 2.55 0 1 0 -5.1 0M97.9 302.6a2.55 2.55 0 1 0 5.1 0a2.55 2.55 0 1 0 -5.1 0M94.6 313.8a2.55 2.55 0 1 0 5.1 0a2.55 2.55 0 1 0 -5.1 0M115.0 298.1a2.55 2.55 0 1 0 5.1 0a2.55 2.55 0 1 0 -5.1 0M102.2 320.9a2.55 2.55 0 1 0 5.1 0a2.55 2.55 0 1 0 -5.1 0M106.2 293.1a2.55 2.55 0 1 0 5.1 0a2.55 2.55 0 1 0 -5.1 0M97.6 286.3a2.55 2.55 0 1 0 5.1 0a2.55 2.55 0 1 0 -5.1 0M98.6 302.5a2.55 2.55 0 1 0 5.1 0a2.55 2.55 0 1 0 -5.1 0M79.7 290.3a2.55 2.55 0 1 0 5.1 0a2.55 2.55 0 1 0 -5.1 0M105.5 315.0a2.55 2.55 0 1 0 5.1 0a2.55 2.55 0 1 0 -5.1 0M86.9 306.5a2.55 2.55 0 1 0 5.1 0a2.55 2.55 0 1 0 -5.1 0M81.8 296.1a2.55 2.55 0 1 0 5.1 0a2.55 2.55 0 1 0 -5.1 0M107.3 293.1a2.55 2.55 0 1 0 5.1 0a2.55 2.55 0 1 0 -5.1 0M106.4 298.9a2.55 2.55 0 1 0 5.1 0a2.55 2.55 0 1 0 -5.1 0M100.5 306.9a2.55 2.55 0 1 0 5.1 0a2.55 2.55 0 1 0 -5.1 0M112.3 305.7a2.55 2.55 0 1 0 5.1 0a2.55 2.55 0 1 0 -5.1 0M111.4 305.8a2.55 2.55 0 1 0 5.1 0a2.55 2.55 0 1 0 -5.1 0M102.9 306.6a2.55 2.55 0 1 0 5.1 0a2.55 2.55 0 1 0 -5.1 0M86.2 320.1a2.55 2.55 0 1 0 5.1 0a2.55 2.55 0 1 0 -5.1 0M107.0 308.4a2.55 2.55 0 1 0 5.1 0a2.55 2.55 0 1 0 -5.1 0M84.2 303.1a2.55 2.55 0 1 0 5.1 0a2.55 2.55 0 1 0 -5.1 0M107.9 301.2a2.55 2.55 0 1 0 5.1 0a2.55 2.55 0 1 0 -5.1 0M83.0 310.7a2.55 2.55 0 1 0 5.1 0a2.55 2.55 0 1 0 -5.1 0M82.8 300.8a2.55 2.55 0 1 0 5.1 0a2.55 2.55 0 1 0 -5.1 0M87.3 314.5a2.55 2.55 0 1 0 5.1 0a2.55 2.55 0 1 0 -5.1 0M110.3 288.4a2.55 2.55 0 1 0 5.1 0a2.55 2.55 0 1 0 -5.1 0M83.5 285.8a2.55 2.55 0 1 0 5.1 0a2.55 2.55 0 1 0 -5.1 0M94.3 312.2a2.55 2.55 0 1 0 5.1 0a2.55 2.55 0 1 0 -5.1 0M110.5 295.7a2.55 2.55 0 1 0 5.1 0a2.55 2.55 0 1 0 -5.1 0M87.1 304.2a2.55 2.55 0 1 0 5.1 0a2.55 2.55 0 1 0 -5.1 0M117.2 314.6a2.55 2.55 0 1 0 5.1 0a2.55 2.55 0 1 0 -5.1 0M112.0 306.4a2.55 2.55 0 1 0 5.1 0a2.55 2.55 0 1 0 -5.1 0M94.3 313.3a2.55 2.55 0 1 0 5.1 0a2.55 2.55 0 1 0 -5.1 0M84.8 300.6a2.55 2.55 0 1 0 5.1 0a2.55 2.55 0 1 0 -5.1 0M81.1 290.2a2.55 2.55 0 1 0 5.1 0a2.55 2.55 0 1 0 -5.1 0M96.8 290.2a2.55 2.55 0 1 0 5.1 0a2.55 2.55 0 1 0 -5.1 0M111.3 301.4a2.55 2.55 0 1 0 5.1 0a2.55 2.55 0 1 0 -5.1 0M83.5 300.1a2.55 2.55 0 1 0 5.1 0a2.55 2.55 0 1 0 -5.1 0M105.4 315.1a2.55 2.55 0 1 0 5.1 0a2.55 2.55 0 1 0 -5.1 0M93.9 320.6a2.55 2.55 0 1 0 5.1 0a2.55 2.55 0 1 0 -5.1 0M81.2 308.1a2.55 2.55 0 1 0 5.1 0a2.55 2.55 0 1 0 -5.1 0M92.4 312.5a2.55 2.55 0 1 0 5.1 0a2.55 2.55 0 1 0 -5.1 0M92.5 302.7a2.55 2.55 0 1 0 5.1 0a2.55 2.55 0 1 0 -5.1 0M112.8 315.6a2.55 2.55 0 1 0 5.1 0a2.55 2.55 0 1 0 -5.1 0M106.7 318.6a2.55 2.55 0 1 0 5.1 0a2.55 2.55 0 1 0 -5.1 0M116.5 288.8a2.55 2.55 0 1 0 5.1 0a2.55 2.55 0 1 0 -5.1 0M81.0 318.0a2.55 2.55 0 1 0 5.1 0a2.55 2.55 0 1 0 -5.1 0M97.0 322.5a2.55 2.55 0 1 0 5.1 0a2.55 2.55 0 1 0 -5.1 0M96.0 299.0a2.55 2.55 0 1 0 5.1 0a2.55 2.55 0 1 0 -5.1 0M106.2 300.5a2.55 2.55 0 1 0 5.1 0a2.55 2.55 0 1 0 -5.1 0M109.7 302.8a2.55 2.55 0 1 0 5.1 0a2.55 2.55 0 1 0 -5.1 0M93.7 303.1a2.55 2.55 0 1 0 5.1 0a2.55 2.55 0 1 0 -5.1 0M110.0 288.9a2.55 2.55 0 1 0 5.1 0a2.55 2.55 0 1 0 -5.1 0M95.3 301.8a2.55 2.55 0 1 0 5.1 0a2.55 2.55 0 1 0 -5.1 0M109.1 294.0a2.55 2.55 0 1 0 5.1 0a2.55 2.55 0 1 0 -5.1 0M83.0 308.6a2.55 2.55 0 1 0 5.1 0a2.55 2.55 0 1 0 -5.1 0M111.1 303.4a2.55 2.55 0 1 0 5.1 0a2.55 2.55 0 1 0 -5.1 0M113.5 298.0a2.55 2.55 0 1 0 5.1 0a2.55 2.55 0 1 0 -5.1 0M99.0 293.9a2.55 2.55 0 1 0 5.1 0a2.55 2.55 0 1 0 -5.1 0M101.1 284.0a2.55 2.55 0 1 0 5.1 0a2.55 2.55 0 1 0 -5.1 0M90.4 309.4a2.55 2.55 0 1 0 5.1 0a2.55 2.55 0 1 0 -5.1 0M107.8 314.7a2.55 2.55 0 1 0 5.1 0a2.55 2.55 0 1 0 -5.1 0M91.5 283.9a2.55 2.55 0 1 0 5.1 0a2.55 2.55 0 1 0 -5.1 0M114.6 283.6a2.55 2.55 0 1 0 5.1 0a2.55 2.55 0 1 0 -5.1 0M109.8 312.6a2.55 2.55 0 1 0 5.1 0a2.55 2.55 0 1 0 -5.1 0M101.1 284.2a2.55 2.55 0 1 0 5.1 0a2.55 2.55 0 1 0 -5.1 0M92.9 318.4a2.55 2.55 0 1 0 5.1 0a2.55 2.55 0 1 0 -5.1 0M99.4 299.3a2.55 2.55 0 1 0 5.1 0a2.55 2.55 0 1 0 -5.1 0M113.8 314.3a2.55 2.55 0 1 0 5.1 0a2.55 2.55 0 1 0 -5.1 0M107.0 297.7a2.55 2.55 0 1 0 5.1 0a2.55 2.55 0 1 0 -5.1 0M83.0 304.4a2.55 2.55 0 1 0 5.1 0a2.55 2.55 0 1 0 -5.1 0M99.2 298.6a2.55 2.55 0 1 0 5.1 0a2.55 2.55 0 1 0 -5.1 0M85.6 314.0a2.55 2.55 0 1 0 5.1 0a2.55 2.55 0 1 0 -5.1 0M93.1 292.9a2.55 2.55 0 1 0 5.1 0a2.55 2.55 0 1 0 -5.1 0M102.0 281.0a2.55 2.55 0 1 0 5.1 0a2.55 2.55 0 1 0 -5.1 0M141.8 297.3a2.55 2.55 0 1 0 5.1 0a2.55 2.55 0 1 0 -5.1 0M153.0 295.6a2.55 2.55 0 1 0 5.1 0a2.55 2.55 0 1 0 -5.1 0M134.8 286.6a2.55 2.55 0 1 0 5.1 0a2.55 2.55 0 1 0 -5.1 0M143.9 304.0a2.55 2.55 0 1 0 5.1 0a2.55 2.55 0 1 0 -5.1 0M156.4 290.7a2.55 2.55 0 1 0 5.1 0a2.55 2.55 0 1 0 -5.1 0M131.4 303.1a2.55 2.55 0 1 0 5.1 0a2.55 2.55 0 1 0 -5.1 0M114.2 289.4a2.55 2.55 0 1 0 5.1 0a2.55 2.55 0 1 0 -5.1 0M169.6 297.6a2.55 2.55 0 1 0 5.1 0a2.55 2.55 0 1 0 -5.1 0M146.1 304.1a2.55 2.55 0 1 0 5.1 0a2.55 2.55 0 1 0 -5.1 0M141.1 316.7a2.55 2.55 0 1 0 5.1 0a2.55 2.55 0 1 0 -5.1 0M136.9 307.0a2.55 2.55 0 1 0 5.1 0a2.55 2.55 0 1 0 -5.1 0M129.9 302.9a2.55 2.55 0 1 0 5.1 0a2.55 2.55 0 1 0 -5.1 0M153.5 298.5a2.55 2.55 0 1 0 5.1 0a2.55 2.55 0 1 0 -5.1 0M162.5 271.3a2.55 2.55 0 1 0 5.1 0a2.55 2.55 0 1 0 -5.1 0M164.8 279.9a2.55 2.55 0 1 0 5.1 0a2.55 2.55 0 1 0 -5.1 0M139.8 286.8a2.55 2.55 0 1 0 5.1 0a2.55 2.55 0 1 0 -5.1 0M138.3 297.0a2.55 2.55 0 1 0 5.1 0a2.55 2.55 0 1 0 -5.1 0M117.1 286.5a2.55 2.55 0 1 0 5.1 0a2.55 2.55 0 1 0 -5.1 0M159.9 295.2a2.55 2.55 0 1 0 5.1 0a2.55 2.55 0 1 0 -5.1 0M144.9 290.4a2.55 2.55 0 1 0 5.1 0a2.55 2.55 0 1 0 -5.1 0M142.1 288.6a2.55 2.55 0 1 0 5.1 0a2.55 2.55 0 1 0 -5.1 0M169.7 298.2a2.55 2.55 0 1 0 5.1 0a2.55 2.55 0 1 0 -5.1 0M127.8 285.6a2.55 2.55 0 1 0 5.1 0a2.55 2.55 0 1 0 -5.1 0M143.7 289.1a2.55 2.55 0 1 0 5.1 0a2.55 2.55 0 1 0 -5.1 0M152.9 286.1a2.55 2.55 0 1 0 5.1 0a2.55 2.55 0 1 0 -5.1 0M146.1 314.4a2.55 2.55 0 1 0 5.1 0a2.55 2.55 0 1 0 -5.1 0M166.8 280.6a2.55 2.55 0 1 0 5.1 0a2.55 2.55 0 1 0 -5.1 0M150.7 293.0a2.55 2.55 0 1 0 5.1 0a2.55 2.55 0 1 0 -5.1 0M135.8 312.1a2.55 2.55 0 1 0 5.1 0a2.55 2.55 0 1 0 -5.1 0M150.9 304.6a2.55 2.55 0 1 0 5.1 0a2.55 2.55 0 1 0 -5.1 0M150.6 292.8a2.55 2.55 0 1 0 5.1 0a2.55 2.55 0 1 0 -5.1 0M159.7 290.5a2.55 2.55 0 1 0 5.1 0a2.55 2.55 0 1 0 -5.1 0M163.2 282.4a2.55 2.55 0 1 0 5.1 0a2.55 2.55 0 1 0 -5.1 0M173.5 272.6a2.55 2.55 0 1 0 5.1 0a2.55 2.55 0 1 0 -5.1 0M162.4 294.3a2.55 2.55 0 1 0 5.1 0a2.55 2.55 0 1 0 -5.1 0M143.9 300.8a2.55 2.55 0 1 0 5.1 0a2.55 2.55 0 1 0 -5.1 0M142.3 276.6a2.55 2.55 0 1 0 5.1 0a2.55 2.55 0 1 0 -5.1 0M133.5 295.3a2.55 2.55 0 1 0 5.1 0a2.55 2.55 0 1 0 -5.1 0M131.7 289.7a2.55 2.55 0 1 0 5.1 0a2.55 2.55 0 1 0 -5.1 0M168.3 300.8a2.55 2.55 0 1 0 5.1 0a2.55 2.55 0 1 0 -5.1 0M135.9 282.6a2.55 2.55 0 1 0 5.1 0a2.55 2.55 0 1 0 -5.1 0M132.7 301.4a2.55 2.55 0 1 0 5.1 0a2.55 2.55 0 1 0 -5.1 0M131.0 279.8a2.55 2.55 0 1 0 5.1 0a2.55 2.55 0 1 0 -5.1 0M145.6 280.7a2.55 2.55 0 1 0 5.1 0a2.55 2.55 0 1 0 -5.1 0M157.3 303.0a2.55 2.55 0 1 0 5.1 0a2.55 2.55 0 1 0 -5.1 0M144.2 293.3a2.55 2.55 0 1 0 5.1 0a2.55 2.55 0 1 0 -5.1 0M124.8 287.5a2.55 2.55 0 1 0 5.1 0a2.55 2.55 0 1 0 -5.1 0M146.6 293.2a2.55 2.55 0 1 0 5.1 0a2.55 2.55 0 1 0 -5.1 0M161.7 272.8a2.55 2.55 0 1 0 5.1 0a2.55 2.55 0 1 0 -5.1 0M117.4 301.1a2.55 2.55 0 1 0 5.1 0a2.55 2.55 0 1 0 -5.1 0M151.1 284.9a2.55 2.55 0 1 0 5.1 0a2.55 2.55 0 1 0 -5.1 0M147.9 292.1a2.55 2.55 0 1 0 5.1 0a2.55 2.55 0 1 0 -5.1 0M134.5 286.9a2.55 2.55 0 1 0 5.1 0a2.55 2.55 0 1 0 -5.1 0M120.3 279.0a2.55 2.55 0 1 0 5.1 0a2.55 2.55 0 1 0 -5.1 0M135.4 286.1a2.55 2.55 0 1 0 5.1 0a2.55 2.55 0 1 0 -5.1 0M128.4 315.0a2.55 2.55 0 1 0 5.1 0a2.55 2.55 0 1 0 -5.1 0M151.0 295.5a2.55 2.55 0 1 0 5.1 0a2.55 2.55 0 1 0 -5.1 0M137.7 281.6a2.55 2.55 0 1 0 5.1 0a2.55 2.55 0 1 0 -5.1 0M159.0 302.8a2.55 2.55 0 1 0 5.1 0a2.55 2.55 0 1 0 -5.1 0M141.0 297.9a2.55 2.55 0 1 0 5.1 0a2.55 2.55 0 1 0 -5.1 0M145.6 292.7a2.55 2.55 0 1 0 5.1 0a2.55 2.55 0 1 0 -5.1 0M149.1 293.0a2.55 2.55 0 1 0 5.1 0a2.55 2.55 0 1 0 -5.1 0M132.8 293.1a2.55 2.55 0 1 0 5.1 0a2.55 2.55 0 1 0 -5.1 0M134.5 294.2a2.55 2.55 0 1 0 5.1 0a2.55 2.55 0 1 0 -5.1 0M126.0 292.1a2.55 2.55 0 1 0 5.1 0a2.55 2.55 0 1 0 -5.1 0M145.9 311.2a2.55 2.55 0 1 0 5.1 0a2.55 2.55 0 1 0 -5.1 0M119.0 312.5a2.55 2.55 0 1 0 5.1 0a2.55 2.55 0 1 0 -5.1 0M129.5 288.0a2.55 2.55 0 1 0 5.1 0a2.55 2.55 0 1 0 -5.1 0M158.9 292.9a2.55 2.55 0 1 0 5.1 0a2.55 2.55 0 1 0 -5.1 0M162.0 274.9a2.55 2.55 0 1 0 5.1 0a2.55 2.55 0 1 0 -5.1 0M127.0 285.5a2.55 2.55 0 1 0 5.1 0a2.55 2.55 0 1 0 -5.1 0M150.5 284.4a2.55 2.55 0 1 0 5.1 0a2.55 2.55 0 1 0 -5.1 0M164.3 284.9a2.55 2.55 0 1 0 5.1 0a2.55 2.55 0 1 0 -5.1 0M146.5 280.6a2.55 2.55 0 1 0 5.1 0a2.55 2.55 0 1 0 -5.1 0M141.7 306.0a2.55 2.55 0 1 0 5.1 0a2.55 2.55 0 1 0 -5.1 0M148.1 277.5a2.55 2.55 0 1 0 5.1 0a2.55 2.55 0 1 0 -5.1 0M111.8 292.8a2.55 2.55 0 1 0 5.1 0a2.55 2.55 0 1 0 -5.1 0M128.5 304.2a2.55 2.55 0 1 0 5.1 0a2.55 2.55 0 1 0 -5.1 0M157.7 287.0a2.55 2.55 0 1 0 5.1 0a2.55 2.55 0 1 0 -5.1 0M139.2 276.8a2.55 2.55 0 1 0 5.1 0a2.55 2.55 0 1 0 -5.1 0M164.1 295.5a2.55 2.55 0 1 0 5.1 0a2.55 2.55 0 1 0 -5.1 0M142.1 297.6a2.55 2.55 0 1 0 5.1 0a2.55 2.55 0 1 0 -5.1 0M151.9 300.1a2.55 2.55 0 1 0 5.1 0a2.55 2.55 0 1 0 -5.1 0M121.9 306.0a2.55 2.55 0 1 0 5.1 0a2.55 2.55 0 1 0 -5.1 0M144.0 276.0a2.55 2.55 0 1 0 5.1 0a2.55 2.55 0 1 0 -5.1 0M130.6 278.7a2.55 2.55 0 1 0 5.1 0a2.55 2.55 0 1 0 -5.1 0M138.3 275.2a2.55 2.55 0 1 0 5.1 0a2.55 2.55 0 1 0 -5.1 0M143.4 302.9a2.55 2.55 0 1 0 5.1 0a2.55 2.55 0 1 0 -5.1 0M152.9 284.4a2.55 2.55 0 1 0 5.1 0a2.55 2.55 0 1 0 -5.1 0M164.9 290.1a2.55 2.55 0 1 0 5.1 0a2.55 2.55 0 1 0 -5.1 0M139.9 289.2a2.55 2.55 0 1 0 5.1 0a2.55 2.55 0 1 0 -5.1 0M154.9 285.0a2.55 2.55 0 1 0 5.1 0a2.55 2.55 0 1 0 -5.1 0M136.3 274.9a2.55 2.55 0 1 0 5.1 0a2.55 2.55 0 1 0 -5.1 0M117.2 320.3a2.55 2.55 0 1 0 5.1 0a2.55 2.55 0 1 0 -5.1 0M153.5 276.4a2.55 2.55 0 1 0 5.1 0a2.55 2.55 0 1 0 -5.1 0M156.8 287.1a2.55 2.55 0 1 0 5.1 0a2.55 2.55 0 1 0 -5.1 0M150.3 293.8a2.55 2.55 0 1 0 5.1 0a2.55 2.55 0 1 0 -5.1 0M168.3 311.9a2.55 2.55 0 1 0 5.1 0a2.55 2.55 0 1 0 -5.1 0M144.8 308.5a2.55 2.55 0 1 0 5.1 0a2.55 2.55 0 1 0 -5.1 0M151.9 296.0a2.55 2.55 0 1 0 5.1 0a2.55 2.55 0 1 0 -5.1 0M145.6 289.8a2.55 2.55 0 1 0 5.1 0a2.55 2.55 0 1 0 -5.1 0M140.3 280.0a2.55 2.55 0 1 0 5.1 0a2.55 2.55 0 1 0 -5.1 0M143.7 282.1a2.55 2.55 0 1 0 5.1 0a2.55 2.55 0 1 0 -5.1 0M137.3 289.6a2.55 2.55 0 1 0 5.1 0a2.55 2.55 0 1 0 -5.1 0M147.7 271.9a2.55 2.55 0 1 0 5.1 0a2.55 2.55 0 1 0 -5.1 0M142.6 277.9a2.55 2.55 0 1 0 5.1 0a2.55 2.55 0 1 0 -5.1 0M130.2 302.2a2.55 2.55 0 1 0 5.1 0a2.55 2.55 0 1 0 -5.1 0M139.3 271.4a2.55 2.55 0 1 0 5.1 0a2.55 2.55 0 1 0 -5.1 0M159.1 284.3a2.55 2.55 0 1 0 5.1 0a2.55 2.55 0 1 0 -5.1 0M128.7 303.8a2.55 2.55 0 1 0 5.1 0a2.55 2.55 0 1 0 -5.1 0M135.9 298.4a2.55 2.55 0 1 0 5.1 0a2.55 2.55 0 1 0 -5.1 0M131.8 286.5a2.55 2.55 0 1 0 5.1 0a2.55 2.55 0 1 0 -5.1 0M131.9 313.7a2.55 2.55 0 1 0 5.1 0a2.55 2.55 0 1 0 -5.1 0M140.5 297.9a2.55 2.55 0 1 0 5.1 0a2.55 2.55 0 1 0 -5.1 0M123.9 293.6a2.55 2.55 0 1 0 5.1 0a2.55 2.55 0 1 0 -5.1 0M151.1 300.2a2.55 2.55 0 1 0 5.1 0a2.55 2.55 0 1 0 -5.1 0M145.7 282.5a2.55 2.55 0 1 0 5.1 0a2.55 2.55 0 1 0 -5.1 0M150.3 282.8a2.55 2.55 0 1 0 5.1 0a2.55 2.55 0 1 0 -5.1 0M158.8 284.7a2.55 2.55 0 1 0 5.1 0a2.55 2.55 0 1 0 -5.1 0M124.8 282.7a2.55 2.55 0 1 0 5.1 0a2.55 2.55 0 1 0 -5.1 0M143.1 295.8a2.55 2.55 0 1 0 5.1 0a2.55 2.55 0 1 0 -5.1 0M154.4 297.0a2.55 2.55 0 1 0 5.1 0a2.55 2.55 0 1 0 -5.1 0M158.2 295.9a2.55 2.55 0 1 0 5.1 0a2.55 2.55 0 1 0 -5.1 0M126.0 298.4a2.55 2.55 0 1 0 5.1 0a2.55 2.55 0 1 0 -5.1 0M134.3 288.8a2.55 2.55 0 1 0 5.1 0a2.55 2.55 0 1 0 -5.1 0M152.2 271.6a2.55 2.55 0 1 0 5.1 0a2.55 2.55 0 1 0 -5.1 0M164.6 274.2a2.55 2.55 0 1 0 5.1 0a2.55 2.55 0 1 0 -5.1 0M127.2 292.8a2.55 2.55 0 1 0 5.1 0a2.55 2.55 0 1 0 -5.1 0M140.0 306.9a2.55 2.55 0 1 0 5.1 0a2.55 2.55 0 1 0 -5.1 0M150.7 272.9a2.55 2.55 0 1 0 5.1 0a2.55 2.55 0 1 0 -5.1 0M159.8 268.1a2.55 2.55 0 1 0 5.1 0a2.55 2.55 0 1 0 -5.1 0M125.6 289.8a2.55 2.55 0 1 0 5.1 0a2.55 2.55 0 1 0 -5.1 0M146.4 293.2a2.55 2.55 0 1 0 5.1 0a2.55 2.55 0 1 0 -5.1 0M145.7 269.4a2.55 2.55 0 1 0 5.1 0a2.55 2.55 0 1 0 -5.1 0M125.3 295.7a2.55 2.55 0 1 0 5.1 0a2.55 2.55 0 1 0 -5.1 0M167.9 279.9a2.55 2.55 0 1 0 5.1 0a2.55 2.55 0 1 0 -5.1 0M144.7 297.8a2.55 2.55 0 1 0 5.1 0a2.55 2.55 0 1 0 -5.1 0M163.2 307.4a2.55 2.55 0 1 0 5.1 0a2.55 2.55 0 1 0 -5.1 0M163.3 280.8a2.55 2.55 0 1 0 5.1 0a2.55 2.55 0 1 0 -5.1 0M144.4 268.7a2.55 2.55 0 1 0 5.1 0a2.55 2.55 0 1 0 -5.1 0M156.5 266.1a2.55 2.55 0 1 0 5.1 0a2.55 2.55 0 1 0 -5.1 0M140.6 280.4a2.55 2.55 0 1 0 5.1 0a2.55 2.55 0 1 0 -5.1 0M163.5 292.3a2.55 2.55 0 1 0 5.1 0a2.55 2.55 0 1 0 -5.1 0M147.5 292.4a2.55 2.55 0 1 0 5.1 0a2.55 2.55 0 1 0 -5.1 0M135.8 303.9a2.55 2.55 0 1 0 5.1 0a2.55 2.55 0 1 0 -5.1 0M155.4 324.0a2.55 2.55 0 1 0 5.1 0a2.55 2.55 0 1 0 -5.1 0M126.7 308.3a2.55 2.55 0 1 0 5.1 0a2.55 2.55 0 1 0 -5.1 0M163.0 292.3a2.55 2.55 0 1 0 5.1 0a2.55 2.55 0 1 0 -5.1 0M147.3 294.9a2.55 2.55 0 1 0 5.1 0a2.55 2.55 0 1 0 -5.1 0M159.3 300.0a2.55 2.55 0 1 0 5.1 0a2.55 2.55 0 1 0 -5.1 0M129.8 294.2a2.55 2.55 0 1 0 5.1 0a2.55 2.55 0 1 0 -5.1 0M162.5 283.5a2.55 2.55 0 1 0 5.1 0a2.55 2.55 0 1 0 -5.1 0M157.8 275.3a2.55 2.55 0 1 0 5.1 0a2.55 2.55 0 1 0 -5.1 0M148.2 285.6a2.55 2.55 0 1 0 5.1 0a2.55 2.55 0 1 0 -5.1 0M135.2 307.6a2.55 2.55 0 1 0 5.1 0a2.55 2.55 0 1 0 -5.1 0M146.9 293.1a2.55 2.55 0 1 0 5.1 0a2.55 2.55 0 1 0 -5.1 0M135.3 268.7a2.55 2.55 0 1 0 5.1 0a2.55 2.55 0 1 0 -5.1 0M153.0 289.2a2.55 2.55 0 1 0 5.1 0a2.55 2.55 0 1 0 -5.1 0M153.6 275.6a2.55 2.55 0 1 0 5.1 0a2.55 2.55 0 1 0 -5.1 0M170.4 283.1a2.55 2.55 0 1 0 5.1 0a2.55 2.55 0 1 0 -5.1 0M139.4 291.4a2.55 2.55 0 1 0 5.1 0a2.55 2.55 0 1 0 -5.1 0M161.8 269.4a2.55 2.55 0 1 0 5.1 0a2.55 2.55 0 1 0 -5.1 0M150.4 280.8a2.55 2.55 0 1 0 5.1 0a2.55 2.55 0 1 0 -5.1 0M126.8 295.2a2.55 2.55 0 1 0 5.1 0a2.55 2.55 0 1 0 -5.1 0M127.3 294.6a2.55 2.55 0 1 0 5.1 0a2.55 2.55 0 1 0 -5.1 0M138.3 281.6a2.55 2.55 0 1 0 5.1 0a2.55 2.55 0 1 0 -5.1 0M133.0 291.2a2.55 2.55 0 1 0 5.1 0a2.55 2.55 0 1 0 -5.1 0M134.7 292.6a2.55 2.55 0 1 0 5.1 0a2.55 2.55 0 1 0 -5.1 0M154.8 270.1a2.55 2.55 0 1 0 5.1 0a2.55 2.55 0 1 0 -5.1 0M132.5 289.7a2.55 2.55 0 1 0 5.1 0a2.55 2.55 0 1 0 -5.1 0M139.7 304.2a2.55 2.55 0 1 0 5.1 0a2.55 2.55 0 1 0 -5.1 0M151.2 282.2a2.55 2.55 0 1 0 5.1 0a2.55 2.55 0 1 0 -5.1 0M141.8 293.3a2.55 2.55 0 1 0 5.1 0a2.55 2.55 0 1 0 -5.1 0M148.9 288.8a2.55 2.55 0 1 0 5.1 0a2.55 2.55 0 1 0 -5.1 0M142.0 293.6a2.55 2.55 0 1 0 5.1 0a2.55 2.55 0 1 0 -5.1 0M152.0 283.5a2.55 2.55 0 1 0 5.1 0a2.55 2.55 0 1 0 -5.1 0M158.4 300.8a2.55 2.55 0 1 0 5.1 0a2.55 2.55 0 1 0 -5.1 0M151.1 289.1a2.55 2.55 0 1 0 5.1 0a2.55 2.55 0 1 0 -5.1 0M142.7 311.9a2.55 2.55 0 1 0 5.1 0a2.55 2.55 0 1 0 -5.1 0M146.6 302.3a2.55 2.55 0 1 0 5.1 0a2.55 2.55 0 1 0 -5.1 0M134.9 298.0a2.55 2.55 0 1 0 5.1 0a2.55 2.55 0 1 0 -5.1 0M162.2 283.2a2.55 2.55 0 1 0 5.1 0a2.55 2.55 0 1 0 -5.1 0M151.9 273.1a2.55 2.55 0 1 0 5.1 0a2.55 2.55 0 1 0 -5.1 0M142.2 298.8a2.55 2.55 0 1 0 5.1 0a2.55 2.55 0 1 0 -5.1 0M155.8 269.0a2.55 2.55 0 1 0 5.1 0a2.55 2.55 0 1 0 -5.1 0M116.5 305.7a2.55 2.55 0 1 0 5.1 0a2.55 2.55 0 1 0 -5.1 0M156.0 282.7a2.55 2.55 0 1 0 5.1 0a2.55 2.55 0 1 0 -5.1 0M172.8 281.8a2.55 2.55 0 1 0 5.1 0a2.55 2.55 0 1 0 -5.1 0M151.5 273.8a2.55 2.55 0 1 0 5.1 0a2.55 2.55 0 1 0 -5.1 0M144.5 300.0a2.55 2.55 0 1 0 5.1 0a2.55 2.55 0 1 0 -5.1 0M145.3 278.7a2.55 2.55 0 1 0 5.1 0a2.55 2.55 0 1 0 -5.1 0M123.6 286.1a2.55 2.55 0 1 0 5.1 0a2.55 2.55 0 1 0 -5.1 0M149.0 299.3a2.55 2.55 0 1 0 5.1 0a2.55 2.55 0 1 0 -5.1 0M132.5 272.9a2.55 2.55 0 1 0 5.1 0a2.55 2.55 0 1 0 -5.1 0M112.5 320.2a2.55 2.55 0 1 0 5.1 0a2.55 2.55 0 1 0 -5.1 0M144.3 291.7a2.55 2.55 0 1 0 5.1 0a2.55 2.55 0 1 0 -5.1 0M161.0 276.5a2.55 2.55 0 1 0 5.1 0a2.55 2.55 0 1 0 -5.1 0M148.0 297.8a2.55 2.55 0 1 0 5.1 0a2.55 2.55 0 1 0 -5.1 0M115.7 298.8a2.55 2.55 0 1 0 5.1 0a2.55 2.55 0 1 0 -5.1 0M144.1 313.4a2.55 2.55 0 1 0 5.1 0a2.55 2.55 0 1 0 -5.1 0M172.9 303.6a2.55 2.55 0 1 0 5.1 0a2.55 2.55 0 1 0 -5.1 0M133.6 281.6a2.55 2.55 0 1 0 5.1 0a2.55 2.55 0 1 0 -5.1 0M164.6 286.7a2.55 2.55 0 1 0 5.1 0a2.55 2.55 0 1 0 -5.1 0M115.2 299.6a2.55 2.55 0 1 0 5.1 0a2.55 2.55 0 1 0 -5.1 0M117.2 288.0a2.55 2.55 0 1 0 5.1 0a2.55 2.55 0 1 0 -5.1 0M146.1 280.9a2.55 2.55 0 1 0 5.1 0a2.55 2.55 0 1 0 -5.1 0M132.5 286.3a2.55 2.55 0 1 0 5.1 0a2.55 2.55 0 1 0 -5.1 0M138.1 295.9a2.55 2.55 0 1 0 5.1 0a2.55 2.55 0 1 0 -5.1 0M131.2 305.3a2.55 2.55 0 1 0 5.1 0a2.55 2.55 0 1 0 -5.1 0M163.2 279.6a2.55 2.55 0 1 0 5.1 0a2.55 2.55 0 1 0 -5.1 0M161.2 273.9a2.55 2.55 0 1 0 5.1 0a2.55 2.55 0 1 0 -5.1 0M136.2 289.3a2.55 2.55 0 1 0 5.1 0a2.55 2.55 0 1 0 -5.1 0M142.4 286.2a2.55 2.55 0 1 0 5.1 0a2.55 2.55 0 1 0 -5.1 0M154.0 283.2a2.55 2.55 0 1 0 5.1 0a2.55 2.55 0 1 0 -5.1 0M157.2 286.0a2.55 2.55 0 1 0 5.1 0a2.55 2.55 0 1 0 -5.1 0M134.4 280.4a2.55 2.55 0 1 0 5.1 0a2.55 2.55 0 1 0 -5.1 0M131.7 300.3a2.55 2.55 0 1 0 5.1 0a2.55 2.55 0 1 0 -5.1 0M148.5 301.4a2.55 2.55 0 1 0 5.1 0a2.55 2.55 0 1 0 -5.1 0M141.8 290.1a2.55 2.55 0 1 0 5.1 0a2.55 2.55 0 1 0 -5.1 0M148.1 307.1a2.55 2.55 0 1 0 5.1 0a2.55 2.55 0 1 0 -5.1 0M156.5 277.3a2.55 2.55 0 1 0 5.1 0a2.55 2.55 0 1 0 -5.1 0M154.4 300.9a2.55 2.55 0 1 0 5.1 0a2.55 2.55 0 1 0 -5.1 0M139.0 301.7a2.55 2.55 0 1 0 5.1 0a2.55 2.55 0 1 0 -5.1 0M130.2 292.6a2.55 2.55 0 1 0 5.1 0a2.55 2.55 0 1 0 -5.1 0M152.4 281.3a2.55 2.55 0 1 0 5.1 0a2.55 2.55 0 1 0 -5.1 0M124.1 298.8a2.55 2.55 0 1 0 5.1 0a2.55 2.55 0 1 0 -5.1 0M149.6 278.7a2.55 2.55 0 1 0 5.1 0a2.55 2.55 0 1 0 -5.1 0M146.1 278.8a2.55 2.55 0 1 0 5.1 0a2.55 2.55 0 1 0 -5.1 0M159.1 289.1a2.55 2.55 0 1 0 5.1 0a2.55 2.55 0 1 0 -5.1 0M171.9 271.8a2.55 2.55 0 1 0 5.1 0a2.55 2.55 0 1 0 -5.1 0M139.1 278.2a2.55 2.55 0 1 0 5.1 0a2.55 2.55 0 1 0 -5.1 0M155.7 304.5a2.55 2.55 0 1 0 5.1 0a2.55 2.55 0 1 0 -5.1 0M138.6 271.3a2.55 2.55 0 1 0 5.1 0a2.55 2.55 0 1 0 -5.1 0M148.4 287.7a2.55 2.55 0 1 0 5.1 0a2.55 2.55 0 1 0 -5.1 0M134.4 286.5a2.55 2.55 0 1 0 5.1 0a2.55 2.55 0 1 0 -5.1 0M121.3 288.8a2.55 2.55 0 1 0 5.1 0a2.55 2.55 0 1 0 -5.1 0M114.6 291.3a2.55 2.55 0 1 0 5.1 0a2.55 2.55 0 1 0 -5.1 0M128.6 276.0a2.55 2.55 0 1 0 5.1 0a2.55 2.55 0 1 0 -5.1 0M144.7 278.7a2.55 2.55 0 1 0 5.1 0a2.55 2.55 0 1 0 -5.1 0M142.0 298.9a2.55 2.55 0 1 0 5.1 0a2.55 2.55 0 1 0 -5.1 0M143.5 301.2a2.55 2.55 0 1 0 5.1 0a2.55 2.55 0 1 0 -5.1 0M132.3 291.0a2.55 2.55 0 1 0 5.1 0a2.55 2.55 0 1 0 -5.1 0M132.4 287.2a2.55 2.55 0 1 0 5.1 0a2.55 2.55 0 1 0 -5.1 0M148.3 286.3a2.55 2.55 0 1 0 5.1 0a2.55 2.55 0 1 0 -5.1 0M124.7 299.0a2.55 2.55 0 1 0 5.1 0a2.55 2.55 0 1 0 -5.1 0M158.7 275.0a2.55 2.55 0 1 0 5.1 0a2.55 2.55 0 1 0 -5.1 0M117.0 301.1a2.55 2.55 0 1 0 5.1 0a2.55 2.55 0 1 0 -5.1 0M139.5 290.5a2.55 2.55 0 1 0 5.1 0a2.55 2.55 0 1 0 -5.1 0M123.1 302.5a2.55 2.55 0 1 0 5.1 0a2.55 2.55 0 1 0 -5.1 0M148.1 305.4a2.55 2.55 0 1 0 5.1 0a2.55 2.55 0 1 0 -5.1 0M143.7 294.3a2.55 2.55 0 1 0 5.1 0a2.55 2.55 0 1 0 -5.1 0M160.0 280.8a2.55 2.55 0 1 0 5.1 0a2.55 2.55 0 1 0 -5.1 0M138.0 300.0a2.55 2.55 0 1 0 5.1 0a2.55 2.55 0 1 0 -5.1 0M144.0 280.7a2.55 2.55 0 1 0 5.1 0a2.55 2.55 0 1 0 -5.1 0M149.2 277.8a2.55 2.55 0 1 0 5.1 0a2.55 2.55 0 1 0 -5.1 0M139.1 294.9a2.55 2.55 0 1 0 5.1 0a2.55 2.55 0 1 0 -5.1 0M147.0 303.1a2.55 2.55 0 1 0 5.1 0a2.55 2.55 0 1 0 -5.1 0M140.7 281.6a2.55 2.55 0 1 0 5.1 0a2.55 2.55 0 1 0 -5.1 0M161.0 296.9a2.55 2.55 0 1 0 5.1 0a2.55 2.55 0 1 0 -5.1 0M134.2 318.8a2.55 2.55 0 1 0 5.1 0a2.55 2.55 0 1 0 -5.1 0M153.7 275.3a2.55 2.55 0 1 0 5.1 0a2.55 2.55 0 1 0 -5.1 0M164.1 293.9a2.55 2.55 0 1 0 5.1 0a2.55 2.55 0 1 0 -5.1 0M144.3 276.0a2.55 2.55 0 1 0 5.1 0a2.55 2.55 0 1 0 -5.1 0M130.0 300.4a2.55 2.55 0 1 0 5.1 0a2.55 2.55 0 1 0 -5.1 0M153.0 283.3a2.55 2.55 0 1 0 5.1 0a2.55 2.55 0 1 0 -5.1 0M136.9 307.4a2.55 2.55 0 1 0 5.1 0a2.55 2.55 0 1 0 -5.1 0M139.2 284.9a2.55 2.55 0 1 0 5.1 0a2.55 2.55 0 1 0 -5.1 0M146.7 314.4a2.55 2.55 0 1 0 5.1 0a2.55 2.55 0 1 0 -5.1 0M144.1 282.1a2.55 2.55 0 1 0 5.1 0a2.55 2.55 0 1 0 -5.1 0M150.0 292.0a2.55 2.55 0 1 0 5.1 0a2.55 2.55 0 1 0 -5.1 0M173.9 278.1a2.55 2.55 0 1 0 5.1 0a2.55 2.55 0 1 0 -5.1 0M130.9 293.6a2.55 2.55 0 1 0 5.1 0a2.55 2.55 0 1 0 -5.1 0M137.1 303.2a2.55 2.55 0 1 0 5.1 0a2.55 2.55 0 1 0 -5.1 0M130.3 289.4a2.55 2.55 0 1 0 5.1 0a2.55 2.55 0 1 0 -5.1 0M147.6 287.5a2.55 2.55 0 1 0 5.1 0a2.55 2.55 0 1 0 -5.1 0M171.2 283.9a2.55 2.55 0 1 0 5.1 0a2.55 2.55 0 1 0 -5.1 0M150.0 290.7a2.55 2.55 0 1 0 5.1 0a2.55 2.55 0 1 0 -5.1 0M142.4 283.0a2.55 2.55 0 1 0 5.1 0a2.55 2.55 0 1 0 -5.1 0M152.9 279.4a2.55 2.55 0 1 0 5.1 0a2.55 2.55 0 1 0 -5.1 0M142.6 288.2a2.55 2.55 0 1 0 5.1 0a2.55 2.55 0 1 0 -5.1 0M131.7 280.6a2.55 2.55 0 1 0 5.1 0a2.55 2.55 0 1 0 -5.1 0M155.4 272.1a2.55 2.55 0 1 0 5.1 0a2.55 2.55 0 1 0 -5.1 0M130.9 290.7a2.55 2.55 0 1 0 5.1 0a2.55 2.55 0 1 0 -5.1 0M165.1 290.2a2.55 2.55 0 1 0 5.1 0a2.55 2.55 0 1 0 -5.1 0M142.4 286.7a2.55 2.55 0 1 0 5.1 0a2.55 2.55 0 1 0 -5.1 0M165.3 281.9a2.55 2.55 0 1 0 5.1 0a2.55 2.55 0 1 0 -5.1 0M130.0 304.9a2.55 2.55 0 1 0 5.1 0a2.55 2.55 0 1 0 -5.1 0M143.6 302.6a2.55 2.55 0 1 0 5.1 0a2.55 2.55 0 1 0 -5.1 0M169.7 291.5a2.55 2.55 0 1 0 5.1 0a2.55 2.55 0 1 0 -5.1 0M142.8 298.0a2.55 2.55 0 1 0 5.1 0a2.55 2.55 0 1 0 -5.1 0M126.0 287.9a2.55 2.55 0 1 0 5.1 0a2.55 2.55 0 1 0 -5.1 0M135.9 284.9a2.55 2.55 0 1 0 5.1 0a2.55 2.55 0 1 0 -5.1 0M142.5 291.3a2.55 2.55 0 1 0 5.1 0a2.55 2.55 0 1 0 -5.1 0M154.3 293.2a2.55 2.55 0 1 0 5.1 0a2.55 2.55 0 1 0 -5.1 0M142.5 304.4a2.55 2.55 0 1 0 5.1 0a2.55 2.55 0 1 0 -5.1 0M157.9 289.9a2.55 2.55 0 1 0 5.1 0a2.55 2.55 0 1 0 -5.1 0M149.3 291.0a2.55 2.55 0 1 0 5.1 0a2.55 2.55 0 1 0 -5.1 0M143.9 297.4a2.55 2.55 0 1 0 5.1 0a2.55 2.55 0 1 0 -5.1 0M132.9 292.2a2.55 2.55 0 1 0 5.1 0a2.55 2.55 0 1 0 -5.1 0M155.6 292.9a2.55 2.55 0 1 0 5.1 0a2.55 2.55 0 1 0 -5.1 0M138.0 281.8a2.55 2.55 0 1 0 5.1 0a2.55 2.55 0 1 0 -5.1 0M150.3 277.5a2.55 2.55 0 1 0 5.1 0a2.55 2.55 0 1 0 -5.1 0M159.7 289.2a2.55 2.55 0 1 0 5.1 0a2.55 2.55 0 1 0 -5.1 0M150.6 278.5a2.55 2.55 0 1 0 5.1 0a2.55 2.55 0 1 0 -5.1 0M162.9 271.6a2.55 2.55 0 1 0 5.1 0a2.55 2.55 0 1 0 -5.1 0M133.1 314.0a2.55 2.55 0 1 0 5.1 0a2.55 2.55 0 1 0 -5.1 0M140.2 293.5a2.55 2.55 0 1 0 5.1 0a2.55 2.55 0 1 0 -5.1 0M125.2 285.9a2.55 2.55 0 1 0 5.1 0a2.55 2.55 0 1 0 -5.1 0M145.5 293.8a2.55 2.55 0 1 0 5.1 0a2.55 2.55 0 1 0 -5.1 0M142.2 297.2a2.55 2.55 0 1 0 5.1 0a2.55 2.55 0 1 0 -5.1 0M169.5 278.8a2.55 2.55 0 1 0 5.1 0a2.55 2.55 0 1 0 -5.1 0M127.2 299.0a2.55 2.55 0 1 0 5.1 0a2.55 2.55 0 1 0 -5.1 0M156.3 280.3a2.55 2.55 0 1 0 5.1 0a2.55 2.55 0 1 0 -5.1 0M128.3 298.0a2.55 2.55 0 1 0 5.1 0a2.55 2.55 0 1 0 -5.1 0M144.0 277.1a2.55 2.55 0 1 0 5.1 0a2.55 2.55 0 1 0 -5.1 0M145.5 295.9a2.55 2.55 0 1 0 5.1 0a2.55 2.55 0 1 0 -5.1 0M162.3 282.0a2.55 2.55 0 1 0 5.1 0a2.55 2.55 0 1 0 -5.1 0M143.5 313.9a2.55 2.55 0 1 0 5.1 0a2.55 2.55 0 1 0 -5.1 0M163.4 294.1a2.55 2.55 0 1 0 5.1 0a2.55 2.55 0 1 0 -5.1 0M120.4 292.0a2.55 2.55 0 1 0 5.1 0a2.55 2.55 0 1 0 -5.1 0M155.2 308.2a2.55 2.55 0 1 0 5.1 0a2.55 2.55 0 1 0 -5.1 0M126.1 301.2a2.55 2.55 0 1 0 5.1 0a2.55 2.55 0 1 0 -5.1 0M150.5 291.5a2.55 2.55 0 1 0 5.1 0a2.55 2.55 0 1 0 -5.1 0M138.8 291.4a2.55 2.55 0 1 0 5.1 0a2.55 2.55 0 1 0 -5.1 0M132.3 282.2a2.55 2.55 0 1 0 5.1 0a2.55 2.55 0 1 0 -5.1 0M117.5 301.9a2.55 2.55 0 1 0 5.1 0a2.55 2.55 0 1 0 -5.1 0M121.8 304.8a2.55 2.55 0 1 0 5.1 0a2.55 2.55 0 1 0 -5.1 0M114.8 314.4a2.55 2.55 0 1 0 5.1 0a2.55 2.55 0 1 0 -5.1 0M151.7 277.4a2.55 2.55 0 1 0 5.1 0a2.55 2.55 0 1 0 -5.1 0M155.5 291.2a2.55 2.55 0 1 0 5.1 0a2.55 2.55 0 1 0 -5.1 0M145.2 285.3a2.55 2.55 0 1 0 5.1 0a2.55 2.55 0 1 0 -5.1 0M158.9 287.0a2.55 2.55 0 1 0 5.1 0a2.55 2.55 0 1 0 -5.1 0M117.2 293.3a2.55 2.55 0 1 0 5.1 0a2.55 2.55 0 1 0 -5.1 0M143.4 286.4a2.55 2.55 0 1 0 5.1 0a2.55 2.55 0 1 0 -5.1 0M142.0 321.4a2.55 2.55 0 1 0 5.1 0a2.55 2.55 0 1 0 -5.1 0M125.5 310.7a2.55 2.55 0 1 0 5.1 0a2.55 2.55 0 1 0 -5.1 0M145.9 295.7a2.55 2.55 0 1 0 5.1 0a2.55 2.55 0 1 0 -5.1 0M145.2 308.6a2.55 2.55 0 1 0 5.1 0a2.55 2.55 0 1 0 -5.1 0M147.6 288.1a2.55 2.55 0 1 0 5.1 0a2.55 2.55 0 1 0 -5.1 0M125.4 274.6a2.55 2.55 0 1 0 5.1 0a2.55 2.55 0 1 0 -5.1 0M124.8 283.6a2.55 2.55 0 1 0 5.1 0a2.55 2.55 0 1 0 -5.1 0M133.8 298.0a2.55 2.55 0 1 0 5.1 0a2.55 2.55 0 1 0 -5.1 0M140.5 297.6a2.55 2.55 0 1 0 5.1 0a2.55 2.55 0 1 0 -5.1 0M135.7 301.0a2.55 2.55 0 1 0 5.1 0a2.55 2.55 0 1 0 -5.1 0M145.5 291.0a2.55 2.55 0 1 0 5.1 0a2.55 2.55 0 1 0 -5.1 0M147.4 301.8a2.55 2.55 0 1 0 5.1 0a2.55 2.55 0 1 0 -5.1 0M150.2 288.1a2.55 2.55 0 1 0 5.1 0a2.55 2.55 0 1 0 -5.1 0M147.8 280.7a2.55 2.55 0 1 0 5.1 0a2.55 2.55 0 1 0 -5.1 0M137.1 285.9a2.55 2.55 0 1 0 5.1 0a2.55 2.55 0 1 0 -5.1 0M158.1 291.7a2.55 2.55 0 1 0 5.1 0a2.55 2.55 0 1 0 -5.1 0M156.1 297.4a2.55 2.55 0 1 0 5.1 0a2.55 2.55 0 1 0 -5.1 0M153.2 276.5a2.55 2.55 0 1 0 5.1 0a2.55 2.55 0 1 0 -5.1 0M145.7 268.0a2.55 2.55 0 1 0 5.1 0a2.55 2.55 0 1 0 -5.1 0M122.8 296.4a2.55 2.55 0 1 0 5.1 0a2.55 2.55 0 1 0 -5.1 0M151.3 301.8a2.55 2.55 0 1 0 5.1 0a2.55 2.55 0 1 0 -5.1 0M142.6 314.9a2.55 2.55 0 1 0 5.1 0a2.55 2.55 0 1 0 -5.1 0M147.5 292.9a2.55 2.55 0 1 0 5.1 0a2.55 2.55 0 1 0 -5.1 0M120.5 293.2a2.55 2.55 0 1 0 5.1 0a2.55 2.55 0 1 0 -5.1 0M155.8 284.6a2.55 2.55 0 1 0 5.1 0a2.55 2.55 0 1 0 -5.1 0M139.0 295.1a2.55 2.55 0 1 0 5.1 0a2.55 2.55 0 1 0 -5.1 0M135.3 282.3a2.55 2.55 0 1 0 5.1 0a2.55 2.55 0 1 0 -5.1 0M135.2 269.8a2.55 2.55 0 1 0 5.1 0a2.55 2.55 0 1 0 -5.1 0M148.3 292.2a2.55 2.55 0 1 0 5.1 0a2.55 2.55 0 1 0 -5.1 0M131.2 285.0a2.55 2.55 0 1 0 5.1 0a2.55 2.55 0 1 0 -5.1 0M149.3 284.0a2.55 2.55 0 1 0 5.1 0a2.55 2.55 0 1 0 -5.1 0M139.1 300.1a2.55 2.55 0 1 0 5.1 0a2.55 2.55 0 1 0 -5.1 0M156.1 284.5a2.55 2.55 0 1 0 5.1 0a2.55 2.55 0 1 0 -5.1 0M137.7 274.5a2.55 2.55 0 1 0 5.1 0a2.55 2.55 0 1 0 -5.1 0M151.5 275.2a2.55 2.55 0 1 0 5.1 0a2.55 2.55 0 1 0 -5.1 0M162.7 275.9a2.55 2.55 0 1 0 5.1 0a2.55 2.55 0 1 0 -5.1 0M137.3 288.8a2.55 2.55 0 1 0 5.1 0a2.55 2.55 0 1 0 -5.1 0M156.5 288.5a2.55 2.55 0 1 0 5.1 0a2.55 2.55 0 1 0 -5.1 0M119.6 293.9a2.55 2.55 0 1 0 5.1 0a2.55 2.55 0 1 0 -5.1 0M159.9 291.8a2.55 2.55 0 1 0 5.1 0a2.55 2.55 0 1 0 -5.1 0M151.9 301.5a2.55 2.55 0 1 0 5.1 0a2.55 2.55 0 1 0 -5.1 0M147.0 284.9a2.55 2.55 0 1 0 5.1 0a2.55 2.55 0 1 0 -5.1 0M149.6 309.3a2.55 2.55 0 1 0 5.1 0a2.55 2.55 0 1 0 -5.1 0M141.6 285.0a2.55 2.55 0 1 0 5.1 0a2.55 2.55 0 1 0 -5.1 0M166.7 282.1a2.55 2.55 0 1 0 5.1 0a2.55 2.55 0 1 0 -5.1 0M149.4 274.1a2.55 2.55 0 1 0 5.1 0a2.55 2.55 0 1 0 -5.1 0M147.7 291.6a2.55 2.55 0 1 0 5.1 0a2.55 2.55 0 1 0 -5.1 0M129.3 281.0a2.55 2.55 0 1 0 5.1 0a2.55 2.55 0 1 0 -5.1 0M166.5 283.8a2.55 2.55 0 1 0 5.1 0a2.55 2.55 0 1 0 -5.1 0M155.1 309.4a2.55 2.55 0 1 0 5.1 0a2.55 2.55 0 1 0 -5.1 0M136.1 288.2a2.55 2.55 0 1 0 5.1 0a2.55 2.55 0 1 0 -5.1 0M147.3 290.3a2.55 2.55 0 1 0 5.1 0a2.55 2.55 0 1 0 -5.1 0M169.6 307.1a2.55 2.55 0 1 0 5.1 0a2.55 2.55 0 1 0 -5.1 0M156.8 285.1a2.55 2.55 0 1 0 5.1 0a2.55 2.55 0 1 0 -5.1 0M150.7 285.2a2.55 2.55 0 1 0 5.1 0a2.55 2.55 0 1 0 -5.1 0M120.5 301.9a2.55 2.55 0 1 0 5.1 0a2.55 2.55 0 1 0 -5.1 0M137.1 296.9a2.55 2.55 0 1 0 5.1 0a2.55 2.55 0 1 0 -5.1 0M159.8 302.5a2.55 2.55 0 1 0 5.1 0a2.55 2.55 0 1 0 -5.1 0M161.1 287.0a2.55 2.55 0 1 0 5.1 0a2.55 2.55 0 1 0 -5.1 0M152.0 290.0a2.55 2.55 0 1 0 5.1 0a2.55 2.55 0 1 0 -5.1 0M158.4 291.8a2.55 2.55 0 1 0 5.1 0a2.55 2.55 0 1 0 -5.1 0M160.9 286.6a2.55 2.55 0 1 0 5.1 0a2.55 2.55 0 1 0 -5.1 0M134.1 287.7a2.55 2.55 0 1 0 5.1 0a2.55 2.55 0 1 0 -5.1 0M146.2 283.4a2.55 2.55 0 1 0 5.1 0a2.55 2.55 0 1 0 -5.1 0M148.7 299.5a2.55 2.55 0 1 0 5.1 0a2.55 2.55 0 1 0 -5.1 0M132.8 289.6a2.55 2.55 0 1 0 5.1 0a2.55 2.55 0 1 0 -5.1 0M137.2 288.7a2.55 2.55 0 1 0 5.1 0a2.55 2.55 0 1 0 -5.1 0M142.5 292.2a2.55 2.55 0 1 0 5.1 0a2.55 2.55 0 1 0 -5.1 0M133.6 310.4a2.55 2.55 0 1 0 5.1 0a2.55 2.55 0 1 0 -5.1 0M167.5 286.3a2.55 2.55 0 1 0 5.1 0a2.55 2.55 0 1 0 -5.1 0M131.6 292.6a2.55 2.55 0 1 0 5.1 0a2.55 2.55 0 1 0 -5.1 0M135.2 307.7a2.55 2.55 0 1 0 5.1 0a2.55 2.55 0 1 0 -5.1 0M123.9 295.0a2.55 2.55 0 1 0 5.1 0a2.55 2.55 0 1 0 -5.1 0M134.3 287.3a2.55 2.55 0 1 0 5.1 0a2.55 2.55 0 1 0 -5.1 0M148.8 266.2a2.55 2.55 0 1 0 5.1 0a2.55 2.55 0 1 0 -5.1 0M118.3 292.9a2.55 2.55 0 1 0 5.1 0a2.55 2.55 0 1 0 -5.1 0M158.7 274.7a2.55 2.55 0 1 0 5.1 0a2.55 2.55 0 1 0 -5.1 0M128.4 287.4a2.55 2.55 0 1 0 5.1 0a2.55 2.55 0 1 0 -5.1 0M145.7 292.6a2.55 2.55 0 1 0 5.1 0a2.55 2.55 0 1 0 -5.1 0M135.9 292.9a2.55 2.55 0 1 0 5.1 0a2.55 2.55 0 1 0 -5.1 0M145.5 300.1a2.55 2.55 0 1 0 5.1 0a2.55 2.55 0 1 0 -5.1 0M143.7 309.8a2.55 2.55 0 1 0 5.1 0a2.55 2.55 0 1 0 -5.1 0M121.5 292.5a2.55 2.55 0 1 0 5.1 0a2.55 2.55 0 1 0 -5.1 0M140.7 277.7a2.55 2.55 0 1 0 5.1 0a2.55 2.55 0 1 0 -5.1 0M161.3 298.9a2.55 2.55 0 1 0 5.1 0a2.55 2.55 0 1 0 -5.1 0M127.9 303.3a2.55 2.55 0 1 0 5.1 0a2.55 2.55 0 1 0 -5.1 0M131.7 289.5a2.55 2.55 0 1 0 5.1 0a2.55 2.55 0 1 0 -5.1 0M163.5 271.8a2.55 2.55 0 1 0 5.1 0a2.55 2.55 0 1 0 -5.1 0M145.5 277.2a2.55 2.55 0 1 0 5.1 0a2.55 2.55 0 1 0 -5.1 0M143.7 269.8a2.55 2.55 0 1 0 5.1 0a2.55 2.55 0 1 0 -5.1 0M156.7 289.1a2.55 2.55 0 1 0 5.1 0a2.55 2.55 0 1 0 -5.1 0M147.4 296.7a2.55 2.55 0 1 0 5.1 0a2.55 2.55 0 1 0 -5.1 0M157.3 301.1a2.55 2.55 0 1 0 5.1 0a2.55 2.55 0 1 0 -5.1 0M150.3 286.3a2.55 2.55 0 1 0 5.1 0a2.55 2.55 0 1 0 -5.1 0M144.8 279.3a2.55 2.55 0 1 0 5.1 0a2.55 2.55 0 1 0 -5.1 0M147.3 282.7a2.55 2.55 0 1 0 5.1 0a2.55 2.55 0 1 0 -5.1 0M173.8 288.3a2.55 2.55 0 1 0 5.1 0a2.55 2.55 0 1 0 -5.1 0M148.7 275.8a2.55 2.55 0 1 0 5.1 0a2.55 2.55 0 1 0 -5.1 0M123.8 306.6a2.55 2.55 0 1 0 5.1 0a2.55 2.55 0 1 0 -5.1 0M122.4 292.8a2.55 2.55 0 1 0 5.1 0a2.55 2.55 0 1 0 -5.1 0M166.6 299.6a2.55 2.55 0 1 0 5.1 0a2.55 2.55 0 1 0 -5.1 0M161.9 290.9a2.55 2.55 0 1 0 5.1 0a2.55 2.55 0 1 0 -5.1 0M159.1 297.8a2.55 2.55 0 1 0 5.1 0a2.55 2.55 0 1 0 -5.1 0M151.4 292.9a2.55 2.55 0 1 0 5.1 0a2.55 2.55 0 1 0 -5.1 0M168.3 284.8a2.55 2.55 0 1 0 5.1 0a2.55 2.55 0 1 0 -5.1 0M118.2 281.9a2.55 2.55 0 1 0 5.1 0a2.55 2.55 0 1 0 -5.1 0M153.7 295.3a2.55 2.55 0 1 0 5.1 0a2.55 2.55 0 1 0 -5.1 0M149.3 287.2a2.55 2.55 0 1 0 5.1 0a2.55 2.55 0 1 0 -5.1 0M150.4 301.2a2.55 2.55 0 1 0 5.1 0a2.55 2.55 0 1 0 -5.1 0M146.5 287.2a2.55 2.55 0 1 0 5.1 0a2.55 2.55 0 1 0 -5.1 0M137.3 291.4a2.55 2.55 0 1 0 5.1 0a2.55 2.55 0 1 0 -5.1 0M151.1 265.9a2.55 2.55 0 1 0 5.1 0a2.55 2.55 0 1 0 -5.1 0M117.9 307.1a2.55 2.55 0 1 0 5.1 0a2.55 2.55 0 1 0 -5.1 0M140.6 291.4a2.55 2.55 0 1 0 5.1 0a2.55 2.55 0 1 0 -5.1 0M145.7 295.0a2.55 2.55 0 1 0 5.1 0a2.55 2.55 0 1 0 -5.1 0M165.9 292.9a2.55 2.55 0 1 0 5.1 0a2.55 2.55 0 1 0 -5.1 0M142.2 282.6a2.55 2.55 0 1 0 5.1 0a2.55 2.55 0 1 0 -5.1 0M144.8 301.7a2.55 2.55 0 1 0 5.1 0a2.55 2.55 0 1 0 -5.1 0M164.8 267.2a2.55 2.55 0 1 0 5.1 0a2.55 2.55 0 1 0 -5.1 0M142.0 297.6a2.55 2.55 0 1 0 5.1 0a2.55 2.55 0 1 0 -5.1 0M144.7 297.3a2.55 2.55 0 1 0 5.1 0a2.55 2.55 0 1 0 -5.1 0M136.1 293.1a2.55 2.55 0 1 0 5.1 0a2.55 2.55 0 1 0 -5.1 0M160.7 295.9a2.55 2.55 0 1 0 5.1 0a2.55 2.55 0 1 0 -5.1 0M161.8 275.8a2.55 2.55 0 1 0 5.1 0a2.55 2.55 0 1 0 -5.1 0M117.4 300.7a2.55 2.55 0 1 0 5.1 0a2.55 2.55 0 1 0 -5.1 0M174.8 288.9a2.55 2.55 0 1 0 5.1 0a2.55 2.55 0 1 0 -5.1 0M116.6 293.6a2.55 2.55 0 1 0 5.1 0a2.55 2.55 0 1 0 -5.1 0M130.5 284.0a2.55 2.55 0 1 0 5.1 0a2.55 2.55 0 1 0 -5.1 0M150.0 288.3a2.55 2.55 0 1 0 5.1 0a2.55 2.55 0 1 0 -5.1 0M153.8 284.4a2.55 2.55 0 1 0 5.1 0a2.55 2.55 0 1 0 -5.1 0M126.5 275.3a2.55 2.55 0 1 0 5.1 0a2.55 2.55 0 1 0 -5.1 0M124.4 298.8a2.55 2.55 0 1 0 5.1 0a2.55 2.55 0 1 0 -5.1 0M138.9 307.5a2.55 2.55 0 1 0 5.1 0a2.55 2.55 0 1 0 -5.1 0M135.3 304.3a2.55 2.55 0 1 0 5.1 0a2.55 2.55 0 1 0 -5.1 0M168.5 281.3a2.55 2.55 0 1 0 5.1 0a2.55 2.55 0 1 0 -5.1 0M147.0 306.7a2.55 2.55 0 1 0 5.1 0a2.55 2.55 0 1 0 -5.1 0M152.7 285.6a2.55 2.55 0 1 0 5.1 0a2.55 2.55 0 1 0 -5.1 0M133.7 266.0a2.55 2.55 0 1 0 5.1 0a2.55 2.55 0 1 0 -5.1 0M152.4 287.4a2.55 2.55 0 1 0 5.1 0a2.55 2.55 0 1 0 -5.1 0M140.8 296.1a2.55 2.55 0 1 0 5.1 0a2.55 2.55 0 1 0 -5.1 0M119.5 285.6a2.55 2.55 0 1 0 5.1 0a2.55 2.55 0 1 0 -5.1 0M142.4 270.0a2.55 2.55 0 1 0 5.1 0a2.55 2.55 0 1 0 -5.1 0M160.0 265.3a2.55 2.55 0 1 0 5.1 0a2.55 2.55 0 1 0 -5.1 0M155.4 280.5a2.55 2.55 0 1 0 5.1 0a2.55 2.55 0 1 0 -5.1 0M143.4 289.9a2.55 2.55 0 1 0 5.1 0a2.55 2.55 0 1 0 -5.1 0M152.8 287.3a2.55 2.55 0 1 0 5.1 0a2.55 2.55 0 1 0 -5.1 0M135.5 266.9a2.55 2.55 0 1 0 5.1 0a2.55 2.55 0 1 0 -5.1 0M126.1 282.8a2.55 2.55 0 1 0 5.1 0a2.55 2.55 0 1 0 -5.1 0M153.1 295.3a2.55 2.55 0 1 0 5.1 0a2.55 2.55 0 1 0 -5.1 0M149.3 286.4a2.55 2.55 0 1 0 5.1 0a2.55 2.55 0 1 0 -5.1 0M160.3 272.6a2.55 2.55 0 1 0 5.1 0a2.55 2.55 0 1 0 -5.1 0M154.7 282.6a2.55 2.55 0 1 0 5.1 0a2.55 2.55 0 1 0 -5.1 0M155.9 294.6a2.55 2.55 0 1 0 5.1 0a2.55 2.55 0 1 0 -5.1 0M142.5 284.1a2.55 2.55 0 1 0 5.1 0a2.55 2.55 0 1 0 -5.1 0M141.7 292.9a2.55 2.55 0 1 0 5.1 0a2.55 2.55 0 1 0 -5.1 0M163.9 286.5a2.55 2.55 0 1 0 5.1 0a2.55 2.55 0 1 0 -5.1 0M154.7 295.0a2.55 2.55 0 1 0 5.1 0a2.55 2.55 0 1 0 -5.1 0M157.0 281.2a2.55 2.55 0 1 0 5.1 0a2.55 2.55 0 1 0 -5.1 0M157.9 280.2a2.55 2.55 0 1 0 5.1 0a2.55 2.55 0 1 0 -5.1 0M170.5 300.0a2.55 2.55 0 1 0 5.1 0a2.55 2.55 0 1 0 -5.1 0M155.6 309.0a2.55 2.55 0 1 0 5.1 0a2.55 2.55 0 1 0 -5.1 0M130.3 289.8a2.55 2.55 0 1 0 5.1 0a2.55 2.55 0 1 0 -5.1 0M163.9 272.8a2.55 2.55 0 1 0 5.1 0a2.55 2.55 0 1 0 -5.1 0M148.1 289.9a2.55 2.55 0 1 0 5.1 0a2.55 2.55 0 1 0 -5.1 0M140.5 293.8a2.55 2.55 0 1 0 5.1 0a2.55 2.55 0 1 0 -5.1 0M149.2 296.1a2.55 2.55 0 1 0 5.1 0a2.55 2.55 0 1 0 -5.1 0M134.8 286.5a2.55 2.55 0 1 0 5.1 0a2.55 2.55 0 1 0 -5.1 0M126.2 311.9a2.55 2.55 0 1 0 5.1 0a2.55 2.55 0 1 0 -5.1 0M155.7 283.6a2.55 2.55 0 1 0 5.1 0a2.55 2.55 0 1 0 -5.1 0M119.9 300.0a2.55 2.55 0 1 0 5.1 0a2.55 2.55 0 1 0 -5.1 0M141.4 288.7a2.55 2.55 0 1 0 5.1 0a2.55 2.55 0 1 0 -5.1 0M170.2 306.0a2.55 2.55 0 1 0 5.1 0a2.55 2.55 0 1 0 -5.1 0M129.7 314.1a2.55 2.55 0 1 0 5.1 0a2.55 2.55 0 1 0 -5.1 0M158.2 292.8a2.55 2.55 0 1 0 5.1 0a2.55 2.55 0 1 0 -5.1 0M156.5 292.9a2.55 2.55 0 1 0 5.1 0a2.55 2.55 0 1 0 -5.1 0M157.1 308.5a2.55 2.55 0 1 0 5.1 0a2.55 2.55 0 1 0 -5.1 0M147.0 285.9a2.55 2.55 0 1 0 5.1 0a2.55 2.55 0 1 0 -5.1 0M135.9 294.6a2.55 2.55 0 1 0 5.1 0a2.55 2.55 0 1 0 -5.1 0M166.8 283.1a2.55 2.55 0 1 0 5.1 0a2.55 2.55 0 1 0 -5.1 0M133.2 272.9a2.55 2.55 0 1 0 5.1 0a2.55 2.55 0 1 0 -5.1 0M144.7 270.0a2.55 2.55 0 1 0 5.1 0a2.55 2.55 0 1 0 -5.1 0M125.3 280.8a2.55 2.55 0 1 0 5.1 0a2.55 2.55 0 1 0 -5.1 0M135.7 305.6a2.55 2.55 0 1 0 5.1 0a2.55 2.55 0 1 0 -5.1 0M128.6 268.5a2.55 2.55 0 1 0 5.1 0a2.55 2.55 0 1 0 -5.1 0M133.5 286.8a2.55 2.55 0 1 0 5.1 0a2.55 2.55 0 1 0 -5.1 0M141.8 278.7a2.55 2.55 0 1 0 5.1 0a2.55 2.55 0 1 0 -5.1 0M121.6 298.8a2.55 2.55 0 1 0 5.1 0a2.55 2.55 0 1 0 -5.1 0M158.6 280.1a2.55 2.55 0 1 0 5.1 0a2.55 2.55 0 1 0 -5.1 0M160.8 267.4a2.55 2.55 0 1 0 5.1 0a2.55 2.55 0 1 0 -5.1 0M125.0 279.3a2.55 2.55 0 1 0 5.1 0a2.55 2.55 0 1 0 -5.1 0M133.0 298.3a2.55 2.55 0 1 0 5.1 0a2.55 2.55 0 1 0 -5.1 0M150.5 307.5a2.55 2.55 0 1 0 5.1 0a2.55 2.55 0 1 0 -5.1 0M135.6 286.8a2.55 2.55 0 1 0 5.1 0a2.55 2.55 0 1 0 -5.1 0M129.1 308.2a2.55 2.55 0 1 0 5.1 0a2.55 2.55 0 1 0 -5.1 0M162.9 288.3a2.55 2.55 0 1 0 5.1 0a2.55 2.55 0 1 0 -5.1 0M156.6 285.1a2.55 2.55 0 1 0 5.1 0a2.55 2.55 0 1 0 -5.1 0M163.5 270.9a2.55 2.55 0 1 0 5.1 0a2.55 2.55 0 1 0 -5.1 0M157.3 297.9a2.55 2.55 0 1 0 5.1 0a2.55 2.55 0 1 0 -5.1 0M165.5 291.5a2.55 2.55 0 1 0 5.1 0a2.55 2.55 0 1 0 -5.1 0M147.5 299.8a2.55 2.55 0 1 0 5.1 0a2.55 2.55 0 1 0 -5.1 0M154.3 290.1a2.55 2.55 0 1 0 5.1 0a2.55 2.55 0 1 0 -5.1 0M159.1 278.0a2.55 2.55 0 1 0 5.1 0a2.55 2.55 0 1 0 -5.1 0M138.7 292.1a2.55 2.55 0 1 0 5.1 0a2.55 2.55 0 1 0 -5.1 0M130.4 308.8a2.55 2.55 0 1 0 5.1 0a2.55 2.55 0 1 0 -5.1 0M145.6 283.2a2.55 2.55 0 1 0 5.1 0a2.55 2.55 0 1 0 -5.1 0M129.3 296.3a2.55 2.55 0 1 0 5.1 0a2.55 2.55 0 1 0 -5.1 0M143.5 278.4a2.55 2.55 0 1 0 5.1 0a2.55 2.55 0 1 0 -5.1 0M164.4 275.6a2.55 2.55 0 1 0 5.1 0a2.55 2.55 0 1 0 -5.1 0M132.8 297.9a2.55 2.55 0 1 0 5.1 0a2.55 2.55 0 1 0 -5.1 0M156.0 285.8a2.55 2.55 0 1 0 5.1 0a2.55 2.55 0 1 0 -5.1 0M136.9 285.0a2.55 2.55 0 1 0 5.1 0a2.55 2.55 0 1 0 -5.1 0M137.2 283.5a2.55 2.55 0 1 0 5.1 0a2.55 2.55 0 1 0 -5.1 0M144.3 291.2a2.55 2.55 0 1 0 5.1 0a2.55 2.55 0 1 0 -5.1 0M129.1 303.2a2.55 2.55 0 1 0 5.1 0a2.55 2.55 0 1 0 -5.1 0M166.2 279.3a2.55 2.55 0 1 0 5.1 0a2.55 2.55 0 1 0 -5.1 0M120.1 274.5a2.55 2.55 0 1 0 5.1 0a2.55 2.55 0 1 0 -5.1 0M137.5 301.4a2.55 2.55 0 1 0 5.1 0a2.55 2.55 0 1 0 -5.1 0M148.6 286.7a2.55 2.55 0 1 0 5.1 0a2.55 2.55 0 1 0 -5.1 0M115.5 295.6a2.55 2.55 0 1 0 5.1 0a2.55 2.55 0 1 0 -5.1 0M145.1 283.0a2.55 2.55 0 1 0 5.1 0a2.55 2.55 0 1 0 -5.1 0M142.4 280.6a2.55 2.55 0 1 0 5.1 0a2.55 2.55 0 1 0 -5.1 0M148.5 310.1a2.55 2.55 0 1 0 5.1 0a2.55 2.55 0 1 0 -5.1 0M136.3 290.3a2.55 2.55 0 1 0 5.1 0a2.55 2.55 0 1 0 -5.1 0M151.2 270.9a2.55 2.55 0 1 0 5.1 0a2.55 2.55 0 1 0 -5.1 0M143.9 277.3a2.55 2.55 0 1 0 5.1 0a2.55 2.55 0 1 0 -5.1 0M124.9 291.0a2.55 2.55 0 1 0 5.1 0a2.55 2.55 0 1 0 -5.1 0M133.8 308.8a2.55 2.55 0 1 0 5.1 0a2.55 2.55 0 1 0 -5.1 0M143.9 275.8a2.55 2.55 0 1 0 5.1 0a2.55 2.55 0 1 0 -5.1 0M155.5 295.3a2.55 2.55 0 1 0 5.1 0a2.55 2.55 0 1 0 -5.1 0M124.6 308.4a2.55 2.55 0 1 0 5.1 0a2.55 2.55 0 1 0 -5.1 0M136.7 301.0a2.55 2.55 0 1 0 5.1 0a2.55 2.55 0 1 0 -5.1 0M134.7 291.4a2.55 2.55 0 1 0 5.1 0a2.55 2.55 0 1 0 -5.1 0M144.5 289.4a2.55 2.55 0 1 0 5.1 0a2.55 2.55 0 1 0 -5.1 0M125.5 284.9a2.55 2.55 0 1 0 5.1 0a2.55 2.55 0 1 0 -5.1 0M151.1 280.3a2.55 2.55 0 1 0 5.1 0a2.55 2.55 0 1 0 -5.1 0M152.9 286.5a2.55 2.55 0 1 0 5.1 0a2.55 2.55 0 1 0 -5.1 0M141.4 290.8a2.55 2.55 0 1 0 5.1 0a2.55 2.55 0 1 0 -5.1 0M129.7 286.1a2.55 2.55 0 1 0 5.1 0a2.55 2.55 0 1 0 -5.1 0M145.9 280.0a2.55 2.55 0 1 0 5.1 0a2.55 2.55 0 1 0 -5.1 0M157.8 273.3a2.55 2.55 0 1 0 5.1 0a2.55 2.55 0 1 0 -5.1 0M134.9 285.9a2.55 2.55 0 1 0 5.1 0a2.55 2.55 0 1 0 -5.1 0M153.0 296.6a2.55 2.55 0 1 0 5.1 0a2.55 2.55 0 1 0 -5.1 0M160.0 289.5a2.55 2.55 0 1 0 5.1 0a2.55 2.55 0 1 0 -5.1 0M137.7 284.9a2.55 2.55 0 1 0 5.1 0a2.55 2.55 0 1 0 -5.1 0M148.2 296.3a2.55 2.55 0 1 0 5.1 0a2.55 2.55 0 1 0 -5.1 0M155.0 296.5a2.55 2.55 0 1 0 5.1 0a2.55 2.55 0 1 0 -5.1 0M166.1 293.0a2.55 2.55 0 1 0 5.1 0a2.55 2.55 0 1 0 -5.1 0M148.6 276.9a2.55 2.55 0 1 0 5.1 0a2.55 2.55 0 1 0 -5.1 0M159.9 293.8a2.55 2.55 0 1 0 5.1 0a2.55 2.55 0 1 0 -5.1 0M122.4 297.8a2.55 2.55 0 1 0 5.1 0a2.55 2.55 0 1 0 -5.1 0M132.4 290.6a2.55 2.55 0 1 0 5.1 0a2.55 2.55 0 1 0 -5.1 0M151.4 288.0a2.55 2.55 0 1 0 5.1 0a2.55 2.55 0 1 0 -5.1 0M157.5 277.7a2.55 2.55 0 1 0 5.1 0a2.55 2.55 0 1 0 -5.1 0M143.9 278.8a2.55 2.55 0 1 0 5.1 0a2.55 2.55 0 1 0 -5.1 0M140.5 287.5a2.55 2.55 0 1 0 5.1 0a2.55 2.55 0 1 0 -5.1 0M163.9 304.1a2.55 2.55 0 1 0 5.1 0a2.55 2.55 0 1 0 -5.1 0M127.4 291.2a2.55 2.55 0 1 0 5.1 0a2.55 2.55 0 1 0 -5.1 0M133.5 296.0a2.55 2.55 0 1 0 5.1 0a2.55 2.55 0 1 0 -5.1 0M151.3 288.0a2.55 2.55 0 1 0 5.1 0a2.55 2.55 0 1 0 -5.1 0M157.1 276.7a2.55 2.55 0 1 0 5.1 0a2.55 2.55 0 1 0 -5.1 0M166.4 292.6a2.55 2.55 0 1 0 5.1 0a2.55 2.55 0 1 0 -5.1 0M154.8 288.7a2.55 2.55 0 1 0 5.1 0a2.55 2.55 0 1 0 -5.1 0M146.3 280.6a2.55 2.55 0 1 0 5.1 0a2.55 2.55 0 1 0 -5.1 0M137.3 295.1a2.55 2.55 0 1 0 5.1 0a2.55 2.55 0 1 0 -5.1 0M152.7 296.3a2.55 2.55 0 1 0 5.1 0a2.55 2.55 0 1 0 -5.1 0M131.6 297.0a2.55 2.55 0 1 0 5.1 0a2.55 2.55 0 1 0 -5.1 0M132.9 310.0a2.55 2.55 0 1 0 5.1 0a2.55 2.55 0 1 0 -5.1 0M144.3 286.7a2.55 2.55 0 1 0 5.1 0a2.55 2.55 0 1 0 -5.1 0M134.2 286.5a2.55 2.55 0 1 0 5.1 0a2.55 2.55 0 1 0 -5.1 0M169.0 289.0a2.55 2.55 0 1 0 5.1 0a2.55 2.55 0 1 0 -5.1 0M147.0 293.0a2.55 2.55 0 1 0 5.1 0a2.55 2.55 0 1 0 -5.1 0M146.7 291.2a2.55 2.55 0 1 0 5.1 0a2.55 2.55 0 1 0 -5.1 0M147.0 314.1a2.55 2.55 0 1 0 5.1 0a2.55 2.55 0 1 0 -5.1 0M161.7 288.8a2.55 2.55 0 1 0 5.1 0a2.55 2.55 0 1 0 -5.1 0M142.4 301.3a2.55 2.55 0 1 0 5.1 0a2.55 2.55 0 1 0 -5.1 0M160.3 304.3a2.55 2.55 0 1 0 5.1 0a2.55 2.55 0 1 0 -5.1 0M143.2 295.2a2.55 2.55 0 1 0 5.1 0a2.55 2.55 0 1 0 -5.1 0M136.0 279.7a2.55 2.55 0 1 0 5.1 0a2.55 2.55 0 1 0 -5.1 0M136.0 289.6a2.55 2.55 0 1 0 5.1 0a2.55 2.55 0 1 0 -5.1 0M132.7 280.8a2.55 2.55 0 1 0 5.1 0a2.55 2.55 0 1 0 -5.1 0M122.5 289.7a2.55 2.55 0 1 0 5.1 0a2.55 2.55 0 1 0 -5.1 0M132.6 283.8a2.55 2.55 0 1 0 5.1 0a2.55 2.55 0 1 0 -5.1 0M137.9 291.5a2.55 2.55 0 1 0 5.1 0a2.55 2.55 0 1 0 -5.1 0M166.9 286.5a2.55 2.55 0 1 0 5.1 0a2.55 2.55 0 1 0 -5.1 0M144.3 304.7a2.55 2.55 0 1 0 5.1 0a2.55 2.55 0 1 0 -5.1 0M147.7 278.1a2.55 2.55 0 1 0 5.1 0a2.55 2.55 0 1 0 -5.1 0M145.0 274.2a2.55 2.55 0 1 0 5.1 0a2.55 2.55 0 1 0 -5.1 0M132.0 296.5a2.55 2.55 0 1 0 5.1 0a2.55 2.55 0 1 0 -5.1 0M159.3 272.9a2.55 2.55 0 1 0 5.1 0a2.55 2.55 0 1 0 -5.1 0M134.6 286.5a2.55 2.55 0 1 0 5.1 0a2.55 2.55 0 1 0 -5.1 0M144.8 265.3a2.55 2.55 0 1 0 5.1 0a2.55 2.55 0 1 0 -5.1 0M119.9 304.5a2.55 2.55 0 1 0 5.1 0a2.55 2.55 0 1 0 -5.1 0M167.6 282.0a2.55 2.55 0 1 0 5.1 0a2.55 2.55 0 1 0 -5.1 0M151.7 290.4a2.55 2.55 0 1 0 5.1 0a2.55 2.55 0 1 0 -5.1 0M156.9 303.6a2.55 2.55 0 1 0 5.1 0a2.55 2.55 0 1 0 -5.1 0M132.7 268.1a2.55 2.55 0 1 0 5.1 0a2.55 2.55 0 1 0 -5.1 0M173.3 283.6a2.55 2.55 0 1 0 5.1 0a2.55 2.55 0 1 0 -5.1 0M130.8 285.7a2.55 2.55 0 1 0 5.1 0a2.55 2.55 0 1 0 -5.1 0M128.5 313.0a2.55 2.55 0 1 0 5.1 0a2.55 2.55 0 1 0 -5.1 0M165.8 292.2a2.55 2.55 0 1 0 5.1 0a2.55 2.55 0 1 0 -5.1 0M170.7 280.8a2.55 2.55 0 1 0 5.1 0a2.55 2.55 0 1 0 -5.1 0M140.6 295.2a2.55 2.55 0 1 0 5.1 0a2.55 2.55 0 1 0 -5.1 0M139.1 283.4a2.55 2.55 0 1 0 5.1 0a2.55 2.55 0 1 0 -5.1 0M154.6 276.9a2.55 2.55 0 1 0 5.1 0a2.55 2.55 0 1 0 -5.1 0M153.4 281.1a2.55 2.55 0 1 0 5.1 0a2.55 2.55 0 1 0 -5.1 0M169.1 276.4a2.55 2.55 0 1 0 5.1 0a2.55 2.55 0 1 0 -5.1 0M131.0 321.9a2.55 2.55 0 1 0 5.1 0a2.55 2.55 0 1 0 -5.1 0M145.2 285.5a2.55 2.55 0 1 0 5.1 0a2.55 2.55 0 1 0 -5.1 0M152.7 288.7a2.55 2.55 0 1 0 5.1 0a2.55 2.55 0 1 0 -5.1 0M141.3 288.4a2.55 2.55 0 1 0 5.1 0a2.55 2.55 0 1 0 -5.1 0M144.3 297.7a2.55 2.55 0 1 0 5.1 0a2.55 2.55 0 1 0 -5.1 0M145.0 286.0a2.55 2.55 0 1 0 5.1 0a2.55 2.55 0 1 0 -5.1 0M114.3 284.9a2.55 2.55 0 1 0 5.1 0a2.55 2.55 0 1 0 -5.1 0M129.1 318.4a2.55 2.55 0 1 0 5.1 0a2.55 2.55 0 1 0 -5.1 0M160.8 299.0a2.55 2.55 0 1 0 5.1 0a2.55 2.55 0 1 0 -5.1 0M128.4 303.4a2.55 2.55 0 1 0 5.1 0a2.55 2.55 0 1 0 -5.1 0M161.7 281.0a2.55 2.55 0 1 0 5.1 0a2.55 2.55 0 1 0 -5.1 0M119.4 297.0a2.55 2.55 0 1 0 5.1 0a2.55 2.55 0 1 0 -5.1 0M158.6 287.2a2.55 2.55 0 1 0 5.1 0a2.55 2.55 0 1 0 -5.1 0M152.6 290.9a2.55 2.55 0 1 0 5.1 0a2.55 2.55 0 1 0 -5.1 0M139.3 282.4a2.55 2.55 0 1 0 5.1 0a2.55 2.55 0 1 0 -5.1 0M143.5 289.1a2.55 2.55 0 1 0 5.1 0a2.55 2.55 0 1 0 -5.1 0M144.4 268.4a2.55 2.55 0 1 0 5.1 0a2.55 2.55 0 1 0 -5.1 0M156.9 269.9a2.55 2.55 0 1 0 5.1 0a2.55 2.55 0 1 0 -5.1 0M133.2 283.1a2.55 2.55 0 1 0 5.1 0a2.55 2.55 0 1 0 -5.1 0M125.0 286.9a2.55 2.55 0 1 0 5.1 0a2.55 2.55 0 1 0 -5.1 0M138.8 276.7a2.55 2.55 0 1 0 5.1 0a2.55 2.55 0 1 0 -5.1 0M156.4 290.6a2.55 2.55 0 1 0 5.1 0a2.55 2.55 0 1 0 -5.1 0M152.1 298.5a2.55 2.55 0 1 0 5.1 0a2.55 2.55 0 1 0 -5.1 0M125.9 298.6a2.55 2.55 0 1 0 5.1 0a2.55 2.55 0 1 0 -5.1 0M164.9 319.5a2.55 2.55 0 1 0 5.1 0a2.55 2.55 0 1 0 -5.1 0M150.5 287.4a2.55 2.55 0 1 0 5.1 0a2.55 2.55 0 1 0 -5.1 0M139.6 297.7a2.55 2.55 0 1 0 5.1 0a2.55 2.55 0 1 0 -5.1 0M162.3 289.3a2.55 2.55 0 1 0 5.1 0a2.55 2.55 0 1 0 -5.1 0M138.7 284.0a2.55 2.55 0 1 0 5.1 0a2.55 2.55 0 1 0 -5.1 0M150.6 279.5a2.55 2.55 0 1 0 5.1 0a2.55 2.55 0 1 0 -5.1 0M152.1 293.9a2.55 2.55 0 1 0 5.1 0a2.55 2.55 0 1 0 -5.1 0M150.3 291.1a2.55 2.55 0 1 0 5.1 0a2.55 2.55 0 1 0 -5.1 0M165.9 290.0a2.55 2.55 0 1 0 5.1 0a2.55 2.55 0 1 0 -5.1 0M143.3 294.2a2.55 2.55 0 1 0 5.1 0a2.55 2.55 0 1 0 -5.1 0M169.3 304.2a2.55 2.55 0 1 0 5.1 0a2.55 2.55 0 1 0 -5.1 0M127.8 302.1a2.55 2.55 0 1 0 5.1 0a2.55 2.55 0 1 0 -5.1 0M141.9 274.0a2.55 2.55 0 1 0 5.1 0a2.55 2.55 0 1 0 -5.1 0M131.2 304.5a2.55 2.55 0 1 0 5.1 0a2.55 2.55 0 1 0 -5.1 0M138.8 290.5a2.55 2.55 0 1 0 5.1 0a2.55 2.55 0 1 0 -5.1 0M130.0 305.0a2.55 2.55 0 1 0 5.1 0a2.55 2.55 0 1 0 -5.1 0M144.7 274.1a2.55 2.55 0 1 0 5.1 0a2.55 2.55 0 1 0 -5.1 0M118.1 299.5a2.55 2.55 0 1 0 5.1 0a2.55 2.55 0 1 0 -5.1 0M138.2 292.2a2.55 2.55 0 1 0 5.1 0a2.55 2.55 0 1 0 -5.1 0M147.7 297.8a2.55 2.55 0 1 0 5.1 0a2.55 2.55 0 1 0 -5.1 0M150.8 273.3a2.55 2.55 0 1 0 5.1 0a2.55 2.55 0 1 0 -5.1 0M167.8 276.7a2.55 2.55 0 1 0 5.1 0a2.55 2.55 0 1 0 -5.1 0M140.3 292.8a2.55 2.55 0 1 0 5.1 0a2.55 2.55 0 1 0 -5.1 0M152.5 293.5a2.55 2.55 0 1 0 5.1 0a2.55 2.55 0 1 0 -5.1 0M149.1 288.7a2.55 2.55 0 1 0 5.1 0a2.55 2.55 0 1 0 -5.1 0M132.8 302.8a2.55 2.55 0 1 0 5.1 0a2.55 2.55 0 1 0 -5.1 0M143.2 307.4a2.55 2.55 0 1 0 5.1 0a2.55 2.55 0 1 0 -5.1 0M124.4 282.0a2.55 2.55 0 1 0 5.1 0a2.55 2.55 0 1 0 -5.1 0M152.9 294.2a2.55 2.55 0 1 0 5.1 0a2.55 2.55 0 1 0 -5.1 0M140.6 280.9a2.55 2.55 0 1 0 5.1 0a2.55 2.55 0 1 0 -5.1 0M166.0 289.3a2.55 2.55 0 1 0 5.1 0a2.55 2.55 0 1 0 -5.1 0M127.2 310.5a2.55 2.55 0 1 0 5.1 0a2.55 2.55 0 1 0 -5.1 0M141.6 270.8a2.55 2.55 0 1 0 5.1 0a2.55 2.55 0 1 0 -5.1 0M140.3 293.7a2.55 2.55 0 1 0 5.1 0a2.55 2.55 0 1 0 -5.1 0M123.1 301.3a2.55 2.55 0 1 0 5.1 0a2.55 2.55 0 1 0 -5.1 0M144.5 294.2a2.55 2.55 0 1 0 5.1 0a2.55 2.55 0 1 0 -5.1 0M164.8 288.2a2.55 2.55 0 1 0 5.1 0a2.55 2.55 0 1 0 -5.1 0M150.6 300.8a2.55 2.55 0 1 0 5.1 0a2.55 2.55 0 1 0 -5.1 0M139.4 284.3a2.55 2.55 0 1 0 5.1 0a2.55 2.55 0 1 0 -5.1 0M162.2 274.6a2.55 2.55 0 1 0 5.1 0a2.55 2.55 0 1 0 -5.1 0M148.8 294.4a2.55 2.55 0 1 0 5.1 0a2.55 2.55 0 1 0 -5.1 0M142.6 279.8a2.55 2.55 0 1 0 5.1 0a2.55 2.55 0 1 0 -5.1 0M145.0 280.9a2.55 2.55 0 1 0 5.1 0a2.55 2.55 0 1 0 -5.1 0M134.4 293.8a2.55 2.55 0 1 0 5.1 0a2.55 2.55 0 1 0 -5.1 0M157.9 290.0a2.55 2.55 0 1 0 5.1 0a2.55 2.55 0 1 0 -5.1 0M123.4 291.1a2.55 2.55 0 1 0 5.1 0a2.55 2.55 0 1 0 -5.1 0M140.0 288.9a2.55 2.55 0 1 0 5.1 0a2.55 2.55 0 1 0 -5.1 0M136.1 297.5a2.55 2.55 0 1 0 5.1 0a2.55 2.55 0 1 0 -5.1 0M136.0 300.4a2.55 2.55 0 1 0 5.1 0a2.55 2.55 0 1 0 -5.1 0M151.1 294.6a2.55 2.55 0 1 0 5.1 0a2.55 2.55 0 1 0 -5.1 0M145.0 288.0a2.55 2.55 0 1 0 5.1 0a2.55 2.55 0 1 0 -5.1 0M137.1 286.0a2.55 2.55 0 1 0 5.1 0a2.55 2.55 0 1 0 -5.1 0M142.7 298.8a2.55 2.55 0 1 0 5.1 0a2.55 2.55 0 1 0 -5.1 0M135.6 263.9a2.55 2.55 0 1 0 5.1 0a2.55 2.55 0 1 0 -5.1 0M138.4 281.7a2.55 2.55 0 1 0 5.1 0a2.55 2.55 0 1 0 -5.1 0M140.2 284.5a2.55 2.55 0 1 0 5.1 0a2.55 2.55 0 1 0 -5.1 0M146.8 288.1a2.55 2.55 0 1 0 5.1 0a2.55 2.55 0 1 0 -5.1 0M157.5 272.1a2.55 2.55 0 1 0 5.1 0a2.55 2.55 0 1 0 -5.1 0M127.5 302.5a2.55 2.55 0 1 0 5.1 0a2.55 2.55 0 1 0 -5.1 0M140.2 299.1a2.55 2.55 0 1 0 5.1 0a2.55 2.55 0 1 0 -5.1 0M143.4 301.5a2.55 2.55 0 1 0 5.1 0a2.55 2.55 0 1 0 -5.1 0M115.0 304.8a2.55 2.55 0 1 0 5.1 0a2.55 2.55 0 1 0 -5.1 0M142.7 294.5a2.55 2.55 0 1 0 5.1 0a2.55 2.55 0 1 0 -5.1 0M121.5 289.9a2.55 2.55 0 1 0 5.1 0a2.55 2.55 0 1 0 -5.1 0M162.1 297.0a2.55 2.55 0 1 0 5.1 0a2.55 2.55 0 1 0 -5.1 0M139.3 299.9a2.55 2.55 0 1 0 5.1 0a2.55 2.55 0 1 0 -5.1 0M132.2 312.3a2.55 2.55 0 1 0 5.1 0a2.55 2.55 0 1 0 -5.1 0M138.1 275.2a2.55 2.55 0 1 0 5.1 0a2.55 2.55 0 1 0 -5.1 0M122.9 280.1a2.55 2.55 0 1 0 5.1 0a2.55 2.55 0 1 0 -5.1 0M142.5 303.6a2.55 2.55 0 1 0 5.1 0a2.55 2.55 0 1 0 -5.1 0M130.6 295.2a2.55 2.55 0 1 0 5.1 0a2.55 2.55 0 1 0 -5.1 0M111.5 302.9a2.55 2.55 0 1 0 5.1 0a2.55 2.55 0 1 0 -5.1 0M128.1 275.4a2.55 2.55 0 1 0 5.1 0a2.55 2.55 0 1 0 -5.1 0M128.4 282.3a2.55 2.55 0 1 0 5.1 0a2.55 2.55 0 1 0 -5.1 0M154.0 278.4a2.55 2.55 0 1 0 5.1 0a2.55 2.55 0 1 0 -5.1 0M151.1 297.5a2.55 2.55 0 1 0 5.1 0a2.55 2.55 0 1 0 -5.1 0M140.0 279.3a2.55 2.55 0 1 0 5.1 0a2.55 2.55 0 1 0 -5.1 0M155.7 294.2a2.55 2.55 0 1 0 5.1 0a2.55 2.55 0 1 0 -5.1 0M150.8 278.9a2.55 2.55 0 1 0 5.1 0a2.55 2.55 0 1 0 -5.1 0M129.5 307.7a2.55 2.55 0 1 0 5.1 0a2.55 2.55 0 1 0 -5.1 0M138.1 299.3a2.55 2.55 0 1 0 5.1 0a2.55 2.55 0 1 0 -5.1 0M153.0 269.1a2.55 2.55 0 1 0 5.1 0a2.55 2.55 0 1 0 -5.1 0M123.5 284.0a2.55 2.55 0 1 0 5.1 0a2.55 2.55 0 1 0 -5.1 0M123.7 275.2a2.55 2.55 0 1 0 5.1 0a2.55 2.55 0 1 0 -5.1 0M176.1 285.2a2.55 2.55 0 1 0 5.1 0a2.55 2.55 0 1 0 -5.1 0M150.3 302.3a2.55 2.55 0 1 0 5.1 0a2.55 2.55 0 1 0 -5.1 0M139.0 293.8a2.55 2.55 0 1 0 5.1 0a2.55 2.55 0 1 0 -5.1 0M144.5 289.0a2.55 2.55 0 1 0 5.1 0a2.55 2.55 0 1 0 -5.1 0M154.9 293.7a2.55 2.55 0 1 0 5.1 0a2.55 2.55 0 1 0 -5.1 0M123.1 297.9a2.55 2.55 0 1 0 5.1 0a2.55 2.55 0 1 0 -5.1 0M137.9 293.3a2.55 2.55 0 1 0 5.1 0a2.55 2.55 0 1 0 -5.1 0M150.2 286.2a2.55 2.55 0 1 0 5.1 0a2.55 2.55 0 1 0 -5.1 0M173.3 282.7a2.55 2.55 0 1 0 5.1 0a2.55 2.55 0 1 0 -5.1 0M129.0 286.6a2.55 2.55 0 1 0 5.1 0a2.55 2.55 0 1 0 -5.1 0M146.9 311.4a2.55 2.55 0 1 0 5.1 0a2.55 2.55 0 1 0 -5.1 0M127.9 280.5a2.55 2.55 0 1 0 5.1 0a2.55 2.55 0 1 0 -5.1 0M130.6 273.7a2.55 2.55 0 1 0 5.1 0a2.55 2.55 0 1 0 -5.1 0M126.3 287.1a2.55 2.55 0 1 0 5.1 0a2.55 2.55 0 1 0 -5.1 0M135.4 280.0a2.55 2.55 0 1 0 5.1 0a2.55 2.55 0 1 0 -5.1 0M139.9 286.2a2.55 2.55 0 1 0 5.1 0a2.55 2.55 0 1 0 -5.1 0M158.1 290.5a2.55 2.55 0 1 0 5.1 0a2.55 2.55 0 1 0 -5.1 0M136.8 276.2a2.55 2.55 0 1 0 5.1 0a2.55 2.55 0 1 0 -5.1 0M125.6 288.1a2.55 2.55 0 1 0 5.1 0a2.55 2.55 0 1 0 -5.1 0M168.9 275.9a2.55 2.55 0 1 0 5.1 0a2.55 2.55 0 1 0 -5.1 0M132.5 290.7a2.55 2.55 0 1 0 5.1 0a2.55 2.55 0 1 0 -5.1 0M165.8 305.9a2.55 2.55 0 1 0 5.1 0a2.55 2.55 0 1 0 -5.1 0M151.8 293.7a2.55 2.55 0 1 0 5.1 0a2.55 2.55 0 1 0 -5.1 0M144.1 269.9a2.55 2.55 0 1 0 5.1 0a2.55 2.55 0 1 0 -5.1 0M120.5 296.0a2.55 2.55 0 1 0 5.1 0a2.55 2.55 0 1 0 -5.1 0M142.6 280.9a2.55 2.55 0 1 0 5.1 0a2.55 2.55 0 1 0 -5.1 0M149.6 298.2a2.55 2.55 0 1 0 5.1 0a2.55 2.55 0 1 0 -5.1 0M163.6 287.8a2.55 2.55 0 1 0 5.1 0a2.55 2.55 0 1 0 -5.1 0M156.0 290.1a2.55 2.55 0 1 0 5.1 0a2.55 2.55 0 1 0 -5.1 0M138.0 280.0a2.55 2.55 0 1 0 5.1 0a2.55 2.55 0 1 0 -5.1 0M171.9 290.7a2.55 2.55 0 1 0 5.1 0a2.55 2.55 0 1 0 -5.1 0M136.9 285.2a2.55 2.55 0 1 0 5.1 0a2.55 2.55 0 1 0 -5.1 0M147.8 296.6a2.55 2.55 0 1 0 5.1 0a2.55 2.55 0 1 0 -5.1 0M138.8 313.9a2.55 2.55 0 1 0 5.1 0a2.55 2.55 0 1 0 -5.1 0M154.2 281.5a2.55 2.55 0 1 0 5.1 0a2.55 2.55 0 1 0 -5.1 0M169.7 305.6a2.55 2.55 0 1 0 5.1 0a2.55 2.55 0 1 0 -5.1 0M134.1 290.4a2.55 2.55 0 1 0 5.1 0a2.55 2.55 0 1 0 -5.1 0M172.9 274.1a2.55 2.55 0 1 0 5.1 0a2.55 2.55 0 1 0 -5.1 0M146.0 283.3a2.55 2.55 0 1 0 5.1 0a2.55 2.55 0 1 0 -5.1 0M153.9 274.3a2.55 2.55 0 1 0 5.1 0a2.55 2.55 0 1 0 -5.1 0M161.5 264.6a2.55 2.55 0 1 0 5.1 0a2.55 2.55 0 1 0 -5.1 0M122.2 276.1a2.55 2.55 0 1 0 5.1 0a2.55 2.55 0 1 0 -5.1 0M135.7 313.7a2.55 2.55 0 1 0 5.1 0a2.55 2.55 0 1 0 -5.1 0M161.6 281.4a2.55 2.55 0 1 0 5.1 0a2.55 2.55 0 1 0 -5.1 0M144.8 296.3a2.55 2.55 0 1 0 5.1 0a2.55 2.55 0 1 0 -5.1 0M130.2 287.9a2.55 2.55 0 1 0 5.1 0a2.55 2.55 0 1 0 -5.1 0M153.0 281.6a2.55 2.55 0 1 0 5.1 0a2.55 2.55 0 1 0 -5.1 0M131.1 296.6a2.55 2.55 0 1 0 5.1 0a2.55 2.55 0 1 0 -5.1 0M137.0 284.3a2.55 2.55 0 1 0 5.1 0a2.55 2.55 0 1 0 -5.1 0M144.2 285.2a2.55 2.55 0 1 0 5.1 0a2.55 2.55 0 1 0 -5.1 0M120.7 278.8a2.55 2.55 0 1 0 5.1 0a2.55 2.55 0 1 0 -5.1 0M150.0 277.0a2.55 2.55 0 1 0 5.1 0a2.55 2.55 0 1 0 -5.1 0M118.4 295.9a2.55 2.55 0 1 0 5.1 0a2.55 2.55 0 1 0 -5.1 0M153.7 278.8a2.55 2.55 0 1 0 5.1 0a2.55 2.55 0 1 0 -5.1 0M124.1 298.0a2.55 2.55 0 1 0 5.1 0a2.55 2.55 0 1 0 -5.1 0M145.1 313.3a2.55 2.55 0 1 0 5.1 0a2.55 2.55 0 1 0 -5.1 0M141.1 308.5a2.55 2.55 0 1 0 5.1 0a2.55 2.55 0 1 0 -5.1 0M170.1 279.8a2.55 2.55 0 1 0 5.1 0a2.55 2.55 0 1 0 -5.1 0M170.9 302.5a2.55 2.55 0 1 0 5.1 0a2.55 2.55 0 1 0 -5.1 0M139.4 310.8a2.55 2.55 0 1 0 5.1 0a2.55 2.55 0 1 0 -5.1 0M141.7 275.1a2.55 2.55 0 1 0 5.1 0a2.55 2.55 0 1 0 -5.1 0M153.7 283.2a2.55 2.55 0 1 0 5.1 0a2.55 2.55 0 1 0 -5.1 0M137.2 302.6a2.55 2.55 0 1 0 5.1 0a2.55 2.55 0 1 0 -5.1 0M137.9 278.3a2.55 2.55 0 1 0 5.1 0a2.55 2.55 0 1 0 -5.1 0M143.6 285.5a2.55 2.55 0 1 0 5.1 0a2.55 2.55 0 1 0 -5.1 0M141.8 304.6a2.55 2.55 0 1 0 5.1 0a2.55 2.55 0 1 0 -5.1 0M138.7 271.7a2.55 2.55 0 1 0 5.1 0a2.55 2.55 0 1 0 -5.1 0M149.8 311.0a2.55 2.55 0 1 0 5.1 0a2.55 2.55 0 1 0 -5.1 0M155.6 293.9a2.55 2.55 0 1 0 5.1 0a2.55 2.55 0 1 0 -5.1 0M174.6 278.5a2.55 2.55 0 1 0 5.1 0a2.55 2.55 0 1 0 -5.1 0M148.5 284.7a2.55 2.55 0 1 0 5.1 0a2.55 2.55 0 1 0 -5.1 0M124.2 295.9a2.55 2.55 0 1 0 5.1 0a2.55 2.55 0 1 0 -5.1 0M134.7 291.4a2.55 2.55 0 1 0 5.1 0a2.55 2.55 0 1 0 -5.1 0M132.3 296.8a2.55 2.55 0 1 0 5.1 0a2.55 2.55 0 1 0 -5.1 0M143.3 297.1a2.55 2.55 0 1 0 5.1 0a2.55 2.55 0 1 0 -5.1 0M164.5 278.8a2.55 2.55 0 1 0 5.1 0a2.55 2.55 0 1 0 -5.1 0M152.1 285.4a2.55 2.55 0 1 0 5.1 0a2.55 2.55 0 1 0 -5.1 0M144.0 285.9a2.55 2.55 0 1 0 5.1 0a2.55 2.55 0 1 0 -5.1 0M141.0 288.5a2.55 2.55 0 1 0 5.1 0a2.55 2.55 0 1 0 -5.1 0M142.0 274.9a2.55 2.55 0 1 0 5.1 0a2.55 2.55 0 1 0 -5.1 0M127.2 310.7a2.55 2.55 0 1 0 5.1 0a2.55 2.55 0 1 0 -5.1 0M132.2 293.7a2.55 2.55 0 1 0 5.1 0a2.55 2.55 0 1 0 -5.1 0M134.9 300.4a2.55 2.55 0 1 0 5.1 0a2.55 2.55 0 1 0 -5.1 0M162.8 289.2a2.55 2.55 0 1 0 5.1 0a2.55 2.55 0 1 0 -5.1 0M140.0 288.1a2.55 2.55 0 1 0 5.1 0a2.55 2.55 0 1 0 -5.1 0M129.1 297.9a2.55 2.55 0 1 0 5.1 0a2.55 2.55 0 1 0 -5.1 0M136.0 288.3a2.55 2.55 0 1 0 5.1 0a2.55 2.55 0 1 0 -5.1 0M167.0 292.6a2.55 2.55 0 1 0 5.1 0a2.55 2.55 0 1 0 -5.1 0M150.7 301.6a2.55 2.55 0 1 0 5.1 0a2.55 2.55 0 1 0 -5.1 0M166.4 284.0a2.55 2.55 0 1 0 5.1 0a2.55 2.55 0 1 0 -5.1 0M126.0 307.5a2.55 2.55 0 1 0 5.1 0a2.55 2.55 0 1 0 -5.1 0M163.3 286.5a2.55 2.55 0 1 0 5.1 0a2.55 2.55 0 1 0 -5.1 0M161.6 299.4a2.55 2.55 0 1 0 5.1 0a2.55 2.55 0 1 0 -5.1 0M153.1 281.2a2.55 2.55 0 1 0 5.1 0a2.55 2.55 0 1 0 -5.1 0M146.9 280.2a2.55 2.55 0 1 0 5.1 0a2.55 2.55 0 1 0 -5.1 0M163.2 283.0a2.55 2.55 0 1 0 5.1 0a2.55 2.55 0 1 0 -5.1 0M153.4 287.3a2.55 2.55 0 1 0 5.1 0a2.55 2.55 0 1 0 -5.1 0M165.7 291.9a2.55 2.55 0 1 0 5.1 0a2.55 2.55 0 1 0 -5.1 0M127.5 308.0a2.55 2.55 0 1 0 5.1 0a2.55 2.55 0 1 0 -5.1 0M141.3 285.3a2.55 2.55 0 1 0 5.1 0a2.55 2.55 0 1 0 -5.1 0M142.7 291.1a2.55 2.55 0 1 0 5.1 0a2.55 2.55 0 1 0 -5.1 0M148.2 283.8a2.55 2.55 0 1 0 5.1 0a2.55 2.55 0 1 0 -5.1 0M160.2 295.1a2.55 2.55 0 1 0 5.1 0a2.55 2.55 0 1 0 -5.1 0M150.2 279.0a2.55 2.55 0 1 0 5.1 0a2.55 2.55 0 1 0 -5.1 0M148.6 286.4a2.55 2.55 0 1 0 5.1 0a2.55 2.55 0 1 0 -5.1 0M140.9 283.1a2.55 2.55 0 1 0 5.1 0a2.55 2.55 0 1 0 -5.1 0M161.0 285.5a2.55 2.55 0 1 0 5.1 0a2.55 2.55 0 1 0 -5.1 0M137.4 293.3a2.55 2.55 0 1 0 5.1 0a2.55 2.55 0 1 0 -5.1 0M128.6 296.1a2.55 2.55 0 1 0 5.1 0a2.55 2.55 0 1 0 -5.1 0M162.4 285.8a2.55 2.55 0 1 0 5.1 0a2.55 2.55 0 1 0 -5.1 0M169.5 289.4a2.55 2.55 0 1 0 5.1 0a2.55 2.55 0 1 0 -5.1 0M141.9 279.0a2.55 2.55 0 1 0 5.1 0a2.55 2.55 0 1 0 -5.1 0M160.0 276.1a2.55 2.55 0 1 0 5.1 0a2.55 2.55 0 1 0 -5.1 0M155.0 284.9a2.55 2.55 0 1 0 5.1 0a2.55 2.55 0 1 0 -5.1 0M155.4 289.9a2.55 2.55 0 1 0 5.1 0a2.55 2.55 0 1 0 -5.1 0M127.8 308.3a2.55 2.55 0 1 0 5.1 0a2.55 2.55 0 1 0 -5.1 0M162.6 297.6a2.55 2.55 0 1 0 5.1 0a2.55 2.55 0 1 0 -5.1 0M153.9 283.5a2.55 2.55 0 1 0 5.1 0a2.55 2.55 0 1 0 -5.1 0M141.6 280.9a2.55 2.55 0 1 0 5.1 0a2.55 2.55 0 1 0 -5.1 0M139.9 287.7a2.55 2.55 0 1 0 5.1 0a2.55 2.55 0 1 0 -5.1 0M133.6 291.8a2.55 2.55 0 1 0 5.1 0a2.55 2.55 0 1 0 -5.1 0M130.9 301.2a2.55 2.55 0 1 0 5.1 0a2.55 2.55 0 1 0 -5.1 0M123.8 289.8a2.55 2.55 0 1 0 5.1 0a2.55 2.55 0 1 0 -5.1 0M163.1 279.2a2.55 2.55 0 1 0 5.1 0a2.55 2.55 0 1 0 -5.1 0M145.9 285.6a2.55 2.55 0 1 0 5.1 0a2.55 2.55 0 1 0 -5.1 0M157.8 274.8a2.55 2.55 0 1 0 5.1 0a2.55 2.55 0 1 0 -5.1 0M123.5 287.7a2.55 2.55 0 1 0 5.1 0a2.55 2.55 0 1 0 -5.1 0M156.5 284.8a2.55 2.55 0 1 0 5.1 0a2.55 2.55 0 1 0 -5.1 0M142.8 272.2a2.55 2.55 0 1 0 5.1 0a2.55 2.55 0 1 0 -5.1 0M162.6 276.4a2.55 2.55 0 1 0 5.1 0a2.55 2.55 0 1 0 -5.1 0M158.4 286.8a2.55 2.55 0 1 0 5.1 0a2.55 2.55 0 1 0 -5.1 0M148.8 265.1a2.55 2.55 0 1 0 5.1 0a2.55 2.55 0 1 0 -5.1 0M134.5 292.9a2.55 2.55 0 1 0 5.1 0a2.55 2.55 0 1 0 -5.1 0M134.8 293.2a2.55 2.55 0 1 0 5.1 0a2.55 2.55 0 1 0 -5.1 0M159.9 294.3a2.55 2.55 0 1 0 5.1 0a2.55 2.55 0 1 0 -5.1 0M163.9 282.9a2.55 2.55 0 1 0 5.1 0a2.55 2.55 0 1 0 -5.1 0M130.8 286.9a2.55 2.55 0 1 0 5.1 0a2.55 2.55 0 1 0 -5.1 0M142.3 296.1a2.55 2.55 0 1 0 5.1 0a2.55 2.55 0 1 0 -5.1 0M147.1 290.0a2.55 2.55 0 1 0 5.1 0a2.55 2.55 0 1 0 -5.1 0M162.7 295.1a2.55 2.55 0 1 0 5.1 0a2.55 2.55 0 1 0 -5.1 0M144.9 286.3a2.55 2.55 0 1 0 5.1 0a2.55 2.55 0 1 0 -5.1 0M165.8 276.5a2.55 2.55 0 1 0 5.1 0a2.55 2.55 0 1 0 -5.1 0M113.8 294.3a2.55 2.55 0 1 0 5.1 0a2.55 2.55 0 1 0 -5.1 0M137.9 289.0a2.55 2.55 0 1 0 5.1 0a2.55 2.55 0 1 0 -5.1 0M143.8 272.2a2.55 2.55 0 1 0 5.1 0a2.55 2.55 0 1 0 -5.1 0M144.4 296.8a2.55 2.55 0 1 0 5.1 0a2.55 2.55 0 1 0 -5.1 0M155.9 272.8a2.55 2.55 0 1 0 5.1 0a2.55 2.55 0 1 0 -5.1 0M143.1 305.5a2.55 2.55 0 1 0 5.1 0a2.55 2.55 0 1 0 -5.1 0M125.4 300.6a2.55 2.55 0 1 0 5.1 0a2.55 2.55 0 1 0 -5.1 0M139.7 275.8a2.55 2.55 0 1 0 5.1 0a2.55 2.55 0 1 0 -5.1 0M136.1 285.4a2.55 2.55 0 1 0 5.1 0a2.55 2.55 0 1 0 -5.1 0M157.1 282.9a2.55 2.55 0 1 0 5.1 0a2.55 2.55 0 1 0 -5.1 0" fill="none" stroke="#0a0a80" stroke-width="1.6"/>
<path d="M45.4 319.6a2.55 2.55 0 1 0 5.1 0a2.55 2.55 0 1 0 -5.1 0M50.4 314.7a2.55 2.55 0 1 0 5.1 0a2.55 2.55 0 1 0 -5.1 0M53.1 328.8a2.55 2.55 0 1 0 5.1 0a2.55 2.55 0 1 0 -5.1 0M60.8 331.8a2.55 2.55 0 1 0 5.1 0a2.55 2.55 0 1 0 -5.1 0M63.5 334.1a2.55 2.55 0 1 0 5.1 0a2.55 2.55 0 1 0 -5.1 0M64.9 343.2a2.55 2.55 0 1 0 5.1 0a2.55 2.55 0 1 0 -5.1 0M71.7 334.1a2.55 2.55 0 1 0 5.1 0a2.55 2.55 0 1 0 -5.1 0M67.6 305.6a2.55 2.55 0 1 0 5.1 0a2.55 2.55 0 1 0 -5.1 0M76.7 313.6a2.55 2.55 0 1 0 5.1 0a2.55 2.55 0 1 0 -5.1 0M80.7 337.5a2.55 2.55 0 1 0 5.1 0a2.55 2.55 0 1 0 -5.1 0M98.0 335.2a2.55 2.55 0 1 0 5.1 0a2.55 2.55 0 1 0 -5.1 0M108.4 339.8a2.55 2.55 0 1 0 5.1 0a2.55 2.55 0 1 0 -5.1 0M74.4 291.9a2.55 2.55 0 1 0 5.1 0a2.55 2.55 0 1 0 -5.1 0M47.2 323.8a2.55 2.55 0 1 0 5.1 0a2.55 2.55 0 1 0 -5.1 0M56.3 317.0a2.55 2.55 0 1 0 5.1 0a2.55 2.55 0 1 0 -5.1 0M65.3 323.8a2.55 2.55 0 1 0 5.1 0a2.55 2.55 0 1 0 -5.1 0M72.1 320.4a2.55 2.55 0 1 0 5.1 0a2.55 2.55 0 1 0 -5.1 0M83.5 326.1a2.55 2.55 0 1 0 5.1 0a2.55 2.55 0 1 0 -5.1 0M88.0 303.3a2.55 2.55 0 1 0 5.1 0a2.55 2.55 0 1 0 -5.1 0M78.9 309.0a2.55 2.55 0 1 0 5.1 0a2.55 2.55 0 1 0 -5.1 0M49.5 331.8a2.55 2.55 0 1 0 5.1 0a2.55 2.55 0 1 0 -5.1 0M58.5 337.5a2.55 2.55 0 1 0 5.1 0a2.55 2.55 0 1 0 -5.1 0M69.0 328.4a2.55 2.55 0 1 0 5.1 0a2.55 2.55 0 1 0 -5.1 0M64.0 342.9a2.55 2.55 0 1 0 5.1 0a2.55 2.55 0 1 0 -5.1 0M64.9 348.4a2.55 2.55 0 1 0 5.1 0a2.55 2.55 0 1 0 -5.1 0M78.1 328.7a2.55 2.55 0 1 0 5.1 0a2.55 2.55 0 1 0 -5.1 0M73.8 327.8a2.55 2.55 0 1 0 5.1 0a2.55 2.55 0 1 0 -5.1 0M78.6 314.4a2.55 2.55 0 1 0 5.1 0a2.55 2.55 0 1 0 -5.1 0M84.0 314.1a2.55 2.55 0 1 0 5.1 0a2.55 2.55 0 1 0 -5.1 0M88.0 308.7a2.55 2.55 0 1 0 5.1 0a2.55 2.55 0 1 0 -5.1 0M73.7 335.1a2.55 2.55 0 1 0 5.1 0a2.55 2.55 0 1 0 -5.1 0M79.6 295.7a2.55 2.55 0 1 0 5.1 0a2.55 2.55 0 1 0 -5.1 0M94.0 315.0a2.55 2.55 0 1 0 5.1 0a2.55 2.55 0 1 0 -5.1 0M82.0 314.2a2.55 2.55 0 1 0 5.1 0a2.55 2.55 0 1 0 -5.1 0M74.6 327.3a2.55 2.55 0 1 0 5.1 0a2.55 2.55 0 1 0 -5.1 0M96.2 332.9a2.55 2.55 0 1 0 5.1 0a2.55 2.55 0 1 0 -5.1 0M81.7 305.2a2.55 2.55 0 1 0 5.1 0a2.55 2.55 0 1 0 -5.1 0M86.7 303.9a2.55 2.55 0 1 0 5.1 0a2.55 2.55 0 1 0 -5.1 0M96.8 327.8a2.55 2.55 0 1 0 5.1 0a2.55 2.55 0 1 0 -5.1 0M93.6 294.0a2.55 2.55 0 1 0 5.1 0a2.55 2.55 0 1 0 -5.1 0M77.4 325.7a2.55 2.55 0 1 0 5.1 0a2.55 2.55 0 1 0 -5.1 0M79.2 297.5a2.55 2.55 0 1 0 5.1 0a2.55 2.55 0 1 0 -5.1 0M92.1 318.4a2.55 2.55 0 1 0 5.1 0a2.55 2.55 0 1 0 -5.1 0M79.5 315.4a2.55 2.55 0 1 0 5.1 0a2.55 2.55 0 1 0 -5.1 0M73.3 313.8a2.55 2.55 0 1 0 5.1 0a2.55 2.55 0 1 0 -5.1 0M94.1 304.7a2.55 2.55 0 1 0 5.1 0a2.55 2.55 0 1 0 -5.1 0M74.1 318.2a2.55 2.55 0 1 0 5.1 0a2.55 2.55 0 1 0 -5.1 0M77.1 331.2a2.55 2.55 0 1 0 5.1 0a2.55 2.55 0 1 0 -5.1 0M93.8 315.3a2.55 2.55 0 1 0 5.1 0a2.55 2.55 0 1 0 -5.1 0M94.5 327.2a2.55 2.55 0 1 0 5.1 0a2.55 2.55 0 1 0 -5.1 0M87.0 320.2a2.55 2.55 0 1 0 5.1 0a2.55 2.55 0 1 0 -5.1 0M95.6 330.2a2.55 2.55 0 1 0 5.1 0a2.55 2.55 0 1 0 -5.1 0M79.6 326.4a2.55 2.55 0 1 0 5.1 0a2.55 2.55 0 1 0 -5.1 0M85.8 306.3a2.55 2.55 0 1 0 5.1 0a2.55 2.55 0 1 0 -5.1 0M87.5 319.2a2.55 2.55 0 1 0 5.1 0a2.55 2.55 0 1 0 -5.1 0M87.8 334.9a2.55 2.55 0 1 0 5.1 0a2.55 2.55 0 1 0 -5.1 0M90.5 303.8a2.55 2.55 0 1 0 5.1 0a2.55 2.55 0 1 0 -5.1 0M89.0 309.7a2.55 2.55 0 1 0 5.1 0a2.55 2.55 0 1 0 -5.1 0M80.1 314.0a2.55 2.55 0 1 0 5.1 0a2.55 2.55 0 1 0 -5.1 0M81.3 326.1a2.55 2.55 0 1 0 5.1 0a2.55 2.55 0 1 0 -5.1 0M72.8 304.4a2.55 2.55 0 1 0 5.1 0a2.55 2.55 0 1 0 -5.1 0M79.9 314.6a2.55 2.55 0 1 0 5.1 0a2.55 2.55 0 1 0 -5.1 0M83.0 310.8a2.55 2.55 0 1 0 5.1 0a2.55 2.55 0 1 0 -5.1 0M80.2 329.0a2.55 2.55 0 1 0 5.1 0a2.55 2.55 0 1 0 -5.1 0M76.4 309.7a2.55 2.55 0 1 0 5.1 0a2.55 2.55 0 1 0 -5.1 0M94.2 325.9a2.55 2.55 0 1 0 5.1 0a2.55 2.55 0 1 0 -5.1 0M76.9 308.5a2.55 2.55 0 1 0 5.1 0a2.55 2.55 0 1 0 -5.1 0M76.7 321.8a2.55 2.55 0 1 0 5.1 0a2.55 2.55 0 1 0 -5.1 0M80.7 334.2a2.55 2.55 0 1 0 5.1 0a2.55 2.55 0 1 0 -5.1 0M91.9 319.5a2.55 2.55 0 1 0 5.1 0a2.55 2.55 0 1 0 -5.1 0M130.8 296.2a2.55 2.55 0 1 0 5.1 0a2.55 2.55 0 1 0 -5.1 0M159.7 300.8a2.55 2.55 0 1 0 5.1 0a2.55 2.55 0 1 0 -5.1 0M146.2 290.3a2.55 2.55 0 1 0 5.1 0a2.55 2.55 0 1 0 -5.1 0M127.1 305.9a2.55 2.55 0 1 0 5.1 0a2.55 2.55 0 1 0 -5.1 0M139.4 308.8a2.55 2.55 0 1 0 5.1 0a2.55 2.55 0 1 0 -5.1 0M143.8 293.0a2.55 2.55 0 1 0 5.1 0a2.55 2.55 0 1 0 -5.1 0M155.2 302.4a2.55 2.55 0 1 0 5.1 0a2.55 2.55 0 1 0 -5.1 0M124.7 313.9a2.55 2.55 0 1 0 5.1 0a2.55 2.55 0 1 0 -5.1 0M131.1 284.9a2.55 2.55 0 1 0 5.1 0a2.55 2.55 0 1 0 -5.1 0M152.5 291.1a2.55 2.55 0 1 0 5.1 0a2.55 2.55 0 1 0 -5.1 0M127.7 298.4a2.55 2.55 0 1 0 5.1 0a2.55 2.55 0 1 0 -5.1 0M148.5 309.5a2.55 2.55 0 1 0 5.1 0a2.55 2.55 0 1 0 -5.1 0M150.2 280.1a2.55 2.55 0 1 0 5.1 0a2.55 2.55 0 1 0 -5.1 0M122.9 308.7a2.55 2.55 0 1 0 5.1 0a2.55 2.55 0 1 0 -5.1 0M131.5 329.1a2.55 2.55 0 1 0 5.1 0a2.55 2.55 0 1 0 -5.1 0M111.8 306.7a2.55 2.55 0 1 0 5.1 0a2.55 2.55 0 1 0 -5.1 0M162.8 295.2a2.55 2.55 0 1 0 5.1 0a2.55 2.55 0 1 0 -5.1 0M125.5 304.9a2.55 2.55 0 1 0 5.1 0a2.55 2.55 0 1 0 -5.1 0M139.3 308.8a2.55 2.55 0 1 0 5.1 0a2.55 2.55 0 1 0 -5.1 0M137.9 296.1a2.55 2.55 0 1 0 5.1 0a2.55 2.55 0 1 0 -5.1 0M106.9 301.3a2.55 2.55 0 1 0 5.1 0a2.55 2.55 0 1 0 -5.1 0M129.3 319.9a2.55 2.55 0 1 0 5.1 0a2.55 2.55 0 1 0 -5.1 0M132.0 315.8a2.55 2.55 0 1 0 5.1 0a2.55 2.55 0 1 0 -5.1 0M143.8 316.7a2.55 2.55 0 1 0 5.1 0a2.55 2.55 0 1 0 -5.1 0M137.0 304.9a2.55 2.55 0 1 0 5.1 0a2.55 2.55 0 1 0 -5.1 0M153.7 293.3a2.55 2.55 0 1 0 5.1 0a2.55 2.55 0 1 0 -5.1 0M155.1 297.3a2.55 2.55 0 1 0 5.1 0a2.55 2.55 0 1 0 -5.1 0M149.6 299.4a2.55 2.55 0 1 0 5.1 0a2.55 2.55 0 1 0 -5.1 0M148.5 313.2a2.55 2.55 0 1 0 5.1 0a2.55 2.55 0 1 0 -5.1 0M139.3 305.3a2.55 2.55 0 1 0 5.1 0a2.55 2.55 0 1 0 -5.1 0M147.6 295.1a2.55 2.55 0 1 0 5.1 0a2.55 2.55 0 1 0 -5.1 0M116.3 288.2a2.55 2.55 0 1 0 5.1 0a2.55 2.55 0 1 0 -5.1 0M111.3 294.5a2.55 2.55 0 1 0 5.1 0a2.55 2.55 0 1 0 -5.1 0M147.2 305.3a2.55 2.55 0 1 0 5.1 0a2.55 2.55 0 1 0 -5.1 0M109.9 307.3a2.55 2.55 0 1 0 5.1 0a2.55 2.55 0 1 0 -5.1 0M138.3 297.9a2.55 2.55 0 1 0 5.1 0a2.55 2.55 0 1 0 -5.1 0M116.4 306.1a2.55 2.55 0 1 0 5.1 0a2.55 2.55 0 1 0 -5.1 0M128.6 319.1a2.55 2.55 0 1 0 5.1 0a2.55 2.55 0 1 0 -5.1 0M131.3 288.7a2.55 2.55 0 1 0 5.1 0a2.55 2.55 0 1 0 -5.1 0M146.3 304.1a2.55 2.55 0 1 0 5.1 0a2.55 2.55 0 1 0 -5.1 0M146.7 309.7a2.55 2.55 0 1 0 5.1 0a2.55 2.55 0 1 0 -5.1 0M155.0 298.1a2.55 2.55 0 1 0 5.1 0a2.55 2.55 0 1 0 -5.1 0M146.3 286.1a2.55 2.55 0 1 0 5.1 0a2.55 2.55 0 1 0 -5.1 0M116.9 297.7a2.55 2.55 0 1 0 5.1 0a2.55 2.55 0 1 0 -5.1 0M139.2 306.9a2.55 2.55 0 1 0 5.1 0a2.55 2.55 0 1 0 -5.1 0M152.0 315.4a2.55 2.55 0 1 0 5.1 0a2.55 2.55 0 1 0 -5.1 0M119.2 288.9a2.55 2.55 0 1 0 5.1 0a2.55 2.55 0 1 0 -5.1 0M128.2 298.2a2.55 2.55 0 1 0 5.1 0a2.55 2.55 0 1 0 -5.1 0M113.4 289.6a2.55 2.55 0 1 0 5.1 0a2.55 2.55 0 1 0 -5.1 0M150.9 310.6a2.55 2.55 0 1 0 5.1 0a2.55 2.55 0 1 0 -5.1 0M134.4 308.7a2.55 2.55 0 1 0 5.1 0a2.55 2.55 0 1 0 -5.1 0M160.8 285.2a2.55 2.55 0 1 0 5.1 0a2.55 2.55 0 1 0 -5.1 0M120.4 310.0a2.55 2.55 0 1 0 5.1 0a2.55 2.55 0 1 0 -5.1 0M120.9 312.9a2.55 2.55 0 1 0 5.1 0a2.55 2.55 0 1 0 -5.1 0M117.0 314.2a2.55 2.55 0 1 0 5.1 0a2.55 2.55 0 1 0 -5.1 0M152.8 307.3a2.55 2.55 0 1 0 5.1 0a2.55 2.55 0 1 0 -5.1 0M145.4 296.1a2.55 2.55 0 1 0 5.1 0a2.55 2.55 0 1 0 -5.1 0M128.0 315.0a2.55 2.55 0 1 0 5.1 0a2.55 2.55 0 1 0 -5.1 0M93.5 317.6a2.55 2.55 0 1 0 5.1 0a2.55 2.55 0 1 0 -5.1 0M139.2 301.7a2.55 2.55 0 1 0 5.1 0a2.55 2.55 0 1 0 -5.1 0M137.4 294.2a2.55 2.55 0 1 0 5.1 0a2.55 2.55 0 1 0 -5.1 0M154.3 306.6a2.55 2.55 0 1 0 5.1 0a2.55 2.55 0 1 0 -5.1 0M158.8 317.6a2.55 2.55 0 1 0 5.1 0a2.55 2.55 0 1 0 -5.1 0M143.0 314.4a2.55 2.55 0 1 0 5.1 0a2.55 2.55 0 1 0 -5.1 0M122.5 304.2a2.55 2.55 0 1 0 5.1 0a2.55 2.55 0 1 0 -5.1 0M110.5 323.2a2.55 2.55 0 1 0 5.1 0a2.55 2.55 0 1 0 -5.1 0M144.9 310.1a2.55 2.55 0 1 0 5.1 0a2.55 2.55 0 1 0 -5.1 0M141.2 282.9a2.55 2.55 0 1 0 5.1 0a2.55 2.55 0 1 0 -5.1 0M145.0 291.4a2.55 2.55 0 1 0 5.1 0a2.55 2.55 0 1 0 -5.1 0M141.9 314.6a2.55 2.55 0 1 0 5.1 0a2.55 2.55 0 1 0 -5.1 0M144.8 296.8a2.55 2.55 0 1 0 5.1 0a2.55 2.55 0 1 0 -5.1 0M145.9 309.0a2.55 2.55 0 1 0 5.1 0a2.55 2.55 0 1 0 -5.1 0M147.3 309.5a2.55 2.55 0 1 0 5.1 0a2.55 2.55 0 1 0 -5.1 0M147.4 290.8a2.55 2.55 0 1 0 5.1 0a2.55 2.55 0 1 0 -5.1 0M110.4 307.9a2.55 2.55 0 1 0 5.1 0a2.55 2.55 0 1 0 -5.1 0M145.3 285.0a2.55 2.55 0 1 0 5.1 0a2.55 2.55 0 1 0 -5.1 0M131.2 305.0a2.55 2.55 0 1 0 5.1 0a2.55 2.55 0 1 0 -5.1 0M113.6 326.3a2.55 2.55 0 1 0 5.1 0a2.55 2.55 0 1 0 -5.1 0M136.6 312.1a2.55 2.55 0 1 0 5.1 0a2.55 2.55 0 1 0 -5.1 0M159.6 313.5a2.55 2.55 0 1 0 5.1 0a2.55 2.55 0 1 0 -5.1 0M163.1 309.5a2.55 2.55 0 1 0 5.1 0a2.55 2.55 0 1 0 -5.1 0M152.4 320.6a2.55 2.55 0 1 0 5.1 0a2.55 2.55 0 1 0 -5.1 0M147.4 302.4a2.55 2.55 0 1 0 5.1 0a2.55 2.55 0 1 0 -5.1 0M136.4 312.5a2.55 2.55 0 1 0 5.1 0a2.55 2.55 0 1 0 -5.1 0M135.3 304.0a2.55 2.55 0 1 0 5.1 0a2.55 2.55 0 1 0 -5.1 0M140.8 282.6a2.55 2.55 0 1 0 5.1 0a2.55 2.55 0 1 0 -5.1 0M120.3 289.2a2.55 2.55 0 1 0 5.1 0a2.55 2.55 0 1 0 -5.1 0M153.1 306.1a2.55 2.55 0 1 0 5.1 0a2.55 2.55 0 1 0 -5.1 0M152.3 327.9a2.55 2.55 0 1 0 5.1 0a2.55 2.55 0 1 0 -5.1 0M127.2 328.2a2.55 2.55 0 1 0 5.1 0a2.55 2.55 0 1 0 -5.1 0M152.5 323.6a2.55 2.55 0 1 0 5.1 0a2.55 2.55 0 1 0 -5.1 0M101.8 307.6a2.55 2.55 0 1 0 5.1 0a2.55 2.55 0 1 0 -5.1 0M114.8 329.3a2.55 2.55 0 1 0 5.1 0a2.55 2.55 0 1 0 -5.1 0M141.9 305.8a2.55 2.55 0 1 0 5.1 0a2.55 2.55 0 1 0 -5.1 0M146.7 309.1a2.55 2.55 0 1 0 5.1 0a2.55 2.55 0 1 0 -5.1 0M128.5 318.2a2.55 2.55 0 1 0 5.1 0a2.55 2.55 0 1 0 -5.1 0M139.7 302.4a2.55 2.55 0 1 0 5.1 0a2.55 2.55 0 1 0 -5.1 0M118.6 298.5a2.55 2.55 0 1 0 5.1 0a2.55 2.55 0 1 0 -5.1 0M110.2 304.0a2.55 2.55 0 1 0 5.1 0a2.55 2.55 0 1 0 -5.1 0M104.3 291.9a2.55 2.55 0 1 0 5.1 0a2.55 2.55 0 1 0 -5.1 0M103.1 295.4a2.55 2.55 0 1 0 5.1 0a2.55 2.55 0 1 0 -5.1 0M98.9 298.5a2.55 2.55 0 1 0 5.1 0a2.55 2.55 0 1 0 -5.1 0M115.2 296.9a2.55 2.55 0 1 0 5.1 0a2.55 2.55 0 1 0 -5.1 0M121.5 308.0a2.55 2.55 0 1 0 5.1 0a2.55 2.55 0 1 0 -5.1 0M108.5 317.2a2.55 2.55 0 1 0 5.1 0a2.55 2.55 0 1 0 -5.1 0M139.5 298.9a2.55 2.55 0 1 0 5.1 0a2.55 2.55 0 1 0 -5.1 0M100.8 303.6a2.55 2.55 0 1 0 5.1 0a2.55 2.55 0 1 0 -5.1 0M155.2 288.0a2.55 2.55 0 1 0 5.1 0a2.55 2.55 0 1 0 -5.1 0M156.6 296.1a2.55 2.55 0 1 0 5.1 0a2.55 2.55 0 1 0 -5.1 0M124.9 332.9a2.55 2.55 0 1 0 5.1 0a2.55 2.55 0 1 0 -5.1 0M151.8 294.3a2.55 2.55 0 1 0 5.1 0a2.55 2.55 0 1 0 -5.1 0M126.7 319.0a2.55 2.55 0 1 0 5.1 0a2.55 2.55 0 1 0 -5.1 0M145.6 280.0a2.55 2.55 0 1 0 5.1 0a2.55 2.55 0 1 0 -5.1 0M157.1 309.9a2.55 2.55 0 1 0 5.1 0a2.55 2.55 0 1 0 -5.1 0M145.0 320.1a2.55 2.55 0 1 0 5.1 0a2.55 2.55 0 1 0 -5.1 0M114.3 295.2a2.55 2.55 0 1 0 5.1 0a2.55 2.55 0 1 0 -5.1 0M133.7 302.3a2.55 2.55 0 1 0 5.1 0a2.55 2.55 0 1 0 -5.1 0M151.4 294.5a2.55 2.55 0 1 0 5.1 0a2.55 2.55 0 1 0 -5.1 0M145.6 308.8a2.55 2.55 0 1 0 5.1 0a2.55 2.55 0 1 0 -5.1 0M160.3 292.9a2.55 2.55 0 1 0 5.1 0a2.55 2.55 0 1 0 -5.1 0M114.1 301.7a2.55 2.55 0 1 0 5.1 0a2.55 2.55 0 1 0 -5.1 0M95.2 304.4a2.55 2.55 0 1 0 5.1 0a2.55 2.55 0 1 0 -5.1 0M131.4 285.1a2.55 2.55 0 1 0 5.1 0a2.55 2.55 0 1 0 -5.1 0M148.3 310.6a2.55 2.55 0 1 0 5.1 0a2.55 2.55 0 1 0 -5.1 0M150.3 295.5a2.55 2.55 0 1 0 5.1 0a2.55 2.55 0 1 0 -5.1 0M161.6 289.4a2.55 2.55 0 1 0 5.1 0a2.55 2.55 0 1 0 -5.1 0M119.6 297.1a2.55 2.55 0 1 0 5.1 0a2.55 2.55 0 1 0 -5.1 0M141.6 300.1a2.55 2.55 0 1 0 5.1 0a2.55 2.55 0 1 0 -5.1 0M132.7 287.0a2.55 2.55 0 1 0 5.1 0a2.55 2.55 0 1 0 -5.1 0M139.6 298.6a2.55 2.55 0 1 0 5.1 0a2.55 2.55 0 1 0 -5.1 0M145.3 305.7a2.55 2.55 0 1 0 5.1 0a2.55 2.55 0 1 0 -5.1 0M134.6 286.4a2.55 2.55 0 1 0 5.1 0a2.55 2.55 0 1 0 -5.1 0M141.9 317.7a2.55 2.55 0 1 0 5.1 0a2.55 2.55 0 1 0 -5.1 0M127.6 291.0a2.55 2.55 0 1 0 5.1 0a2.55 2.55 0 1 0 -5.1 0M119.2 303.0a2.55 2.55 0 1 0 5.1 0a2.55 2.55 0 1 0 -5.1 0M137.0 325.2a2.55 2.55 0 1 0 5.1 0a2.55 2.55 0 1 0 -5.1 0M155.5 284.0a2.55 2.55 0 1 0 5.1 0a2.55 2.55 0 1 0 -5.1 0M158.1 305.7a2.55 2.55 0 1 0 5.1 0a2.55 2.55 0 1 0 -5.1 0M145.1 306.7a2.55 2.55 0 1 0 5.1 0a2.55 2.55 0 1 0 -5.1 0M146.1 304.9a2.55 2.55 0 1 0 5.1 0a2.55 2.55 0 1 0 -5.1 0M127.3 305.7a2.55 2.55 0 1 0 5.1 0a2.55 2.55 0 1 0 -5.1 0M124.6 298.1a2.55 2.55 0 1 0 5.1 0a2.55 2.55 0 1 0 -5.1 0M114.2 304.6a2.55 2.55 0 1 0 5.1 0a2.55 2.55 0 1 0 -5.1 0M153.5 306.6a2.55 2.55 0 1 0 5.1 0a2.55 2.55 0 1 0 -5.1 0M125.4 322.3a2.55 2.55 0 1 0 5.1 0a2.55 2.55 0 1 0 -5.1 0M152.0 304.4a2.55 2.55 0 1 0 5.1 0a2.55 2.55 0 1 0 -5.1 0M154.2 296.0a2.55 2.55 0 1 0 5.1 0a2.55 2.55 0 1 0 -5.1 0M137.0 300.6a2.55 2.55 0 1 0 5.1 0a2.55 2.55 0 1 0 -5.1 0M163.5 289.7a2.55 2.55 0 1 0 5.1 0a2.55 2.55 0 1 0 -5.1 0M126.9 303.2a2.55 2.55 0 1 0 5.1 0a2.55 2.55 0 1 0 -5.1 0M108.5 311.5a2.55 2.55 0 1 0 5.1 0a2.55 2.55 0 1 0 -5.1 0M122.1 319.8a2.55 2.55 0 1 0 5.1 0a2.55 2.55 0 1 0 -5.1 0M141.0 317.2a2.55 2.55 0 1 0 5.1 0a2.55 2.55 0 1 0 -5.1 0M112.6 317.1a2.55 2.55 0 1 0 5.1 0a2.55 2.55 0 1 0 -5.1 0M135.7 294.0a2.55 2.55 0 1 0 5.1 0a2.55 2.55 0 1 0 -5.1 0M96.7 300.2a2.55 2.55 0 1 0 5.1 0a2.55 2.55 0 1 0 -5.1 0M155.7 321.6a2.55 2.55 0 1 0 5.1 0a2.55 2.55 0 1 0 -5.1 0M140.0 314.3a2.55 2.55 0 1 0 5.1 0a2.55 2.55 0 1 0 -5.1 0M115.7 297.0a2.55 2.55 0 1 0 5.1 0a2.55 2.55 0 1 0 -5.1 0M130.8 304.8a2.55 2.55 0 1 0 5.1 0a2.55 2.55 0 1 0 -5.1 0M114.4 313.5a2.55 2.55 0 1 0 5.1 0a2.55 2.55 0 1 0 -5.1 0M150.5 285.7a2.55 2.55 0 1 0 5.1 0a2.55 2.55 0 1 0 -5.1 0M99.7 325.3a2.55 2.55 0 1 0 5.1 0a2.55 2.55 0 1 0 -5.1 0M144.5 300.9a2.55 2.55 0 1 0 5.1 0a2.55 2.55 0 1 0 -5.1 0M142.7 314.4a2.55 2.55 0 1 0 5.1 0a2.55 2.55 0 1 0 -5.1 0M141.7 325.2a2.55 2.55 0 1 0 5.1 0a2.55 2.55 0 1 0 -5.1 0M116.5 326.7a2.55 2.55 0 1 0 5.1 0a2.55 2.55 0 1 0 -5.1 0M159.7 288.8a2.55 2.55 0 1 0 5.1 0a2.55 2.55 0 1 0 -5.1 0M129.9 305.6a2.55 2.55 0 1 0 5.1 0a2.55 2.55 0 1 0 -5.1 0M106.9 331.6a2.55 2.55 0 1 0 5.1 0a2.55 2.55 0 1 0 -5.1 0M149.9 318.8a2.55 2.55 0 1 0 5.1 0a2.55 2.55 0 1 0 -5.1 0M161.0 288.7a2.55 2.55 0 1 0 5.1 0a2.55 2.55 0 1 0 -5.1 0M137.5 301.6a2.55 2.55 0 1 0 5.1 0a2.55 2.55 0 1 0 -5.1 0M160.5 279.6a2.55 2.55 0 1 0 5.1 0a2.55 2.55 0 1 0 -5.1 0M103.6 307.5a2.55 2.55 0 1 0 5.1 0a2.55 2.55 0 1 0 -5.1 0M136.9 308.2a2.55 2.55 0 1 0 5.1 0a2.55 2.55 0 1 0 -5.1 0M111.8 326.5a2.55 2.55 0 1 0 5.1 0a2.55 2.55 0 1 0 -5.1 0M158.6 295.2a2.55 2.55 0 1 0 5.1 0a2.55 2.55 0 1 0 -5.1 0M121.2 327.5a2.55 2.55 0 1 0 5.1 0a2.55 2.55 0 1 0 -5.1 0M125.5 302.5a2.55 2.55 0 1 0 5.1 0a2.55 2.55 0 1 0 -5.1 0M146.3 297.7a2.55 2.55 0 1 0 5.1 0a2.55 2.55 0 1 0 -5.1 0M132.5 299.5a2.55 2.55 0 1 0 5.1 0a2.55 2.55 0 1 0 -5.1 0M151.7 284.4a2.55 2.55 0 1 0 5.1 0a2.55 2.55 0 1 0 -5.1 0M122.5 312.7a2.55 2.55 0 1 0 5.1 0a2.55 2.55 0 1 0 -5.1 0M108.4 311.3a2.55 2.55 0 1 0 5.1 0a2.55 2.55 0 1 0 -5.1 0M113.6 317.1a2.55 2.55 0 1 0 5.1 0a2.55 2.55 0 1 0 -5.1 0M125.7 305.2a2.55 2.55 0 1 0 5.1 0a2.55 2.55 0 1 0 -5.1 0M163.1 309.5a2.55 2.55 0 1 0 5.1 0a2.55 2.55 0 1 0 -5.1 0M135.4 304.7a2.55 2.55 0 1 0 5.1 0a2.55 2.55 0 1 0 -5.1 0M161.7 308.8a2.55 2.55 0 1 0 5.1 0a2.55 2.55 0 1 0 -5.1 0M140.6 305.3a2.55 2.55 0 1 0 5.1 0a2.55 2.55 0 1 0 -5.1 0M151.6 299.9a2.55 2.55 0 1 0 5.1 0a2.55 2.55 0 1 0 -5.1 0M163.9 310.5a2.55 2.55 0 1 0 5.1 0a2.55 2.55 0 1 0 -5.1 0M137.6 291.1a2.55 2.55 0 1 0 5.1 0a2.55 2.55 0 1 0 -5.1 0M128.2 321.6a2.55 2.55 0 1 0 5.1 0a2.55 2.55 0 1 0 -5.1 0M130.3 319.0a2.55 2.55 0 1 0 5.1 0a2.55 2.55 0 1 0 -5.1 0M113.6 320.4a2.55 2.55 0 1 0 5.1 0a2.55 2.55 0 1 0 -5.1 0M140.5 298.5a2.55 2.55 0 1 0 5.1 0a2.55 2.55 0 1 0 -5.1 0M99.5 297.7a2.55 2.55 0 1 0 5.1 0a2.55 2.55 0 1 0 -5.1 0M136.9 305.2a2.55 2.55 0 1 0 5.1 0a2.55 2.55 0 1 0 -5.1 0M132.5 331.6a2.55 2.55 0 1 0 5.1 0a2.55 2.55 0 1 0 -5.1 0M153.8 312.6a2.55 2.55 0 1 0 5.1 0a2.55 2.55 0 1 0 -5.1 0M117.2 313.7a2.55 2.55 0 1 0 5.1 0a2.55 2.55 0 1 0 -5.1 0M107.5 293.9a2.55 2.55 0 1 0 5.1 0a2.55 2.55 0 1 0 -5.1 0M116.7 304.7a2.55 2.55 0 1 0 5.1 0a2.55 2.55 0 1 0 -5.1 0M135.9 322.1a2.55 2.55 0 1 0 5.1 0a2.55 2.55 0 1 0 -5.1 0M108.8 320.6a2.55 2.55 0 1 0 5.1 0a2.55 2.55 0 1 0 -5.1 0M107.3 330.6a2.55 2.55 0 1 0 5.1 0a2.55 2.55 0 1 0 -5.1 0M94.5 309.7a2.55 2.55 0 1 0 5.1 0a2.55 2.55 0 1 0 -5.1 0M154.8 294.1a2.55 2.55 0 1 0 5.1 0a2.55 2.55 0 1 0 -5.1 0M154.1 290.8a2.55 2.55 0 1 0 5.1 0a2.55 2.55 0 1 0 -5.1 0M107.9 309.5a2.55 2.55 0 1 0 5.1 0a2.55 2.55 0 1 0 -5.1 0M138.7 309.9a2.55 2.55 0 1 0 5.1 0a2.55 2.55 0 1 0 -5.1 0M133.8 291.9a2.55 2.55 0 1 0 5.1 0a2.55 2.55 0 1 0 -5.1 0M124.6 298.4a2.55 2.55 0 1 0 5.1 0a2.55 2.55 0 1 0 -5.1 0M127.9 308.4a2.55 2.55 0 1 0 5.1 0a2.55 2.55 0 1 0 -5.1 0M152.3 301.4a2.55 2.55 0 1 0 5.1 0a2.55 2.55 0 1 0 -5.1 0M125.4 298.9a2.55 2.55 0 1 0 5.1 0a2.55 2.55 0 1 0 -5.1 0M119.1 290.3a2.55 2.55 0 1 0 5.1 0a2.55 2.55 0 1 0 -5.1 0M101.0 323.0a2.55 2.55 0 1 0 5.1 0a2.55 2.55 0 1 0 -5.1 0M104.0 330.5a2.55 2.55 0 1 0 5.1 0a2.55 2.55 0 1 0 -5.1 0M116.2 306.2a2.55 2.55 0 1 0 5.1 0a2.55 2.55 0 1 0 -5.1 0M110.3 319.7a2.55 2.55 0 1 0 5.1 0a2.55 2.55 0 1 0 -5.1 0M138.3 302.1a2.55 2.55 0 1 0 5.1 0a2.55 2.55 0 1 0 -5.1 0M140.2 280.9a2.55 2.55 0 1 0 5.1 0a2.55 2.55 0 1 0 -5.1 0M130.0 323.4a2.55 2.55 0 1 0 5.1 0a2.55 2.55 0 1 0 -5.1 0M103.8 319.5a2.55 2.55 0 1 0 5.1 0a2.55 2.55 0 1 0 -5.1 0M134.9 313.6a2.55 2.55 0 1 0 5.1 0a2.55 2.55 0 1 0 -5.1 0M119.5 319.0a2.55 2.55 0 1 0 5.1 0a2.55 2.55 0 1 0 -5.1 0M127.4 287.4a2.55 2.55 0 1 0 5.1 0a2.55 2.55 0 1 0 -5.1 0M127.0 283.3a2.55 2.55 0 1 0 5.1 0a2.55 2.55 0 1 0 -5.1 0M134.3 332.0a2.55 2.55 0 1 0 5.1 0a2.55 2.55 0 1 0 -5.1 0M139.1 297.0a2.55 2.55 0 1 0 5.1 0a2.55 2.55 0 1 0 -5.1 0M108.5 306.0a2.55 2.55 0 1 0 5.1 0a2.55 2.55 0 1 0 -5.1 0M150.9 301.0a2.55 2.55 0 1 0 5.1 0a2.55 2.55 0 1 0 -5.1 0M145.7 300.1a2.55 2.55 0 1 0 5.1 0a2.55 2.55 0 1 0 -5.1 0M138.4 302.7a2.55 2.55 0 1 0 5.1 0a2.55 2.55 0 1 0 -5.1 0M110.2 312.6a2.55 2.55 0 1 0 5.1 0a2.55 2.55 0 1 0 -5.1 0M145.2 294.8a2.55 2.55 0 1 0 5.1 0a2.55 2.55 0 1 0 -5.1 0M138.8 288.4a2.55 2.55 0 1 0 5.1 0a2.55 2.55 0 1 0 -5.1 0M134.5 298.1a2.55 2.55 0 1 0 5.1 0a2.55 2.55 0 1 0 -5.1 0M137.1 297.0a2.55 2.55 0 1 0 5.1 0a2.55 2.55 0 1 0 -5.1 0M136.1 307.5a2.55 2.55 0 1 0 5.1 0a2.55 2.55 0 1 0 -5.1 0M158.8 287.0a2.55 2.55 0 1 0 5.1 0a2.55 2.55 0 1 0 -5.1 0M134.2 314.0a2.55 2.55 0 1 0 5.1 0a2.55 2.55 0 1 0 -5.1 0M138.6 304.9a2.55 2.55 0 1 0 5.1 0a2.55 2.55 0 1 0 -5.1 0M119.8 329.2a2.55 2.55 0 1 0 5.1 0a2.55 2.55 0 1 0 -5.1 0M126.3 303.9a2.55 2.55 0 1 0 5.1 0a2.55 2.55 0 1 0 -5.1 0M135.7 313.3a2.55 2.55 0 1 0 5.1 0a2.55 2.55 0 1 0 -5.1 0M146.1 324.2a2.55 2.55 0 1 0 5.1 0a2.55 2.55 0 1 0 -5.1 0M122.0 293.5a2.55 2.55 0 1 0 5.1 0a2.55 2.55 0 1 0 -5.1 0M129.7 295.4a2.55 2.55 0 1 0 5.1 0a2.55 2.55 0 1 0 -5.1 0M146.8 309.4a2.55 2.55 0 1 0 5.1 0a2.55 2.55 0 1 0 -5.1 0M151.7 302.8a2.55 2.55 0 1 0 5.1 0a2.55 2.55 0 1 0 -5.1 0M146.2 296.5a2.55 2.55 0 1 0 5.1 0a2.55 2.55 0 1 0 -5.1 0M113.9 304.1a2.55 2.55 0 1 0 5.1 0a2.55 2.55 0 1 0 -5.1 0M140.0 298.3a2.55 2.55 0 1 0 5.1 0a2.55 2.55 0 1 0 -5.1 0M112.9 328.4a2.55 2.55 0 1 0 5.1 0a2.55 2.55 0 1 0 -5.1 0M148.1 313.9a2.55 2.55 0 1 0 5.1 0a2.55 2.55 0 1 0 -5.1 0M122.3 305.9a2.55 2.55 0 1 0 5.1 0a2.55 2.55 0 1 0 -5.1 0M123.5 307.9a2.55 2.55 0 1 0 5.1 0a2.55 2.55 0 1 0 -5.1 0M126.3 300.9a2.55 2.55 0 1 0 5.1 0a2.55 2.55 0 1 0 -5.1 0M149.0 321.6a2.55 2.55 0 1 0 5.1 0a2.55 2.55 0 1 0 -5.1 0M126.3 297.2a2.55 2.55 0 1 0 5.1 0a2.55 2.55 0 1 0 -5.1 0M148.9 307.2a2.55 2.55 0 1 0 5.1 0a2.55 2.55 0 1 0 -5.1 0M125.6 301.3a2.55 2.55 0 1 0 5.1 0a2.55 2.55 0 1 0 -5.1 0M139.7 303.4a2.55 2.55 0 1 0 5.1 0a2.55 2.55 0 1 0 -5.1 0M117.7 303.7a2.55 2.55 0 1 0 5.1 0a2.55 2.55 0 1 0 -5.1 0M147.0 319.0a2.55 2.55 0 1 0 5.1 0a2.55 2.55 0 1 0 -5.1 0M131.7 321.7a2.55 2.55 0 1 0 5.1 0a2.55 2.55 0 1 0 -5.1 0M148.6 308.0a2.55 2.55 0 1 0 5.1 0a2.55 2.55 0 1 0 -5.1 0M140.9 311.1a2.55 2.55 0 1 0 5.1 0a2.55 2.55 0 1 0 -5.1 0M169.4 291.1a2.55 2.55 0 1 0 5.1 0a2.55 2.55 0 1 0 -5.1 0M135.3 303.3a2.55 2.55 0 1 0 5.1 0a2.55 2.55 0 1 0 -5.1 0M157.2 301.9a2.55 2.55 0 1 0 5.1 0a2.55 2.55 0 1 0 -5.1 0M144.5 301.6a2.55 2.55 0 1 0 5.1 0a2.55 2.55 0 1 0 -5.1 0M102.6 313.9a2.55 2.55 0 1 0 5.1 0a2.55 2.55 0 1 0 -5.1 0M125.0 302.6a2.55 2.55 0 1 0 5.1 0a2.55 2.55 0 1 0 -5.1 0M107.9 303.0a2.55 2.55 0 1 0 5.1 0a2.55 2.55 0 1 0 -5.1 0M107.3 309.6a2.55 2.55 0 1 0 5.1 0a2.55 2.55 0 1 0 -5.1 0M147.3 322.3a2.55 2.55 0 1 0 5.1 0a2.55 2.55 0 1 0 -5.1 0M135.9 292.1a2.55 2.55 0 1 0 5.1 0a2.55 2.55 0 1 0 -5.1 0M105.5 322.8a2.55 2.55 0 1 0 5.1 0a2.55 2.55 0 1 0 -5.1 0M138.1 291.8a2.55 2.55 0 1 0 5.1 0a2.55 2.55 0 1 0 -5.1 0M139.9 290.1a2.55 2.55 0 1 0 5.1 0a2.55 2.55 0 1 0 -5.1 0M134.0 314.8a2.55 2.55 0 1 0 5.1 0a2.55 2.55 0 1 0 -5.1 0M142.0 303.7a2.55 2.55 0 1 0 5.1 0a2.55 2.55 0 1 0 -5.1 0M126.8 303.1a2.55 2.55 0 1 0 5.1 0a2.55 2.55 0 1 0 -5.1 0M139.2 311.1a2.55 2.55 0 1 0 5.1 0a2.55 2.55 0 1 0 -5.1 0M116.3 300.0a2.55 2.55 0 1 0 5.1 0a2.55 2.55 0 1 0 -5.1 0M154.0 312.8a2.55 2.55 0 1 0 5.1 0a2.55 2.55 0 1 0 -5.1 0M145.6 299.9a2.55 2.55 0 1 0 5.1 0a2.55 2.55 0 1 0 -5.1 0M145.2 303.2a2.55 2.55 0 1 0 5.1 0a2.55 2.55 0 1 0 -5.1 0M140.1 292.8a2.55 2.55 0 1 0 5.1 0a2.55 2.55 0 1 0 -5.1 0M109.6 305.4a2.55 2.55 0 1 0 5.1 0a2.55 2.55 0 1 0 -5.1 0M132.0 291.6a2.55 2.55 0 1 0 5.1 0a2.55 2.55 0 1 0 -5.1 0M141.8 309.4a2.55 2.55 0 1 0 5.1 0a2.55 2.55 0 1 0 -5.1 0M112.8 301.3a2.55 2.55 0 1 0 5.1 0a2.55 2.55 0 1 0 -5.1 0M159.4 285.8a2.55 2.55 0 1 0 5.1 0a2.55 2.55 0 1 0 -5.1 0M155.7 307.8a2.55 2.55 0 1 0 5.1 0a2.55 2.55 0 1 0 -5.1 0M157.5 299.9a2.55 2.55 0 1 0 5.1 0a2.55 2.55 0 1 0 -5.1 0M129.6 308.2a2.55 2.55 0 1 0 5.1 0a2.55 2.55 0 1 0 -5.1 0M107.6 299.0a2.55 2.55 0 1 0 5.1 0a2.55 2.55 0 1 0 -5.1 0M124.9 300.9a2.55 2.55 0 1 0 5.1 0a2.55 2.55 0 1 0 -5.1 0M135.7 308.7a2.55 2.55 0 1 0 5.1 0a2.55 2.55 0 1 0 -5.1 0M158.1 299.3a2.55 2.55 0 1 0 5.1 0a2.55 2.55 0 1 0 -5.1 0M118.2 301.0a2.55 2.55 0 1 0 5.1 0a2.55 2.55 0 1 0 -5.1 0M155.6 283.9a2.55 2.55 0 1 0 5.1 0a2.55 2.55 0 1 0 -5.1 0M103.9 297.5a2.55 2.55 0 1 0 5.1 0a2.55 2.55 0 1 0 -5.1 0M123.9 295.6a2.55 2.55 0 1 0 5.1 0a2.55 2.55 0 1 0 -5.1 0M142.6 308.1a2.55 2.55 0 1 0 5.1 0a2.55 2.55 0 1 0 -5.1 0M130.3 316.1a2.55 2.55 0 1 0 5.1 0a2.55 2.55 0 1 0 -5.1 0M111.6 313.0a2.55 2.55 0 1 0 5.1 0a2.55 2.55 0 1 0 -5.1 0M153.2 305.5a2.55 2.55 0 1 0 5.1 0a2.55 2.55 0 1 0 -5.1 0M125.7 298.2a2.55 2.55 0 1 0 5.1 0a2.55 2.55 0 1 0 -5.1 0M126.7 308.9a2.55 2.55 0 1 0 5.1 0a2.55 2.55 0 1 0 -5.1 0M147.3 317.1a2.55 2.55 0 1 0 5.1 0a2.55 2.55 0 1 0 -5.1 0M115.6 296.4a2.55 2.55 0 1 0 5.1 0a2.55 2.55 0 1 0 -5.1 0M151.6 288.8a2.55 2.55 0 1 0 5.1 0a2.55 2.55 0 1 0 -5.1 0M128.5 285.7a2.55 2.55 0 1 0 5.1 0a2.55 2.55 0 1 0 -5.1 0M133.0 301.3a2.55 2.55 0 1 0 5.1 0a2.55 2.55 0 1 0 -5.1 0M116.9 298.7a2.55 2.55 0 1 0 5.1 0a2.55 2.55 0 1 0 -5.1 0M148.7 308.1a2.55 2.55 0 1 0 5.1 0a2.55 2.55 0 1 0 -5.1 0M137.2 287.7a2.55 2.55 0 1 0 5.1 0a2.55 2.55 0 1 0 -5.1 0M146.6 296.7a2.55 2.55 0 1 0 5.1 0a2.55 2.55 0 1 0 -5.1 0M148.7 278.9a2.55 2.55 0 1 0 5.1 0a2.55 2.55 0 1 0 -5.1 0M107.0 320.7a2.55 2.55 0 1 0 5.1 0a2.55 2.55 0 1 0 -5.1 0M107.6 301.6a2.55 2.55 0 1 0 5.1 0a2.55 2.55 0 1 0 -5.1 0M118.7 308.8a2.55 2.55 0 1 0 5.1 0a2.55 2.55 0 1 0 -5.1 0M135.8 293.6a2.55 2.55 0 1 0 5.1 0a2.55 2.55 0 1 0 -5.1 0M140.7 325.9a2.55 2.55 0 1 0 5.1 0a2.55 2.55 0 1 0 -5.1 0M96.0 302.6a2.55 2.55 0 1 0 5.1 0a2.55 2.55 0 1 0 -5.1 0M139.3 304.6a2.55 2.55 0 1 0 5.1 0a2.55 2.55 0 1 0 -5.1 0M132.7 325.5a2.55 2.55 0 1 0 5.1 0a2.55 2.55 0 1 0 -5.1 0M148.9 283.1a2.55 2.55 0 1 0 5.1 0a2.55 2.55 0 1 0 -5.1 0M120.4 289.3a2.55 2.55 0 1 0 5.1 0a2.55 2.55 0 1 0 -5.1 0M136.3 297.5a2.55 2.55 0 1 0 5.1 0a2.55 2.55 0 1 0 -5.1 0M126.8 301.9a2.55 2.55 0 1 0 5.1 0a2.55 2.55 0 1 0 -5.1 0M157.5 294.3a2.55 2.55 0 1 0 5.1 0a2.55 2.55 0 1 0 -5.1 0M130.6 288.7a2.55 2.55 0 1 0 5.1 0a2.55 2.55 0 1 0 -5.1 0M127.7 297.7a2.55 2.55 0 1 0 5.1 0a2.55 2.55 0 1 0 -5.1 0M159.4 309.2a2.55 2.55 0 1 0 5.1 0a2.55 2.55 0 1 0 -5.1 0M140.6 319.4a2.55 2.55 0 1 0 5.1 0a2.55 2.55 0 1 0 -5.1 0M134.9 298.6a2.55 2.55 0 1 0 5.1 0a2.55 2.55 0 1 0 -5.1 0M151.7 312.9a2.55 2.55 0 1 0 5.1 0a2.55 2.55 0 1 0 -5.1 0M132.5 306.0a2.55 2.55 0 1 0 5.1 0a2.55 2.55 0 1 0 -5.1 0M138.2 294.9a2.55 2.55 0 1 0 5.1 0a2.55 2.55 0 1 0 -5.1 0M116.2 294.5a2.55 2.55 0 1 0 5.1 0a2.55 2.55 0 1 0 -5.1 0M124.0 299.6a2.55 2.55 0 1 0 5.1 0a2.55 2.55 0 1 0 -5.1 0M142.8 286.1a2.55 2.55 0 1 0 5.1 0a2.55 2.55 0 1 0 -5.1 0M148.4 300.9a2.55 2.55 0 1 0 5.1 0a2.55 2.55 0 1 0 -5.1 0M140.9 317.3a2.55 2.55 0 1 0 5.1 0a2.55 2.55 0 1 0 -5.1 0M127.2 318.3a2.55 2.55 0 1 0 5.1 0a2.55 2.55 0 1 0 -5.1 0M128.4 317.6a2.55 2.55 0 1 0 5.1 0a2.55 2.55 0 1 0 -5.1 0M114.6 306.2a2.55 2.55 0 1 0 5.1 0a2.55 2.55 0 1 0 -5.1 0M139.0 301.0a2.55 2.55 0 1 0 5.1 0a2.55 2.55 0 1 0 -5.1 0M146.4 305.5a2.55 2.55 0 1 0 5.1 0a2.55 2.55 0 1 0 -5.1 0M113.2 309.1a2.55 2.55 0 1 0 5.1 0a2.55 2.55 0 1 0 -5.1 0M138.9 323.5a2.55 2.55 0 1 0 5.1 0a2.55 2.55 0 1 0 -5.1 0M144.0 330.7a2.55 2.55 0 1 0 5.1 0a2.55 2.55 0 1 0 -5.1 0M122.6 307.7a2.55 2.55 0 1 0 5.1 0a2.55 2.55 0 1 0 -5.1 0M153.6 299.1a2.55 2.55 0 1 0 5.1 0a2.55 2.55 0 1 0 -5.1 0M122.5 308.8a2.55 2.55 0 1 0 5.1 0a2.55 2.55 0 1 0 -5.1 0M142.8 284.4a2.55 2.55 0 1 0 5.1 0a2.55 2.55 0 1 0 -5.1 0M128.0 314.2a2.55 2.55 0 1 0 5.1 0a2.55 2.55 0 1 0 -5.1 0M149.7 310.5a2.55 2.55 0 1 0 5.1 0a2.55 2.55 0 1 0 -5.1 0M154.0 307.4a2.55 2.55 0 1 0 5.1 0a2.55 2.55 0 1 0 -5.1 0M134.6 296.8a2.55 2.55 0 1 0 5.1 0a2.55 2.55 0 1 0 -5.1 0M154.1 294.3a2.55 2.55 0 1 0 5.1 0a2.55 2.55 0 1 0 -5.1 0M154.0 286.3a2.55 2.55 0 1 0 5.1 0a2.55 2.55 0 1 0 -5.1 0M142.1 295.9a2.55 2.55 0 1 0 5.1 0a2.55 2.55 0 1 0 -5.1 0M138.7 296.3a2.55 2.55 0 1 0 5.1 0a2.55 2.55 0 1 0 -5.1 0M132.2 314.8a2.55 2.55 0 1 0 5.1 0a2.55 2.55 0 1 0 -5.1 0M117.5 309.2a2.55 2.55 0 1 0 5.1 0a2.55 2.55 0 1 0 -5.1 0M145.0 310.2a2.55 2.55 0 1 0 5.1 0a2.55 2.55 0 1 0 -5.1 0M139.4 322.9a2.55 2.55 0 1 0 5.1 0a2.55 2.55 0 1 0 -5.1 0M142.3 317.6a2.55 2.55 0 1 0 5.1 0a2.55 2.55 0 1 0 -5.1 0M99.8 303.1a2.55 2.55 0 1 0 5.1 0a2.55 2.55 0 1 0 -5.1 0M140.7 308.9a2.55 2.55 0 1 0 5.1 0a2.55 2.55 0 1 0 -5.1 0M129.5 299.9a2.55 2.55 0 1 0 5.1 0a2.55 2.55 0 1 0 -5.1 0M152.3 298.5a2.55 2.55 0 1 0 5.1 0a2.55 2.55 0 1 0 -5.1 0M95.3 295.6a2.55 2.55 0 1 0 5.1 0a2.55 2.55 0 1 0 -5.1 0M140.9 313.1a2.55 2.55 0 1 0 5.1 0a2.55 2.55 0 1 0 -5.1 0M105.8 308.2a2.55 2.55 0 1 0 5.1 0a2.55 2.55 0 1 0 -5.1 0M152.4 288.3a2.55 2.55 0 1 0 5.1 0a2.55 2.55 0 1 0 -5.1 0M146.8 292.6a2.55 2.55 0 1 0 5.1 0a2.55 2.55 0 1 0 -5.1 0M130.7 313.3a2.55 2.55 0 1 0 5.1 0a2.55 2.55 0 1 0 -5.1 0M90.8 306.4a2.55 2.55 0 1 0 5.1 0a2.55 2.55 0 1 0 -5.1 0M115.5 315.8a2.55 2.55 0 1 0 5.1 0a2.55 2.55 0 1 0 -5.1 0M150.0 294.1a2.55 2.55 0 1 0 5.1 0a2.55 2.55 0 1 0 -5.1 0M102.4 302.8a2.55 2.55 0 1 0 5.1 0a2.55 2.55 0 1 0 -5.1 0M124.9 299.9a2.55 2.55 0 1 0 5.1 0a2.55 2.55 0 1 0 -5.1 0M127.6 302.2a2.55 2.55 0 1 0 5.1 0a2.55 2.55 0 1 0 -5.1 0M114.2 304.6a2.55 2.55 0 1 0 5.1 0a2.55 2.55 0 1 0 -5.1 0M150.1 304.4a2.55 2.55 0 1 0 5.1 0a2.55 2.55 0 1 0 -5.1 0M153.6 283.0a2.55 2.55 0 1 0 5.1 0a2.55 2.55 0 1 0 -5.1 0M144.0 312.2a2.55 2.55 0 1 0 5.1 0a2.55 2.55 0 1 0 -5.1 0M98.4 299.3a2.55 2.55 0 1 0 5.1 0a2.55 2.55 0 1 0 -5.1 0M162.2 297.3a2.55 2.55 0 1 0 5.1 0a2.55 2.55 0 1 0 -5.1 0M154.7 295.7a2.55 2.55 0 1 0 5.1 0a2.55 2.55 0 1 0 -5.1 0M111.7 309.8a2.55 2.55 0 1 0 5.1 0a2.55 2.55 0 1 0 -5.1 0M148.8 318.1a2.55 2.55 0 1 0 5.1 0a2.55 2.55 0 1 0 -5.1 0M131.3 296.7a2.55 2.55 0 1 0 5.1 0a2.55 2.55 0 1 0 -5.1 0M144.0 309.2a2.55 2.55 0 1 0 5.1 0a2.55 2.55 0 1 0 -5.1 0M139.5 283.2a2.55 2.55 0 1 0 5.1 0a2.55 2.55 0 1 0 -5.1 0M125.6 294.2a2.55 2.55 0 1 0 5.1 0a2.55 2.55 0 1 0 -5.1 0M144.5 299.8a2.55 2.55 0 1 0 5.1 0a2.55 2.55 0 1 0 -5.1 0M152.0 290.4a2.55 2.55 0 1 0 5.1 0a2.55 2.55 0 1 0 -5.1 0M114.4 298.9a2.55 2.55 0 1 0 5.1 0a2.55 2.55 0 1 0 -5.1 0M145.9 310.0a2.55 2.55 0 1 0 5.1 0a2.55 2.55 0 1 0 -5.1 0M114.4 312.4a2.55 2.55 0 1 0 5.1 0a2.55 2.55 0 1 0 -5.1 0M118.9 323.9a2.55 2.55 0 1 0 5.1 0a2.55 2.55 0 1 0 -5.1 0M146.5 305.5a2.55 2.55 0 1 0 5.1 0a2.55 2.55 0 1 0 -5.1 0M133.6 305.7a2.55 2.55 0 1 0 5.1 0a2.55 2.55 0 1 0 -5.1 0M148.6 298.1a2.55 2.55 0 1 0 5.1 0a2.55 2.55 0 1 0 -5.1 0M158.5 319.7a2.55 2.55 0 1 0 5.1 0a2.55 2.55 0 1 0 -5.1 0M162.9 315.2a2.55 2.55 0 1 0 5.1 0a2.55 2.55 0 1 0 -5.1 0M132.3 311.8a2.55 2.55 0 1 0 5.1 0a2.55 2.55 0 1 0 -5.1 0M136.9 299.8a2.55 2.55 0 1 0 5.1 0a2.55 2.55 0 1 0 -5.1 0M146.1 321.2a2.55 2.55 0 1 0 5.1 0a2.55 2.55 0 1 0 -5.1 0M161.7 308.1a2.55 2.55 0 1 0 5.1 0a2.55 2.55 0 1 0 -5.1 0M120.2 304.0a2.55 2.55 0 1 0 5.1 0a2.55 2.55 0 1 0 -5.1 0M152.8 296.9a2.55 2.55 0 1 0 5.1 0a2.55 2.55 0 1 0 -5.1 0M144.6 289.9a2.55 2.55 0 1 0 5.1 0a2.55 2.55 0 1 0 -5.1 0M139.2 308.9a2.55 2.55 0 1 0 5.1 0a2.55 2.55 0 1 0 -5.1 0M117.0 297.1a2.55 2.55 0 1 0 5.1 0a2.55 2.55 0 1 0 -5.1 0M136.3 314.0a2.55 2.55 0 1 0 5.1 0a2.55 2.55 0 1 0 -5.1 0M114.3 317.5a2.55 2.55 0 1 0 5.1 0a2.55 2.55 0 1 0 -5.1 0M130.9 296.6a2.55 2.55 0 1 0 5.1 0a2.55 2.55 0 1 0 -5.1 0M128.9 313.0a2.55 2.55 0 1 0 5.1 0a2.55 2.55 0 1 0 -5.1 0M125.2 319.7a2.55 2.55 0 1 0 5.1 0a2.55 2.55 0 1 0 -5.1 0M139.3 327.3a2.55 2.55 0 1 0 5.1 0a2.55 2.55 0 1 0 -5.1 0M141.1 305.1a2.55 2.55 0 1 0 5.1 0a2.55 2.55 0 1 0 -5.1 0M114.1 295.0a2.55 2.55 0 1 0 5.1 0a2.55 2.55 0 1 0 -5.1 0M132.7 290.5a2.55 2.55 0 1 0 5.1 0a2.55 2.55 0 1 0 -5.1 0M159.4 308.7a2.55 2.55 0 1 0 5.1 0a2.55 2.55 0 1 0 -5.1 0M115.9 314.6a2.55 2.55 0 1 0 5.1 0a2.55 2.55 0 1 0 -5.1 0M154.6 294.0a2.55 2.55 0 1 0 5.1 0a2.55 2.55 0 1 0 -5.1 0M153.3 294.6a2.55 2.55 0 1 0 5.1 0a2.55 2.55 0 1 0 -5.1 0M116.1 301.6a2.55 2.55 0 1 0 5.1 0a2.55 2.55 0 1 0 -5.1 0M140.9 288.6a2.55 2.55 0 1 0 5.1 0a2.55 2.55 0 1 0 -5.1 0M130.2 294.1a2.55 2.55 0 1 0 5.1 0a2.55 2.55 0 1 0 -5.1 0M121.6 316.8a2.55 2.55 0 1 0 5.1 0a2.55 2.55 0 1 0 -5.1 0M115.7 325.9a2.55 2.55 0 1 0 5.1 0a2.55 2.55 0 1 0 -5.1 0M163.5 302.1a2.55 2.55 0 1 0 5.1 0a2.55 2.55 0 1 0 -5.1 0M165.2 292.2a2.55 2.55 0 1 0 5.1 0a2.55 2.55 0 1 0 -5.1 0M130.3 290.7a2.55 2.55 0 1 0 5.1 0a2.55 2.55 0 1 0 -5.1 0M157.7 284.3a2.55 2.55 0 1 0 5.1 0a2.55 2.55 0 1 0 -5.1 0M124.8 312.5a2.55 2.55 0 1 0 5.1 0a2.55 2.55 0 1 0 -5.1 0M168.3 280.1a2.55 2.55 0 1 0 5.1 0a2.55 2.55 0 1 0 -5.1 0M143.5 311.4a2.55 2.55 0 1 0 5.1 0a2.55 2.55 0 1 0 -5.1 0M138.4 306.1a2.55 2.55 0 1 0 5.1 0a2.55 2.55 0 1 0 -5.1 0M109.8 314.5a2.55 2.55 0 1 0 5.1 0a2.55 2.55 0 1 0 -5.1 0M143.0 306.5a2.55 2.55 0 1 0 5.1 0a2.55 2.55 0 1 0 -5.1 0M155.0 293.3a2.55 2.55 0 1 0 5.1 0a2.55 2.55 0 1 0 -5.1 0M136.4 297.0a2.55 2.55 0 1 0 5.1 0a2.55 2.55 0 1 0 -5.1 0M119.1 310.5a2.55 2.55 0 1 0 5.1 0a2.55 2.55 0 1 0 -5.1 0M131.2 307.5a2.55 2.55 0 1 0 5.1 0a2.55 2.55 0 1 0 -5.1 0M121.8 298.2a2.55 2.55 0 1 0 5.1 0a2.55 2.55 0 1 0 -5.1 0M132.4 301.6a2.55 2.55 0 1 0 5.1 0a2.55 2.55 0 1 0 -5.1 0M123.8 303.2a2.55 2.55 0 1 0 5.1 0a2.55 2.55 0 1 0 -5.1 0M107.9 305.0a2.55 2.55 0 1 0 5.1 0a2.55 2.55 0 1 0 -5.1 0M139.9 292.8a2.55 2.55 0 1 0 5.1 0a2.55 2.55 0 1 0 -5.1 0M144.1 281.4a2.55 2.55 0 1 0 5.1 0a2.55 2.55 0 1 0 -5.1 0M129.1 316.0a2.55 2.55 0 1 0 5.1 0a2.55 2.55 0 1 0 -5.1 0M155.6 309.7a2.55 2.55 0 1 0 5.1 0a2.55 2.55 0 1 0 -5.1 0M106.7 300.3a2.55 2.55 0 1 0 5.1 0a2.55 2.55 0 1 0 -5.1 0M132.5 314.0a2.55 2.55 0 1 0 5.1 0a2.55 2.55 0 1 0 -5.1 0M147.1 300.6a2.55 2.55 0 1 0 5.1 0a2.55 2.55 0 1 0 -5.1 0M127.4 304.8a2.55 2.55 0 1 0 5.1 0a2.55 2.55 0 1 0 -5.1 0M146.4 314.4a2.55 2.55 0 1 0 5.1 0a2.55 2.55 0 1 0 -5.1 0M143.4 298.4a2.55 2.55 0 1 0 5.1 0a2.55 2.55 0 1 0 -5.1 0M133.5 323.9a2.55 2.55 0 1 0 5.1 0a2.55 2.55 0 1 0 -5.1 0M98.5 322.5a2.55 2.55 0 1 0 5.1 0a2.55 2.55 0 1 0 -5.1 0M129.0 288.3a2.55 2.55 0 1 0 5.1 0a2.55 2.55 0 1 0 -5.1 0M132.8 293.2a2.55 2.55 0 1 0 5.1 0a2.55 2.55 0 1 0 -5.1 0M155.9 295.0a2.55 2.55 0 1 0 5.1 0a2.55 2.55 0 1 0 -5.1 0M114.3 305.7a2.55 2.55 0 1 0 5.1 0a2.55 2.55 0 1 0 -5.1 0M98.0 293.7a2.55 2.55 0 1 0 5.1 0a2.55 2.55 0 1 0 -5.1 0M142.4 295.3a2.55 2.55 0 1 0 5.1 0a2.55 2.55 0 1 0 -5.1 0M133.1 310.7a2.55 2.55 0 1 0 5.1 0a2.55 2.55 0 1 0 -5.1 0M136.0 312.6a2.55 2.55 0 1 0 5.1 0a2.55 2.55 0 1 0 -5.1 0M136.3 314.2a2.55 2.55 0 1 0 5.1 0a2.55 2.55 0 1 0 -5.1 0M135.5 293.9a2.55 2.55 0 1 0 5.1 0a2.55 2.55 0 1 0 -5.1 0M139.4 317.2a2.55 2.55 0 1 0 5.1 0a2.55 2.55 0 1 0 -5.1 0M143.9 304.9a2.55 2.55 0 1 0 5.1 0a2.55 2.55 0 1 0 -5.1 0M153.5 278.6a2.55 2.55 0 1 0 5.1 0a2.55 2.55 0 1 0 -5.1 0M152.4 319.9a2.55 2.55 0 1 0 5.1 0a2.55 2.55 0 1 0 -5.1 0M118.5 324.7a2.55 2.55 0 1 0 5.1 0a2.55 2.55 0 1 0 -5.1 0M143.9 292.8a2.55 2.55 0 1 0 5.1 0a2.55 2.55 0 1 0 -5.1 0M139.8 324.8a2.55 2.55 0 1 0 5.1 0a2.55 2.55 0 1 0 -5.1 0M131.8 286.3a2.55 2.55 0 1 0 5.1 0a2.55 2.55 0 1 0 -5.1 0M140.1 314.1a2.55 2.55 0 1 0 5.1 0a2.55 2.55 0 1 0 -5.1 0M121.9 304.5a2.55 2.55 0 1 0 5.1 0a2.55 2.55 0 1 0 -5.1 0M107.6 299.1a2.55 2.55 0 1 0 5.1 0a2.55 2.55 0 1 0 -5.1 0M144.9 305.5a2.55 2.55 0 1 0 5.1 0a2.55 2.55 0 1 0 -5.1 0M89.6 302.8a2.55 2.55 0 1 0 5.1 0a2.55 2.55 0 1 0 -5.1 0M146.3 310.5a2.55 2.55 0 1 0 5.1 0a2.55 2.55 0 1 0 -5.1 0M125.9 291.9a2.55 2.55 0 1 0 5.1 0a2.55 2.55 0 1 0 -5.1 0M157.8 292.2a2.55 2.55 0 1 0 5.1 0a2.55 2.55 0 1 0 -5.1 0M148.2 313.5a2.55 2.55 0 1 0 5.1 0a2.55 2.55 0 1 0 -5.1 0M111.6 320.0a2.55 2.55 0 1 0 5.1 0a2.55 2.55 0 1 0 -5.1 0M108.1 303.0a2.55 2.55 0 1 0 5.1 0a2.55 2.55 0 1 0 -5.1 0M146.1 282.0a2.55 2.55 0 1 0 5.1 0a2.55 2.55 0 1 0 -5.1 0M159.7 288.7a2.55 2.55 0 1 0 5.1 0a2.55 2.55 0 1 0 -5.1 0M150.0 307.1a2.55 2.55 0 1 0 5.1 0a2.55 2.55 0 1 0 -5.1 0M100.2 316.5a2.55 2.55 0 1 0 5.1 0a2.55 2.55 0 1 0 -5.1 0M122.9 315.1a2.55 2.55 0 1 0 5.1 0a2.55 2.55 0 1 0 -5.1 0M128.1 297.7a2.55 2.55 0 1 0 5.1 0a2.55 2.55 0 1 0 -5.1 0M158.9 289.4a2.55 2.55 0 1 0 5.1 0a2.55 2.55 0 1 0 -5.1 0M141.2 286.5a2.55 2.55 0 1 0 5.1 0a2.55 2.55 0 1 0 -5.1 0M91.3 298.9a2.55 2.55 0 1 0 5.1 0a2.55 2.55 0 1 0 -5.1 0M146.2 312.5a2.55 2.55 0 1 0 5.1 0a2.55 2.55 0 1 0 -5.1 0M121.4 307.9a2.55 2.55 0 1 0 5.1 0a2.55 2.55 0 1 0 -5.1 0M138.4 291.2a2.55 2.55 0 1 0 5.1 0a2.55 2.55 0 1 0 -5.1 0M151.4 317.8a2.55 2.55 0 1 0 5.1 0a2.55 2.55 0 1 0 -5.1 0M107.6 306.0a2.55 2.55 0 1 0 5.1 0a2.55 2.55 0 1 0 -5.1 0M137.2 320.4a2.55 2.55 0 1 0 5.1 0a2.55 2.55 0 1 0 -5.1 0M170.1 292.4a2.55 2.55 0 1 0 5.1 0a2.55 2.55 0 1 0 -5.1 0M127.6 321.7a2.55 2.55 0 1 0 5.1 0a2.55 2.55 0 1 0 -5.1 0M157.5 289.1a2.55 2.55 0 1 0 5.1 0a2.55 2.55 0 1 0 -5.1 0M129.0 331.2a2.55 2.55 0 1 0 5.1 0a2.55 2.55 0 1 0 -5.1 0M104.7 312.2a2.55 2.55 0 1 0 5.1 0a2.55 2.55 0 1 0 -5.1 0M145.5 294.4a2.55 2.55 0 1 0 5.1 0a2.55 2.55 0 1 0 -5.1 0M152.1 305.0a2.55 2.55 0 1 0 5.1 0a2.55 2.55 0 1 0 -5.1 0M142.6 310.0a2.55 2.55 0 1 0 5.1 0a2.55 2.55 0 1 0 -5.1 0M137.4 310.1a2.55 2.55 0 1 0 5.1 0a2.55 2.55 0 1 0 -5.1 0M124.4 288.2a2.55 2.55 0 1 0 5.1 0a2.55 2.55 0 1 0 -5.1 0M163.8 302.9a2.55 2.55 0 1 0 5.1 0a2.55 2.55 0 1 0 -5.1 0M147.3 302.8a2.55 2.55 0 1 0 5.1 0a2.55 2.55 0 1 0 -5.1 0M149.2 327.8a2.55 2.55 0 1 0 5.1 0a2.55 2.55 0 1 0 -5.1 0M148.0 288.9a2.55 2.55 0 1 0 5.1 0a2.55 2.55 0 1 0 -5.1 0M117.1 315.1a2.55 2.55 0 1 0 5.1 0a2.55 2.55 0 1 0 -5.1 0M144.1 312.4a2.55 2.55 0 1 0 5.1 0a2.55 2.55 0 1 0 -5.1 0M163.4 281.5a2.55 2.55 0 1 0 5.1 0a2.55 2.55 0 1 0 -5.1 0M116.5 307.6a2.55 2.55 0 1 0 5.1 0a2.55 2.55 0 1 0 -5.1 0M149.4 327.9a2.55 2.55 0 1 0 5.1 0a2.55 2.55 0 1 0 -5.1 0M148.8 309.9a2.55 2.55 0 1 0 5.1 0a2.55 2.55 0 1 0 -5.1 0M152.8 319.2a2.55 2.55 0 1 0 5.1 0a2.55 2.55 0 1 0 -5.1 0M123.7 292.7a2.55 2.55 0 1 0 5.1 0a2.55 2.55 0 1 0 -5.1 0M143.4 296.6a2.55 2.55 0 1 0 5.1 0a2.55 2.55 0 1 0 -5.1 0M135.7 294.4a2.55 2.55 0 1 0 5.1 0a2.55 2.55 0 1 0 -5.1 0M136.6 287.6a2.55 2.55 0 1 0 5.1 0a2.55 2.55 0 1 0 -5.1 0M109.3 309.7a2.55 2.55 0 1 0 5.1 0a2.55 2.55 0 1 0 -5.1 0M158.7 298.4a2.55 2.55 0 1 0 5.1 0a2.55 2.55 0 1 0 -5.1 0M132.5 316.9a2.55 2.55 0 1 0 5.1 0a2.55 2.55 0 1 0 -5.1 0M141.5 284.7a2.55 2.55 0 1 0 5.1 0a2.55 2.55 0 1 0 -5.1 0M152.1 306.0a2.55 2.55 0 1 0 5.1 0a2.55 2.55 0 1 0 -5.1 0M143.6 305.8a2.55 2.55 0 1 0 5.1 0a2.55 2.55 0 1 0 -5.1 0M122.7 307.6a2.55 2.55 0 1 0 5.1 0a2.55 2.55 0 1 0 -5.1 0M160.5 301.4a2.55 2.55 0 1 0 5.1 0a2.55 2.55 0 1 0 -5.1 0M134.7 304.2a2.55 2.55 0 1 0 5.1 0a2.55 2.55 0 1 0 -5.1 0M135.7 312.9a2.55 2.55 0 1 0 5.1 0a2.55 2.55 0 1 0 -5.1 0M129.0 299.6a2.55 2.55 0 1 0 5.1 0a2.55 2.55 0 1 0 -5.1 0M162.0 296.4a2.55 2.55 0 1 0 5.1 0a2.55 2.55 0 1 0 -5.1 0M108.0 309.3a2.55 2.55 0 1 0 5.1 0a2.55 2.55 0 1 0 -5.1 0M135.6 309.3a2.55 2.55 0 1 0 5.1 0a2.55 2.55 0 1 0 -5.1 0M143.5 333.0a2.55 2.55 0 1 0 5.1 0a2.55 2.55 0 1 0 -5.1 0M125.3 299.3a2.55 2.55 0 1 0 5.1 0a2.55 2.55 0 1 0 -5.1 0M102.6 296.7a2.55 2.55 0 1 0 5.1 0a2.55 2.55 0 1 0 -5.1 0M151.7 295.3a2.55 2.55 0 1 0 5.1 0a2.55 2.55 0 1 0 -5.1 0M148.2 295.6a2.55 2.55 0 1 0 5.1 0a2.55 2.55 0 1 0 -5.1 0M137.6 295.4a2.55 2.55 0 1 0 5.1 0a2.55 2.55 0 1 0 -5.1 0M154.0 300.1a2.55 2.55 0 1 0 5.1 0a2.55 2.55 0 1 0 -5.1 0M112.4 309.4a2.55 2.55 0 1 0 5.1 0a2.55 2.55 0 1 0 -5.1 0M139.3 292.8a2.55 2.55 0 1 0 5.1 0a2.55 2.55 0 1 0 -5.1 0M151.6 305.3a2.55 2.55 0 1 0 5.1 0a2.55 2.55 0 1 0 -5.1 0M139.5 322.5a2.55 2.55 0 1 0 5.1 0a2.55 2.55 0 1 0 -5.1 0M143.7 304.8a2.55 2.55 0 1 0 5.1 0a2.55 2.55 0 1 0 -5.1 0M154.9 316.3a2.55 2.55 0 1 0 5.1 0a2.55 2.55 0 1 0 -5.1 0M138.5 310.3a2.55 2.55 0 1 0 5.1 0a2.55 2.55 0 1 0 -5.1 0M136.9 309.4a2.55 2.55 0 1 0 5.1 0a2.55 2.55 0 1 0 -5.1 0M152.3 290.0a2.55 2.55 0 1 0 5.1 0a2.55 2.55 0 1 0 -5.1 0M135.5 312.2a2.55 2.55 0 1 0 5.1 0a2.55 2.55 0 1 0 -5.1 0M120.0 307.7a2.55 2.55 0 1 0 5.1 0a2.55 2.55 0 1 0 -5.1 0M123.9 292.8a2.55 2.55 0 1 0 5.1 0a2.55 2.55 0 1 0 -5.1 0M145.5 285.8a2.55 2.55 0 1 0 5.1 0a2.55 2.55 0 1 0 -5.1 0M117.4 304.9a2.55 2.55 0 1 0 5.1 0a2.55 2.55 0 1 0 -5.1 0M105.3 290.1a2.55 2.55 0 1 0 5.1 0a2.55 2.55 0 1 0 -5.1 0M162.2 282.0a2.55 2.55 0 1 0 5.1 0a2.55 2.55 0 1 0 -5.1 0M140.3 310.5a2.55 2.55 0 1 0 5.1 0a2.55 2.55 0 1 0 -5.1 0M99.2 314.3a2.55 2.55 0 1 0 5.1 0a2.55 2.55 0 1 0 -5.1 0M162.2 312.9a2.55 2.55 0 1 0 5.1 0a2.55 2.55 0 1 0 -5.1 0M154.9 308.2a2.55 2.55 0 1 0 5.1 0a2.55 2.55 0 1 0 -5.1 0M128.8 290.0a2.55 2.55 0 1 0 5.1 0a2.55 2.55 0 1 0 -5.1 0M141.3 302.8a2.55 2.55 0 1 0 5.1 0a2.55 2.55 0 1 0 -5.1 0M142.6 302.0a2.55 2.55 0 1 0 5.1 0a2.55 2.55 0 1 0 -5.1 0M146.8 324.4a2.55 2.55 0 1 0 5.1 0a2.55 2.55 0 1 0 -5.1 0M115.4 317.9a2.55 2.55 0 1 0 5.1 0a2.55 2.55 0 1 0 -5.1 0M146.4 307.7a2.55 2.55 0 1 0 5.1 0a2.55 2.55 0 1 0 -5.1 0M132.8 294.5a2.55 2.55 0 1 0 5.1 0a2.55 2.55 0 1 0 -5.1 0M103.3 299.2a2.55 2.55 0 1 0 5.1 0a2.55 2.55 0 1 0 -5.1 0M119.5 315.3a2.55 2.55 0 1 0 5.1 0a2.55 2.55 0 1 0 -5.1 0M156.0 298.5a2.55 2.55 0 1 0 5.1 0a2.55 2.55 0 1 0 -5.1 0M147.6 314.5a2.55 2.55 0 1 0 5.1 0a2.55 2.55 0 1 0 -5.1 0M131.7 307.8a2.55 2.55 0 1 0 5.1 0a2.55 2.55 0 1 0 -5.1 0M148.6 308.3a2.55 2.55 0 1 0 5.1 0a2.55 2.55 0 1 0 -5.1 0M137.9 326.1a2.55 2.55 0 1 0 5.1 0a2.55 2.55 0 1 0 -5.1 0M101.1 302.6a2.55 2.55 0 1 0 5.1 0a2.55 2.55 0 1 0 -5.1 0M139.8 325.3a2.55 2.55 0 1 0 5.1 0a2.55 2.55 0 1 0 -5.1 0M119.5 316.7a2.55 2.55 0 1 0 5.1 0a2.55 2.55 0 1 0 -5.1 0M139.7 289.6a2.55 2.55 0 1 0 5.1 0a2.55 2.55 0 1 0 -5.1 0M113.9 317.7a2.55 2.55 0 1 0 5.1 0a2.55 2.55 0 1 0 -5.1 0M155.3 323.8a2.55 2.55 0 1 0 5.1 0a2.55 2.55 0 1 0 -5.1 0M122.0 308.7a2.55 2.55 0 1 0 5.1 0a2.55 2.55 0 1 0 -5.1 0M156.7 304.5a2.55 2.55 0 1 0 5.1 0a2.55 2.55 0 1 0 -5.1 0M123.6 317.4a2.55 2.55 0 1 0 5.1 0a2.55 2.55 0 1 0 -5.1 0M135.8 292.1a2.55 2.55 0 1 0 5.1 0a2.55 2.55 0 1 0 -5.1 0M142.3 290.8a2.55 2.55 0 1 0 5.1 0a2.55 2.55 0 1 0 -5.1 0M131.9 307.2a2.55 2.55 0 1 0 5.1 0a2.55 2.55 0 1 0 -5.1 0M145.3 296.3a2.55 2.55 0 1 0 5.1 0a2.55 2.55 0 1 0 -5.1 0M95.0 325.8a2.55 2.55 0 1 0 5.1 0a2.55 2.55 0 1 0 -5.1 0M132.3 298.8a2.55 2.55 0 1 0 5.1 0a2.55 2.55 0 1 0 -5.1 0M123.6 297.2a2.55 2.55 0 1 0 5.1 0a2.55 2.55 0 1 0 -5.1 0M142.4 304.2a2.55 2.55 0 1 0 5.1 0a2.55 2.55 0 1 0 -5.1 0M135.1 307.7a2.55 2.55 0 1 0 5.1 0a2.55 2.55 0 1 0 -5.1 0M149.5 296.0a2.55 2.55 0 1 0 5.1 0a2.55 2.55 0 1 0 -5.1 0M143.1 315.5a2.55 2.55 0 1 0 5.1 0a2.55 2.55 0 1 0 -5.1 0M140.1 313.1a2.55 2.55 0 1 0 5.1 0a2.55 2.55 0 1 0 -5.1 0M142.4 306.1a2.55 2.55 0 1 0 5.1 0a2.55 2.55 0 1 0 -5.1 0M156.9 286.4a2.55 2.55 0 1 0 5.1 0a2.55 2.55 0 1 0 -5.1 0M117.0 306.2a2.55 2.55 0 1 0 5.1 0a2.55 2.55 0 1 0 -5.1 0M132.7 287.1a2.55 2.55 0 1 0 5.1 0a2.55 2.55 0 1 0 -5.1 0M130.1 317.6a2.55 2.55 0 1 0 5.1 0a2.55 2.55 0 1 0 -5.1 0M159.1 315.4a2.55 2.55 0 1 0 5.1 0a2.55 2.55 0 1 0 -5.1 0M140.3 289.6a2.55 2.55 0 1 0 5.1 0a2.55 2.55 0 1 0 -5.1 0M133.9 306.4a2.55 2.55 0 1 0 5.1 0a2.55 2.55 0 1 0 -5.1 0M135.1 285.6a2.55 2.55 0 1 0 5.1 0a2.55 2.55 0 1 0 -5.1 0M128.9 307.9a2.55 2.55 0 1 0 5.1 0a2.55 2.55 0 1 0 -5.1 0M117.6 304.8a2.55 2.55 0 1 0 5.1 0a2.55 2.55 0 1 0 -5.1 0M163.8 301.2a2.55 2.55 0 1 0 5.1 0a2.55 2.55 0 1 0 -5.1 0M136.1 301.1a2.55 2.55 0 1 0 5.1 0a2.55 2.55 0 1 0 -5.1 0M115.9 295.3a2.55 2.55 0 1 0 5.1 0a2.55 2.55 0 1 0 -5.1 0M125.6 304.8a2.55 2.55 0 1 0 5.1 0a2.55 2.55 0 1 0 -5.1 0M111.2 319.9a2.55 2.55 0 1 0 5.1 0a2.55 2.55 0 1 0 -5.1 0M125.9 327.6a2.55 2.55 0 1 0 5.1 0a2.55 2.55 0 1 0 -5.1 0M118.6 298.8a2.55 2.55 0 1 0 5.1 0a2.55 2.55 0 1 0 -5.1 0M137.3 317.0a2.55 2.55 0 1 0 5.1 0a2.55 2.55 0 1 0 -5.1 0M145.2 301.4a2.55 2.55 0 1 0 5.1 0a2.55 2.55 0 1 0 -5.1 0M151.6 284.1a2.55 2.55 0 1 0 5.1 0a2.55 2.55 0 1 0 -5.1 0M151.2 287.1a2.55 2.55 0 1 0 5.1 0a2.55 2.55 0 1 0 -5.1 0M118.8 299.7a2.55 2.55 0 1 0 5.1 0a2.55 2.55 0 1 0 -5.1 0M132.6 292.4a2.55 2.55 0 1 0 5.1 0a2.55 2.55 0 1 0 -5.1 0M128.5 309.8a2.55 2.55 0 1 0 5.1 0a2.55 2.55 0 1 0 -5.1 0M147.9 305.9a2.55 2.55 0 1 0 5.1 0a2.55 2.55 0 1 0 -5.1 0M127.1 314.9a2.55 2.55 0 1 0 5.1 0a2.55 2.55 0 1 0 -5.1 0M95.2 318.7a2.55 2.55 0 1 0 5.1 0a2.55 2.55 0 1 0 -5.1 0M147.0 302.0a2.55 2.55 0 1 0 5.1 0a2.55 2.55 0 1 0 -5.1 0M136.3 311.7a2.55 2.55 0 1 0 5.1 0a2.55 2.55 0 1 0 -5.1 0M117.3 286.5a2.55 2.55 0 1 0 5.1 0a2.55 2.55 0 1 0 -5.1 0M143.9 307.9a2.55 2.55 0 1 0 5.1 0a2.55 2.55 0 1 0 -5.1 0M102.4 317.3a2.55 2.55 0 1 0 5.1 0a2.55 2.55 0 1 0 -5.1 0M145.1 285.8a2.55 2.55 0 1 0 5.1 0a2.55 2.55 0 1 0 -5.1 0M123.0 323.2a2.55 2.55 0 1 0 5.1 0a2.55 2.55 0 1 0 -5.1 0M134.5 327.0a2.55 2.55 0 1 0 5.1 0a2.55 2.55 0 1 0 -5.1 0M136.3 289.9a2.55 2.55 0 1 0 5.1 0a2.55 2.55 0 1 0 -5.1 0M122.8 321.4a2.55 2.55 0 1 0 5.1 0a2.55 2.55 0 1 0 -5.1 0M160.7 283.6a2.55 2.55 0 1 0 5.1 0a2.55 2.55 0 1 0 -5.1 0M128.7 317.9a2.55 2.55 0 1 0 5.1 0a2.55 2.55 0 1 0 -5.1 0M92.9 321.1a2.55 2.55 0 1 0 5.1 0a2.55 2.55 0 1 0 -5.1 0M103.3 319.5a2.55 2.55 0 1 0 5.1 0a2.55 2.55 0 1 0 -5.1 0M127.9 303.7a2.55 2.55 0 1 0 5.1 0a2.55 2.55 0 1 0 -5.1 0M155.2 294.4a2.55 2.55 0 1 0 5.1 0a2.55 2.55 0 1 0 -5.1 0M123.2 321.4a2.55 2.55 0 1 0 5.1 0a2.55 2.55 0 1 0 -5.1 0M133.6 290.0a2.55 2.55 0 1 0 5.1 0a2.55 2.55 0 1 0 -5.1 0M139.9 289.5a2.55 2.55 0 1 0 5.1 0a2.55 2.55 0 1 0 -5.1 0M137.0 305.7a2.55 2.55 0 1 0 5.1 0a2.55 2.55 0 1 0 -5.1 0M155.5 312.3a2.55 2.55 0 1 0 5.1 0a2.55 2.55 0 1 0 -5.1 0M131.6 288.9a2.55 2.55 0 1 0 5.1 0a2.55 2.55 0 1 0 -5.1 0M136.6 307.4a2.55 2.55 0 1 0 5.1 0a2.55 2.55 0 1 0 -5.1 0M140.5 313.5a2.55 2.55 0 1 0 5.1 0a2.55 2.55 0 1 0 -5.1 0M140.4 305.4a2.55 2.55 0 1 0 5.1 0a2.55 2.55 0 1 0 -5.1 0M125.7 293.8a2.55 2.55 0 1 0 5.1 0a2.55 2.55 0 1 0 -5.1 0M156.6 300.9a2.55 2.55 0 1 0 5.1 0a2.55 2.55 0 1 0 -5.1 0M131.7 306.9a2.55 2.55 0 1 0 5.1 0a2.55 2.55 0 1 0 -5.1 0M162.5 302.1a2.55 2.55 0 1 0 5.1 0a2.55 2.55 0 1 0 -5.1 0M134.0 302.3a2.55 2.55 0 1 0 5.1 0a2.55 2.55 0 1 0 -5.1 0M149.9 282.5a2.55 2.55 0 1 0 5.1 0a2.55 2.55 0 1 0 -5.1 0M156.3 302.5a2.55 2.55 0 1 0 5.1 0a2.55 2.55 0 1 0 -5.1 0M126.0 292.2a2.55 2.55 0 1 0 5.1 0a2.55 2.55 0 1 0 -5.1 0M121.3 294.2a2.55 2.55 0 1 0 5.1 0a2.55 2.55 0 1 0 -5.1 0M118.8 327.4a2.55 2.55 0 1 0 5.1 0a2.55 2.55 0 1 0 -5.1 0M144.2 300.1a2.55 2.55 0 1 0 5.1 0a2.55 2.55 0 1 0 -5.1 0M123.0 307.2a2.55 2.55 0 1 0 5.1 0a2.55 2.55 0 1 0 -5.1 0M141.1 316.3a2.55 2.55 0 1 0 5.1 0a2.55 2.55 0 1 0 -5.1 0M126.1 294.8a2.55 2.55 0 1 0 5.1 0a2.55 2.55 0 1 0 -5.1 0M124.1 294.8a2.55 2.55 0 1 0 5.1 0a2.55 2.55 0 1 0 -5.1 0M94.9 323.2a2.55 2.55 0 1 0 5.1 0a2.55 2.55 0 1 0 -5.1 0M105.4 308.1a2.55 2.55 0 1 0 5.1 0a2.55 2.55 0 1 0 -5.1 0M150.2 324.0a2.55 2.55 0 1 0 5.1 0a2.55 2.55 0 1 0 -5.1 0M149.4 322.6a2.55 2.55 0 1 0 5.1 0a2.55 2.55 0 1 0 -5.1 0M138.5 287.5a2.55 2.55 0 1 0 5.1 0a2.55 2.55 0 1 0 -5.1 0M105.7 320.0a2.55 2.55 0 1 0 5.1 0a2.55 2.55 0 1 0 -5.1 0M152.7 314.1a2.55 2.55 0 1 0 5.1 0a2.55 2.55 0 1 0 -5.1 0M147.9 306.2a2.55 2.55 0 1 0 5.1 0a2.55 2.55 0 1 0 -5.1 0M139.4 290.0a2.55 2.55 0 1 0 5.1 0a2.55 2.55 0 1 0 -5.1 0M148.5 309.0a2.55 2.55 0 1 0 5.1 0a2.55 2.55 0 1 0 -5.1 0M141.4 320.0a2.55 2.55 0 1 0 5.1 0a2.55 2.55 0 1 0 -5.1 0M139.5 291.4a2.55 2.55 0 1 0 5.1 0a2.55 2.55 0 1 0 -5.1 0M124.1 314.7a2.55 2.55 0 1 0 5.1 0a2.55 2.55 0 1 0 -5.1 0M108.7 311.1a2.55 2.55 0 1 0 5.1 0a2.55 2.55 0 1 0 -5.1 0M111.3 328.0a2.55 2.55 0 1 0 5.1 0a2.55 2.55 0 1 0 -5.1 0M117.0 306.0a2.55 2.55 0 1 0 5.1 0a2.55 2.55 0 1 0 -5.1 0M101.5 303.1a2.55 2.55 0 1 0 5.1 0a2.55 2.55 0 1 0 -5.1 0M132.1 309.9a2.55 2.55 0 1 0 5.1 0a2.55 2.55 0 1 0 -5.1 0M140.4 301.8a2.55 2.55 0 1 0 5.1 0a2.55 2.55 0 1 0 -5.1 0M127.1 285.3a2.55 2.55 0 1 0 5.1 0a2.55 2.55 0 1 0 -5.1 0M134.4 295.9a2.55 2.55 0 1 0 5.1 0a2.55 2.55 0 1 0 -5.1 0M148.4 327.3a2.55 2.55 0 1 0 5.1 0a2.55 2.55 0 1 0 -5.1 0M130.3 316.2a2.55 2.55 0 1 0 5.1 0a2.55 2.55 0 1 0 -5.1 0M127.6 310.1a2.55 2.55 0 1 0 5.1 0a2.55 2.55 0 1 0 -5.1 0M125.1 317.5a2.55 2.55 0 1 0 5.1 0a2.55 2.55 0 1 0 -5.1 0M124.5 317.8a2.55 2.55 0 1 0 5.1 0a2.55 2.55 0 1 0 -5.1 0M148.6 306.3a2.55 2.55 0 1 0 5.1 0a2.55 2.55 0 1 0 -5.1 0M143.4 300.6a2.55 2.55 0 1 0 5.1 0a2.55 2.55 0 1 0 -5.1 0M123.1 315.7a2.55 2.55 0 1 0 5.1 0a2.55 2.55 0 1 0 -5.1 0M126.9 314.4a2.55 2.55 0 1 0 5.1 0a2.55 2.55 0 1 0 -5.1 0M158.3 289.5a2.55 2.55 0 1 0 5.1 0a2.55 2.55 0 1 0 -5.1 0M112.6 315.2a2.55 2.55 0 1 0 5.1 0a2.55 2.55 0 1 0 -5.1 0M123.5 304.5a2.55 2.55 0 1 0 5.1 0a2.55 2.55 0 1 0 -5.1 0M113.7 293.2a2.55 2.55 0 1 0 5.1 0a2.55 2.55 0 1 0 -5.1 0M121.8 292.4a2.55 2.55 0 1 0 5.1 0a2.55 2.55 0 1 0 -5.1 0M123.0 320.1a2.55 2.55 0 1 0 5.1 0a2.55 2.55 0 1 0 -5.1 0M128.5 293.3a2.55 2.55 0 1 0 5.1 0a2.55 2.55 0 1 0 -5.1 0M129.8 306.8a2.55 2.55 0 1 0 5.1 0a2.55 2.55 0 1 0 -5.1 0M134.8 323.1a2.55 2.55 0 1 0 5.1 0a2.55 2.55 0 1 0 -5.1 0M129.2 288.4a2.55 2.55 0 1 0 5.1 0a2.55 2.55 0 1 0 -5.1 0M126.4 301.8a2.55 2.55 0 1 0 5.1 0a2.55 2.55 0 1 0 -5.1 0M114.6 314.1a2.55 2.55 0 1 0 5.1 0a2.55 2.55 0 1 0 -5.1 0M123.4 285.2a2.55 2.55 0 1 0 5.1 0a2.55 2.55 0 1 0 -5.1 0M159.0 309.3a2.55 2.55 0 1 0 5.1 0a2.55 2.55 0 1 0 -5.1 0M155.8 306.1a2.55 2.55 0 1 0 5.1 0a2.55 2.55 0 1 0 -5.1 0M109.1 314.6a2.55 2.55 0 1 0 5.1 0a2.55 2.55 0 1 0 -5.1 0M125.1 302.7a2.55 2.55 0 1 0 5.1 0a2.55 2.55 0 1 0 -5.1 0M140.2 288.5a2.55 2.55 0 1 0 5.1 0a2.55 2.55 0 1 0 -5.1 0M136.7 312.0a2.55 2.55 0 1 0 5.1 0a2.55 2.55 0 1 0 -5.1 0M136.2 316.7a2.55 2.55 0 1 0 5.1 0a2.55 2.55 0 1 0 -5.1 0M137.9 296.2a2.55 2.55 0 1 0 5.1 0a2.55 2.55 0 1 0 -5.1 0M128.5 325.3a2.55 2.55 0 1 0 5.1 0a2.55 2.55 0 1 0 -5.1 0M161.5 292.0a2.55 2.55 0 1 0 5.1 0a2.55 2.55 0 1 0 -5.1 0M105.1 318.6a2.55 2.55 0 1 0 5.1 0a2.55 2.55 0 1 0 -5.1 0M133.1 302.1a2.55 2.55 0 1 0 5.1 0a2.55 2.55 0 1 0 -5.1 0M135.7 294.2a2.55 2.55 0 1 0 5.1 0a2.55 2.55 0 1 0 -5.1 0M157.6 288.9a2.55 2.55 0 1 0 5.1 0a2.55 2.55 0 1 0 -5.1 0M97.2 310.2a2.55 2.55 0 1 0 5.1 0a2.55 2.55 0 1 0 -5.1 0M94.9 319.2a2.55 2.55 0 1 0 5.1 0a2.55 2.55 0 1 0 -5.1 0M154.0 328.0a2.55 2.55 0 1 0 5.1 0a2.55 2.55 0 1 0 -5.1 0M142.3 313.9a2.55 2.55 0 1 0 5.1 0a2.55 2.55 0 1 0 -5.1 0M131.5 287.8a2.55 2.55 0 1 0 5.1 0a2.55 2.55 0 1 0 -5.1 0M120.1 300.4a2.55 2.55 0 1 0 5.1 0a2.55 2.55 0 1 0 -5.1 0M130.0 318.9a2.55 2.55 0 1 0 5.1 0a2.55 2.55 0 1 0 -5.1 0M119.4 313.9a2.55 2.55 0 1 0 5.1 0a2.55 2.55 0 1 0 -5.1 0M141.1 321.1a2.55 2.55 0 1 0 5.1 0a2.55 2.55 0 1 0 -5.1 0M126.1 301.5a2.55 2.55 0 1 0 5.1 0a2.55 2.55 0 1 0 -5.1 0M151.6 316.1a2.55 2.55 0 1 0 5.1 0a2.55 2.55 0 1 0 -5.1 0M155.7 291.5a2.55 2.55 0 1 0 5.1 0a2.55 2.55 0 1 0 -5.1 0M113.0 295.2a2.55 2.55 0 1 0 5.1 0a2.55 2.55 0 1 0 -5.1 0M107.0 322.9a2.55 2.55 0 1 0 5.1 0a2.55 2.55 0 1 0 -5.1 0M158.4 293.2a2.55 2.55 0 1 0 5.1 0a2.55 2.55 0 1 0 -5.1 0M142.0 302.0a2.55 2.55 0 1 0 5.1 0a2.55 2.55 0 1 0 -5.1 0M162.1 308.2a2.55 2.55 0 1 0 5.1 0a2.55 2.55 0 1 0 -5.1 0M148.1 310.2a2.55 2.55 0 1 0 5.1 0a2.55 2.55 0 1 0 -5.1 0M155.7 313.5a2.55 2.55 0 1 0 5.1 0a2.55 2.55 0 1 0 -5.1 0M110.3 319.8a2.55 2.55 0 1 0 5.1 0a2.55 2.55 0 1 0 -5.1 0M108.7 293.2a2.55 2.55 0 1 0 5.1 0a2.55 2.55 0 1 0 -5.1 0M125.9 313.6a2.55 2.55 0 1 0 5.1 0a2.55 2.55 0 1 0 -5.1 0M111.5 305.7a2.55 2.55 0 1 0 5.1 0a2.55 2.55 0 1 0 -5.1 0M152.4 298.9a2.55 2.55 0 1 0 5.1 0a2.55 2.55 0 1 0 -5.1 0M151.1 321.5a2.55 2.55 0 1 0 5.1 0a2.55 2.55 0 1 0 -5.1 0M136.5 310.0a2.55 2.55 0 1 0 5.1 0a2.55 2.55 0 1 0 -5.1 0M153.4 313.2a2.55 2.55 0 1 0 5.1 0a2.55 2.55 0 1 0 -5.1 0M121.0 321.3a2.55 2.55 0 1 0 5.1 0a2.55 2.55 0 1 0 -5.1 0M153.0 297.9a2.55 2.55 0 1 0 5.1 0a2.55 2.55 0 1 0 -5.1 0M138.3 291.6a2.55 2.55 0 1 0 5.1 0a2.55 2.55 0 1 0 -5.1 0M139.2 310.9a2.55 2.55 0 1 0 5.1 0a2.55 2.55 0 1 0 -5.1 0M119.8 302.3a2.55 2.55 0 1 0 5.1 0a2.55 2.55 0 1 0 -5.1 0M163.8 297.8a2.55 2.55 0 1 0 5.1 0a2.55 2.55 0 1 0 -5.1 0M108.2 304.9a2.55 2.55 0 1 0 5.1 0a2.55 2.55 0 1 0 -5.1 0M114.4 296.3a2.55 2.55 0 1 0 5.1 0a2.55 2.55 0 1 0 -5.1 0M112.0 290.0a2.55 2.55 0 1 0 5.1 0a2.55 2.55 0 1 0 -5.1 0M122.8 297.0a2.55 2.55 0 1 0 5.1 0a2.55 2.55 0 1 0 -5.1 0M109.9 314.8a2.55 2.55 0 1 0 5.1 0a2.55 2.55 0 1 0 -5.1 0M100.5 323.8a2.55 2.55 0 1 0 5.1 0a2.55 2.55 0 1 0 -5.1 0M154.4 281.0a2.55 2.55 0 1 0 5.1 0a2.55 2.55 0 1 0 -5.1 0M147.4 300.5a2.55 2.55 0 1 0 5.1 0a2.55 2.55 0 1 0 -5.1 0M145.2 310.6a2.55 2.55 0 1 0 5.1 0a2.55 2.55 0 1 0 -5.1 0M146.2 315.3a2.55 2.55 0 1 0 5.1 0a2.55 2.55 0 1 0 -5.1 0M152.7 311.8a2.55 2.55 0 1 0 5.1 0a2.55 2.55 0 1 0 -5.1 0M120.1 299.7a2.55 2.55 0 1 0 5.1 0a2.55 2.55 0 1 0 -5.1 0M140.7 283.9a2.55 2.55 0 1 0 5.1 0a2.55 2.55 0 1 0 -5.1 0M143.9 303.8a2.55 2.55 0 1 0 5.1 0a2.55 2.55 0 1 0 -5.1 0M127.6 315.4a2.55 2.55 0 1 0 5.1 0a2.55 2.55 0 1 0 -5.1 0M150.3 316.5a2.55 2.55 0 1 0 5.1 0a2.55 2.55 0 1 0 -5.1 0M135.4 308.1a2.55 2.55 0 1 0 5.1 0a2.55 2.55 0 1 0 -5.1 0M135.2 309.7a2.55 2.55 0 1 0 5.1 0a2.55 2.55 0 1 0 -5.1 0M155.5 302.7a2.55 2.55 0 1 0 5.1 0a2.55 2.55 0 1 0 -5.1 0M147.9 299.5a2.55 2.55 0 1 0 5.1 0a2.55 2.55 0 1 0 -5.1 0M141.1 292.6a2.55 2.55 0 1 0 5.1 0a2.55 2.55 0 1 0 -5.1 0M151.6 285.7a2.55 2.55 0 1 0 5.1 0a2.55 2.55 0 1 0 -5.1 0M125.6 294.1a2.55 2.55 0 1 0 5.1 0a2.55 2.55 0 1 0 -5.1 0M127.0 292.3a2.55 2.55 0 1 0 5.1 0a2.55 2.55 0 1 0 -5.1 0M129.2 299.1a2.55 2.55 0 1 0 5.1 0a2.55 2.55 0 1 0 -5.1 0M133.9 324.9a2.55 2.55 0 1 0 5.1 0a2.55 2.55 0 1 0 -5.1 0M149.2 310.2a2.55 2.55 0 1 0 5.1 0a2.55 2.55 0 1 0 -5.1 0M131.1 305.8a2.55 2.55 0 1 0 5.1 0a2.55 2.55 0 1 0 -5.1 0M110.7 300.8a2.55 2.55 0 1 0 5.1 0a2.55 2.55 0 1 0 -5.1 0M124.0 304.5a2.55 2.55 0 1 0 5.1 0a2.55 2.55 0 1 0 -5.1 0M134.6 320.7a2.55 2.55 0 1 0 5.1 0a2.55 2.55 0 1 0 -5.1 0M143.3 311.7a2.55 2.55 0 1 0 5.1 0a2.55 2.55 0 1 0 -5.1 0M151.7 307.8a2.55 2.55 0 1 0 5.1 0a2.55 2.55 0 1 0 -5.1 0M147.9 312.2a2.55 2.55 0 1 0 5.1 0a2.55 2.55 0 1 0 -5.1 0M119.8 311.4a2.55 2.55 0 1 0 5.1 0a2.55 2.55 0 1 0 -5.1 0M150.1 303.5a2.55 2.55 0 1 0 5.1 0a2.55 2.55 0 1 0 -5.1 0M142.8 330.6a2.55 2.55 0 1 0 5.1 0a2.55 2.55 0 1 0 -5.1 0M138.3 290.0a2.55 2.55 0 1 0 5.1 0a2.55 2.55 0 1 0 -5.1 0M110.9 306.8a2.55 2.55 0 1 0 5.1 0a2.55 2.55 0 1 0 -5.1 0M149.8 296.4a2.55 2.55 0 1 0 5.1 0a2.55 2.55 0 1 0 -5.1 0M144.8 292.0a2.55 2.55 0 1 0 5.1 0a2.55 2.55 0 1 0 -5.1 0M144.1 303.4a2.55 2.55 0 1 0 5.1 0a2.55 2.55 0 1 0 -5.1 0M165.1 285.3a2.55 2.55 0 1 0 5.1 0a2.55 2.55 0 1 0 -5.1 0M135.8 317.6a2.55 2.55 0 1 0 5.1 0a2.55 2.55 0 1 0 -5.1 0M101.0 296.5a2.55 2.55 0 1 0 5.1 0a2.55 2.55 0 1 0 -5.1 0M146.4 295.0a2.55 2.55 0 1 0 5.1 0a2.55 2.55 0 1 0 -5.1 0M141.2 283.7a2.55 2.55 0 1 0 5.1 0a2.55 2.55 0 1 0 -5.1 0M128.6 319.7a2.55 2.55 0 1 0 5.1 0a2.55 2.55 0 1 0 -5.1 0M156.4 312.3a2.55 2.55 0 1 0 5.1 0a2.55 2.55 0 1 0 -5.1 0M90.2 326.1a2.55 2.55 0 1 0 5.1 0a2.55 2.55 0 1 0 -5.1 0M165.5 303.3a2.55 2.55 0 1 0 5.1 0a2.55 2.55 0 1 0 -5.1 0M144.6 315.5a2.55 2.55 0 1 0 5.1 0a2.55 2.55 0 1 0 -5.1 0M159.9 296.6a2.55 2.55 0 1 0 5.1 0a2.55 2.55 0 1 0 -5.1 0M149.2 314.9a2.55 2.55 0 1 0 5.1 0a2.55 2.55 0 1 0 -5.1 0M124.7 322.7a2.55 2.55 0 1 0 5.1 0a2.55 2.55 0 1 0 -5.1 0M136.9 291.8a2.55 2.55 0 1 0 5.1 0a2.55 2.55 0 1 0 -5.1 0M156.1 312.0a2.55 2.55 0 1 0 5.1 0a2.55 2.55 0 1 0 -5.1 0M107.3 330.4a2.55 2.55 0 1 0 5.1 0a2.55 2.55 0 1 0 -5.1 0M134.6 304.5a2.55 2.55 0 1 0 5.1 0a2.55 2.55 0 1 0 -5.1 0M152.1 309.5a2.55 2.55 0 1 0 5.1 0a2.55 2.55 0 1 0 -5.1 0M147.7 305.0a2.55 2.55 0 1 0 5.1 0a2.55 2.55 0 1 0 -5.1 0M126.3 314.3a2.55 2.55 0 1 0 5.1 0a2.55 2.55 0 1 0 -5.1 0M101.8 304.1a2.55 2.55 0 1 0 5.1 0a2.55 2.55 0 1 0 -5.1 0M140.3 310.8a2.55 2.55 0 1 0 5.1 0a2.55 2.55 0 1 0 -5.1 0M95.7 304.8a2.55 2.55 0 1 0 5.1 0a2.55 2.55 0 1 0 -5.1 0M164.0 309.0a2.55 2.55 0 1 0 5.1 0a2.55 2.55 0 1 0 -5.1 0M135.7 306.2a2.55 2.55 0 1 0 5.1 0a2.55 2.55 0 1 0 -5.1 0M133.4 302.0a2.55 2.55 0 1 0 5.1 0a2.55 2.55 0 1 0 -5.1 0M160.3 316.9a2.55 2.55 0 1 0 5.1 0a2.55 2.55 0 1 0 -5.1 0M158.8 299.8a2.55 2.55 0 1 0 5.1 0a2.55 2.55 0 1 0 -5.1 0M118.5 311.9a2.55 2.55 0 1 0 5.1 0a2.55 2.55 0 1 0 -5.1 0M119.7 325.9a2.55 2.55 0 1 0 5.1 0a2.55 2.55 0 1 0 -5.1 0M119.0 292.7a2.55 2.55 0 1 0 5.1 0a2.55 2.55 0 1 0 -5.1 0M145.0 293.3a2.55 2.55 0 1 0 5.1 0a2.55 2.55 0 1 0 -5.1 0M126.6 296.1a2.55 2.55 0 1 0 5.1 0a2.55 2.55 0 1 0 -5.1 0M112.7 313.5a2.55 2.55 0 1 0 5.1 0a2.55 2.55 0 1 0 -5.1 0M152.3 308.6a2.55 2.55 0 1 0 5.1 0a2.55 2.55 0 1 0 -5.1 0M98.0 307.2a2.55 2.55 0 1 0 5.1 0a2.55 2.55 0 1 0 -5.1 0M143.7 294.7a2.55 2.55 0 1 0 5.1 0a2.55 2.55 0 1 0 -5.1 0M161.4 279.5a2.55 2.55 0 1 0 5.1 0a2.55 2.55 0 1 0 -5.1 0M120.9 328.7a2.55 2.55 0 1 0 5.1 0a2.55 2.55 0 1 0 -5.1 0M139.3 316.7a2.55 2.55 0 1 0 5.1 0a2.55 2.55 0 1 0 -5.1 0M125.7 291.2a2.55 2.55 0 1 0 5.1 0a2.55 2.55 0 1 0 -5.1 0M119.4 286.7a2.55 2.55 0 1 0 5.1 0a2.55 2.55 0 1 0 -5.1 0M150.4 309.0a2.55 2.55 0 1 0 5.1 0a2.55 2.55 0 1 0 -5.1 0M122.7 285.6a2.55 2.55 0 1 0 5.1 0a2.55 2.55 0 1 0 -5.1 0M101.3 320.4a2.55 2.55 0 1 0 5.1 0a2.55 2.55 0 1 0 -5.1 0M142.0 294.6a2.55 2.55 0 1 0 5.1 0a2.55 2.55 0 1 0 -5.1 0M135.4 284.4a2.55 2.55 0 1 0 5.1 0a2.55 2.55 0 1 0 -5.1 0M136.6 292.6a2.55 2.55 0 1 0 5.1 0a2.55 2.55 0 1 0 -5.1 0M158.2 301.6a2.55 2.55 0 1 0 5.1 0a2.55 2.55 0 1 0 -5.1 0M125.9 288.8a2.55 2.55 0 1 0 5.1 0a2.55 2.55 0 1 0 -5.1 0M122.4 307.3a2.55 2.55 0 1 0 5.1 0a2.55 2.55 0 1 0 -5.1 0M158.5 295.9a2.55 2.55 0 1 0 5.1 0a2.55 2.55 0 1 0 -5.1 0M168.1 282.5a2.55 2.55 0 1 0 5.1 0a2.55 2.55 0 1 0 -5.1 0M148.5 303.2a2.55 2.55 0 1 0 5.1 0a2.55 2.55 0 1 0 -5.1 0M142.3 307.0a2.55 2.55 0 1 0 5.1 0a2.55 2.55 0 1 0 -5.1 0M113.9 307.6a2.55 2.55 0 1 0 5.1 0a2.55 2.55 0 1 0 -5.1 0M127.4 301.2a2.55 2.55 0 1 0 5.1 0a2.55 2.55 0 1 0 -5.1 0M128.0 297.8a2.55 2.55 0 1 0 5.1 0a2.55 2.55 0 1 0 -5.1 0M153.5 304.5a2.55 2.55 0 1 0 5.1 0a2.55 2.55 0 1 0 -5.1 0M120.5 301.1a2.55 2.55 0 1 0 5.1 0a2.55 2.55 0 1 0 -5.1 0M155.1 321.4a2.55 2.55 0 1 0 5.1 0a2.55 2.55 0 1 0 -5.1 0M115.8 303.4a2.55 2.55 0 1 0 5.1 0a2.55 2.55 0 1 0 -5.1 0M127.6 297.6a2.55 2.55 0 1 0 5.1 0a2.55 2.55 0 1 0 -5.1 0M156.1 298.2a2.55 2.55 0 1 0 5.1 0a2.55 2.55 0 1 0 -5.1 0M155.3 308.0a2.55 2.55 0 1 0 5.1 0a2.55 2.55 0 1 0 -5.1 0M134.1 296.8a2.55 2.55 0 1 0 5.1 0a2.55 2.55 0 1 0 -5.1 0M113.4 315.0a2.55 2.55 0 1 0 5.1 0a2.55 2.55 0 1 0 -5.1 0M145.5 297.4a2.55 2.55 0 1 0 5.1 0a2.55 2.55 0 1 0 -5.1 0M108.9 321.9a2.55 2.55 0 1 0 5.1 0a2.55 2.55 0 1 0 -5.1 0M98.6 317.3a2.55 2.55 0 1 0 5.1 0a2.55 2.55 0 1 0 -5.1 0M145.5 324.8a2.55 2.55 0 1 0 5.1 0a2.55 2.55 0 1 0 -5.1 0M110.0 328.8a2.55 2.55 0 1 0 5.1 0a2.55 2.55 0 1 0 -5.1 0M148.8 312.9a2.55 2.55 0 1 0 5.1 0a2.55 2.55 0 1 0 -5.1 0M140.0 331.1a2.55 2.55 0 1 0 5.1 0a2.55 2.55 0 1 0 -5.1 0M151.5 297.2a2.55 2.55 0 1 0 5.1 0a2.55 2.55 0 1 0 -5.1 0M156.3 313.7a2.55 2.55 0 1 0 5.1 0a2.55 2.55 0 1 0 -5.1 0M154.6 294.7a2.55 2.55 0 1 0 5.1 0a2.55 2.55 0 1 0 -5.1 0M128.5 285.8a2.55 2.55 0 1 0 5.1 0a2.55 2.55 0 1 0 -5.1 0M145.3 294.2a2.55 2.55 0 1 0 5.1 0a2.55 2.55 0 1 0 -5.1 0M135.2 286.9a2.55 2.55 0 1 0 5.1 0a2.55 2.55 0 1 0 -5.1 0M102.6 319.2a2.55 2.55 0 1 0 5.1 0a2.55 2.55 0 1 0 -5.1 0M152.7 326.2a2.55 2.55 0 1 0 5.1 0a2.55 2.55 0 1 0 -5.1 0M117.8 297.5a2.55 2.55 0 1 0 5.1 0a2.55 2.55 0 1 0 -5.1 0M118.0 325.0a2.55 2.55 0 1 0 5.1 0a2.55 2.55 0 1 0 -5.1 0M103.4 309.3a2.55 2.55 0 1 0 5.1 0a2.55 2.55 0 1 0 -5.1 0M157.3 291.7a2.55 2.55 0 1 0 5.1 0a2.55 2.55 0 1 0 -5.1 0M143.6 307.1a2.55 2.55 0 1 0 5.1 0a2.55 2.55 0 1 0 -5.1 0M128.3 283.8a2.55 2.55 0 1 0 5.1 0a2.55 2.55 0 1 0 -5.1 0M125.2 307.5a2.55 2.55 0 1 0 5.1 0a2.55 2.55 0 1 0 -5.1 0M149.7 288.6a2.55 2.55 0 1 0 5.1 0a2.55 2.55 0 1 0 -5.1 0M125.6 308.4a2.55 2.55 0 1 0 5.1 0a2.55 2.55 0 1 0 -5.1 0M149.1 300.8a2.55 2.55 0 1 0 5.1 0a2.55 2.55 0 1 0 -5.1 0M135.6 312.0a2.55 2.55 0 1 0 5.1 0a2.55 2.55 0 1 0 -5.1 0M100.0 313.5a2.55 2.55 0 1 0 5.1 0a2.55 2.55 0 1 0 -5.1 0M123.4 297.5a2.55 2.55 0 1 0 5.1 0a2.55 2.55 0 1 0 -5.1 0M159.5 305.0a2.55 2.55 0 1 0 5.1 0a2.55 2.55 0 1 0 -5.1 0M132.5 313.7a2.55 2.55 0 1 0 5.1 0a2.55 2.55 0 1 0 -5.1 0M144.4 295.9a2.55 2.55 0 1 0 5.1 0a2.55 2.55 0 1 0 -5.1 0M155.0 278.2a2.55 2.55 0 1 0 5.1 0a2.55 2.55 0 1 0 -5.1 0M93.8 309.2a2.55 2.55 0 1 0 5.1 0a2.55 2.55 0 1 0 -5.1 0M125.7 296.2a2.55 2.55 0 1 0 5.1 0a2.55 2.55 0 1 0 -5.1 0M125.8 288.1a2.55 2.55 0 1 0 5.1 0a2.55 2.55 0 1 0 -5.1 0M157.0 284.6a2.55 2.55 0 1 0 5.1 0a2.55 2.55 0 1 0 -5.1 0M129.1 282.9a2.55 2.55 0 1 0 5.1 0a2.55 2.55 0 1 0 -5.1 0M137.1 284.8a2.55 2.55 0 1 0 5.1 0a2.55 2.55 0 1 0 -5.1 0M153.8 301.8a2.55 2.55 0 1 0 5.1 0a2.55 2.55 0 1 0 -5.1 0M144.1 302.8a2.55 2.55 0 1 0 5.1 0a2.55 2.55 0 1 0 -5.1 0M145.9 285.9a2.55 2.55 0 1 0 5.1 0a2.55 2.55 0 1 0 -5.1 0M151.2 291.4a2.55 2.55 0 1 0 5.1 0a2.55 2.55 0 1 0 -5.1 0M152.4 298.9a2.55 2.55 0 1 0 5.1 0a2.55 2.55 0 1 0 -5.1 0M155.1 287.0a2.55 2.55 0 1 0 5.1 0a2.55 2.55 0 1 0 -5.1 0M148.5 302.4a2.55 2.55 0 1 0 5.1 0a2.55 2.55 0 1 0 -5.1 0M130.2 313.4a2.55 2.55 0 1 0 5.1 0a2.55 2.55 0 1 0 -5.1 0M142.7 294.8a2.55 2.55 0 1 0 5.1 0a2.55 2.55 0 1 0 -5.1 0M135.0 296.0a2.55 2.55 0 1 0 5.1 0a2.55 2.55 0 1 0 -5.1 0M118.6 311.0a2.55 2.55 0 1 0 5.1 0a2.55 2.55 0 1 0 -5.1 0M112.0 304.3a2.55 2.55 0 1 0 5.1 0a2.55 2.55 0 1 0 -5.1 0M145.9 308.3a2.55 2.55 0 1 0 5.1 0a2.55 2.55 0 1 0 -5.1 0M143.3 324.8a2.55 2.55 0 1 0 5.1 0a2.55 2.55 0 1 0 -5.1 0M162.5 308.2a2.55 2.55 0 1 0 5.1 0a2.55 2.55 0 1 0 -5.1 0M130.9 315.4a2.55 2.55 0 1 0 5.1 0a2.55 2.55 0 1 0 -5.1 0M139.7 292.2a2.55 2.55 0 1 0 5.1 0a2.55 2.55 0 1 0 -5.1 0M158.7 295.9a2.55 2.55 0 1 0 5.1 0a2.55 2.55 0 1 0 -5.1 0M109.4 332.2a2.55 2.55 0 1 0 5.1 0a2.55 2.55 0 1 0 -5.1 0M130.5 300.2a2.55 2.55 0 1 0 5.1 0a2.55 2.55 0 1 0 -5.1 0M142.9 289.2a2.55 2.55 0 1 0 5.1 0a2.55 2.55 0 1 0 -5.1 0M152.4 298.7a2.55 2.55 0 1 0 5.1 0a2.55 2.55 0 1 0 -5.1 0M118.9 331.9a2.55 2.55 0 1 0 5.1 0a2.55 2.55 0 1 0 -5.1 0M124.5 293.6a2.55 2.55 0 1 0 5.1 0a2.55 2.55 0 1 0 -5.1 0M144.2 280.3a2.55 2.55 0 1 0 5.1 0a2.55 2.55 0 1 0 -5.1 0M152.8 329.7a2.55 2.55 0 1 0 5.1 0a2.55 2.55 0 1 0 -5.1 0M123.6 302.8a2.55 2.55 0 1 0 5.1 0a2.55 2.55 0 1 0 -5.1 0M124.2 286.9a2.55 2.55 0 1 0 5.1 0a2.55 2.55 0 1 0 -5.1 0M141.5 299.8a2.55 2.55 0 1 0 5.1 0a2.55 2.55 0 1 0 -5.1 0M131.0 288.2a2.55 2.55 0 1 0 5.1 0a2.55 2.55 0 1 0 -5.1 0M135.5 289.3a2.55 2.55 0 1 0 5.1 0a2.55 2.55 0 1 0 -5.1 0M143.6 298.5a2.55 2.55 0 1 0 5.1 0a2.55 2.55 0 1 0 -5.1 0M127.5 285.0a2.55 2.55 0 1 0 5.1 0a2.55 2.55 0 1 0 -5.1 0M133.1 307.5a2.55 2.55 0 1 0 5.1 0a2.55 2.55 0 1 0 -5.1 0M131.4 297.9a2.55 2.55 0 1 0 5.1 0a2.55 2.55 0 1 0 -5.1 0M119.1 313.8a2.55 2.55 0 1 0 5.1 0a2.55 2.55 0 1 0 -5.1 0M142.8 319.7a2.55 2.55 0 1 0 5.1 0a2.55 2.55 0 1 0 -5.1 0M116.6 293.9a2.55 2.55 0 1 0 5.1 0a2.55 2.55 0 1 0 -5.1 0M136.5 296.1a2.55 2.55 0 1 0 5.1 0a2.55 2.55 0 1 0 -5.1 0M135.8 332.7a2.55 2.55 0 1 0 5.1 0a2.55 2.55 0 1 0 -5.1 0M137.1 304.5a2.55 2.55 0 1 0 5.1 0a2.55 2.55 0 1 0 -5.1 0M129.0 290.1a2.55 2.55 0 1 0 5.1 0a2.55 2.55 0 1 0 -5.1 0M123.6 296.8a2.55 2.55 0 1 0 5.1 0a2.55 2.55 0 1 0 -5.1 0M105.0 311.1a2.55 2.55 0 1 0 5.1 0a2.55 2.55 0 1 0 -5.1 0M152.6 287.0a2.55 2.55 0 1 0 5.1 0a2.55 2.55 0 1 0 -5.1 0M139.2 311.9a2.55 2.55 0 1 0 5.1 0a2.55 2.55 0 1 0 -5.1 0M131.0 295.4a2.55 2.55 0 1 0 5.1 0a2.55 2.55 0 1 0 -5.1 0M138.5 303.5a2.55 2.55 0 1 0 5.1 0a2.55 2.55 0 1 0 -5.1 0M145.7 308.3a2.55 2.55 0 1 0 5.1 0a2.55 2.55 0 1 0 -5.1 0M126.2 285.6a2.55 2.55 0 1 0 5.1 0a2.55 2.55 0 1 0 -5.1 0M139.1 315.8a2.55 2.55 0 1 0 5.1 0a2.55 2.55 0 1 0 -5.1 0M104.2 302.0a2.55 2.55 0 1 0 5.1 0a2.55 2.55 0 1 0 -5.1 0M120.2 295.6a2.55 2.55 0 1 0 5.1 0a2.55 2.55 0 1 0 -5.1 0M158.5 285.3a2.55 2.55 0 1 0 5.1 0a2.55 2.55 0 1 0 -5.1 0M154.8 304.9a2.55 2.55 0 1 0 5.1 0a2.55 2.55 0 1 0 -5.1 0M110.2 305.6a2.55 2.55 0 1 0 5.1 0a2.55 2.55 0 1 0 -5.1 0M127.6 303.9a2.55 2.55 0 1 0 5.1 0a2.55 2.55 0 1 0 -5.1 0M121.6 299.3a2.55 2.55 0 1 0 5.1 0a2.55 2.55 0 1 0 -5.1 0M135.3 307.8a2.55 2.55 0 1 0 5.1 0a2.55 2.55 0 1 0 -5.1 0M159.8 303.8a2.55 2.55 0 1 0 5.1 0a2.55 2.55 0 1 0 -5.1 0M137.9 287.6a2.55 2.55 0 1 0 5.1 0a2.55 2.55 0 1 0 -5.1 0M137.9 305.5a2.55 2.55 0 1 0 5.1 0a2.55 2.55 0 1 0 -5.1 0M140.5 296.6a2.55 2.55 0 1 0 5.1 0a2.55 2.55 0 1 0 -5.1 0M136.3 309.0a2.55 2.55 0 1 0 5.1 0a2.55 2.55 0 1 0 -5.1 0M135.7 297.6a2.55 2.55 0 1 0 5.1 0a2.55 2.55 0 1 0 -5.1 0M120.3 289.2a2.55 2.55 0 1 0 5.1 0a2.55 2.55 0 1 0 -5.1 0M114.8 287.7a2.55 2.55 0 1 0 5.1 0a2.55 2.55 0 1 0 -5.1 0M117.8 289.7a2.55 2.55 0 1 0 5.1 0a2.55 2.55 0 1 0 -5.1 0M150.3 316.7a2.55 2.55 0 1 0 5.1 0a2.55 2.55 0 1 0 -5.1 0M141.7 316.8a2.55 2.55 0 1 0 5.1 0a2.55 2.55 0 1 0 -5.1 0M121.0 317.2a2.55 2.55 0 1 0 5.1 0a2.55 2.55 0 1 0 -5.1 0M142.1 299.8a2.55 2.55 0 1 0 5.1 0a2.55 2.55 0 1 0 -5.1 0M124.4 324.5a2.55 2.55 0 1 0 5.1 0a2.55 2.55 0 1 0 -5.1 0M156.3 300.2a2.55 2.55 0 1 0 5.1 0a2.55 2.55 0 1 0 -5.1 0M119.9 312.4a2.55 2.55 0 1 0 5.1 0a2.55 2.55 0 1 0 -5.1 0M122.7 314.1a2.55 2.55 0 1 0 5.1 0a2.55 2.55 0 1 0 -5.1 0M138.8 309.9a2.55 2.55 0 1 0 5.1 0a2.55 2.55 0 1 0 -5.1 0M151.7 296.5a2.55 2.55 0 1 0 5.1 0a2.55 2.55 0 1 0 -5.1 0M145.7 294.2a2.55 2.55 0 1 0 5.1 0a2.55 2.55 0 1 0 -5.1 0M143.2 303.5a2.55 2.55 0 1 0 5.1 0a2.55 2.55 0 1 0 -5.1 0M158.4 285.4a2.55 2.55 0 1 0 5.1 0a2.55 2.55 0 1 0 -5.1 0M130.1 300.5a2.55 2.55 0 1 0 5.1 0a2.55 2.55 0 1 0 -5.1 0M141.4 329.5a2.55 2.55 0 1 0 5.1 0a2.55 2.55 0 1 0 -5.1 0M110.7 300.6a2.55 2.55 0 1 0 5.1 0a2.55 2.55 0 1 0 -5.1 0M149.0 315.9a2.55 2.55 0 1 0 5.1 0a2.55 2.55 0 1 0 -5.1 0M125.1 332.7a2.55 2.55 0 1 0 5.1 0a2.55 2.55 0 1 0 -5.1 0M149.7 300.5a2.55 2.55 0 1 0 5.1 0a2.55 2.55 0 1 0 -5.1 0M144.8 299.4a2.55 2.55 0 1 0 5.1 0a2.55 2.55 0 1 0 -5.1 0M144.6 284.6a2.55 2.55 0 1 0 5.1 0a2.55 2.55 0 1 0 -5.1 0M152.5 291.6a2.55 2.55 0 1 0 5.1 0a2.55 2.55 0 1 0 -5.1 0M103.0 322.8a2.55 2.55 0 1 0 5.1 0a2.55 2.55 0 1 0 -5.1 0M115.7 303.8a2.55 2.55 0 1 0 5.1 0a2.55 2.55 0 1 0 -5.1 0M132.5 315.2a2.55 2.55 0 1 0 5.1 0a2.55 2.55 0 1 0 -5.1 0M126.4 312.7a2.55 2.55 0 1 0 5.1 0a2.55 2.55 0 1 0 -5.1 0M131.7 314.2a2.55 2.55 0 1 0 5.1 0a2.55 2.55 0 1 0 -5.1 0M103.9 308.0a2.55 2.55 0 1 0 5.1 0a2.55 2.55 0 1 0 -5.1 0M131.3 298.8a2.55 2.55 0 1 0 5.1 0a2.55 2.55 0 1 0 -5.1 0M153.0 309.1a2.55 2.55 0 1 0 5.1 0a2.55 2.55 0 1 0 -5.1 0M154.1 299.9a2.55 2.55 0 1 0 5.1 0a2.55 2.55 0 1 0 -5.1 0M127.8 309.3a2.55 2.55 0 1 0 5.1 0a2.55 2.55 0 1 0 -5.1 0M133.2 287.1a2.55 2.55 0 1 0 5.1 0a2.55 2.55 0 1 0 -5.1 0M98.8 329.7a2.55 2.55 0 1 0 5.1 0a2.55 2.55 0 1 0 -5.1 0M140.1 312.7a2.55 2.55 0 1 0 5.1 0a2.55 2.55 0 1 0 -5.1 0M137.2 289.6a2.55 2.55 0 1 0 5.1 0a2.55 2.55 0 1 0 -5.1 0M142.4 314.6a2.55 2.55 0 1 0 5.1 0a2.55 2.55 0 1 0 -5.1 0M126.5 318.6a2.55 2.55 0 1 0 5.1 0a2.55 2.55 0 1 0 -5.1 0M144.8 280.9a2.55 2.55 0 1 0 5.1 0a2.55 2.55 0 1 0 -5.1 0M130.1 292.3a2.55 2.55 0 1 0 5.1 0a2.55 2.55 0 1 0 -5.1 0M141.0 305.7a2.55 2.55 0 1 0 5.1 0a2.55 2.55 0 1 0 -5.1 0M142.9 311.6a2.55 2.55 0 1 0 5.1 0a2.55 2.55 0 1 0 -5.1 0M133.7 298.1a2.55 2.55 0 1 0 5.1 0a2.55 2.55 0 1 0 -5.1 0M147.1 307.6a2.55 2.55 0 1 0 5.1 0a2.55 2.55 0 1 0 -5.1 0M130.8 293.7a2.55 2.55 0 1 0 5.1 0a2.55 2.55 0 1 0 -5.1 0M138.9 294.3a2.55 2.55 0 1 0 5.1 0a2.55 2.55 0 1 0 -5.1 0M130.8 305.5a2.55 2.55 0 1 0 5.1 0a2.55 2.55 0 1 0 -5.1 0M117.6 303.2a2.55 2.55 0 1 0 5.1 0a2.55 2.55 0 1 0 -5.1 0M156.0 312.0a2.55 2.55 0 1 0 5.1 0a2.55 2.55 0 1 0 -5.1 0M103.3 305.4a2.55 2.55 0 1 0 5.1 0a2.55 2.55 0 1 0 -5.1 0M165.8 306.0a2.55 2.55 0 1 0 5.1 0a2.55 2.55 0 1 0 -5.1 0M115.3 307.0a2.55 2.55 0 1 0 5.1 0a2.55 2.55 0 1 0 -5.1 0M112.5 300.0a2.55 2.55 0 1 0 5.1 0a2.55 2.55 0 1 0 -5.1 0M125.4 304.1a2.55 2.55 0 1 0 5.1 0a2.55 2.55 0 1 0 -5.1 0M123.5 311.7a2.55 2.55 0 1 0 5.1 0a2.55 2.55 0 1 0 -5.1 0M140.6 287.0a2.55 2.55 0 1 0 5.1 0a2.55 2.55 0 1 0 -5.1 0M142.2 316.6a2.55 2.55 0 1 0 5.1 0a2.55 2.55 0 1 0 -5.1 0M129.6 325.8a2.55 2.55 0 1 0 5.1 0a2.55 2.55 0 1 0 -5.1 0M120.2 302.1a2.55 2.55 0 1 0 5.1 0a2.55 2.55 0 1 0 -5.1 0M104.7 311.0a2.55 2.55 0 1 0 5.1 0a2.55 2.55 0 1 0 -5.1 0M131.9 318.7a2.55 2.55 0 1 0 5.1 0a2.55 2.55 0 1 0 -5.1 0M158.1 291.3a2.55 2.55 0 1 0 5.1 0a2.55 2.55 0 1 0 -5.1 0M116.2 309.0a2.55 2.55 0 1 0 5.1 0a2.55 2.55 0 1 0 -5.1 0M99.9 292.6a2.55 2.55 0 1 0 5.1 0a2.55 2.55 0 1 0 -5.1 0M138.6 290.3a2.55 2.55 0 1 0 5.1 0a2.55 2.55 0 1 0 -5.1 0M143.8 307.6a2.55 2.55 0 1 0 5.1 0a2.55 2.55 0 1 0 -5.1 0M154.8 299.3a2.55 2.55 0 1 0 5.1 0a2.55 2.55 0 1 0 -5.1 0M161.9 303.1a2.55 2.55 0 1 0 5.1 0a2.55 2.55 0 1 0 -5.1 0M149.3 325.8a2.55 2.55 0 1 0 5.1 0a2.55 2.55 0 1 0 -5.1 0M166.1 301.7a2.55 2.55 0 1 0 5.1 0a2.55 2.55 0 1 0 -5.1 0M147.8 318.4a2.55 2.55 0 1 0 5.1 0a2.55 2.55 0 1 0 -5.1 0M147.1 307.0a2.55 2.55 0 1 0 5.1 0a2.55 2.55 0 1 0 -5.1 0M144.6 311.1a2.55 2.55 0 1 0 5.1 0a2.55 2.55 0 1 0 -5.1 0M145.2 307.2a2.55 2.55 0 1 0 5.1 0a2.55 2.55 0 1 0 -5.1 0M153.3 295.0a2.55 2.55 0 1 0 5.1 0a2.55 2.55 0 1 0 -5.1 0M152.6 287.7a2.55 2.55 0 1 0 5.1 0a2.55 2.55 0 1 0 -5.1 0M143.7 303.6a2.55 2.55 0 1 0 5.1 0a2.55 2.55 0 1 0 -5.1 0M120.1 290.8a2.55 2.55 0 1 0 5.1 0a2.55 2.55 0 1 0 -5.1 0M120.5 296.0a2.55 2.55 0 1 0 5.1 0a2.55 2.55 0 1 0 -5.1 0M101.4 312.3a2.55 2.55 0 1 0 5.1 0a2.55 2.55 0 1 0 -5.1 0M138.1 285.3a2.55 2.55 0 1 0 5.1 0a2.55 2.55 0 1 0 -5.1 0M113.5 297.3a2.55 2.55 0 1 0 5.1 0a2.55 2.55 0 1 0 -5.1 0M114.4 306.4a2.55 2.55 0 1 0 5.1 0a2.55 2.55 0 1 0 -5.1 0M127.0 292.3a2.55 2.55 0 1 0 5.1 0a2.55 2.55 0 1 0 -5.1 0M135.7 297.7a2.55 2.55 0 1 0 5.1 0a2.55 2.55 0 1 0 -5.1 0M135.0 283.0a2.55 2.55 0 1 0 5.1 0a2.55 2.55 0 1 0 -5.1 0M133.4 308.8a2.55 2.55 0 1 0 5.1 0a2.55 2.55 0 1 0 -5.1 0M157.7 292.0a2.55 2.55 0 1 0 5.1 0a2.55 2.55 0 1 0 -5.1 0M148.5 313.4a2.55 2.55 0 1 0 5.1 0a2.55 2.55 0 1 0 -5.1 0M149.1 329.2a2.55 2.55 0 1 0 5.1 0a2.55 2.55 0 1 0 -5.1 0M128.7 287.5a2.55 2.55 0 1 0 5.1 0a2.55 2.55 0 1 0 -5.1 0M148.7 293.2a2.55 2.55 0 1 0 5.1 0a2.55 2.55 0 1 0 -5.1 0M126.4 292.6a2.55 2.55 0 1 0 5.1 0a2.55 2.55 0 1 0 -5.1 0M115.6 304.7a2.55 2.55 0 1 0 5.1 0a2.55 2.55 0 1 0 -5.1 0M128.9 292.4a2.55 2.55 0 1 0 5.1 0a2.55 2.55 0 1 0 -5.1 0M112.5 321.2a2.55 2.55 0 1 0 5.1 0a2.55 2.55 0 1 0 -5.1 0M145.8 316.1a2.55 2.55 0 1 0 5.1 0a2.55 2.55 0 1 0 -5.1 0M104.7 296.8a2.55 2.55 0 1 0 5.1 0a2.55 2.55 0 1 0 -5.1 0M133.0 326.1a2.55 2.55 0 1 0 5.1 0a2.55 2.55 0 1 0 -5.1 0M139.9 315.4a2.55 2.55 0 1 0 5.1 0a2.55 2.55 0 1 0 -5.1 0M118.6 292.2a2.55 2.55 0 1 0 5.1 0a2.55 2.55 0 1 0 -5.1 0M143.3 306.0a2.55 2.55 0 1 0 5.1 0a2.55 2.55 0 1 0 -5.1 0M120.2 292.4a2.55 2.55 0 1 0 5.1 0a2.55 2.55 0 1 0 -5.1 0M125.2 295.1a2.55 2.55 0 1 0 5.1 0a2.55 2.55 0 1 0 -5.1 0M100.1 303.1a2.55 2.55 0 1 0 5.1 0a2.55 2.55 0 1 0 -5.1 0M148.9 295.0a2.55 2.55 0 1 0 5.1 0a2.55 2.55 0 1 0 -5.1 0M156.6 283.6a2.55 2.55 0 1 0 5.1 0a2.55 2.55 0 1 0 -5.1 0M139.0 289.2a2.55 2.55 0 1 0 5.1 0a2.55 2.55 0 1 0 -5.1 0M117.8 309.8a2.55 2.55 0 1 0 5.1 0a2.55 2.55 0 1 0 -5.1 0M116.4 305.9a2.55 2.55 0 1 0 5.1 0a2.55 2.55 0 1 0 -5.1 0M136.6 302.2a2.55 2.55 0 1 0 5.1 0a2.55 2.55 0 1 0 -5.1 0M136.6 319.7a2.55 2.55 0 1 0 5.1 0a2.55 2.55 0 1 0 -5.1 0M140.5 301.7a2.55 2.55 0 1 0 5.1 0a2.55 2.55 0 1 0 -5.1 0M121.8 291.2a2.55 2.55 0 1 0 5.1 0a2.55 2.55 0 1 0 -5.1 0M123.6 320.6a2.55 2.55 0 1 0 5.1 0a2.55 2.55 0 1 0 -5.1 0M136.7 310.6a2.55 2.55 0 1 0 5.1 0a2.55 2.55 0 1 0 -5.1 0M135.8 303.6a2.55 2.55 0 1 0 5.1 0a2.55 2.55 0 1 0 -5.1 0M141.2 317.4a2.55 2.55 0 1 0 5.1 0a2.55 2.55 0 1 0 -5.1 0M130.9 309.0a2.55 2.55 0 1 0 5.1 0a2.55 2.55 0 1 0 -5.1 0M98.9 316.1a2.55 2.55 0 1 0 5.1 0a2.55 2.55 0 1 0 -5.1 0M118.4 303.5a2.55 2.55 0 1 0 5.1 0a2.55 2.55 0 1 0 -5.1 0M121.9 311.8a2.55 2.55 0 1 0 5.1 0a2.55 2.55 0 1 0 -5.1 0M129.8 314.4a2.55 2.55 0 1 0 5.1 0a2.55 2.55 0 1 0 -5.1 0M123.4 309.3a2.55 2.55 0 1 0 5.1 0a2.55 2.55 0 1 0 -5.1 0M157.3 301.2a2.55 2.55 0 1 0 5.1 0a2.55 2.55 0 1 0 -5.1 0M154.8 311.3a2.55 2.55 0 1 0 5.1 0a2.55 2.55 0 1 0 -5.1 0M134.3 300.0a2.55 2.55 0 1 0 5.1 0a2.55 2.55 0 1 0 -5.1 0M143.5 281.2a2.55 2.55 0 1 0 5.1 0a2.55 2.55 0 1 0 -5.1 0M125.7 300.1a2.55 2.55 0 1 0 5.1 0a2.55 2.55 0 1 0 -5.1 0M116.9 327.2a2.55 2.55 0 1 0 5.1 0a2.55 2.55 0 1 0 -5.1 0M159.7 287.2a2.55 2.55 0 1 0 5.1 0a2.55 2.55 0 1 0 -5.1 0M119.6 317.0a2.55 2.55 0 1 0 5.1 0a2.55 2.55 0 1 0 -5.1 0M137.5 311.3a2.55 2.55 0 1 0 5.1 0a2.55 2.55 0 1 0 -5.1 0M149.2 313.7a2.55 2.55 0 1 0 5.1 0a2.55 2.55 0 1 0 -5.1 0M121.3 329.2a2.55 2.55 0 1 0 5.1 0a2.55 2.55 0 1 0 -5.1 0M127.3 289.7a2.55 2.55 0 1 0 5.1 0a2.55 2.55 0 1 0 -5.1 0M132.0 319.7a2.55 2.55 0 1 0 5.1 0a2.55 2.55 0 1 0 -5.1 0M143.4 293.6a2.55 2.55 0 1 0 5.1 0a2.55 2.55 0 1 0 -5.1 0M151.4 296.1a2.55 2.55 0 1 0 5.1 0a2.55 2.55 0 1 0 -5.1 0M151.0 308.4a2.55 2.55 0 1 0 5.1 0a2.55 2.55 0 1 0 -5.1 0M147.1 320.5a2.55 2.55 0 1 0 5.1 0a2.55 2.55 0 1 0 -5.1 0M126.6 284.1a2.55 2.55 0 1 0 5.1 0a2.55 2.55 0 1 0 -5.1 0M137.3 313.6a2.55 2.55 0 1 0 5.1 0a2.55 2.55 0 1 0 -5.1 0M155.8 306.9a2.55 2.55 0 1 0 5.1 0a2.55 2.55 0 1 0 -5.1 0M131.5 305.5a2.55 2.55 0 1 0 5.1 0a2.55 2.55 0 1 0 -5.1 0M132.6 309.7a2.55 2.55 0 1 0 5.1 0a2.55 2.55 0 1 0 -5.1 0M153.5 283.4a2.55 2.55 0 1 0 5.1 0a2.55 2.55 0 1 0 -5.1 0M137.5 290.4a2.55 2.55 0 1 0 5.1 0a2.55 2.55 0 1 0 -5.1 0M143.3 305.8a2.55 2.55 0 1 0 5.1 0a2.55 2.55 0 1 0 -5.1 0M135.6 292.1a2.55 2.55 0 1 0 5.1 0a2.55 2.55 0 1 0 -5.1 0M126.0 298.5a2.55 2.55 0 1 0 5.1 0a2.55 2.55 0 1 0 -5.1 0M114.0 304.9a2.55 2.55 0 1 0 5.1 0a2.55 2.55 0 1 0 -5.1 0M155.4 297.9a2.55 2.55 0 1 0 5.1 0a2.55 2.55 0 1 0 -5.1 0M128.7 328.8a2.55 2.55 0 1 0 5.1 0a2.55 2.55 0 1 0 -5.1 0M156.8 293.7a2.55 2.55 0 1 0 5.1 0a2.55 2.55 0 1 0 -5.1 0M124.8 323.5a2.55 2.55 0 1 0 5.1 0a2.55 2.55 0 1 0 -5.1 0M157.5 311.4a2.55 2.55 0 1 0 5.1 0a2.55 2.55 0 1 0 -5.1 0M140.1 301.1a2.55 2.55 0 1 0 5.1 0a2.55 2.55 0 1 0 -5.1 0M126.2 315.7a2.55 2.55 0 1 0 5.1 0a2.55 2.55 0 1 0 -5.1 0M154.8 291.1a2.55 2.55 0 1 0 5.1 0a2.55 2.55 0 1 0 -5.1 0M110.9 305.5a2.55 2.55 0 1 0 5.1 0a2.55 2.55 0 1 0 -5.1 0M112.4 315.3a2.55 2.55 0 1 0 5.1 0a2.55 2.55 0 1 0 -5.1 0M123.6 318.4a2.55 2.55 0 1 0 5.1 0a2.55 2.55 0 1 0 -5.1 0M149.3 311.5a2.55 2.55 0 1 0 5.1 0a2.55 2.55 0 1 0 -5.1 0M140.8 299.8a2.55 2.55 0 1 0 5.1 0a2.55 2.55 0 1 0 -5.1 0M137.7 297.2a2.55 2.55 0 1 0 5.1 0a2.55 2.55 0 1 0 -5.1 0M150.1 305.2a2.55 2.55 0 1 0 5.1 0a2.55 2.55 0 1 0 -5.1 0M141.7 320.2a2.55 2.55 0 1 0 5.1 0a2.55 2.55 0 1 0 -5.1 0M135.8 282.0a2.55 2.55 0 1 0 5.1 0a2.55 2.55 0 1 0 -5.1 0M123.4 322.6a2.55 2.55 0 1 0 5.1 0a2.55 2.55 0 1 0 -5.1 0M145.2 313.6a2.55 2.55 0 1 0 5.1 0a2.55 2.55 0 1 0 -5.1 0M113.3 296.0a2.55 2.55 0 1 0 5.1 0a2.55 2.55 0 1 0 -5.1 0M96.9 306.4a2.55 2.55 0 1 0 5.1 0a2.55 2.55 0 1 0 -5.1 0M137.0 298.9a2.55 2.55 0 1 0 5.1 0a2.55 2.55 0 1 0 -5.1 0M112.8 323.2a2.55 2.55 0 1 0 5.1 0a2.55 2.55 0 1 0 -5.1 0M148.8 326.5a2.55 2.55 0 1 0 5.1 0a2.55 2.55 0 1 0 -5.1 0M114.4 302.9a2.55 2.55 0 1 0 5.1 0a2.55 2.55 0 1 0 -5.1 0M112.6 288.0a2.55 2.55 0 1 0 5.1 0a2.55 2.55 0 1 0 -5.1 0M103.3 322.9a2.55 2.55 0 1 0 5.1 0a2.55 2.55 0 1 0 -5.1 0M146.4 314.0a2.55 2.55 0 1 0 5.1 0a2.55 2.55 0 1 0 -5.1 0M153.4 298.3a2.55 2.55 0 1 0 5.1 0a2.55 2.55 0 1 0 -5.1 0M116.8 313.2a2.55 2.55 0 1 0 5.1 0a2.55 2.55 0 1 0 -5.1 0M113.8 322.9a2.55 2.55 0 1 0 5.1 0a2.55 2.55 0 1 0 -5.1 0M152.5 290.7a2.55 2.55 0 1 0 5.1 0a2.55 2.55 0 1 0 -5.1 0M148.6 313.8a2.55 2.55 0 1 0 5.1 0a2.55 2.55 0 1 0 -5.1 0M123.4 293.7a2.55 2.55 0 1 0 5.1 0a2.55 2.55 0 1 0 -5.1 0M148.9 323.7a2.55 2.55 0 1 0 5.1 0a2.55 2.55 0 1 0 -5.1 0M156.2 309.6a2.55 2.55 0 1 0 5.1 0a2.55 2.55 0 1 0 -5.1 0M106.5 305.9a2.55 2.55 0 1 0 5.1 0a2.55 2.55 0 1 0 -5.1 0M130.6 314.7a2.55 2.55 0 1 0 5.1 0a2.55 2.55 0 1 0 -5.1 0M141.4 290.1a2.55 2.55 0 1 0 5.1 0a2.55 2.55 0 1 0 -5.1 0M117.5 327.7a2.55 2.55 0 1 0 5.1 0a2.55 2.55 0 1 0 -5.1 0M148.9 313.9a2.55 2.55 0 1 0 5.1 0a2.55 2.55 0 1 0 -5.1 0M128.5 316.1a2.55 2.55 0 1 0 5.1 0a2.55 2.55 0 1 0 -5.1 0M139.5 304.0a2.55 2.55 0 1 0 5.1 0a2.55 2.55 0 1 0 -5.1 0M158.0 312.5a2.55 2.55 0 1 0 5.1 0a2.55 2.55 0 1 0 -5.1 0M124.0 309.0a2.55 2.55 0 1 0 5.1 0a2.55 2.55 0 1 0 -5.1 0M136.2 305.5a2.55 2.55 0 1 0 5.1 0a2.55 2.55 0 1 0 -5.1 0M154.2 297.3a2.55 2.55 0 1 0 5.1 0a2.55 2.55 0 1 0 -5.1 0M141.6 287.0a2.55 2.55 0 1 0 5.1 0a2.55 2.55 0 1 0 -5.1 0M129.7 318.3a2.55 2.55 0 1 0 5.1 0a2.55 2.55 0 1 0 -5.1 0M125.0 300.9a2.55 2.55 0 1 0 5.1 0a2.55 2.55 0 1 0 -5.1 0M166.2 289.5a2.55 2.55 0 1 0 5.1 0a2.55 2.55 0 1 0 -5.1 0M150.1 304.1a2.55 2.55 0 1 0 5.1 0a2.55 2.55 0 1 0 -5.1 0M148.7 306.4a2.55 2.55 0 1 0 5.1 0a2.55 2.55 0 1 0 -5.1 0M135.9 308.5a2.55 2.55 0 1 0 5.1 0a2.55 2.55 0 1 0 -5.1 0M121.5 295.5a2.55 2.55 0 1 0 5.1 0a2.55 2.55 0 1 0 -5.1 0M136.8 292.9a2.55 2.55 0 1 0 5.1 0a2.55 2.55 0 1 0 -5.1 0" fill="none" stroke="#850000" stroke-width="1.6"/>
<line x1="44.30" y1="223.30" x2="44.30" y2="349.00" stroke="#3a3a3a" stroke-width="1"/>
<line x1="44.30" y1="337.50" x2="48.80" y2="337.50" stroke="#3a3a3a" stroke-width="1"/>
<text x="39.5" y="341.8" font-size="12.5" text-anchor="end" fill="#1a1a1a" stroke="#1a1a1a" stroke-width="0.28" letter-spacing="0.15">0.0</text>
<line x1="44.30" y1="326.10" x2="47.10" y2="326.10" stroke="#3a3a3a" stroke-width="1"/>
<line x1="44.30" y1="314.70" x2="48.80" y2="314.70" stroke="#3a3a3a" stroke-width="1"/>
<text x="39.5" y="319.0" font-size="12.5" text-anchor="end" fill="#1a1a1a" stroke="#1a1a1a" stroke-width="0.28" letter-spacing="0.15">0.2</text>
<line x1="44.30" y1="303.30" x2="47.10" y2="303.30" stroke="#3a3a3a" stroke-width="1"/>
<line x1="44.30" y1="291.90" x2="48.80" y2="291.90" stroke="#3a3a3a" stroke-width="1"/>
<text x="39.5" y="296.2" font-size="12.5" text-anchor="end" fill="#1a1a1a" stroke="#1a1a1a" stroke-width="0.28" letter-spacing="0.15">0.4</text>
<line x1="44.30" y1="280.50" x2="47.10" y2="280.50" stroke="#3a3a3a" stroke-width="1"/>
<line x1="44.30" y1="269.10" x2="48.80" y2="269.10" stroke="#3a3a3a" stroke-width="1"/>
<text x="39.5" y="273.4" font-size="12.5" text-anchor="end" fill="#1a1a1a" stroke="#1a1a1a" stroke-width="0.28" letter-spacing="0.15">0.6</text>
<line x1="44.30" y1="257.70" x2="47.10" y2="257.70" stroke="#3a3a3a" stroke-width="1"/>
<line x1="44.30" y1="246.30" x2="48.80" y2="246.30" stroke="#3a3a3a" stroke-width="1"/>
<text x="39.5" y="250.6" font-size="12.5" text-anchor="end" fill="#1a1a1a" stroke="#1a1a1a" stroke-width="0.28" letter-spacing="0.15">0.8</text>
<line x1="44.30" y1="234.90" x2="47.10" y2="234.90" stroke="#3a3a3a" stroke-width="1"/>
<line x1="44.30" y1="223.50" x2="48.80" y2="223.50" stroke="#3a3a3a" stroke-width="1"/>
<text x="39.5" y="227.8" font-size="12.5" text-anchor="end" fill="#1a1a1a" stroke="#1a1a1a" stroke-width="0.28" letter-spacing="0.15">1.0</text>
<line x1="44.30" y1="349.00" x2="203.50" y2="349.00" stroke="#3a3a3a" stroke-width="1"/>
<line x1="47.28" y1="349.00" x2="47.28" y2="346.20" stroke="#3a3a3a" stroke-width="1"/>
<line x1="49.91" y1="349.00" x2="49.91" y2="346.20" stroke="#3a3a3a" stroke-width="1"/>
<line x1="52.23" y1="349.00" x2="52.23" y2="346.20" stroke="#3a3a3a" stroke-width="1"/>
<line x1="54.30" y1="349.00" x2="54.30" y2="344.50" stroke="#3a3a3a" stroke-width="1"/>
<line x1="67.94" y1="349.00" x2="67.94" y2="346.20" stroke="#3a3a3a" stroke-width="1"/>
<line x1="75.91" y1="349.00" x2="75.91" y2="346.20" stroke="#3a3a3a" stroke-width="1"/>
<line x1="81.57" y1="349.00" x2="81.57" y2="346.20" stroke="#3a3a3a" stroke-width="1"/>
<line x1="85.96" y1="349.00" x2="85.96" y2="346.20" stroke="#3a3a3a" stroke-width="1"/>
<line x1="89.55" y1="349.00" x2="89.55" y2="346.20" stroke="#3a3a3a" stroke-width="1"/>
<line x1="92.58" y1="349.00" x2="92.58" y2="346.20" stroke="#3a3a3a" stroke-width="1"/>
<line x1="95.21" y1="349.00" x2="95.21" y2="346.20" stroke="#3a3a3a" stroke-width="1"/>
<line x1="97.53" y1="349.00" x2="97.53" y2="346.20" stroke="#3a3a3a" stroke-width="1"/>
<line x1="99.60" y1="349.00" x2="99.60" y2="344.50" stroke="#3a3a3a" stroke-width="1"/>
<line x1="113.24" y1="349.00" x2="113.24" y2="346.20" stroke="#3a3a3a" stroke-width="1"/>
<line x1="121.21" y1="349.00" x2="121.21" y2="346.20" stroke="#3a3a3a" stroke-width="1"/>
<line x1="126.87" y1="349.00" x2="126.87" y2="346.20" stroke="#3a3a3a" stroke-width="1"/>
<line x1="131.26" y1="349.00" x2="131.26" y2="346.20" stroke="#3a3a3a" stroke-width="1"/>
<line x1="134.85" y1="349.00" x2="134.85" y2="346.20" stroke="#3a3a3a" stroke-width="1"/>
<line x1="137.88" y1="349.00" x2="137.88" y2="346.20" stroke="#3a3a3a" stroke-width="1"/>
<line x1="140.51" y1="349.00" x2="140.51" y2="346.20" stroke="#3a3a3a" stroke-width="1"/>
<line x1="142.83" y1="349.00" x2="142.83" y2="346.20" stroke="#3a3a3a" stroke-width="1"/>
<line x1="144.90" y1="349.00" x2="144.90" y2="344.50" stroke="#3a3a3a" stroke-width="1"/>
<line x1="158.54" y1="349.00" x2="158.54" y2="346.20" stroke="#3a3a3a" stroke-width="1"/>
<line x1="166.51" y1="349.00" x2="166.51" y2="346.20" stroke="#3a3a3a" stroke-width="1"/>
<line x1="172.17" y1="349.00" x2="172.17" y2="346.20" stroke="#3a3a3a" stroke-width="1"/>
<line x1="176.56" y1="349.00" x2="176.56" y2="346.20" stroke="#3a3a3a" stroke-width="1"/>
<line x1="180.15" y1="349.00" x2="180.15" y2="346.20" stroke="#3a3a3a" stroke-width="1"/>
<line x1="183.18" y1="349.00" x2="183.18" y2="346.20" stroke="#3a3a3a" stroke-width="1"/>
<line x1="185.81" y1="349.00" x2="185.81" y2="346.20" stroke="#3a3a3a" stroke-width="1"/>
<line x1="188.13" y1="349.00" x2="188.13" y2="346.20" stroke="#3a3a3a" stroke-width="1"/>
<line x1="190.20" y1="349.00" x2="190.20" y2="344.50" stroke="#3a3a3a" stroke-width="1"/>
<text x="54.4" y="364.3" font-size="12.5" text-anchor="middle" fill="#1a1a1a" stroke="#1a1a1a" stroke-width="0.28" letter-spacing="0.15">10</text>
<text x="99.7" y="364.3" font-size="12.5" text-anchor="middle" fill="#1a1a1a" stroke="#1a1a1a" stroke-width="0.28" letter-spacing="0.15">100</text>
<text x="145.0" y="364.3" font-size="12.5" text-anchor="middle" fill="#1a1a1a" stroke="#1a1a1a" stroke-width="0.28" letter-spacing="0.15">1000</text>
<text x="190.3" y="364.3" font-size="12.5" text-anchor="middle" fill="#1a1a1a" stroke="#1a1a1a" stroke-width="0.28" letter-spacing="0.15">10,000</text>
<text x="75.8" y="384.4" font-size="12.8" fill="#1a1a1a" stroke="#1a1a1a" stroke-width="0.28">Acceptors . μm<tspan font-size="9.5" dy="-4.3">−2</tspan></text>
<text x="10.3" y="285.2" font-size="12.0" text-anchor="middle" fill="#1a1a1a" stroke="#1a1a1a" stroke-width="0.28" transform="rotate(-90 10.3 285.2)" textLength="91.6" lengthAdjust="spacingAndGlyphs">FRET efficiency</text>
<text x="0.0" y="220.3" font-size="18.5" text-anchor="start" fill="#000" font-weight="bold">c</text>
<circle cx="57.2" cy="227.8" r="2.6" stroke="#0a0a80" stroke-width="1.3" fill="none"/>
<text x="63.6" y="231.1" font-size="9.2" text-anchor="start" fill="#1a1a1a" stroke="#1a1a1a" stroke-width="0.28">Wild-type</text>
<circle cx="57.2" cy="242.5" r="2.6" stroke="#850000" stroke-width="1.3" fill="none"/>
<text x="63.6" y="245.8" font-size="9.2" text-anchor="start" fill="#1a1a1a" stroke="#1a1a1a" stroke-width="0.28">G131Y</text>
<line x1="293.00" y1="225.80" x2="293.00" y2="286.30" stroke="#3a3a3a" stroke-width="1"/>
<line x1="293.00" y1="289.60" x2="293.00" y2="349.00" stroke="#3a3a3a" stroke-width="1"/>
<line x1="288.50" y1="288.00" x2="297.50" y2="285.00" stroke="#3a3a3a" stroke-width="1"/>
<line x1="288.50" y1="291.30" x2="297.50" y2="288.30" stroke="#3a3a3a" stroke-width="1"/>
<line x1="293.00" y1="225.80" x2="297.50" y2="225.80" stroke="#3a3a3a" stroke-width="1"/>
<text x="288.8" y="230.1" font-size="12.5" text-anchor="end" fill="#1a1a1a" stroke="#1a1a1a" stroke-width="0.28" letter-spacing="0.15">0.045</text>
<line x1="293.00" y1="234.83" x2="295.80" y2="234.83" stroke="#3a3a3a" stroke-width="1"/>
<line x1="293.00" y1="243.90" x2="297.50" y2="243.90" stroke="#3a3a3a" stroke-width="1"/>
<text x="288.8" y="248.2" font-size="12.5" text-anchor="end" fill="#1a1a1a" stroke="#1a1a1a" stroke-width="0.28" letter-spacing="0.15">0.042</text>
<line x1="293.00" y1="252.93" x2="295.80" y2="252.93" stroke="#3a3a3a" stroke-width="1"/>
<line x1="293.00" y1="261.90" x2="297.50" y2="261.90" stroke="#3a3a3a" stroke-width="1"/>
<text x="288.8" y="266.2" font-size="12.5" text-anchor="end" fill="#1a1a1a" stroke="#1a1a1a" stroke-width="0.28" letter-spacing="0.15">0.039</text>
<line x1="293.00" y1="270.93" x2="295.80" y2="270.93" stroke="#3a3a3a" stroke-width="1"/>
<line x1="293.00" y1="280.00" x2="297.50" y2="280.00" stroke="#3a3a3a" stroke-width="1"/>
<text x="288.8" y="284.3" font-size="12.5" text-anchor="end" fill="#1a1a1a" stroke="#1a1a1a" stroke-width="0.28" letter-spacing="0.15">0.036</text>
<line x1="293.00" y1="306.30" x2="297.50" y2="306.30" stroke="#3a3a3a" stroke-width="1"/>
<text x="288.8" y="310.6" font-size="12.5" text-anchor="end" fill="#1a1a1a" stroke="#1a1a1a" stroke-width="0.28" letter-spacing="0.15">0.0063</text>
<line x1="293.00" y1="295.65" x2="295.80" y2="295.65" stroke="#3a3a3a" stroke-width="1"/>
<line x1="293.00" y1="327.60" x2="297.50" y2="327.60" stroke="#3a3a3a" stroke-width="1"/>
<text x="288.8" y="331.9" font-size="12.5" text-anchor="end" fill="#1a1a1a" stroke="#1a1a1a" stroke-width="0.28" letter-spacing="0.15">0.0054</text>
<line x1="293.00" y1="316.95" x2="295.80" y2="316.95" stroke="#3a3a3a" stroke-width="1"/>
<line x1="293.00" y1="348.90" x2="297.50" y2="348.90" stroke="#3a3a3a" stroke-width="1"/>
<text x="288.8" y="353.2" font-size="12.5" text-anchor="end" fill="#1a1a1a" stroke="#1a1a1a" stroke-width="0.28" letter-spacing="0.15">0.0045</text>
<line x1="293.00" y1="338.25" x2="295.80" y2="338.25" stroke="#3a3a3a" stroke-width="1"/>
<line x1="293.00" y1="349.00" x2="444.00" y2="349.00" stroke="#3a3a3a" stroke-width="1"/>
<line x1="305.20" y1="349.00" x2="305.20" y2="344.50" stroke="#3a3a3a" stroke-width="1"/>
<text x="305.3" y="364.5" font-size="12.5" text-anchor="middle" fill="#1a1a1a" stroke="#1a1a1a" stroke-width="0.28" letter-spacing="0.15">1</text>
<line x1="330.53" y1="349.00" x2="330.53" y2="344.50" stroke="#3a3a3a" stroke-width="1"/>
<text x="330.6" y="364.5" font-size="12.5" text-anchor="middle" fill="#1a1a1a" stroke="#1a1a1a" stroke-width="0.28" letter-spacing="0.15">2</text>
<line x1="355.86" y1="349.00" x2="355.86" y2="344.50" stroke="#3a3a3a" stroke-width="1"/>
<text x="355.9" y="364.5" font-size="12.5" text-anchor="middle" fill="#1a1a1a" stroke="#1a1a1a" stroke-width="0.28" letter-spacing="0.15">3</text>
<line x1="381.19" y1="349.00" x2="381.19" y2="344.50" stroke="#3a3a3a" stroke-width="1"/>
<text x="381.3" y="364.5" font-size="12.5" text-anchor="middle" fill="#1a1a1a" stroke="#1a1a1a" stroke-width="0.28" letter-spacing="0.15">4</text>
<line x1="406.52" y1="349.00" x2="406.52" y2="344.50" stroke="#3a3a3a" stroke-width="1"/>
<text x="406.6" y="364.5" font-size="12.5" text-anchor="middle" fill="#1a1a1a" stroke="#1a1a1a" stroke-width="0.28" letter-spacing="0.15">5</text>
<line x1="431.85" y1="349.00" x2="431.85" y2="344.50" stroke="#3a3a3a" stroke-width="1"/>
<text x="431.9" y="364.5" font-size="12.5" text-anchor="middle" fill="#1a1a1a" stroke="#1a1a1a" stroke-width="0.28" letter-spacing="0.15">6</text>
<line x1="317.87" y1="349.00" x2="317.87" y2="346.20" stroke="#3a3a3a" stroke-width="1"/>
<line x1="343.19" y1="349.00" x2="343.19" y2="346.20" stroke="#3a3a3a" stroke-width="1"/>
<line x1="368.52" y1="349.00" x2="368.52" y2="346.20" stroke="#3a3a3a" stroke-width="1"/>
<line x1="393.86" y1="349.00" x2="393.86" y2="346.20" stroke="#3a3a3a" stroke-width="1"/>
<line x1="419.18" y1="349.00" x2="419.18" y2="346.20" stroke="#3a3a3a" stroke-width="1"/>
<line x1="444.51" y1="349.00" x2="444.51" y2="346.20" stroke="#3a3a3a" stroke-width="1"/>
<text x="371.8" y="384.5" font-size="12.8" text-anchor="middle" fill="#1a1a1a" stroke="#1a1a1a" stroke-width="0.28">Oligomer order</text>
<text x="229.9" y="220.3" font-size="18.5" text-anchor="start" fill="#000" font-weight="bold">d</text>
<text x="240.4" y="287.6" font-size="12.0" text-anchor="middle" fill="#1a1a1a" stroke="#1a1a1a" stroke-width="0.28" transform="rotate(-90 240.4 287.6)" textLength="112.5" lengthAdjust="spacingAndGlyphs">Mean square errors</text>
<line x1="305.20" y1="273.60" x2="310.15" y2="284.20" stroke="#f39a2b" stroke-width="1.5"/>
<line x1="312.58" y1="289.40" x2="330.53" y2="327.80" stroke="#f39a2b" stroke-width="1.5"/>
<polyline points="330.5,327.8 355.9,335.4 381.2,335.4 406.5,335.4 431.8,337.6" fill="none" stroke="#f39a2b" stroke-width="1.5"/>
<line x1="305.20" y1="231.80" x2="321.75" y2="285.00" stroke="#7b1822" stroke-width="1.5"/>
<line x1="323.50" y1="290.60" x2="330.53" y2="313.20" stroke="#7b1822" stroke-width="1.5"/>
<polyline points="330.5,313.2 355.9,313.2 381.2,313.2 406.5,313.2 431.8,313.2" fill="none" stroke="#7b1822" stroke-width="1.5"/>
<circle cx="305.2" cy="273.6" r="3.3" stroke="#f39a2b" stroke-width="1.6" fill="#fff"/>
<circle cx="330.5" cy="327.8" r="3.3" stroke="#f39a2b" stroke-width="1.6" fill="#fff"/>
<circle cx="355.9" cy="335.4" r="3.3" stroke="#f39a2b" stroke-width="1.6" fill="#fff"/>
<circle cx="381.2" cy="335.4" r="3.3" stroke="#f39a2b" stroke-width="1.6" fill="#fff"/>
<circle cx="406.5" cy="335.4" r="3.3" stroke="#f39a2b" stroke-width="1.6" fill="#fff"/>
<circle cx="431.8" cy="337.6" r="3.3" stroke="#f39a2b" stroke-width="1.6" fill="#fff"/>
<circle cx="305.2" cy="231.8" r="3.3" stroke="#7b1822" stroke-width="1.6" fill="#fff"/>
<circle cx="330.5" cy="313.2" r="3.3" stroke="#7b1822" stroke-width="1.6" fill="#fff"/>
<circle cx="355.9" cy="313.2" r="3.3" stroke="#7b1822" stroke-width="1.6" fill="#fff"/>
<circle cx="381.2" cy="313.2" r="3.3" stroke="#7b1822" stroke-width="1.6" fill="#fff"/>
<circle cx="406.5" cy="313.2" r="3.3" stroke="#7b1822" stroke-width="1.6" fill="#fff"/>
<circle cx="431.8" cy="313.2" r="3.3" stroke="#7b1822" stroke-width="1.6" fill="#fff"/>
<line x1="320.00" y1="236.30" x2="346.00" y2="236.30" stroke="#f39a2b" stroke-width="1.5"/>
<circle cx="333.0" cy="236.3" r="2.7" stroke="#f39a2b" stroke-width="1.4" fill="#fff"/>
<text x="348.6" y="239.6" font-size="9.2" text-anchor="start" fill="#1a1a1a" stroke="#1a1a1a" stroke-width="0.28">L223R/L254R/V255R</text>
<line x1="320.00" y1="249.70" x2="346.00" y2="249.70" stroke="#7b1822" stroke-width="1.5"/>
<circle cx="333.0" cy="249.7" r="2.7" stroke="#7b1822" stroke-width="1.4" fill="#fff"/>
<text x="348.6" y="253.0" font-size="9.2" text-anchor="start" fill="#1a1a1a" stroke="#1a1a1a" stroke-width="0.28">G131Y</text>
<path d="M511.7 289.4C514.0 287.1 520.6 279.8 525.5 275.8C530.4 271.8 535.8 268.6 540.9 265.6C546.0 262.6 551.2 259.9 556.4 257.8C561.6 255.7 566.8 254.5 571.9 253.2C577.0 251.9 582.6 250.9 587.3 250.1C592.0 249.3 594.5 249.0 600.0 248.4C605.5 247.8 613.3 247.1 620.0 246.6C626.7 246.1 632.5 245.9 640.0 245.6C647.5 245.3 660.8 244.8 665.0 244.7" fill="none" stroke="#1b2a98" stroke-width="1.6"/>
<path d="M511.7 312.0C514.0 310.3 520.6 305.2 525.5 301.8C530.4 298.4 535.8 295.0 540.9 291.9C546.0 288.8 551.2 286.0 556.4 283.2C561.6 280.4 566.8 277.5 571.9 274.9C577.0 272.3 582.6 269.7 587.3 267.7C592.0 265.7 595.4 264.3 600.0 262.8C604.6 261.3 610.0 259.9 615.0 258.5C620.0 257.1 624.5 255.9 630.0 254.6C635.5 253.3 642.2 251.7 648.0 250.5C653.8 249.3 662.2 248.0 665.0 247.5" fill="none" stroke="#8b1a1a" stroke-width="1.6"/>
<path d="M511.7 339.8C514.5 339.6 523.7 339.5 528.6 338.6C533.5 337.7 537.3 336.4 540.9 334.6C544.5 332.8 547.1 330.3 550.2 327.6C553.3 324.9 556.4 321.7 559.5 318.2C562.6 314.7 565.7 310.6 568.8 306.7C571.9 302.8 574.9 298.8 578.0 295.0C581.1 291.2 583.6 287.7 587.3 284.1C591.0 280.5 595.4 276.7 600.0 273.3C604.6 269.9 610.0 266.3 615.0 263.5C620.0 260.7 624.5 258.6 630.0 256.5C635.5 254.4 642.2 252.5 648.0 251.0C653.8 249.5 662.2 248.1 665.0 247.5" fill="none" stroke="#f5962a" stroke-width="1.6"/>
<line x1="523.90" y1="279.20" x2="523.90" y2="286.00" stroke="#1b2a98" stroke-width="1.3"/>
<line x1="521.60" y1="279.20" x2="526.20" y2="279.20" stroke="#1b2a98" stroke-width="1.3"/>
<line x1="521.60" y1="286.00" x2="526.20" y2="286.00" stroke="#1b2a98" stroke-width="1.3"/>
<line x1="521.50" y1="282.60" x2="526.30" y2="282.60" stroke="#1b2a98" stroke-width="1.1"/>
<circle cx="523.9" cy="282.6" r="2.65" stroke="#1b2a98" stroke-width="1.6" fill="none"/>
<line x1="547.10" y1="256.10" x2="547.10" y2="283.10" stroke="#1b2a98" stroke-width="1.3"/>
<line x1="544.80" y1="256.10" x2="549.40" y2="256.10" stroke="#1b2a98" stroke-width="1.3"/>
<line x1="544.80" y1="283.10" x2="549.40" y2="283.10" stroke="#1b2a98" stroke-width="1.3"/>
<circle cx="547.1" cy="269.6" r="2.8" stroke="#1b2a98" stroke-width="1.6" fill="#fff"/>
<line x1="557.30" y1="244.40" x2="557.30" y2="263.80" stroke="#1b2a98" stroke-width="1.3"/>
<line x1="555.00" y1="244.40" x2="559.60" y2="244.40" stroke="#1b2a98" stroke-width="1.3"/>
<line x1="555.00" y1="263.80" x2="559.60" y2="263.80" stroke="#1b2a98" stroke-width="1.3"/>
<circle cx="557.3" cy="254.1" r="2.8" stroke="#1b2a98" stroke-width="1.6" fill="#fff"/>
<line x1="565.10" y1="234.70" x2="565.10" y2="243.90" stroke="#1b2a98" stroke-width="1.3"/>
<line x1="562.80" y1="234.70" x2="567.40" y2="234.70" stroke="#1b2a98" stroke-width="1.3"/>
<line x1="562.80" y1="243.90" x2="567.40" y2="243.90" stroke="#1b2a98" stroke-width="1.3"/>
<line x1="562.70" y1="239.30" x2="567.50" y2="239.30" stroke="#1b2a98" stroke-width="1.1"/>
<circle cx="565.1" cy="239.3" r="2.65" stroke="#1b2a98" stroke-width="1.6" fill="none"/>
<line x1="572.80" y1="243.90" x2="572.80" y2="251.90" stroke="#1b2a98" stroke-width="1.3"/>
<line x1="570.50" y1="243.90" x2="575.10" y2="243.90" stroke="#1b2a98" stroke-width="1.3"/>
<line x1="570.50" y1="251.90" x2="575.10" y2="251.90" stroke="#1b2a98" stroke-width="1.3"/>
<line x1="570.40" y1="247.90" x2="575.20" y2="247.90" stroke="#1b2a98" stroke-width="1.1"/>
<circle cx="572.8" cy="247.9" r="2.65" stroke="#1b2a98" stroke-width="1.6" fill="none"/>
<line x1="581.10" y1="251.70" x2="581.10" y2="257.70" stroke="#1b2a98" stroke-width="1.3"/>
<line x1="578.80" y1="251.70" x2="583.40" y2="251.70" stroke="#1b2a98" stroke-width="1.3"/>
<line x1="578.80" y1="257.70" x2="583.40" y2="257.70" stroke="#1b2a98" stroke-width="1.3"/>
<line x1="578.70" y1="254.70" x2="583.50" y2="254.70" stroke="#1b2a98" stroke-width="1.1"/>
<circle cx="581.1" cy="254.7" r="2.65" stroke="#1b2a98" stroke-width="1.6" fill="none"/>
<line x1="588.90" y1="248.00" x2="588.90" y2="254.00" stroke="#1b2a98" stroke-width="1.3"/>
<line x1="586.60" y1="248.00" x2="591.20" y2="248.00" stroke="#1b2a98" stroke-width="1.3"/>
<line x1="586.60" y1="254.00" x2="591.20" y2="254.00" stroke="#1b2a98" stroke-width="1.3"/>
<line x1="586.50" y1="251.00" x2="591.30" y2="251.00" stroke="#1b2a98" stroke-width="1.1"/>
<circle cx="588.9" cy="251.0" r="2.65" stroke="#1b2a98" stroke-width="1.6" fill="none"/>
<line x1="597.20" y1="250.20" x2="597.20" y2="256.20" stroke="#1b2a98" stroke-width="1.3"/>
<line x1="594.90" y1="250.20" x2="599.50" y2="250.20" stroke="#1b2a98" stroke-width="1.3"/>
<line x1="594.90" y1="256.20" x2="599.50" y2="256.20" stroke="#1b2a98" stroke-width="1.3"/>
<line x1="594.80" y1="253.20" x2="599.60" y2="253.20" stroke="#1b2a98" stroke-width="1.1"/>
<circle cx="597.2" cy="253.2" r="2.65" stroke="#1b2a98" stroke-width="1.6" fill="none"/>
<line x1="606.20" y1="243.70" x2="606.20" y2="248.70" stroke="#1b2a98" stroke-width="1.3"/>
<line x1="603.90" y1="243.70" x2="608.50" y2="243.70" stroke="#1b2a98" stroke-width="1.3"/>
<line x1="603.90" y1="248.70" x2="608.50" y2="248.70" stroke="#1b2a98" stroke-width="1.3"/>
<line x1="603.80" y1="246.20" x2="608.60" y2="246.20" stroke="#1b2a98" stroke-width="1.1"/>
<circle cx="606.2" cy="246.2" r="2.65" stroke="#1b2a98" stroke-width="1.6" fill="none"/>
<line x1="614.00" y1="244.20" x2="614.00" y2="248.20" stroke="#1b2a98" stroke-width="1.3"/>
<line x1="611.70" y1="244.20" x2="616.30" y2="244.20" stroke="#1b2a98" stroke-width="1.3"/>
<line x1="611.70" y1="248.20" x2="616.30" y2="248.20" stroke="#1b2a98" stroke-width="1.3"/>
<line x1="611.60" y1="246.20" x2="616.40" y2="246.20" stroke="#1b2a98" stroke-width="1.1"/>
<circle cx="614.0" cy="246.2" r="2.65" stroke="#1b2a98" stroke-width="1.6" fill="none"/>
<line x1="622.50" y1="244.70" x2="622.50" y2="248.70" stroke="#1b2a98" stroke-width="1.3"/>
<line x1="620.20" y1="244.70" x2="624.80" y2="244.70" stroke="#1b2a98" stroke-width="1.3"/>
<line x1="620.20" y1="248.70" x2="624.80" y2="248.70" stroke="#1b2a98" stroke-width="1.3"/>
<line x1="620.10" y1="246.70" x2="624.90" y2="246.70" stroke="#1b2a98" stroke-width="1.1"/>
<circle cx="622.5" cy="246.7" r="2.65" stroke="#1b2a98" stroke-width="1.6" fill="none"/>
<line x1="630.50" y1="239.60" x2="630.50" y2="244.60" stroke="#1b2a98" stroke-width="1.3"/>
<line x1="628.20" y1="239.60" x2="632.80" y2="239.60" stroke="#1b2a98" stroke-width="1.3"/>
<line x1="628.20" y1="244.60" x2="632.80" y2="244.60" stroke="#1b2a98" stroke-width="1.3"/>
<line x1="628.10" y1="242.10" x2="632.90" y2="242.10" stroke="#1b2a98" stroke-width="1.1"/>
<circle cx="630.5" cy="242.1" r="2.65" stroke="#1b2a98" stroke-width="1.6" fill="none"/>
<line x1="639.20" y1="243.00" x2="639.20" y2="248.00" stroke="#1b2a98" stroke-width="1.3"/>
<line x1="636.90" y1="243.00" x2="641.50" y2="243.00" stroke="#1b2a98" stroke-width="1.3"/>
<line x1="636.90" y1="248.00" x2="641.50" y2="248.00" stroke="#1b2a98" stroke-width="1.3"/>
<line x1="636.80" y1="245.50" x2="641.60" y2="245.50" stroke="#1b2a98" stroke-width="1.1"/>
<circle cx="639.2" cy="245.5" r="2.65" stroke="#1b2a98" stroke-width="1.6" fill="none"/>
<line x1="648.50" y1="243.00" x2="648.50" y2="248.00" stroke="#1b2a98" stroke-width="1.3"/>
<line x1="646.20" y1="243.00" x2="650.80" y2="243.00" stroke="#1b2a98" stroke-width="1.3"/>
<line x1="646.20" y1="248.00" x2="650.80" y2="248.00" stroke="#1b2a98" stroke-width="1.3"/>
<line x1="646.10" y1="245.50" x2="650.90" y2="245.50" stroke="#1b2a98" stroke-width="1.1"/>
<circle cx="648.5" cy="245.5" r="2.65" stroke="#1b2a98" stroke-width="1.6" fill="none"/>
<line x1="511.80" y1="310.00" x2="511.80" y2="314.00" stroke="#8b1a1a" stroke-width="1.3"/>
<line x1="509.50" y1="310.00" x2="514.10" y2="310.00" stroke="#8b1a1a" stroke-width="1.3"/>
<line x1="509.50" y1="314.00" x2="514.10" y2="314.00" stroke="#8b1a1a" stroke-width="1.3"/>
<line x1="509.40" y1="312.00" x2="514.20" y2="312.00" stroke="#8b1a1a" stroke-width="1.1"/>
<circle cx="511.8" cy="312.0" r="2.65" stroke="#8b1a1a" stroke-width="1.6" fill="none"/>
<line x1="540.30" y1="278.80" x2="540.30" y2="306.80" stroke="#8b1a1a" stroke-width="1.3"/>
<line x1="538.00" y1="278.80" x2="542.60" y2="278.80" stroke="#8b1a1a" stroke-width="1.3"/>
<line x1="538.00" y1="306.80" x2="542.60" y2="306.80" stroke="#8b1a1a" stroke-width="1.3"/>
<circle cx="540.3" cy="292.8" r="2.8" stroke="#8b1a1a" stroke-width="1.6" fill="#fff"/>
<line x1="555.80" y1="266.50" x2="555.80" y2="301.70" stroke="#8b1a1a" stroke-width="1.3"/>
<line x1="553.50" y1="266.50" x2="558.10" y2="266.50" stroke="#8b1a1a" stroke-width="1.3"/>
<line x1="553.50" y1="301.70" x2="558.10" y2="301.70" stroke="#8b1a1a" stroke-width="1.3"/>
<circle cx="555.8" cy="284.1" r="2.8" stroke="#8b1a1a" stroke-width="1.6" fill="#fff"/>
<line x1="565.70" y1="274.90" x2="565.70" y2="282.90" stroke="#8b1a1a" stroke-width="1.3"/>
<line x1="563.40" y1="274.90" x2="568.00" y2="274.90" stroke="#8b1a1a" stroke-width="1.3"/>
<line x1="563.40" y1="282.90" x2="568.00" y2="282.90" stroke="#8b1a1a" stroke-width="1.3"/>
<line x1="563.30" y1="278.90" x2="568.10" y2="278.90" stroke="#8b1a1a" stroke-width="1.1"/>
<circle cx="565.7" cy="278.9" r="2.65" stroke="#8b1a1a" stroke-width="1.6" fill="none"/>
<line x1="573.40" y1="269.40" x2="573.40" y2="275.40" stroke="#8b1a1a" stroke-width="1.3"/>
<line x1="571.10" y1="269.40" x2="575.70" y2="269.40" stroke="#8b1a1a" stroke-width="1.3"/>
<line x1="571.10" y1="275.40" x2="575.70" y2="275.40" stroke="#8b1a1a" stroke-width="1.3"/>
<line x1="571.00" y1="272.40" x2="575.80" y2="272.40" stroke="#8b1a1a" stroke-width="1.1"/>
<circle cx="573.4" cy="272.4" r="2.65" stroke="#8b1a1a" stroke-width="1.6" fill="none"/>
<line x1="581.80" y1="263.50" x2="581.80" y2="269.50" stroke="#8b1a1a" stroke-width="1.3"/>
<line x1="579.50" y1="263.50" x2="584.10" y2="263.50" stroke="#8b1a1a" stroke-width="1.3"/>
<line x1="579.50" y1="269.50" x2="584.10" y2="269.50" stroke="#8b1a1a" stroke-width="1.3"/>
<line x1="579.40" y1="266.50" x2="584.20" y2="266.50" stroke="#8b1a1a" stroke-width="1.1"/>
<circle cx="581.8" cy="266.5" r="2.65" stroke="#8b1a1a" stroke-width="1.6" fill="none"/>
<line x1="589.80" y1="256.40" x2="589.80" y2="262.40" stroke="#8b1a1a" stroke-width="1.3"/>
<line x1="587.50" y1="256.40" x2="592.10" y2="256.40" stroke="#8b1a1a" stroke-width="1.3"/>
<line x1="587.50" y1="262.40" x2="592.10" y2="262.40" stroke="#8b1a1a" stroke-width="1.3"/>
<line x1="587.40" y1="259.40" x2="592.20" y2="259.40" stroke="#8b1a1a" stroke-width="1.1"/>
<circle cx="589.8" cy="259.4" r="2.65" stroke="#8b1a1a" stroke-width="1.6" fill="none"/>
<line x1="597.20" y1="259.00" x2="597.20" y2="265.00" stroke="#8b1a1a" stroke-width="1.3"/>
<line x1="594.90" y1="259.00" x2="599.50" y2="259.00" stroke="#8b1a1a" stroke-width="1.3"/>
<line x1="594.90" y1="265.00" x2="599.50" y2="265.00" stroke="#8b1a1a" stroke-width="1.3"/>
<line x1="594.80" y1="262.00" x2="599.60" y2="262.00" stroke="#8b1a1a" stroke-width="1.1"/>
<circle cx="597.2" cy="262.0" r="2.65" stroke="#8b1a1a" stroke-width="1.6" fill="none"/>
<line x1="606.20" y1="253.80" x2="606.20" y2="258.80" stroke="#8b1a1a" stroke-width="1.3"/>
<line x1="603.90" y1="253.80" x2="608.50" y2="253.80" stroke="#8b1a1a" stroke-width="1.3"/>
<line x1="603.90" y1="258.80" x2="608.50" y2="258.80" stroke="#8b1a1a" stroke-width="1.3"/>
<line x1="603.80" y1="256.30" x2="608.60" y2="256.30" stroke="#8b1a1a" stroke-width="1.1"/>
<circle cx="606.2" cy="256.3" r="2.65" stroke="#8b1a1a" stroke-width="1.6" fill="none"/>
<line x1="614.40" y1="253.80" x2="614.40" y2="258.80" stroke="#8b1a1a" stroke-width="1.3"/>
<line x1="612.10" y1="253.80" x2="616.70" y2="253.80" stroke="#8b1a1a" stroke-width="1.3"/>
<line x1="612.10" y1="258.80" x2="616.70" y2="258.80" stroke="#8b1a1a" stroke-width="1.3"/>
<line x1="612.00" y1="256.30" x2="616.80" y2="256.30" stroke="#8b1a1a" stroke-width="1.1"/>
<circle cx="614.4" cy="256.3" r="2.65" stroke="#8b1a1a" stroke-width="1.6" fill="none"/>
<line x1="622.50" y1="251.00" x2="622.50" y2="256.00" stroke="#8b1a1a" stroke-width="1.3"/>
<line x1="620.20" y1="251.00" x2="624.80" y2="251.00" stroke="#8b1a1a" stroke-width="1.3"/>
<line x1="620.20" y1="256.00" x2="624.80" y2="256.00" stroke="#8b1a1a" stroke-width="1.3"/>
<line x1="620.10" y1="253.50" x2="624.90" y2="253.50" stroke="#8b1a1a" stroke-width="1.1"/>
<circle cx="622.5" cy="253.5" r="2.65" stroke="#8b1a1a" stroke-width="1.6" fill="none"/>
<line x1="630.50" y1="248.40" x2="630.50" y2="253.40" stroke="#8b1a1a" stroke-width="1.3"/>
<line x1="628.20" y1="248.40" x2="632.80" y2="248.40" stroke="#8b1a1a" stroke-width="1.3"/>
<line x1="628.20" y1="253.40" x2="632.80" y2="253.40" stroke="#8b1a1a" stroke-width="1.3"/>
<line x1="628.10" y1="250.90" x2="632.90" y2="250.90" stroke="#8b1a1a" stroke-width="1.1"/>
<circle cx="630.5" cy="250.9" r="2.65" stroke="#8b1a1a" stroke-width="1.6" fill="none"/>
<line x1="639.20" y1="249.00" x2="639.20" y2="254.00" stroke="#8b1a1a" stroke-width="1.3"/>
<line x1="636.90" y1="249.00" x2="641.50" y2="249.00" stroke="#8b1a1a" stroke-width="1.3"/>
<line x1="636.90" y1="254.00" x2="641.50" y2="254.00" stroke="#8b1a1a" stroke-width="1.3"/>
<line x1="636.80" y1="251.50" x2="641.60" y2="251.50" stroke="#8b1a1a" stroke-width="1.1"/>
<circle cx="639.2" cy="251.5" r="2.65" stroke="#8b1a1a" stroke-width="1.6" fill="none"/>
<line x1="648.50" y1="246.70" x2="648.50" y2="251.70" stroke="#8b1a1a" stroke-width="1.3"/>
<line x1="646.20" y1="246.70" x2="650.80" y2="246.70" stroke="#8b1a1a" stroke-width="1.3"/>
<line x1="646.20" y1="251.70" x2="650.80" y2="251.70" stroke="#8b1a1a" stroke-width="1.3"/>
<line x1="646.10" y1="249.20" x2="650.90" y2="249.20" stroke="#8b1a1a" stroke-width="1.1"/>
<circle cx="648.5" cy="249.2" r="2.65" stroke="#8b1a1a" stroke-width="1.6" fill="none"/>
<line x1="523.00" y1="335.50" x2="523.00" y2="344.10" stroke="#f5962a" stroke-width="1.3"/>
<line x1="520.70" y1="335.50" x2="525.30" y2="335.50" stroke="#f5962a" stroke-width="1.3"/>
<line x1="520.70" y1="344.10" x2="525.30" y2="344.10" stroke="#f5962a" stroke-width="1.3"/>
<line x1="520.60" y1="339.80" x2="525.40" y2="339.80" stroke="#f5962a" stroke-width="1.1"/>
<circle cx="523.0" cy="339.8" r="2.65" stroke="#f5962a" stroke-width="1.6" fill="none"/>
<line x1="555.80" y1="315.80" x2="555.80" y2="337.80" stroke="#f5962a" stroke-width="1.3"/>
<line x1="553.50" y1="315.80" x2="558.10" y2="315.80" stroke="#f5962a" stroke-width="1.3"/>
<line x1="553.50" y1="337.80" x2="558.10" y2="337.80" stroke="#f5962a" stroke-width="1.3"/>
<circle cx="555.8" cy="326.8" r="2.8" stroke="#f5962a" stroke-width="1.6" fill="#fff"/>
<line x1="571.20" y1="304.70" x2="571.20" y2="327.30" stroke="#f5962a" stroke-width="1.3"/>
<line x1="568.90" y1="304.70" x2="573.50" y2="304.70" stroke="#f5962a" stroke-width="1.3"/>
<line x1="568.90" y1="327.30" x2="573.50" y2="327.30" stroke="#f5962a" stroke-width="1.3"/>
<circle cx="571.2" cy="316.0" r="2.8" stroke="#f5962a" stroke-width="1.6" fill="#fff"/>
<line x1="582.10" y1="284.30" x2="582.10" y2="291.30" stroke="#f5962a" stroke-width="1.3"/>
<line x1="579.80" y1="284.30" x2="584.40" y2="284.30" stroke="#f5962a" stroke-width="1.3"/>
<line x1="579.80" y1="291.30" x2="584.40" y2="291.30" stroke="#f5962a" stroke-width="1.3"/>
<line x1="579.70" y1="287.80" x2="584.50" y2="287.80" stroke="#f5962a" stroke-width="1.1"/>
<circle cx="582.1" cy="287.8" r="2.65" stroke="#f5962a" stroke-width="1.6" fill="none"/>
<line x1="589.50" y1="272.50" x2="589.50" y2="278.50" stroke="#f5962a" stroke-width="1.3"/>
<line x1="587.20" y1="272.50" x2="591.80" y2="272.50" stroke="#f5962a" stroke-width="1.3"/>
<line x1="587.20" y1="278.50" x2="591.80" y2="278.50" stroke="#f5962a" stroke-width="1.3"/>
<line x1="587.10" y1="275.50" x2="591.90" y2="275.50" stroke="#f5962a" stroke-width="1.1"/>
<circle cx="589.5" cy="275.5" r="2.65" stroke="#f5962a" stroke-width="1.6" fill="none"/>
<line x1="597.20" y1="270.30" x2="597.20" y2="276.30" stroke="#f5962a" stroke-width="1.3"/>
<line x1="594.90" y1="270.30" x2="599.50" y2="270.30" stroke="#f5962a" stroke-width="1.3"/>
<line x1="594.90" y1="276.30" x2="599.50" y2="276.30" stroke="#f5962a" stroke-width="1.3"/>
<line x1="594.80" y1="273.30" x2="599.60" y2="273.30" stroke="#f5962a" stroke-width="1.1"/>
<circle cx="597.2" cy="273.3" r="2.65" stroke="#f5962a" stroke-width="1.6" fill="none"/>
<line x1="606.20" y1="260.30" x2="606.20" y2="266.30" stroke="#f5962a" stroke-width="1.3"/>
<line x1="603.90" y1="260.30" x2="608.50" y2="260.30" stroke="#f5962a" stroke-width="1.3"/>
<line x1="603.90" y1="266.30" x2="608.50" y2="266.30" stroke="#f5962a" stroke-width="1.3"/>
<line x1="603.80" y1="263.30" x2="608.60" y2="263.30" stroke="#f5962a" stroke-width="1.1"/>
<circle cx="606.2" cy="263.3" r="2.65" stroke="#f5962a" stroke-width="1.6" fill="none"/>
<line x1="614.40" y1="257.20" x2="614.40" y2="263.20" stroke="#f5962a" stroke-width="1.3"/>
<line x1="612.10" y1="257.20" x2="616.70" y2="257.20" stroke="#f5962a" stroke-width="1.3"/>
<line x1="612.10" y1="263.20" x2="616.70" y2="263.20" stroke="#f5962a" stroke-width="1.3"/>
<line x1="612.00" y1="260.20" x2="616.80" y2="260.20" stroke="#f5962a" stroke-width="1.1"/>
<circle cx="614.4" cy="260.2" r="2.65" stroke="#f5962a" stroke-width="1.6" fill="none"/>
<line x1="622.50" y1="251.40" x2="622.50" y2="257.40" stroke="#f5962a" stroke-width="1.3"/>
<line x1="620.20" y1="251.40" x2="624.80" y2="251.40" stroke="#f5962a" stroke-width="1.3"/>
<line x1="620.20" y1="257.40" x2="624.80" y2="257.40" stroke="#f5962a" stroke-width="1.3"/>
<line x1="620.10" y1="254.40" x2="624.90" y2="254.40" stroke="#f5962a" stroke-width="1.1"/>
<circle cx="622.5" cy="254.4" r="2.65" stroke="#f5962a" stroke-width="1.6" fill="none"/>
<line x1="630.50" y1="250.20" x2="630.50" y2="256.20" stroke="#f5962a" stroke-width="1.3"/>
<line x1="628.20" y1="250.20" x2="632.80" y2="250.20" stroke="#f5962a" stroke-width="1.3"/>
<line x1="628.20" y1="256.20" x2="632.80" y2="256.20" stroke="#f5962a" stroke-width="1.3"/>
<line x1="628.10" y1="253.20" x2="632.90" y2="253.20" stroke="#f5962a" stroke-width="1.1"/>
<circle cx="630.5" cy="253.2" r="2.65" stroke="#f5962a" stroke-width="1.6" fill="none"/>
<line x1="639.20" y1="251.00" x2="639.20" y2="257.00" stroke="#f5962a" stroke-width="1.3"/>
<line x1="636.90" y1="251.00" x2="641.50" y2="251.00" stroke="#f5962a" stroke-width="1.3"/>
<line x1="636.90" y1="257.00" x2="641.50" y2="257.00" stroke="#f5962a" stroke-width="1.3"/>
<line x1="636.80" y1="254.00" x2="641.60" y2="254.00" stroke="#f5962a" stroke-width="1.1"/>
<circle cx="639.2" cy="254.0" r="2.65" stroke="#f5962a" stroke-width="1.6" fill="none"/>
<line x1="648.50" y1="246.80" x2="648.50" y2="252.80" stroke="#f5962a" stroke-width="1.3"/>
<line x1="646.20" y1="246.80" x2="650.80" y2="246.80" stroke="#f5962a" stroke-width="1.3"/>
<line x1="646.20" y1="252.80" x2="650.80" y2="252.80" stroke="#f5962a" stroke-width="1.3"/>
<line x1="646.10" y1="249.80" x2="650.90" y2="249.80" stroke="#f5962a" stroke-width="1.1"/>
<circle cx="648.5" cy="249.8" r="2.65" stroke="#f5962a" stroke-width="1.6" fill="none"/>
<line x1="511.70" y1="225.00" x2="511.70" y2="349.00" stroke="#3a3a3a" stroke-width="1"/>
<line x1="511.70" y1="339.90" x2="516.20" y2="339.90" stroke="#3a3a3a" stroke-width="1"/>
<text x="507.2" y="344.2" font-size="12.5" text-anchor="end" fill="#1a1a1a" stroke="#1a1a1a" stroke-width="0.28" letter-spacing="0.15">0.0</text>
<line x1="511.70" y1="325.54" x2="514.50" y2="325.54" stroke="#3a3a3a" stroke-width="1"/>
<line x1="511.70" y1="311.19" x2="516.20" y2="311.19" stroke="#3a3a3a" stroke-width="1"/>
<text x="507.2" y="315.5" font-size="12.5" text-anchor="end" fill="#1a1a1a" stroke="#1a1a1a" stroke-width="0.28" letter-spacing="0.15">0.3</text>
<line x1="511.70" y1="296.83" x2="514.50" y2="296.83" stroke="#3a3a3a" stroke-width="1"/>
<line x1="511.70" y1="282.48" x2="516.20" y2="282.48" stroke="#3a3a3a" stroke-width="1"/>
<text x="507.2" y="286.8" font-size="12.5" text-anchor="end" fill="#1a1a1a" stroke="#1a1a1a" stroke-width="0.28" letter-spacing="0.15">0.6</text>
<line x1="511.70" y1="268.12" x2="514.50" y2="268.12" stroke="#3a3a3a" stroke-width="1"/>
<line x1="511.70" y1="253.77" x2="516.20" y2="253.77" stroke="#3a3a3a" stroke-width="1"/>
<text x="507.2" y="258.1" font-size="12.5" text-anchor="end" fill="#1a1a1a" stroke="#1a1a1a" stroke-width="0.28" letter-spacing="0.15">0.9</text>
<line x1="511.70" y1="239.41" x2="514.50" y2="239.41" stroke="#3a3a3a" stroke-width="1"/>
<line x1="511.70" y1="225.06" x2="516.20" y2="225.06" stroke="#3a3a3a" stroke-width="1"/>
<text x="507.2" y="229.4" font-size="12.5" text-anchor="end" fill="#1a1a1a" stroke="#1a1a1a" stroke-width="0.28" letter-spacing="0.15">1.2</text>
<line x1="511.30" y1="349.00" x2="665.30" y2="349.00" stroke="#3a3a3a" stroke-width="1"/>
<line x1="511.30" y1="349.00" x2="511.30" y2="344.50" stroke="#3a3a3a" stroke-width="1"/>
<line x1="526.74" y1="349.00" x2="526.74" y2="346.20" stroke="#3a3a3a" stroke-width="1"/>
<line x1="535.78" y1="349.00" x2="535.78" y2="346.20" stroke="#3a3a3a" stroke-width="1"/>
<line x1="542.19" y1="349.00" x2="542.19" y2="346.20" stroke="#3a3a3a" stroke-width="1"/>
<line x1="547.16" y1="349.00" x2="547.16" y2="346.20" stroke="#3a3a3a" stroke-width="1"/>
<line x1="551.22" y1="349.00" x2="551.22" y2="346.20" stroke="#3a3a3a" stroke-width="1"/>
<line x1="554.65" y1="349.00" x2="554.65" y2="346.20" stroke="#3a3a3a" stroke-width="1"/>
<line x1="557.63" y1="349.00" x2="557.63" y2="346.20" stroke="#3a3a3a" stroke-width="1"/>
<line x1="560.25" y1="349.00" x2="560.25" y2="346.20" stroke="#3a3a3a" stroke-width="1"/>
<line x1="562.60" y1="349.00" x2="562.60" y2="344.50" stroke="#3a3a3a" stroke-width="1"/>
<line x1="578.04" y1="349.00" x2="578.04" y2="346.20" stroke="#3a3a3a" stroke-width="1"/>
<line x1="587.08" y1="349.00" x2="587.08" y2="346.20" stroke="#3a3a3a" stroke-width="1"/>
<line x1="593.49" y1="349.00" x2="593.49" y2="346.20" stroke="#3a3a3a" stroke-width="1"/>
<line x1="598.46" y1="349.00" x2="598.46" y2="346.20" stroke="#3a3a3a" stroke-width="1"/>
<line x1="602.52" y1="349.00" x2="602.52" y2="346.20" stroke="#3a3a3a" stroke-width="1"/>
<line x1="605.95" y1="349.00" x2="605.95" y2="346.20" stroke="#3a3a3a" stroke-width="1"/>
<line x1="608.93" y1="349.00" x2="608.93" y2="346.20" stroke="#3a3a3a" stroke-width="1"/>
<line x1="611.55" y1="349.00" x2="611.55" y2="346.20" stroke="#3a3a3a" stroke-width="1"/>
<line x1="613.90" y1="349.00" x2="613.90" y2="344.50" stroke="#3a3a3a" stroke-width="1"/>
<line x1="629.34" y1="349.00" x2="629.34" y2="346.20" stroke="#3a3a3a" stroke-width="1"/>
<line x1="638.38" y1="349.00" x2="638.38" y2="346.20" stroke="#3a3a3a" stroke-width="1"/>
<line x1="644.79" y1="349.00" x2="644.79" y2="346.20" stroke="#3a3a3a" stroke-width="1"/>
<line x1="649.76" y1="349.00" x2="649.76" y2="346.20" stroke="#3a3a3a" stroke-width="1"/>
<line x1="653.82" y1="349.00" x2="653.82" y2="346.20" stroke="#3a3a3a" stroke-width="1"/>
<line x1="657.25" y1="349.00" x2="657.25" y2="346.20" stroke="#3a3a3a" stroke-width="1"/>
<line x1="660.23" y1="349.00" x2="660.23" y2="346.20" stroke="#3a3a3a" stroke-width="1"/>
<line x1="662.85" y1="349.00" x2="662.85" y2="346.20" stroke="#3a3a3a" stroke-width="1"/>
<line x1="665.20" y1="349.00" x2="665.20" y2="344.50" stroke="#3a3a3a" stroke-width="1"/>
<text x="511.4" y="364.5" font-size="12.5" text-anchor="middle" fill="#1a1a1a" stroke="#1a1a1a" stroke-width="0.28" letter-spacing="0.15">10</text>
<text x="562.7" y="364.5" font-size="12.5" text-anchor="middle" fill="#1a1a1a" stroke="#1a1a1a" stroke-width="0.28" letter-spacing="0.15">100</text>
<text x="614.0" y="364.5" font-size="12.5" text-anchor="middle" fill="#1a1a1a" stroke="#1a1a1a" stroke-width="0.28" letter-spacing="0.15">1000</text>
<text x="665.3" y="364.5" font-size="12.5" text-anchor="middle" fill="#1a1a1a" stroke="#1a1a1a" stroke-width="0.28" letter-spacing="0.15">10,000</text>
<text x="539.2" y="385.0" font-size="12.8" fill="#1a1a1a" stroke="#1a1a1a" stroke-width="0.28">Receptors . μm<tspan font-size="9.5" dy="-4.3">−2</tspan></text>
<text x="478.8" y="282.8" font-size="12.0" text-anchor="middle" fill="#1a1a1a" stroke="#1a1a1a" stroke-width="0.28" transform="rotate(-90 478.8 282.8)" textLength="103" lengthAdjust="spacingAndGlyphs">Clustering fraction</text>
<text x="467.9" y="220.3" font-size="18.5" text-anchor="start" fill="#000" font-weight="bold">e</text>
<circle cx="599.3" cy="288.5" r="2.6" stroke="#1b2a98" stroke-width="1.3" fill="none"/>
<text x="605.5" y="291.9" font-size="9.2" text-anchor="start" fill="#1a1a1a" stroke="#1a1a1a" stroke-width="0.28">Wild-type</text>
<circle cx="599.3" cy="303.5" r="2.6" stroke="#8b1a1a" stroke-width="1.3" fill="none"/>
<text x="605.5" y="306.9" font-size="9.2" text-anchor="start" fill="#1a1a1a" stroke="#1a1a1a" stroke-width="0.28">G131Y</text>
<circle cx="599.3" cy="317.9" r="2.6" stroke="#f5962a" stroke-width="1.3" fill="none"/>
<text x="605.5" y="321.4" font-size="9.2" text-anchor="start" fill="#1a1a1a" stroke="#1a1a1a" stroke-width="0.28">L223R/</text>
<text x="605.5" y="332.4" font-size="9.2" text-anchor="start" fill="#1a1a1a" stroke="#1a1a1a" stroke-width="0.28">L254R/V255R</text>
</svg>
</body></html>
